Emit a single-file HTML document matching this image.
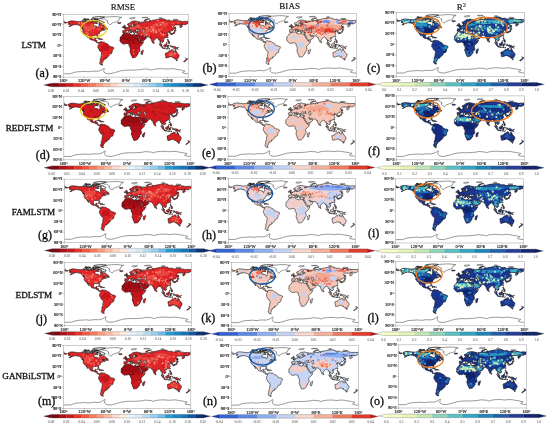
<!DOCTYPE html><html><head><meta charset="utf-8"><title>Figure</title><style>html,body{margin:0;padding:0;background:#fff;width:550px;height:428px;overflow:hidden}svg{position:absolute;left:0;top:0;display:block}text{font-family:"Liberation Serif","Times New Roman",serif;fill:#111}.ax{font-size:4.4px;fill:#111;stroke:#111;stroke-width:0.13px}.cb{font-size:3.5px;fill:#444}.tt{font-size:9.05px;stroke:#111;stroke-width:0.15px}.rl{font-size:9.1px;stroke:#111;stroke-width:0.32px}.pl{font-size:12.0px;stroke:#111;stroke-width:0.32px}</style></head><body>
<svg width="550" height="428" viewBox="0 0 550 428">
<defs><clipPath id="land"><path d="M24 49l3-6 7-3 13-3 9 1 10 1 12 2 10 1 8-1 8-1 8 1 8 1 10 1 10 1 8-1 10 1 6-1 4-2 3-4 4 2 5 3 4 1 5-2 6 0 2 4-7 1-3 2-2 3-6 2-7 5 0 4 3 4 9 1 6 2 5 1 1 5 3 2 3-1 1-5 3-4-1-4 0-4-1-4 9 0 6 3 2 4 4 1 3-2 3-2 5 6 3 4 6 3 4 4-3 1-6 3-8 0-5 0-5 3-4 3 5-3 5-1 3 0-1 2 1 4 5 0 4 0-3 2-4 1-4 2-1-2 3-2-3 1-2 0-4 2-2 1-1 2 1 1-3 1-3 1-2 1 0 1-2 2-1 1-1 3 1 3-2 2-3 1-2 2-4 2-1 3 2 4 1 4-1 3-1-1-2-2-1-3 0-2-3-2-3 1-2-2-4 0-2 1 1 2-3 0-3-1-4 0-2 1-4 2-1 4 0 4-1 3 1 3 2 3 3 2 1 1 4-1 3-1 1-2 0-2 4-1 3 0-1 4-2 2 1 4-2 1 6 0 3 0 2 2 0 5 0 3 2 3 2 1 3-1 2 0 3 2 0 1-1 2-3-3-2 2-3-1-3-1-4-3-1-2-3-4-3 0-5-2-2-1-3-3-2 0-3 1-4-2-5-1-5-3-4-4 0-2-1-3-4-4-3-3-3-3-2-2-2-4-3-1 1 3 2 3 2 4 3 5 1 2-1-1-3-3-1-3-4-3 0-1-2-3-2-4-1-1-3-3-2-1-2 0-3-4-1-3-2-2-2-3 1-3 0-4 0-4-1-5 3 1 1 2-1-4-4-2-5-2-1-3-4-4-3-2-4-4-4-3-5 0-5-2-7 0-5-2-6 2-5 2 2-4-6 5-5 2-4 3-6 2-6 1 5-2 6-3 3-3-5 0-5-3-5-1-1-2 1-3 8-3-4 0-6 0-4-2zM205 163l3-2 1-2 3-1 4-2 1 2 1-1 5 1 1 1 8 0 5 1 3 3 4 3 6 2 5 2 2 2 3 4 1 4 2 2 4 0 4 3 5 1 5 0 4 3 5 2 0 4-1 4-3 3-3 4-1 5-1 5-1 5-2 3-2 2-5 1-4 1-3 3-1 6-3 3-3 4-3 3-4 3-3 0-4-2 3 5-1 3-5 2-4 0-1 3-5 1 2 2-1 2-1 3-4 3-1 1 3 3-3 2-2 3-1 2 1 2 0 3 4 2-4 1-5-1-4-2-3-4-2-4 1-4-1-3 3-2 1-4 0-3-1-4 1-6 2-3 2-5 0-6 1-5 1-5 1-7-1-6-4-3-5-3-3-4-1-4-3-5-2-3-3-4 1-4 0-3 1-3 0-3 2-2 2-3 1-3 0-3-1-2 1-2zM348 108l-2 4-5 3-1 5-3 4-3 2-4 4-3 5-1 3 1 3 0 6-2 4 1 2 1 3 3 2 2 2 2 3 3 3 4 3 4 2 5-1 4 0 4 0 4-2 4-1 3 0 2 3 1 1 2 0 3 0 2 2 1 3-1 2 0 3 1 4 3 4 2 3 1 6 1 5-2 4-1 6 0 2 3 7 2 4 1 7 1 1 2 3 2 4 1 4 1 3 3 2 5-2 6 0 3-1 3-3 4-3 2-3 2-4 1-3 4-2 1-2 0-3-1-4 3-2 3-3 4-3 1-4 0-6-2-5 0-3-1-5 2-3 3-3 3-3 3-3 4-3 3-4 3-6 3-5 0-3-4 1-3 1-5 1-3-2 0-1-2-2-2-2-3-3-2-2-1-4-3-5 0-3-3-1-1-4-2-3-2-4-1-3 0-3-3 0-2 0-4 1-6-2-4-1-4-1-2 2 0 2-2 1-4-1-3-1-1-2-4-1-4 0-2-2 2-2 0-3-2-1-4 0-4 0-6 0-4 1-4 2-3 1-3 0-3-2-1 0zM349 108l-2-2-2 0-3 0 0-3-1-2 2-4-2-3 3-1 8 0 5 0 1-5-3-2-4-3 6 0 0-2 3 0 3-3 3-1 3-2 1-2 7 0 0-4-1-3 5-1 0 3 1 3 2 1 4 0 9-1 5-1 0-4 6 0-1-4 9-1 4-1-3-1-12 1-2-3 0-3 7-4-6-2-1 3-5 2-3 4 3 3-5 5-1 3-6 1-1-2-3-5-1-1-5 3-5-2-1-4 0-3 10-3 5-4 5-5 6-2 10-2 10-1 6 2 4 1 16 3-2 4-10 3 5 1 5-1 8-3 0-5 4 2 14-2 10 0 4-3 12 2 5 1-3-5 4-4 7 1-1 3 1 5 5-8 6 0 4-2 12-1 2-2 18-2 8-2 9-1 5 1 12 2 1 5 13 1 12-1 8 5 10-1 10-2 12 0 8 2 10 1 8 1 4 2 10 0 8-1 12 1 8 1 0 8-3 1-3 4-6 2-8 3-8-1-5 1-3 4 2 4-2 3-4 3-4 2-3 2-2-8 1-5 4-2 4-4 6-3-6 1-10 4-8 0-8 0-8 0-6 4-6 7 5 0 3 2-1 6 0 3-5 4-5 6-7 1-3 1-1 1-2 3-3 1 0 2 3 2 1 4-1 2-5 1 0-3 0-3-2 0-1-2 1-2-2-1-4 1-2 1-1-1 3-2-3-1-3 2-3 2-1 1 3 2 1 1 2-2 4 1-4 3-2 2 3 5 2 3 0 4-3 3-2 4-5 4-6 2-6 2-2 2-2-2-5 2-1 3 1 4 5 3 1 7-5 3-4 4 0-3-2-1-3-3-3-2-2-1-2 7 2 3 1 3 2 0 4 4 0 5 1 2-1 0-4-3-2-5-4-5 0-5 0-6-2-6-3 0-3 1 0-6-3-2-2-3-3-2-4 2-3 1-4 3-5 6-5 6 0 6-5 5-3-4-2-6-4-8 0-4-1-5-5 1-2-3-1-2-2-1-2-3-5 0-5 1-8-2-2-2-5 0-5-2-3-4-4 0 1 3 3 4 3 1 0 4 5 0 4-4 1 3 4 2 3 2-3 4-3 3-4 4-6 3-6 2-8 3-3 1-1-4-1-4-3-6-4-4-1-5-3-4-4-4 0-3-1 3-4-4 0-2 4-1 1-3 2-4 0-2-3-2-4 2-4-1-5 0-1-2-2-2-1-2 0-2-4-1-3 1 1 3 2 2-2 3-3-1-1-3-2-2-1-5-2-1-5-2-3-3-2-1-2 0 0 3 3 3 4 2 5 3-3 2-1 2-2 0 1-4-4-2-4-1-3-3-3-3-4 2-5 0-3 1 0 2-4 2-3 3 1 2-2 2-2 2-5 0-2 1zM0 42l6 1 6 3 6 1 3 1-3 1-4 2-6-1-5-1-3 1zM312 49l4-2 8 1 6-1 3 3-2 1-5 1-4 1-7-1 1-1zM241 85l2-3 2-3 4-2-1 3 5 1 2 4-3 2-4-1-3-1zM113 83l-4-1-6-3 3-1 5 3zM190 136l6-2 4 0 5 2 7 4-7 0-3-3-4-1-6 0zM211 143l3-3 8 1 1 2-5 1-7 0zM203 143l5 1-2 1zM225 143l4 0-1 1-2 0zM349 80l5-1 9-1 0-3-3-2-3-2 0-2-1-4-3-2-3 0-2 4 1 2 5 1-1 2 1 1-3 0 1 3-2 1 4 0zM348 76l0-4 1-1-4-2-2 2-3 1 1 2-2 2 5 1zM385 104l2 0 4-1-1 4-1-1zM377 102l-1-4 2 0 2 1-1 3zM377 97l0-2 2-1 0 2zM407 109l6 0-1 1-4 0zM425 110l1-1 3 0-1 1-2 1zM644 87l-1-4 1-6 1-5 2 1-1 5 3 4-3 3-1 2zM640 97l0-4 3-4 3 2 5 2-4 3-5-1zM622 112l3-3 6 0 3-4 5-2 1-3 1-3 2 2 1 3-2 2 0 4-2 2-2 1-4 0-4 2-6-1zM619 113l3-1 2 3-2 3-2-1-1-3zM625 112l4 0 0 1-3 1zM600 134l3-4 1 1-2 5-2-1zM577 142l4-2 1 1-3 3zM520 164l1-4 3 5-1 3-3 0zM600 143l4 0 0 5 4 5-5-1-2-1-1-3zM604 165l4-2 5-2-1 6-1 2-3-2-4-1zM604 156l7-1 0 5-4 1-2-1-1-3zM594 163l5-6 0 2-4 5zM551 169l4 1 6 6 6 3 2 5 3 2 0 6-3 0-4-4-3-4-4-4-1-4-4-4zM571 194l1-2 5 1 5 0 3 1 4 2 0 1-7-1-6 0-5-2zM578 177l1 5 1 4 3 0 6 2 4-1 0-3 2-6 3 0-2-2 2-7-2-1-2-2-3 4-3 1-2 3-3 1-4 1zM599 191l2 0 0-5 2 3 3 1 0-2-3-4 3-2 1 0-5 1-1-2 0-2 1-1 8-1 0 1-3 1-6 1-1 0-2 5zM622 182l3-1 3 1 3 5 5-4 6 2 7 3 3 3 3 1 1 4 4 4 2 1-6-1-3-2-5-3-1 3-5 0-4-2-2 1-1-5-5-3-3-1-1 0-2-2 3-1-4-2zM657 191l4-1 3-2-1 3-3 1zM615 176l2 2-1 4-1-3zM616 186l6 1-2-1zM608 201l2-3 5-1-2 1-4 2zM592 197l6 0 7-1 1 1-8 1-6 0zM587 224l1 9 2 7 0 7 2 3 4 0 7-2 5-2 4-1 6-2 4 0 6 2 3 5 4-4 0 5 2 0 2 2 2 3 6 2 6 0 3-2 4-1 1-4 2-4 3-5 1-5-1-6-4-4-3-2-5-7-3-6 0-2-4-2-1-6-1-1-2 5 0 6-2 3-3-1-4-2-3-2 2-5 1-1-3 0-5-1-2-1-2 2-2 2-1 4-3 0-3-2-3 2-3 3-3 3-1 3-5 2-5 0-4 3zM649 261l8 1-1 4-2 1-3-2-2-3zM705 249l4 4 3 2 5 0-3 4-1 2-3 2-1-3-1-2 1-2-3-6zM705 261l3 2-1 3-5 3-4 4-5-1 3-4 7-4zM459 204l2 5 0 2-2 4-2 7-2 8-5 1-2-4-1-4 2-5-1-5 4-2 2-2 2-2zM464 37l4-4 5-3 7-2 8-2 9 0-5 2-10 3-6 3-3 3 2 2-5 0zM186 50l8 0 3 3-9 0z"/></clipPath></defs>
<clipPath id="fp00"><rect x="63.4" y="14.3" width="124.9" height="62.8"/></clipPath>
<g clip-path="url(#fp00)"><g transform="translate(63.4 14.30) scale(0.173472 0.174444)">
<rect width="720" height="360" fill="#e02528" clip-path="url(#land)"/>
<g clip-path="url(#land)">
<path d="M376 204l0-34 24 2 44-2 4 34z" fill="#c0141c"/>
<path d="M380 252l0-48 68 0 0 48z" fill="#cc1a20"/>
<path d="M324 164l0-16 36 4 30 2 30-2 16-4 12 8-4 14-44 2-40-4z" fill="#b0101a"/>
<path d="M326 148l0-22 16-10 18-6 20 2 20 6 24 0 6 18 6 12-16 4-30 2-30-2z" fill="#9c0c14"/>
<path d="M428 120l28-2 18 10 6 8-16 14-18 6-10-16z" fill="#a80e16"/>
<path d="M271 192l-6-12-12-9-17-5-9 15-16 1 6 10-13 13 17 5 15-3 18 7 7-12z" fill="#c8141e"/>
<path d="M541 84l-20-8-12-8-29 6-19 0-13 4-6 6 6 6 4 10 28 5 17-12 36 1z" fill="#e84440"/>
<path d="M450 70l-13-5-6-4-11-4-19-3 2 11-5 5-1 6 4 9 19 0 19 0 7-8z" fill="#e84440"/>
<path d="M603 60l3-7-19-6-27-4-26 4-6 8-13 5-12 9 35 2 22-1 30 5 5-9z" fill="#e84440"/>
<path d="M188 80l-6-10-17-8-25 5-15 3-12 4-8 6 4 7 17 3 14 11 16-10 14-4z" fill="#e84440"/>
<path d="M649 230l3-9-17 0-9-7-13 3-3 8-5 5-5 9 17 0 9 8 13-4 3-8z" fill="#e84440"/>
<path d="M579 101h0M653 67h0M567 109h0M567 82h0M591 138h0M470 104h0M491 74h0M448 117h0M465 110h0" stroke="#f8a090" stroke-width="6.0" stroke-linecap="round"/>
<path d="M482 78h0M603 24h0M685 20h0M710 68h0M402 80h0M496 85h0M535 97h0M374 100h0M406 64h0M471 106h0M519 105h0M633 53h0M562 107h0M533 28h0M452 116h0M350 43h0M390 58h0M483 116h0M483 100h0M565 103h0M480 80h0M519 74h0M477 118h0M432 64h0M548 88h0" stroke="#f47a6a" stroke-width="9.0" stroke-linecap="round"/>
<path d="M490 99h0M350 48h0M493 124h0M608 105h0M495 112h0M605 115h0M533 95h0M622 44h0M642 76h0M382 57h0M382 59h0M452 121h0M580 99h0M594 135h0M361 81h0M585 118h0M411 50h0M515 98h0M484 102h0M343 64h0M454 107h0M480 95h0M524 74h0M466 92h0M565 135h0" stroke="#ee5448" stroke-width="9.0" stroke-linecap="round"/>
<path d="M594 119h0M554 89h0M490 98h0M519 102h0M413 80h0M476 77h0M651 90h0M443 37h0M568 123h0M587 86h0M512 79h0M681 85h0M381 57h0" stroke="#f47a6a" stroke-width="6.0" stroke-linecap="round"/>
<path d="M611 23h0M571 110h0M563 110h0M535 103h0M573 111h0M603 109h0M681 28h0M516 86h0M505 99h0M537 60h0M498 126h0M379 107h0" stroke="#f47a6a" stroke-width="12.0" stroke-linecap="round"/>
<path d="M519 93h0M428 43h0M536 100h0M415 108h0M632 70h0M646 24h0M576 117h0M601 101h0M573 48h0M544 33h0" stroke="#f8a090" stroke-width="12.0" stroke-linecap="round"/>
<path d="M536 105h0M562 58h0M389 78h0M481 114h0M508 74h0M557 98h0M581 24h0M466 122h0" stroke="#f8a090" stroke-width="9.0" stroke-linecap="round"/>
<path d="M456 81h0M468 106h0M570 139h0M378 37h0M709 85h0M572 98h0M402 58h0M523 83h0M431 88h0M501 69h0M541 20h0M514 72h0M450 98h0M457 113h0M523 59h0M552 98h0M434 105h0M570 95h0M461 118h0M402 98h0M538 100h0M571 118h0" stroke="#ee5448" stroke-width="6.0" stroke-linecap="round"/>
<path d="M662 47h0M595 53h0M423 71h0M563 89h0M483 86h0M514 74h0" stroke="#ee5448" stroke-width="12.0" stroke-linecap="round"/>
<path d="M571 54h0M680 66h0M512 165h0M539 156h0M689 71h0M381 88h0M413 71h0" stroke="#c8141e" stroke-width="6.0" stroke-linecap="round"/>
<path d="M582 105h0M504 136h0M496 78h0M459 81h0M583 110h0M540 166h0M470 86h0M437 37h0M491 164h0M566 135h0M533 147h0M496 164h0M483 62h0" stroke="#bc1219" stroke-width="9.0" stroke-linecap="round"/>
<path d="M571 103h0M416 95h0M597 123h0M571 106h0" stroke="#bc1219" stroke-width="12.0" stroke-linecap="round"/>
<path d="M542 141h0M712 60h0M504 127h0M535 162h0" stroke="#c8141e" stroke-width="12.0" stroke-linecap="round"/>
<path d="M657 69h0M616 62h0M456 63h0M537 166h0M536 128h0M602 116h0M405 62h0M345 76h0M435 92h0" stroke="#bc1219" stroke-width="6.0" stroke-linecap="round"/>
<path d="M594 125h0M563 98h0M514 135h0M498 158h0M425 83h0M501 124h0" stroke="#c8141e" stroke-width="9.0" stroke-linecap="round"/>
<path d="M233 71h0M155 79h0M114 82h0M135 103h0M211 84h0M110 52h0M117 90h0M204 87h0M113 73h0M146 113h0M245 84h0M108 86h0M172 111h0M115 119h0M209 92h0M175 96h0M169 84h0" stroke="#f47a6a" stroke-width="6.0" stroke-linecap="round"/>
<path d="M224 97h0M150 42h0M220 69h0M123 69h0M147 92h0M108 86h0M238 86h0M103 37h0M166 61h0M104 54h0M118 37h0M105 47h0M210 104h0M204 119h0M219 44h0M209 73h0M130 103h0M212 121h0M133 86h0M135 113h0M136 115h0M112 84h0" stroke="#f47a6a" stroke-width="9.0" stroke-linecap="round"/>
<path d="M131 72h0M205 68h0M216 125h0M104 85h0M243 82h0M124 60h0M159 101h0M159 62h0M94 64h0M219 78h0" stroke="#ee5448" stroke-width="9.0" stroke-linecap="round"/>
<path d="M129 89h0M174 42h0M205 114h0M114 31h0M237 75h0M178 123h0M142 103h0" stroke="#ee5448" stroke-width="6.0" stroke-linecap="round"/>
<path d="M179 72h0M250 73h0M87 65h0M91 49h0M140 114h0M84 70h0" stroke="#f47a6a" stroke-width="12.0" stroke-linecap="round"/>
<path d="M198 84h0M131 77h0M170 80h0" stroke="#ee5448" stroke-width="12.0" stroke-linecap="round"/>
<path d="M404 206h0M419 244h0M223 237h0M436 206h0M619 234h0M642 224h0M623 230h0M214 288h0M630 209h0M287 215h0M664 229h0" stroke="#f47a6a" stroke-width="9.0" stroke-linecap="round"/>
<path d="M389 240h0M286 187h0M266 230h0M667 202h0M633 261h0M631 256h0M218 249h0" stroke="#ee5448" stroke-width="6.0" stroke-linecap="round"/>
<path d="M404 249h0M612 222h0M217 280h0M405 224h0M618 246h0" stroke="#ee5448" stroke-width="9.0" stroke-linecap="round"/>
<path d="M240 275h0M282 222h0M405 228h0M590 227h0M240 291h0M214 286h0M616 231h0" stroke="#f47a6a" stroke-width="6.0" stroke-linecap="round"/>
<path d="M641 226h0" stroke="#f47a6a" stroke-width="12.0" stroke-linecap="round"/>
<path d="M439 216h0" stroke="#ee5448" stroke-width="12.0" stroke-linecap="round"/>
<path d="M394 153h0M419 169h0" stroke="#a50f15" stroke-width="6.0" stroke-linecap="round"/>
<path d="M375 153h0M372 142h0M428 168h0M333 146h0M407 122h0M408 159h0M401 128h0" stroke="#a50f15" stroke-width="9.0" stroke-linecap="round"/>
<path d="M380 156h0M431 148h0M336 114h0" stroke="#7c0810" stroke-width="9.0" stroke-linecap="round"/>
<path d="M421 127h0M385 117h0" stroke="#a50f15" stroke-width="12.0" stroke-linecap="round"/>
<path d="M401 162h0M447 162h0M364 143h0" stroke="#7c0810" stroke-width="12.0" stroke-linecap="round"/>
<path d="M336 116h0M354 142h0M431 156h0" stroke="#7c0810" stroke-width="6.0" stroke-linecap="round"/>
</g>
<path d="M214 24l6-3 8-3 12-2 16-1 14-1 14-1 20 0 12 2 8 1 12 1-6 3-8 2 1 3-3 3 2 3-6 4 0 4-5 2-5 2-8 1-8 4-7 1-4 2-3 4-2 4-3 1-5-2-4-2-3-3-2-3-4-3-1-3 5-2-3-3 2-1-5-1-2-3-3-3-4-3-8 0-8 0-4-2-5-1zM382 23l3-2 7-1 8-1 14 1-8 3-6 2-7 2-6-3zM454 19l10-2 16 0 8 1-12 2-16 0zM550 22l4-3 6-1 9 3-5 2-8 1zM632 29l6-1 4 0 10 1 9 1-9 1-10 2-6-1zM717 38l3-1 0 1zM0 37l5 1-5 0z" fill="#fff" stroke="#333" stroke-width="0.5" vector-effect="non-scaling-stroke"/>
<path d="M200 32l8 3 10 3 7 3 2 2 9 3-3 4-4 5-5 0-7-2-6-2-6 0-2-2 9-4-10-4-6-1-8 0-6-2-1-4 7-1 6 0zM123 37l7-4 14 0 7 1 7 5-8 3-10 1-8-1-7-1-3-3zM109 36l3-4 9 0 8 1-7 4-9 1zM201 27l9-2 3-2 7-1 10-3 7-3-17-2-20 0-20 2-10 2-4 3 8 2 8 2 8 2zM176 29l8-2 16 1-1 2-9 1-14-1zM170 33l9-1-2 4-7 0zM158 33l8 0 0 3-9 0zM128 30l8-3 12 1 0 2-8 1-14 0zM160 27l8 0 2 3-10 0zM162 42l6-1 0 2-6 0zM116 27l12-2-2 3z" fill="#fff" stroke="#1a1a1a" stroke-width="0.8" vector-effect="non-scaling-stroke"/>
<path d="M416 97l0-4 3-3 3-3 3 1 2 3 4-1 2-1 4-3 2 0-3 2-1 2 4 3 4 4-3 1-7-1-3-1-4 0-4 2-4 0zM454 92l1-3 4-2 4-1 3 0 0 3-3 2 0 3 2 2 1 3 2 2 0 4-6 2-4-2 1-6-2-3-2-2z" fill="#fff" stroke="#1a1a1a" stroke-width="0.6" vector-effect="non-scaling-stroke"/>
<path d="M24 49l3-6 7-3 13-3 9 1 10 1 12 2 10 1 8-1 8-1 8 1 8 1 10 1 10 1 8-1 10 1 6-1 4-2 3-4 4 2 5 3 4 1 5-2 6 0 2 4-7 1-3 2-2 3-6 2-7 5 0 4 3 4 9 1 6 2 5 1 1 5 3 2 3-1 1-5 3-4-1-4 0-4-1-4 9 0 6 3 2 4 4 1 3-2 3-2 5 6 3 4 6 3 4 4-3 1-6 3-8 0-5 0-5 3-4 3 5-3 5-1 3 0-1 2 1 4 5 0 4 0-3 2-4 1-4 2-1-2 3-2-3 1-2 0-4 2-2 1-1 2 1 1-3 1-3 1-2 1 0 1-2 2-1 1-1 3 1 3-2 2-3 1-2 2-4 2-1 3 2 4 1 4-1 3-1-1-2-2-1-3 0-2-3-2-3 1-2-2-4 0-2 1 1 2-3 0-3-1-4 0-2 1-4 2-1 4 0 4-1 3 1 3 2 3 3 2 1 1 4-1 3-1 1-2 0-2 4-1 3 0-1 4-2 2 1 4-2 1 6 0 3 0 2 2 0 5 0 3 2 3 2 1 3-1 2 0 3 2 0 1-1 2-3-3-2 2-3-1-3-1-4-3-1-2-3-4-3 0-5-2-2-1-3-3-2 0-3 1-4-2-5-1-5-3-4-4 0-2-1-3-4-4-3-3-3-3-2-2-2-4-3-1 1 3 2 3 2 4 3 5 1 2-1-1-3-3-1-3-4-3 0-1-2-3-2-4-1-1-3-3-2-1-2 0-3-4-1-3-2-2-2-3 1-3 0-4 0-4-1-5 3 1 1 2-1-4-4-2-5-2-1-3-4-4-3-2-4-4-4-3-5 0-5-2-7 0-5-2-6 2-5 2 2-4-6 5-5 2-4 3-6 2-6 1 5-2 6-3 3-3-5 0-5-3-5-1-1-2 1-3 8-3-4 0-6 0-4-2zM205 163l3-2 1-2 3-1 4-2 1 2 1-1 5 1 1 1 8 0 5 1 3 3 4 3 6 2 5 2 2 2 3 4 1 4 2 2 4 0 4 3 5 1 5 0 4 3 5 2 0 4-1 4-3 3-3 4-1 5-1 5-1 5-2 3-2 2-5 1-4 1-3 3-1 6-3 3-3 4-3 3-4 3-3 0-4-2 3 5-1 3-5 2-4 0-1 3-5 1 2 2-1 2-1 3-4 3-1 1 3 3-3 2-2 3-1 2 1 2 0 3 4 2-4 1-5-1-4-2-3-4-2-4 1-4-1-3 3-2 1-4 0-3-1-4 1-6 2-3 2-5 0-6 1-5 1-5 1-7-1-6-4-3-5-3-3-4-1-4-3-5-2-3-3-4 1-4 0-3 1-3 0-3 2-2 2-3 1-3 0-3-1-2 1-2zM348 108l-2 4-5 3-1 5-3 4-3 2-4 4-3 5-1 3 1 3 0 6-2 4 1 2 1 3 3 2 2 2 2 3 3 3 4 3 4 2 5-1 4 0 4 0 4-2 4-1 3 0 2 3 1 1 2 0 3 0 2 2 1 3-1 2 0 3 1 4 3 4 2 3 1 6 1 5-2 4-1 6 0 2 3 7 2 4 1 7 1 1 2 3 2 4 1 4 1 3 3 2 5-2 6 0 3-1 3-3 4-3 2-3 2-4 1-3 4-2 1-2 0-3-1-4 3-2 3-3 4-3 1-4 0-6-2-5 0-3-1-5 2-3 3-3 3-3 3-3 4-3 3-4 3-6 3-5 0-3-4 1-3 1-5 1-3-2 0-1-2-2-2-2-3-3-2-2-1-4-3-5 0-3-3-1-1-4-2-3-2-4-1-3 0-3-3 0-2 0-4 1-6-2-4-1-4-1-2 2 0 2-2 1-4-1-3-1-1-2-4-1-4 0-2-2 2-2 0-3-2-1-4 0-4 0-6 0-4 1-4 2-3 1-3 0-3-2-1 0zM349 108l-2-2-2 0-3 0 0-3-1-2 2-4-2-3 3-1 8 0 5 0 1-5-3-2-4-3 6 0 0-2 3 0 3-3 3-1 3-2 1-2 7 0 0-4-1-3 5-1 0 3 1 3 2 1 4 0 9-1 5-1 0-4 6 0-1-4 9-1 4-1-3-1-12 1-2-3 0-3 7-4-6-2-1 3-5 2-3 4 3 3-5 5-1 3-6 1-1-2-3-5-1-1-5 3-5-2-1-4 0-3 10-3 5-4 5-5 6-2 10-2 10-1 6 2 4 1 16 3-2 4-10 3 5 1 5-1 8-3 0-5 4 2 14-2 10 0 4-3 12 2 5 1-3-5 4-4 7 1-1 3 1 5 5-8 6 0 4-2 12-1 2-2 18-2 8-2 9-1 5 1 12 2 1 5 13 1 12-1 8 5 10-1 10-2 12 0 8 2 10 1 8 1 4 2 10 0 8-1 12 1 8 1 0 8-3 1-3 4-6 2-8 3-8-1-5 1-3 4 2 4-2 3-4 3-4 2-3 2-2-8 1-5 4-2 4-4 6-3-6 1-10 4-8 0-8 0-8 0-6 4-6 7 5 0 3 2-1 6 0 3-5 4-5 6-7 1-3 1-1 1-2 3-3 1 0 2 3 2 1 4-1 2-5 1 0-3 0-3-2 0-1-2 1-2-2-1-4 1-2 1-1-1 3-2-3-1-3 2-3 2-1 1 3 2 1 1 2-2 4 1-4 3-2 2 3 5 2 3 0 4-3 3-2 4-5 4-6 2-6 2-2 2-2-2-5 2-1 3 1 4 5 3 1 7-5 3-4 4 0-3-2-1-3-3-3-2-2-1-2 7 2 3 1 3 2 0 4 4 0 5 1 2-1 0-4-3-2-5-4-5 0-5 0-6-2-6-3 0-3 1 0-6-3-2-2-3-3-2-4 2-3 1-4 3-5 6-5 6 0 6-5 5-3-4-2-6-4-8 0-4-1-5-5 1-2-3-1-2-2-1-2-3-5 0-5 1-8-2-2-2-5 0-5-2-3-4-4 0 1 3 3 4 3 1 0 4 5 0 4-4 1 3 4 2 3 2-3 4-3 3-4 4-6 3-6 2-8 3-3 1-1-4-1-4-3-6-4-4-1-5-3-4-4-4 0-3-1 3-4-4 0-2 4-1 1-3 2-4 0-2-3-2-4 2-4-1-5 0-1-2-2-2-1-2 0-2-4-1-3 1 1 3 2 2-2 3-3-1-1-3-2-2-1-5-2-1-5-2-3-3-2-1-2 0 0 3 3 3 4 2 5 3-3 2-1 2-2 0 1-4-4-2-4-1-3-3-3-3-4 2-5 0-3 1 0 2-4 2-3 3 1 2-2 2-2 2-5 0-2 1zM0 42l6 1 6 3 6 1 3 1-3 1-4 2-6-1-5-1-3 1zM312 49l4-2 8 1 6-1 3 3-2 1-5 1-4 1-7-1 1-1zM241 85l2-3 2-3 4-2-1 3 5 1 2 4-3 2-4-1-3-1zM113 83l-4-1-6-3 3-1 5 3zM190 136l6-2 4 0 5 2 7 4-7 0-3-3-4-1-6 0zM211 143l3-3 8 1 1 2-5 1-7 0zM203 143l5 1-2 1zM225 143l4 0-1 1-2 0zM349 80l5-1 9-1 0-3-3-2-3-2 0-2-1-4-3-2-3 0-2 4 1 2 5 1-1 2 1 1-3 0 1 3-2 1 4 0zM348 76l0-4 1-1-4-2-2 2-3 1 1 2-2 2 5 1zM385 104l2 0 4-1-1 4-1-1zM377 102l-1-4 2 0 2 1-1 3zM377 97l0-2 2-1 0 2zM407 109l6 0-1 1-4 0zM425 110l1-1 3 0-1 1-2 1zM644 87l-1-4 1-6 1-5 2 1-1 5 3 4-3 3-1 2zM640 97l0-4 3-4 3 2 5 2-4 3-5-1zM622 112l3-3 6 0 3-4 5-2 1-3 1-3 2 2 1 3-2 2 0 4-2 2-2 1-4 0-4 2-6-1zM619 113l3-1 2 3-2 3-2-1-1-3zM625 112l4 0 0 1-3 1zM600 134l3-4 1 1-2 5-2-1zM577 142l4-2 1 1-3 3zM520 164l1-4 3 5-1 3-3 0zM600 143l4 0 0 5 4 5-5-1-2-1-1-3zM604 165l4-2 5-2-1 6-1 2-3-2-4-1zM604 156l7-1 0 5-4 1-2-1-1-3zM594 163l5-6 0 2-4 5zM551 169l4 1 6 6 6 3 2 5 3 2 0 6-3 0-4-4-3-4-4-4-1-4-4-4zM571 194l1-2 5 1 5 0 3 1 4 2 0 1-7-1-6 0-5-2zM578 177l1 5 1 4 3 0 6 2 4-1 0-3 2-6 3 0-2-2 2-7-2-1-2-2-3 4-3 1-2 3-3 1-4 1zM599 191l2 0 0-5 2 3 3 1 0-2-3-4 3-2 1 0-5 1-1-2 0-2 1-1 8-1 0 1-3 1-6 1-1 0-2 5zM622 182l3-1 3 1 3 5 5-4 6 2 7 3 3 3 3 1 1 4 4 4 2 1-6-1-3-2-5-3-1 3-5 0-4-2-2 1-1-5-5-3-3-1-1 0-2-2 3-1-4-2zM657 191l4-1 3-2-1 3-3 1zM615 176l2 2-1 4-1-3zM616 186l6 1-2-1zM608 201l2-3 5-1-2 1-4 2zM592 197l6 0 7-1 1 1-8 1-6 0zM587 224l1 9 2 7 0 7 2 3 4 0 7-2 5-2 4-1 6-2 4 0 6 2 3 5 4-4 0 5 2 0 2 2 2 3 6 2 6 0 3-2 4-1 1-4 2-4 3-5 1-5-1-6-4-4-3-2-5-7-3-6 0-2-4-2-1-6-1-1-2 5 0 6-2 3-3-1-4-2-3-2 2-5 1-1-3 0-5-1-2-1-2 2-2 2-1 4-3 0-3-2-3 2-3 3-3 3-1 3-5 2-5 0-4 3zM649 261l8 1-1 4-2 1-3-2-2-3zM705 249l4 4 3 2 5 0-3 4-1 2-3 2-1-3-1-2 1-2-3-6zM705 261l3 2-1 3-5 3-4 4-5-1 3-4 7-4zM459 204l2 5 0 2-2 4-2 7-2 8-5 1-2-4-1-4 2-5-1-5 4-2 2-2 2-2zM464 37l4-4 5-3 7-2 8-2 9 0-5 2-10 3-6 3-3 3 2 2-5 0zM186 50l8 0 3 3-9 0z" fill="none" stroke="#1a1a1a" stroke-width="0.6" vector-effect="non-scaling-stroke"/>
<path d="M0 341l20 0 20 0 10-4 10-3 10-3 10-1 10-1 10 0 10-1 10-1 10 1 10 1 10 0 10-2 10-1 10 0 10 1 10-1 8-2 8-3 8-5 6-4 5-3 2 3-3 5-2 6 2 7 6 7 10 3 20 1 14-4 10-2 10-3 8-3 12-3 12-3 12-1 12-2 12 0 12 0 12 0 12 0 12-1 10-1 10 0 10-2 10-2 10-1 10 2 10 0 10 2 4 3 8-1 8-3 10-2 10-1 10-1 10 0 10 0 10 0 10 2 10 0 10-1 10-1 10 0 10 1 10 2 10 2 10 1 10 2 8 2 6 1 6 1-2 3-6 3-4 2-1 3 5 2 8 2 10 1 10 1" fill="none" stroke="#444" stroke-width="0.55" vector-effect="non-scaling-stroke"/>
</g></g>
<rect x="63.4" y="14.3" width="124.9" height="62.8" fill="none" stroke="#ababab" stroke-width="0.6"/>
<ellipse cx="93.55" cy="28.9" rx="12.80" ry="8.45" fill="none" stroke="#f2c91c" stroke-width="1.2"/>
<text x="61.5" y="15.5" class="ax" text-anchor="end">90°N</text>
<text x="61.5" y="26.0" class="ax" text-anchor="end">60°N</text>
<text x="61.5" y="36.4" class="ax" text-anchor="end">30°N</text>
<text x="61.5" y="46.9" class="ax" text-anchor="end">0°</text>
<text x="61.5" y="57.4" class="ax" text-anchor="end">30°S</text>
<text x="61.5" y="67.8" class="ax" text-anchor="end">60°S</text>
<text x="61.5" y="78.3" class="ax" text-anchor="end">90°S</text>
<path d="M62.1 14.30h1.3M62.1 24.77h1.3M62.1 35.23h1.3M62.1 45.70h1.3M62.1 56.17h1.3M62.1 66.63h1.3M62.1 77.10h1.3M63.40 77.1v1.2M84.22 77.1v1.2M105.03 77.1v1.2M125.85 77.1v1.2M146.67 77.1v1.2M167.48 77.1v1.2M188.30 77.1v1.2" stroke="#666" stroke-width="0.4" fill="none"/>
<text x="63.4" y="82.2" class="ax" text-anchor="middle">180°</text>
<text x="84.2" y="82.2" class="ax" text-anchor="middle">120°W</text>
<text x="105.0" y="82.2" class="ax" text-anchor="middle">60°W</text>
<text x="125.9" y="82.2" class="ax" text-anchor="middle">0°W</text>
<text x="146.7" y="82.2" class="ax" text-anchor="middle">60°E</text>
<text x="167.5" y="82.2" class="ax" text-anchor="middle">120°E</text>
<text x="188.3" y="82.2" class="ax" text-anchor="middle">180°</text>
<rect x="51.20" y="83.20" width="7.72" height="3.6" fill="#7e0610"/>
<rect x="58.67" y="83.20" width="7.72" height="3.6" fill="#ac1117"/>
<rect x="66.13" y="83.20" width="7.72" height="3.6" fill="#ca181d"/>
<rect x="73.59" y="83.20" width="7.72" height="3.6" fill="#e83429"/>
<rect x="81.06" y="83.20" width="7.72" height="3.6" fill="#f6583e"/>
<rect x="88.53" y="83.20" width="7.72" height="3.6" fill="#fb7a5a"/>
<rect x="95.99" y="83.20" width="7.72" height="3.6" fill="#fc9b7c"/>
<rect x="103.46" y="83.20" width="7.72" height="3.6" fill="#fcbba1"/>
<rect x="110.92" y="83.20" width="7.72" height="3.6" fill="#fed9c9"/>
<rect x="118.39" y="83.20" width="7.72" height="3.6" fill="#ffede5"/>
<rect x="125.85" y="83.20" width="7.72" height="3.6" fill="#eaf4fa"/>
<rect x="133.31" y="83.20" width="7.72" height="3.6" fill="#d8ecf6"/>
<rect x="140.78" y="83.20" width="7.72" height="3.6" fill="#b8def2"/>
<rect x="148.25" y="83.20" width="7.72" height="3.6" fill="#98d0ee"/>
<rect x="155.71" y="83.20" width="7.72" height="3.6" fill="#70bce6"/>
<rect x="163.18" y="83.20" width="7.72" height="3.6" fill="#249cd4"/>
<rect x="170.64" y="83.20" width="7.72" height="3.6" fill="#1a88c6"/>
<rect x="178.11" y="83.20" width="7.72" height="3.6" fill="#1476ba"/>
<rect x="185.57" y="83.20" width="7.72" height="3.6" fill="#0c58a2"/>
<rect x="193.04" y="83.20" width="7.72" height="3.6" fill="#083478"/>
<path d="M51.40 83.20L43.73 85.00L51.40 86.80Z" fill="#67000d"/>
<path d="M200.30 83.20L207.97 85.00L200.30 86.80Z" fill="#081d58"/>
<path d="M51.20 83.20H200.50L207.97 85.00L200.50 86.80H51.20L43.73 85.00Z" fill="none" stroke="#555" stroke-width="0.3"/>
<text x="51.2" y="91.90" class="cb" text-anchor="middle">0.00</text>
<text x="66.1" y="91.90" class="cb" text-anchor="middle">0.02</text>
<text x="81.1" y="91.90" class="cb" text-anchor="middle">0.04</text>
<text x="96.0" y="91.90" class="cb" text-anchor="middle">0.06</text>
<text x="110.9" y="91.90" class="cb" text-anchor="middle">0.08</text>
<text x="125.9" y="91.90" class="cb" text-anchor="middle">0.10</text>
<text x="140.8" y="91.90" class="cb" text-anchor="middle">0.12</text>
<text x="155.7" y="91.90" class="cb" text-anchor="middle">0.14</text>
<text x="170.6" y="91.90" class="cb" text-anchor="middle">0.16</text>
<text x="185.6" y="91.90" class="cb" text-anchor="middle">0.18</text>
<text x="200.5" y="91.90" class="cb" text-anchor="middle">0.20</text>
<clipPath id="fp10"><rect x="229.1" y="13.4" width="127.2" height="63.1"/></clipPath>
<g clip-path="url(#fp10)"><g transform="translate(229.1 13.40) scale(0.176667 0.175278)">
<rect width="720" height="360" fill="#f4cbbf" clip-path="url(#land)"/>
<g clip-path="url(#land)">
<path d="M204 96l-3-9-19-6-22 1-17 3-22 2 3 9 0 8 13 8 23-4 14-3 16-2z" fill="#c5d3f2"/>
<path d="M75 56l5-5-9-1-7 0-6 1-4 2-11 3 5 5 9 1 7 2 8-1 9-2z" fill="#c5d3f2"/>
<path d="M259 196l3-11-8-9-14 5-14-6-9 10-6 11 10 9 5 12 14-2 13-1 4-10z" fill="#c5d3f2"/>
<path d="M645 230l6-8-12-4-13-7-12 8-15 3 6 8-5 8 14 3 12 7 15-4 10-6z" fill="#c5d3f2"/>
<path d="M431 176l-12-7-7-4-8-4-10 1-2 8-8 6 7 6 4 7 9 5 13 0 2-11z" fill="#c5d3f2"/>
<path d="M381 136l2-5-6-3-7 0-8-1-9 3-3 6 4 6 9 2 7 3 8-2 4-5z" fill="#c5d3f2"/>
<path d="M280 210l-1-6-5-2-4-6-6 1-5 6 1 7 4 4 0 8 6 1 5-2 6-4z" fill="#c5d3f2"/>
<path d="M604 88l55-18-90-8-79 0-63 6-108 2 73 18-45 15 65 10 78-1 77 1 81-8z" fill="#f3a690"/>
<path d="M432 76l-11-7-11-7-20-3-16 6-8 5-21 6-1 11 20 7 26-2 26 2-3-13z" fill="#f3a690"/>
<path d="M495 88l2-11-14-8-19 3-12 5-13 3-4 8 4 8 11 5 14 7 11-10 17-1z" fill="#ee6c52"/>
<path d="M621 96l-20-9-19-5-22-3-16 7-27 1-7 9 11 8 11 10 28 0 19-6 24-3z" fill="#ee6c52"/>
<path d="M443 70l-2-5-11-3-10-2-13 1-10 3 7 6-4 5 7 5 13-3 10 0 8-3z" fill="#ee6c52"/>
<path d="M653 84l-1-4-2-6-10 0-9 0-2 6-6 4 0 6 8 3 9 3 5-6 9-1z" fill="#ee6c52"/>
<path d="M534 112l3-4-9-1-8-4-8 3-15 1 2 5 3 4 11 1 7 6 7-6 9-1z" fill="#ee6c52"/>
<path d="M227 56l-10-5-15-5-26-2-29 1-17 5 0 6 12 4 9 6 25 2 17-5 10-3z" fill="#ee6c52"/>
<path d="M115 52l4-4-9-3-10-1-13-1-2 6-1 3-6 5 12 2 10 4 11-3 3-5z" fill="#ee6c52"/>
<path d="M227 264l-1-9-3-5-3-3-2 6-4 1 1 10 0 7 3 3 2 8 3-6 3-3z" fill="#ee6c52"/>
<path d="M466 48l-9-4-17-1-10-2-16 0-18 2 6 5 8 3 1 6 19-4 12 1 16-2z" fill="#ee6c52"/>
<path d="M540 48l-7-3-6-3-7-2-8 2-5 3-8 3 7 3 3 6 11-1 8-2 6-2z" fill="#ee6c52"/>
<path d="M669 46l-8-2-2-3-9-2-8 2-7 2 1 3 1 2 3 4 10 1 11-1 0-4z" fill="#ee6c52"/>
<path d="M481 88l1-7-7-5-11 1-7 3-7 3-3 5 3 5 6 4 8 4 6-6 9-1z" fill="#e33626"/>
<path d="M589 98l-12-3-3-5-14-5-17 3-1 6-3 4-2 5 5 6 18-4 19 4 10-5z" fill="#e33626"/>
<path d="M186 52l-10-3-5-3-11 0-13-1-10 3 7 4-2 3 9 1 9 4 12-2 4-3z" fill="#e33626"/>
<path d="M212 60l2-4-6-3-8 1-6 1-1 3-7 2 7 2 1 3 6-1 7 2 5-3z" fill="#e33626"/>
<path d="M529 48l-2-2-1-3-6 1-6-1 0 3-5 2 5 2 0 4 6-2 5 0 3-2z" fill="#e33626"/>
<path d="M603 104l-3-3-3-2-5 0-6-2-2 4-4 3 1 4 5 3 6 1 5-2 3-3z" fill="#e33626"/>
<path d="M497 100l5-4-8 0-4-2-4 2-2 2-4 2 2 3 3 3 5 0 6 0 6-2z" fill="#e33626"/>
<path d="M418 58l-2-2-4-2-6-2-4 3-8 0-1 3 1 3 7 1 5 2 7-1 0-3z" fill="#5b88e6"/>
<path d="M565 46l2-4-4-5-13 3-11-2-6 4-6 4 0 5 16 0 7 4 11-2 0-4z" fill="#5b88e6"/>
<path d="M703 58l0-9-8-4-9 1-8 0-4 6-5 6 2 8 9 2 6 5 10 1 7-7z" fill="#5b88e6"/>
<path d="M645 54l1-4-9-2-11 0-7 2-5 2-4 2-2 3 9 2 9 2 10-1 6-3z" fill="#5b88e6"/>
<path d="M507 66l-1-1 0-3-6 1-6-1 0 3-1 1-1 2 3 2 5 0 4-1 4-1z" fill="#5b88e6"/>
<path d="M582 48l-8-5-12-2-12-6-13 5-10 3 3 5-9 6 16 2 13-1 12 1 12-3z" fill="#8fafef"/>
<path d="M562 46l1-3-2-4-11 3-9-2-4 3-5 3 0 4 12 0 6 3 9-1 0-4z" fill="#5b88e6"/>
<path d="M149 46h0M191 86h0M226 74h0M160 73h0M154 79h0M211 81h0M198 30h0M91 77h0M147 46h0" stroke="#ee6c52" stroke-width="9.0" stroke-linecap="round"/>
<path d="M120 32h0M158 72h0M142 32h0M108 73h0M169 64h0M177 36h0" stroke="#e33626" stroke-width="12.0" stroke-linecap="round"/>
<path d="M211 64h0M211 84h0M179 80h0" stroke="#ee6c52" stroke-width="12.0" stroke-linecap="round"/>
<path d="M88 90h0M179 61h0M133 56h0" stroke="#ee6c52" stroke-width="6.0" stroke-linecap="round"/>
<path d="M215 31h0M234 39h0M150 66h0" stroke="#e33626" stroke-width="9.0" stroke-linecap="round"/>
<path d="M131 74h0" stroke="#e33626" stroke-width="6.0" stroke-linecap="round"/>
<path d="M683 58h0M619 40h0" stroke="#5b88e6" stroke-width="12.0" stroke-linecap="round"/>
<path d="M492 40h0M710 66h0M658 47h0M643 54h0M715 66h0" stroke="#ee6c52" stroke-width="12.0" stroke-linecap="round"/>
<path d="M565 54h0M531 83h0M552 26h0M687 68h0" stroke="#e33626" stroke-width="9.0" stroke-linecap="round"/>
<path d="M673 57h0M683 53h0M591 53h0" stroke="#ee6c52" stroke-width="6.0" stroke-linecap="round"/>
<path d="M556 70h0M468 79h0M499 44h0M475 41h0M503 55h0" stroke="#e33626" stroke-width="12.0" stroke-linecap="round"/>
<path d="M500 23h0M509 56h0" stroke="#5b88e6" stroke-width="6.0" stroke-linecap="round"/>
<path d="M560 69h0M717 51h0M699 41h0M446 35h0M482 89h0" stroke="#8fafef" stroke-width="9.0" stroke-linecap="round"/>
<path d="M631 52h0M622 87h0M551 89h0M560 56h0" stroke="#ee6c52" stroke-width="9.0" stroke-linecap="round"/>
<path d="M516 21h0M692 31h0" stroke="#8fafef" stroke-width="12.0" stroke-linecap="round"/>
<path d="M608 45h0M451 21h0" stroke="#5b88e6" stroke-width="9.0" stroke-linecap="round"/>
<path d="M558 82h0" stroke="#8fafef" stroke-width="6.0" stroke-linecap="round"/>
<path d="M525 114h0M598 101h0M457 102h0M459 127h0M522 119h0M454 103h0M526 108h0M584 80h0M554 112h0" stroke="#c5d3f2" stroke-width="9.0" stroke-linecap="round"/>
<path d="M599 99h0M538 113h0M477 97h0M480 123h0" stroke="#c5d3f2" stroke-width="12.0" stroke-linecap="round"/>
<path d="M493 122h0" stroke="#e33626" stroke-width="6.0" stroke-linecap="round"/>
<path d="M531 118h0M480 105h0M466 107h0M550 88h0M520 103h0" stroke="#e33626" stroke-width="9.0" stroke-linecap="round"/>
<path d="M522 84h0M470 87h0M523 118h0" stroke="#ee6c52" stroke-width="12.0" stroke-linecap="round"/>
<path d="M587 84h0M450 109h0M507 94h0M536 109h0" stroke="#e33626" stroke-width="12.0" stroke-linecap="round"/>
<path d="M526 81h0M479 114h0M548 118h0M489 105h0M518 120h0M482 98h0" stroke="#ee6c52" stroke-width="9.0" stroke-linecap="round"/>
<path d="M486 97h0M593 113h0M588 81h0M478 106h0M531 109h0M523 114h0" stroke="#f3a690" stroke-width="12.0" stroke-linecap="round"/>
<path d="M563 108h0M448 129h0M461 116h0" stroke="#f3a690" stroke-width="9.0" stroke-linecap="round"/>
<path d="M501 82h0M561 110h0M456 107h0" stroke="#ee6c52" stroke-width="6.0" stroke-linecap="round"/>
<path d="M518 100h0" stroke="#f3a690" stroke-width="6.0" stroke-linecap="round"/>
<path d="M370 43h0M340 77h0" stroke="#ee6c52" stroke-width="12.0" stroke-linecap="round"/>
<path d="M409 45h0M347 47h0M379 89h0" stroke="#ee6c52" stroke-width="9.0" stroke-linecap="round"/>
<path d="M353 59h0M349 51h0M417 40h0" stroke="#f3a690" stroke-width="12.0" stroke-linecap="round"/>
<path d="M428 73h0M397 67h0" stroke="#8fafef" stroke-width="12.0" stroke-linecap="round"/>
<path d="M410 44h0" stroke="#8fafef" stroke-width="9.0" stroke-linecap="round"/>
<path d="M376 65h0M354 77h0" stroke="#f3a690" stroke-width="9.0" stroke-linecap="round"/>
<path d="M398 54h0" stroke="#8fafef" stroke-width="6.0" stroke-linecap="round"/>
<path d="M396 87h0" stroke="#f3a690" stroke-width="6.0" stroke-linecap="round"/>
</g>
<path d="M214 24l6-3 8-3 12-2 16-1 14-1 14-1 20 0 12 2 8 1 12 1-6 3-8 2 1 3-3 3 2 3-6 4 0 4-5 2-5 2-8 1-8 4-7 1-4 2-3 4-2 4-3 1-5-2-4-2-3-3-2-3-4-3-1-3 5-2-3-3 2-1-5-1-2-3-3-3-4-3-8 0-8 0-4-2-5-1zM382 23l3-2 7-1 8-1 14 1-8 3-6 2-7 2-6-3zM454 19l10-2 16 0 8 1-12 2-16 0zM550 22l4-3 6-1 9 3-5 2-8 1zM632 29l6-1 4 0 10 1 9 1-9 1-10 2-6-1zM717 38l3-1 0 1zM0 37l5 1-5 0z" fill="#fff" stroke="#333" stroke-width="0.5" vector-effect="non-scaling-stroke"/>
<path d="M200 32l8 3 10 3 7 3 2 2 9 3-3 4-4 5-5 0-7-2-6-2-6 0-2-2 9-4-10-4-6-1-8 0-6-2-1-4 7-1 6 0zM123 37l7-4 14 0 7 1 7 5-8 3-10 1-8-1-7-1-3-3zM109 36l3-4 9 0 8 1-7 4-9 1zM201 27l9-2 3-2 7-1 10-3 7-3-17-2-20 0-20 2-10 2-4 3 8 2 8 2 8 2zM176 29l8-2 16 1-1 2-9 1-14-1zM170 33l9-1-2 4-7 0zM158 33l8 0 0 3-9 0zM128 30l8-3 12 1 0 2-8 1-14 0zM160 27l8 0 2 3-10 0zM162 42l6-1 0 2-6 0zM116 27l12-2-2 3z" fill="#fff" stroke="#1a1a1a" stroke-width="0.8" vector-effect="non-scaling-stroke"/>
<path d="M416 97l0-4 3-3 3-3 3 1 2 3 4-1 2-1 4-3 2 0-3 2-1 2 4 3 4 4-3 1-7-1-3-1-4 0-4 2-4 0zM454 92l1-3 4-2 4-1 3 0 0 3-3 2 0 3 2 2 1 3 2 2 0 4-6 2-4-2 1-6-2-3-2-2z" fill="#fff" stroke="#1a1a1a" stroke-width="0.6" vector-effect="non-scaling-stroke"/>
<path d="M24 49l3-6 7-3 13-3 9 1 10 1 12 2 10 1 8-1 8-1 8 1 8 1 10 1 10 1 8-1 10 1 6-1 4-2 3-4 4 2 5 3 4 1 5-2 6 0 2 4-7 1-3 2-2 3-6 2-7 5 0 4 3 4 9 1 6 2 5 1 1 5 3 2 3-1 1-5 3-4-1-4 0-4-1-4 9 0 6 3 2 4 4 1 3-2 3-2 5 6 3 4 6 3 4 4-3 1-6 3-8 0-5 0-5 3-4 3 5-3 5-1 3 0-1 2 1 4 5 0 4 0-3 2-4 1-4 2-1-2 3-2-3 1-2 0-4 2-2 1-1 2 1 1-3 1-3 1-2 1 0 1-2 2-1 1-1 3 1 3-2 2-3 1-2 2-4 2-1 3 2 4 1 4-1 3-1-1-2-2-1-3 0-2-3-2-3 1-2-2-4 0-2 1 1 2-3 0-3-1-4 0-2 1-4 2-1 4 0 4-1 3 1 3 2 3 3 2 1 1 4-1 3-1 1-2 0-2 4-1 3 0-1 4-2 2 1 4-2 1 6 0 3 0 2 2 0 5 0 3 2 3 2 1 3-1 2 0 3 2 0 1-1 2-3-3-2 2-3-1-3-1-4-3-1-2-3-4-3 0-5-2-2-1-3-3-2 0-3 1-4-2-5-1-5-3-4-4 0-2-1-3-4-4-3-3-3-3-2-2-2-4-3-1 1 3 2 3 2 4 3 5 1 2-1-1-3-3-1-3-4-3 0-1-2-3-2-4-1-1-3-3-2-1-2 0-3-4-1-3-2-2-2-3 1-3 0-4 0-4-1-5 3 1 1 2-1-4-4-2-5-2-1-3-4-4-3-2-4-4-4-3-5 0-5-2-7 0-5-2-6 2-5 2 2-4-6 5-5 2-4 3-6 2-6 1 5-2 6-3 3-3-5 0-5-3-5-1-1-2 1-3 8-3-4 0-6 0-4-2zM205 163l3-2 1-2 3-1 4-2 1 2 1-1 5 1 1 1 8 0 5 1 3 3 4 3 6 2 5 2 2 2 3 4 1 4 2 2 4 0 4 3 5 1 5 0 4 3 5 2 0 4-1 4-3 3-3 4-1 5-1 5-1 5-2 3-2 2-5 1-4 1-3 3-1 6-3 3-3 4-3 3-4 3-3 0-4-2 3 5-1 3-5 2-4 0-1 3-5 1 2 2-1 2-1 3-4 3-1 1 3 3-3 2-2 3-1 2 1 2 0 3 4 2-4 1-5-1-4-2-3-4-2-4 1-4-1-3 3-2 1-4 0-3-1-4 1-6 2-3 2-5 0-6 1-5 1-5 1-7-1-6-4-3-5-3-3-4-1-4-3-5-2-3-3-4 1-4 0-3 1-3 0-3 2-2 2-3 1-3 0-3-1-2 1-2zM348 108l-2 4-5 3-1 5-3 4-3 2-4 4-3 5-1 3 1 3 0 6-2 4 1 2 1 3 3 2 2 2 2 3 3 3 4 3 4 2 5-1 4 0 4 0 4-2 4-1 3 0 2 3 1 1 2 0 3 0 2 2 1 3-1 2 0 3 1 4 3 4 2 3 1 6 1 5-2 4-1 6 0 2 3 7 2 4 1 7 1 1 2 3 2 4 1 4 1 3 3 2 5-2 6 0 3-1 3-3 4-3 2-3 2-4 1-3 4-2 1-2 0-3-1-4 3-2 3-3 4-3 1-4 0-6-2-5 0-3-1-5 2-3 3-3 3-3 3-3 4-3 3-4 3-6 3-5 0-3-4 1-3 1-5 1-3-2 0-1-2-2-2-2-3-3-2-2-1-4-3-5 0-3-3-1-1-4-2-3-2-4-1-3 0-3-3 0-2 0-4 1-6-2-4-1-4-1-2 2 0 2-2 1-4-1-3-1-1-2-4-1-4 0-2-2 2-2 0-3-2-1-4 0-4 0-6 0-4 1-4 2-3 1-3 0-3-2-1 0zM349 108l-2-2-2 0-3 0 0-3-1-2 2-4-2-3 3-1 8 0 5 0 1-5-3-2-4-3 6 0 0-2 3 0 3-3 3-1 3-2 1-2 7 0 0-4-1-3 5-1 0 3 1 3 2 1 4 0 9-1 5-1 0-4 6 0-1-4 9-1 4-1-3-1-12 1-2-3 0-3 7-4-6-2-1 3-5 2-3 4 3 3-5 5-1 3-6 1-1-2-3-5-1-1-5 3-5-2-1-4 0-3 10-3 5-4 5-5 6-2 10-2 10-1 6 2 4 1 16 3-2 4-10 3 5 1 5-1 8-3 0-5 4 2 14-2 10 0 4-3 12 2 5 1-3-5 4-4 7 1-1 3 1 5 5-8 6 0 4-2 12-1 2-2 18-2 8-2 9-1 5 1 12 2 1 5 13 1 12-1 8 5 10-1 10-2 12 0 8 2 10 1 8 1 4 2 10 0 8-1 12 1 8 1 0 8-3 1-3 4-6 2-8 3-8-1-5 1-3 4 2 4-2 3-4 3-4 2-3 2-2-8 1-5 4-2 4-4 6-3-6 1-10 4-8 0-8 0-8 0-6 4-6 7 5 0 3 2-1 6 0 3-5 4-5 6-7 1-3 1-1 1-2 3-3 1 0 2 3 2 1 4-1 2-5 1 0-3 0-3-2 0-1-2 1-2-2-1-4 1-2 1-1-1 3-2-3-1-3 2-3 2-1 1 3 2 1 1 2-2 4 1-4 3-2 2 3 5 2 3 0 4-3 3-2 4-5 4-6 2-6 2-2 2-2-2-5 2-1 3 1 4 5 3 1 7-5 3-4 4 0-3-2-1-3-3-3-2-2-1-2 7 2 3 1 3 2 0 4 4 0 5 1 2-1 0-4-3-2-5-4-5 0-5 0-6-2-6-3 0-3 1 0-6-3-2-2-3-3-2-4 2-3 1-4 3-5 6-5 6 0 6-5 5-3-4-2-6-4-8 0-4-1-5-5 1-2-3-1-2-2-1-2-3-5 0-5 1-8-2-2-2-5 0-5-2-3-4-4 0 1 3 3 4 3 1 0 4 5 0 4-4 1 3 4 2 3 2-3 4-3 3-4 4-6 3-6 2-8 3-3 1-1-4-1-4-3-6-4-4-1-5-3-4-4-4 0-3-1 3-4-4 0-2 4-1 1-3 2-4 0-2-3-2-4 2-4-1-5 0-1-2-2-2-1-2 0-2-4-1-3 1 1 3 2 2-2 3-3-1-1-3-2-2-1-5-2-1-5-2-3-3-2-1-2 0 0 3 3 3 4 2 5 3-3 2-1 2-2 0 1-4-4-2-4-1-3-3-3-3-4 2-5 0-3 1 0 2-4 2-3 3 1 2-2 2-2 2-5 0-2 1zM0 42l6 1 6 3 6 1 3 1-3 1-4 2-6-1-5-1-3 1zM312 49l4-2 8 1 6-1 3 3-2 1-5 1-4 1-7-1 1-1zM241 85l2-3 2-3 4-2-1 3 5 1 2 4-3 2-4-1-3-1zM113 83l-4-1-6-3 3-1 5 3zM190 136l6-2 4 0 5 2 7 4-7 0-3-3-4-1-6 0zM211 143l3-3 8 1 1 2-5 1-7 0zM203 143l5 1-2 1zM225 143l4 0-1 1-2 0zM349 80l5-1 9-1 0-3-3-2-3-2 0-2-1-4-3-2-3 0-2 4 1 2 5 1-1 2 1 1-3 0 1 3-2 1 4 0zM348 76l0-4 1-1-4-2-2 2-3 1 1 2-2 2 5 1zM385 104l2 0 4-1-1 4-1-1zM377 102l-1-4 2 0 2 1-1 3zM377 97l0-2 2-1 0 2zM407 109l6 0-1 1-4 0zM425 110l1-1 3 0-1 1-2 1zM644 87l-1-4 1-6 1-5 2 1-1 5 3 4-3 3-1 2zM640 97l0-4 3-4 3 2 5 2-4 3-5-1zM622 112l3-3 6 0 3-4 5-2 1-3 1-3 2 2 1 3-2 2 0 4-2 2-2 1-4 0-4 2-6-1zM619 113l3-1 2 3-2 3-2-1-1-3zM625 112l4 0 0 1-3 1zM600 134l3-4 1 1-2 5-2-1zM577 142l4-2 1 1-3 3zM520 164l1-4 3 5-1 3-3 0zM600 143l4 0 0 5 4 5-5-1-2-1-1-3zM604 165l4-2 5-2-1 6-1 2-3-2-4-1zM604 156l7-1 0 5-4 1-2-1-1-3zM594 163l5-6 0 2-4 5zM551 169l4 1 6 6 6 3 2 5 3 2 0 6-3 0-4-4-3-4-4-4-1-4-4-4zM571 194l1-2 5 1 5 0 3 1 4 2 0 1-7-1-6 0-5-2zM578 177l1 5 1 4 3 0 6 2 4-1 0-3 2-6 3 0-2-2 2-7-2-1-2-2-3 4-3 1-2 3-3 1-4 1zM599 191l2 0 0-5 2 3 3 1 0-2-3-4 3-2 1 0-5 1-1-2 0-2 1-1 8-1 0 1-3 1-6 1-1 0-2 5zM622 182l3-1 3 1 3 5 5-4 6 2 7 3 3 3 3 1 1 4 4 4 2 1-6-1-3-2-5-3-1 3-5 0-4-2-2 1-1-5-5-3-3-1-1 0-2-2 3-1-4-2zM657 191l4-1 3-2-1 3-3 1zM615 176l2 2-1 4-1-3zM616 186l6 1-2-1zM608 201l2-3 5-1-2 1-4 2zM592 197l6 0 7-1 1 1-8 1-6 0zM587 224l1 9 2 7 0 7 2 3 4 0 7-2 5-2 4-1 6-2 4 0 6 2 3 5 4-4 0 5 2 0 2 2 2 3 6 2 6 0 3-2 4-1 1-4 2-4 3-5 1-5-1-6-4-4-3-2-5-7-3-6 0-2-4-2-1-6-1-1-2 5 0 6-2 3-3-1-4-2-3-2 2-5 1-1-3 0-5-1-2-1-2 2-2 2-1 4-3 0-3-2-3 2-3 3-3 3-1 3-5 2-5 0-4 3zM649 261l8 1-1 4-2 1-3-2-2-3zM705 249l4 4 3 2 5 0-3 4-1 2-3 2-1-3-1-2 1-2-3-6zM705 261l3 2-1 3-5 3-4 4-5-1 3-4 7-4zM459 204l2 5 0 2-2 4-2 7-2 8-5 1-2-4-1-4 2-5-1-5 4-2 2-2 2-2zM464 37l4-4 5-3 7-2 8-2 9 0-5 2-10 3-6 3-3 3 2 2-5 0zM186 50l8 0 3 3-9 0z" fill="none" stroke="#1a1a1a" stroke-width="0.6" vector-effect="non-scaling-stroke"/>
<path d="M0 341l20 0 20 0 10-4 10-3 10-3 10-1 10-1 10 0 10-1 10-1 10 1 10 1 10 0 10-2 10-1 10 0 10 1 10-1 8-2 8-3 8-5 6-4 5-3 2 3-3 5-2 6 2 7 6 7 10 3 20 1 14-4 10-2 10-3 8-3 12-3 12-3 12-1 12-2 12 0 12 0 12 0 12 0 12-1 10-1 10 0 10-2 10-2 10-1 10 2 10 0 10 2 4 3 8-1 8-3 10-2 10-1 10-1 10 0 10 0 10 0 10 2 10 0 10-1 10-1 10 0 10 1 10 2 10 2 10 1 10 2 8 2 6 1 6 1-2 3-6 3-4 2-1 3 5 2 8 2 10 1 10 1" fill="none" stroke="#444" stroke-width="0.55" vector-effect="non-scaling-stroke"/>
</g></g>
<rect x="229.1" y="13.4" width="127.2" height="63.1" fill="none" stroke="#ababab" stroke-width="0.6"/>
<ellipse cx="261.4" cy="25.9" rx="12.67" ry="8.12" fill="none" stroke="#1d58a5" stroke-width="1.35"/>
<text x="227.2" y="14.6" class="ax" text-anchor="end">90°N</text>
<text x="227.2" y="25.1" class="ax" text-anchor="end">60°N</text>
<text x="227.2" y="35.6" class="ax" text-anchor="end">30°N</text>
<text x="227.2" y="46.2" class="ax" text-anchor="end">0°</text>
<text x="227.2" y="56.7" class="ax" text-anchor="end">30°S</text>
<text x="227.2" y="67.2" class="ax" text-anchor="end">60°S</text>
<text x="227.2" y="77.7" class="ax" text-anchor="end">90°S</text>
<path d="M227.8 13.40h1.3M227.8 23.92h1.3M227.8 34.43h1.3M227.8 44.95h1.3M227.8 55.47h1.3M227.8 65.98h1.3M227.8 76.50h1.3M229.10 76.5v1.2M250.30 76.5v1.2M271.50 76.5v1.2M292.70 76.5v1.2M313.90 76.5v1.2M335.10 76.5v1.2M356.30 76.5v1.2" stroke="#666" stroke-width="0.4" fill="none"/>
<text x="229.1" y="81.6" class="ax" text-anchor="middle">180°</text>
<text x="250.3" y="81.6" class="ax" text-anchor="middle">120°W</text>
<text x="271.5" y="81.6" class="ax" text-anchor="middle">60°W</text>
<text x="292.7" y="81.6" class="ax" text-anchor="middle">0°W</text>
<text x="313.9" y="81.6" class="ax" text-anchor="middle">60°E</text>
<text x="335.1" y="81.6" class="ax" text-anchor="middle">120°E</text>
<text x="356.3" y="81.6" class="ax" text-anchor="middle">180°</text>
<rect x="216.90" y="82.60" width="19.20" height="3.6" fill="#3565d5"/>
<rect x="235.85" y="82.60" width="19.20" height="3.6" fill="#5b88e6"/>
<rect x="254.80" y="82.60" width="19.20" height="3.6" fill="#8fafef"/>
<rect x="273.75" y="82.60" width="19.20" height="3.6" fill="#c5d3f2"/>
<rect x="292.70" y="82.60" width="19.20" height="3.6" fill="#f8d8ce"/>
<rect x="311.65" y="82.60" width="19.20" height="3.6" fill="#f5b09a"/>
<rect x="330.60" y="82.60" width="19.20" height="3.6" fill="#f07a60"/>
<rect x="349.55" y="82.60" width="19.20" height="3.6" fill="#e33a2a"/>
<path d="M217.10 82.60L209.32 84.40L217.10 86.20Z" fill="#1838b8"/>
<path d="M368.30 82.60L376.08 84.40L368.30 86.20Z" fill="#c40c12"/>
<path d="M216.90 82.60H368.50L376.08 84.40L368.50 86.20H216.90L209.32 84.40Z" fill="none" stroke="#555" stroke-width="0.3"/>
<text x="216.9" y="91.30" class="cb" text-anchor="middle">-0.04</text>
<text x="235.8" y="91.30" class="cb" text-anchor="middle">-0.03</text>
<text x="254.8" y="91.30" class="cb" text-anchor="middle">-0.02</text>
<text x="273.8" y="91.30" class="cb" text-anchor="middle">-0.01</text>
<text x="292.7" y="91.30" class="cb" text-anchor="middle">0.00</text>
<text x="311.6" y="91.30" class="cb" text-anchor="middle">0.01</text>
<text x="330.6" y="91.30" class="cb" text-anchor="middle">0.02</text>
<text x="349.6" y="91.30" class="cb" text-anchor="middle">0.03</text>
<text x="368.5" y="91.30" class="cb" text-anchor="middle">0.04</text>
<clipPath id="fp20"><rect x="396.3" y="12.3" width="128.2" height="64.1"/></clipPath>
<g clip-path="url(#fp20)"><g transform="translate(396.3 12.30) scale(0.178056 0.178056)">
<rect width="720" height="360" fill="#1c3a92" clip-path="url(#land)"/>
<g clip-path="url(#land)">
<path d="M222 104l-19-6-8-5-11-11-19 4-12 8-7 10 6 11 17 3 15 6 21 1 12-10z" fill="#0f2468"/>
<path d="M156 100l-7-6-5-5-8-6-11 1-1 11-9 5 9 6 4 5 8 1 9 0 10-3z" fill="#234ea0"/>
<path d="M431 176l-1-10-13-5-13-9-15 7-17 5-5 12 20 6 7 5 10 10 10-10 18-1z" fill="#0f2468"/>
<path d="M419 80l0-8-9-9-20 0-22-2-14 8-6 11 2 11 25 2 15 5 18-2 19-5z" fill="#234ea0"/>
<path d="M431 230l-10-8-10-2-7-3-8 2-13 1 0 10-1 10 11 5 11-1 8-3 4-6z" fill="#2168ad"/>
<path d="M661 232l-10-7-12-4-11-9-16 4-8 8 0 8-6 10 9 11 21-4 11-6 13-3z" fill="#234ea0"/>
<path d="M77 52l-3-7-14-2-10-8-12 7-11 3 1 7-1 7 4 9 19-4 15 1 2-8z" fill="#2596c1"/>
<path d="M191 70l2-4-21-3-22-2-23 2-27 2-15 5 15 5 16 6 34-2 33 1 16-5z" fill="#2596c1"/>
<path d="M186 52l15-7-35-1-22 0-36-5-25 5 8 8 21 4 6 6 26 1 21-3 39-1z" fill="#44b4c4"/>
<path d="M200 48l-17-3-4-4-19-1-27-1-1 6-3 3-8 4 16 4 23 1 24-1 17-3z" fill="#c6e7b4"/>
<path d="M187 46l-2-2-9-1-6-1-6 1-5 1-5 2 1 2 9 0 6 2 7-1 5-1z" fill="#eef8c2"/>
<path d="M426 134l-4-5-11-6-31-3-35 1-7 8-14 5 17 5 14 4 25 2 29 0 19-5z" fill="#c6e7b4"/>
<path d="M471 134l-7-5-4-6-8 2-12-7-2 10-3 6 4 6 4 7 9-1 8-1 10-3z" fill="#86cfbb"/>
<path d="M523 86l7-6-19-4-21 3-21-3-2 6-3 4-14 6 26 1 14 5 18-3 21-3z" fill="#2596c1"/>
<path d="M604 98l-29-4-7-4-18-1-24-2-11 6-5 5-4 6 24 3 20-2 14-1 19-1z" fill="#44b4c4"/>
<path d="M557 114l0-3-6-4-15 0-12 2-11 2 7 3-2 3 7 2 11 1 12-1 15-1z" fill="#2596c1"/>
<path d="M583 144l-1-6-1-9-11-4-9 6-5 6-1 7-1 7 8 5 8 0 7-2 16 1z" fill="#2596c1"/>
<path d="M687 44l23-8-61-4-69-3-76 2-29 7-18 6-15 8 85 1 53 6 51-6 77-2z" fill="#234ea0"/>
<path d="M644 230l-3-5-5-5-10-3-12 2-9 4 1 7 9 4-1 7 12-2 11 2 0-7z" fill="#2168ad"/>
<path d="M291 204l-2-10-7-5-6-7-5 10-4 5-6 7 4 9 5 6 6 5 8-2 2-10z" fill="#2596c1"/>
<path d="M235 270l0-10-7-1-4-2-4 2-6 2 1 9-1 9 5 5 5 3 4-5 3-6z" fill="#2596c1"/>
<path d="M612 56l7-5-19-7-60 1-59 0-9 7-41 4 21 6 33 5 55-4 41 1 18-4z" fill="#44b4c4"/>
<path d="M497 48l-3-3-11-2-13-1-22-2-4 5-6 3 9 3 2 4 21 2 19-3 22-1z" fill="#c6e7b4"/>
<path d="M619 54l-8-3-6-3-15 1-15-1-6 3 5 3-9 4 9 3 16-1 8-2 15-1z" fill="#c6e7b4"/>
<path d="M706 50l-7-6-13-4-16-5-14 6-26 1 1 8 0 8 13 8 26 2 25-3 4-9z" fill="#44b4c4"/>
<path d="M697 48l-2-4-10-2-9-4-10 3-7 3-7 4 8 4 6 3 10 3 7-5 7-2z" fill="#86cfbb"/>
<path d="M566 104l0-6-8-6-18-5-22 2 1 10-9 5 9 5-2 10 23 3 16-7 22-2z" fill="#44b4c4"/>
<path d="M569 104l2-6-18-2-13-4-15 2-2 7-5 3-5 6 17 0 10 6 13-4 16-2z" fill="#c6e7b4"/>
<path d="M559 106l-5-2-2-3-8-1-6 2-4 2-11 2 11 2 0 4 10-1 10 2 7-3z" fill="#eef8c2"/>
<path d="M483 90l4-7-17 0-10-5-14 2-9 5 5 5-9 7 12 4 15-2 10-2 18 0z" fill="#44b4c4"/>
<path d="M400 132l-10-4-7-4-13-1-14 1-2 5 0 3 0 3 6 3 10 4 8-5 16 0z" fill="#eef8c2"/>
<path d="M428 136l-5-3-5-2-8-1-8 1-2 3-1 2-6 4 11 0 6 0 7 1 10-1z" fill="#eef8c2"/>
<path d="M470 136l-2-5-6-2-6-2-5 3-7 1 1 5 2 3 4 2 5 3 5-2 7-1z" fill="#c6e7b4"/>
<path d="M574 144l-3-4-3-3-4-3-5 1-3 5-1 4 0 5 2 7 7 0 7 0 6-4z" fill="#44b4c4"/>
<path d="M452 70l-10-4-10-3-12-3-11 4-12 2 6 4 1 3 0 6 16-3 9-1 11-1z" fill="#2596c1"/>
<path d="M355 126h0M335 143h0M389 152h0M363 126h0M411 154h0M402 117h0" stroke="#44b4c4" stroke-width="12.0" stroke-linecap="round"/>
<path d="M329 136h0M371 145h0M371 123h0M384 120h0M352 116h0M328 149h0" stroke="#c6e7b4" stroke-width="9.0" stroke-linecap="round"/>
<path d="M378 128h0M427 142h0M364 149h0M329 125h0M379 138h0" stroke="#c6e7b4" stroke-width="12.0" stroke-linecap="round"/>
<path d="M395 124h0M422 136h0M349 127h0M405 146h0M390 138h0M349 152h0" stroke="#eef8c2" stroke-width="9.0" stroke-linecap="round"/>
<path d="M344 149h0" stroke="#c6e7b4" stroke-width="6.0" stroke-linecap="round"/>
<path d="M341 126h0M415 119h0M434 152h0M423 137h0M328 135h0M398 142h0" stroke="#234ea0" stroke-width="12.0" stroke-linecap="round"/>
<path d="M345 146h0M356 115h0M361 120h0" stroke="#44b4c4" stroke-width="9.0" stroke-linecap="round"/>
<path d="M429 129h0" stroke="#eef8c2" stroke-width="6.0" stroke-linecap="round"/>
<path d="M413 145h0M423 125h0M347 126h0M434 114h0M349 114h0M354 119h0" stroke="#eef8c2" stroke-width="12.0" stroke-linecap="round"/>
<path d="M147 52h0M69 37h0M217 43h0M232 34h0" stroke="#44b4c4" stroke-width="9.0" stroke-linecap="round"/>
<path d="M72 52h0M82 33h0M30 44h0M228 61h0M143 35h0M129 32h0M39 48h0M53 56h0" stroke="#44b4c4" stroke-width="12.0" stroke-linecap="round"/>
<path d="M227 42h0M195 30h0M188 34h0M234 46h0M58 55h0M52 36h0M49 61h0" stroke="#eef8c2" stroke-width="12.0" stroke-linecap="round"/>
<path d="M22 58h0M186 50h0M113 31h0M207 68h0M62 55h0" stroke="#c6e7b4" stroke-width="12.0" stroke-linecap="round"/>
<path d="M21 43h0M40 53h0M63 36h0M29 49h0M101 64h0M109 35h0M179 56h0" stroke="#c6e7b4" stroke-width="9.0" stroke-linecap="round"/>
<path d="M170 47h0M72 42h0M69 64h0M81 66h0" stroke="#86cfbb" stroke-width="12.0" stroke-linecap="round"/>
<path d="M222 52h0M199 50h0M216 46h0M88 52h0M181 31h0" stroke="#eef8c2" stroke-width="9.0" stroke-linecap="round"/>
<path d="M168 40h0M109 62h0M70 67h0M68 61h0" stroke="#86cfbb" stroke-width="9.0" stroke-linecap="round"/>
<path d="M64 36h0" stroke="#86cfbb" stroke-width="6.0" stroke-linecap="round"/>
<path d="M532 95h0M487 99h0M566 111h0M456 120h0M558 113h0M526 81h0M528 112h0M487 92h0M522 112h0" stroke="#c6e7b4" stroke-width="12.0" stroke-linecap="round"/>
<path d="M554 123h0M514 87h0M558 97h0M461 100h0M526 87h0" stroke="#c6e7b4" stroke-width="9.0" stroke-linecap="round"/>
<path d="M565 121h0M535 102h0M552 114h0M553 124h0M539 118h0M584 91h0M544 88h0M481 128h0" stroke="#234ea0" stroke-width="12.0" stroke-linecap="round"/>
<path d="M496 99h0M506 83h0M578 94h0M491 97h0" stroke="#234ea0" stroke-width="9.0" stroke-linecap="round"/>
<path d="M526 106h0M560 108h0M454 88h0M559 110h0M561 117h0" stroke="#1d3490" stroke-width="12.0" stroke-linecap="round"/>
<path d="M477 75h0M563 122h0M451 86h0M464 81h0M574 106h0M469 98h0M525 97h0M464 112h0M465 124h0" stroke="#44b4c4" stroke-width="12.0" stroke-linecap="round"/>
<path d="M539 117h0M466 115h0M546 106h0M450 126h0M517 108h0M469 76h0M515 96h0M524 102h0" stroke="#eef8c2" stroke-width="12.0" stroke-linecap="round"/>
<path d="M542 117h0" stroke="#1d3490" stroke-width="6.0" stroke-linecap="round"/>
<path d="M494 90h0M550 99h0M526 109h0M496 74h0M582 94h0M540 113h0" stroke="#44b4c4" stroke-width="9.0" stroke-linecap="round"/>
<path d="M550 107h0M489 121h0" stroke="#eef8c2" stroke-width="9.0" stroke-linecap="round"/>
<path d="M506 83h0M471 93h0M586 91h0" stroke="#1d3490" stroke-width="9.0" stroke-linecap="round"/>
<path d="M690 89h0M474 56h0M512 56h0M669 56h0M535 59h0M662 59h0M548 91h0M488 90h0M611 54h0" stroke="#1d3490" stroke-width="12.0" stroke-linecap="round"/>
<path d="M590 87h0M626 79h0M490 53h0M474 67h0" stroke="#1d3490" stroke-width="9.0" stroke-linecap="round"/>
<path d="M502 42h0" stroke="#2596c1" stroke-width="6.0" stroke-linecap="round"/>
<path d="M560 71h0M712 45h0M463 43h0M591 20h0M573 84h0M688 22h0M632 76h0M593 64h0M600 74h0M490 40h0" stroke="#c6e7b4" stroke-width="12.0" stroke-linecap="round"/>
<path d="M498 59h0M667 81h0M452 78h0" stroke="#44b4c4" stroke-width="9.0" stroke-linecap="round"/>
<path d="M641 36h0M664 39h0M450 60h0M466 38h0M634 27h0M558 49h0M716 67h0M711 20h0" stroke="#44b4c4" stroke-width="12.0" stroke-linecap="round"/>
<path d="M532 54h0M561 80h0M581 56h0M509 21h0M601 61h0" stroke="#2596c1" stroke-width="12.0" stroke-linecap="round"/>
<path d="M713 45h0M486 34h0M517 52h0M713 24h0" stroke="#2596c1" stroke-width="9.0" stroke-linecap="round"/>
<path d="M472 85h0" stroke="#c6e7b4" stroke-width="6.0" stroke-linecap="round"/>
<path d="M602 132h0M144 117h0M133 84h0M603 128h0M444 53h0M577 101h0M594 124h0M605 119h0M152 100h0M608 128h0" stroke="#2596c1" stroke-width="12.0" stroke-linecap="round"/>
<path d="M415 53h0M144 84h0M426 90h0M104 77h0" stroke="#44b4c4" stroke-width="9.0" stroke-linecap="round"/>
<path d="M85 86h0M392 36h0M178 70h0M570 113h0M120 89h0M586 127h0" stroke="#1d3490" stroke-width="12.0" stroke-linecap="round"/>
<path d="M409 106h0M130 90h0M94 81h0M580 123h0M156 102h0" stroke="#1d3490" stroke-width="9.0" stroke-linecap="round"/>
<path d="M187 83h0M592 122h0M122 108h0" stroke="#44b4c4" stroke-width="12.0" stroke-linecap="round"/>
<path d="M228 72h0M589 122h0M372 87h0M567 104h0M111 81h0M127 113h0" stroke="#2596c1" stroke-width="9.0" stroke-linecap="round"/>
<path d="M235 66h0" stroke="#44b4c4" stroke-width="6.0" stroke-linecap="round"/>
<path d="M432 212h0" stroke="#0f2468" stroke-width="6.0" stroke-linecap="round"/>
<path d="M383 206h0M223 185h0M394 202h0" stroke="#0f2468" stroke-width="9.0" stroke-linecap="round"/>
<path d="M619 229h0M613 237h0M248 191h0M264 220h0M664 230h0M281 227h0M241 210h0" stroke="#2168ad" stroke-width="9.0" stroke-linecap="round"/>
<path d="M277 195h0M436 234h0M444 231h0M616 269h0" stroke="#2596c1" stroke-width="12.0" stroke-linecap="round"/>
<path d="M281 227h0M384 213h0M426 230h0M413 179h0M277 220h0M670 246h0M385 249h0" stroke="#2596c1" stroke-width="9.0" stroke-linecap="round"/>
<path d="M638 219h0M263 204h0M266 205h0M406 177h0M278 224h0M256 198h0" stroke="#2168ad" stroke-width="12.0" stroke-linecap="round"/>
<path d="M410 228h0M267 224h0M622 249h0M242 201h0M277 214h0M401 208h0" stroke="#0f2468" stroke-width="12.0" stroke-linecap="round"/>
<path d="M262 203h0" stroke="#2168ad" stroke-width="6.0" stroke-linecap="round"/>
</g>
<path d="M214 24l6-3 8-3 12-2 16-1 14-1 14-1 20 0 12 2 8 1 12 1-6 3-8 2 1 3-3 3 2 3-6 4 0 4-5 2-5 2-8 1-8 4-7 1-4 2-3 4-2 4-3 1-5-2-4-2-3-3-2-3-4-3-1-3 5-2-3-3 2-1-5-1-2-3-3-3-4-3-8 0-8 0-4-2-5-1zM382 23l3-2 7-1 8-1 14 1-8 3-6 2-7 2-6-3zM454 19l10-2 16 0 8 1-12 2-16 0zM550 22l4-3 6-1 9 3-5 2-8 1zM632 29l6-1 4 0 10 1 9 1-9 1-10 2-6-1zM717 38l3-1 0 1zM0 37l5 1-5 0z" fill="#fff" stroke="#333" stroke-width="0.5" vector-effect="non-scaling-stroke"/>
<path d="M200 32l8 3 10 3 7 3 2 2 9 3-3 4-4 5-5 0-7-2-6-2-6 0-2-2 9-4-10-4-6-1-8 0-6-2-1-4 7-1 6 0zM123 37l7-4 14 0 7 1 7 5-8 3-10 1-8-1-7-1-3-3zM109 36l3-4 9 0 8 1-7 4-9 1zM201 27l9-2 3-2 7-1 10-3 7-3-17-2-20 0-20 2-10 2-4 3 8 2 8 2 8 2zM176 29l8-2 16 1-1 2-9 1-14-1zM170 33l9-1-2 4-7 0zM158 33l8 0 0 3-9 0zM128 30l8-3 12 1 0 2-8 1-14 0zM160 27l8 0 2 3-10 0zM162 42l6-1 0 2-6 0zM116 27l12-2-2 3z" fill="#fff" stroke="#1a1a1a" stroke-width="0.8" vector-effect="non-scaling-stroke"/>
<path d="M416 97l0-4 3-3 3-3 3 1 2 3 4-1 2-1 4-3 2 0-3 2-1 2 4 3 4 4-3 1-7-1-3-1-4 0-4 2-4 0zM454 92l1-3 4-2 4-1 3 0 0 3-3 2 0 3 2 2 1 3 2 2 0 4-6 2-4-2 1-6-2-3-2-2z" fill="#fff" stroke="#1a1a1a" stroke-width="0.6" vector-effect="non-scaling-stroke"/>
<path d="M24 49l3-6 7-3 13-3 9 1 10 1 12 2 10 1 8-1 8-1 8 1 8 1 10 1 10 1 8-1 10 1 6-1 4-2 3-4 4 2 5 3 4 1 5-2 6 0 2 4-7 1-3 2-2 3-6 2-7 5 0 4 3 4 9 1 6 2 5 1 1 5 3 2 3-1 1-5 3-4-1-4 0-4-1-4 9 0 6 3 2 4 4 1 3-2 3-2 5 6 3 4 6 3 4 4-3 1-6 3-8 0-5 0-5 3-4 3 5-3 5-1 3 0-1 2 1 4 5 0 4 0-3 2-4 1-4 2-1-2 3-2-3 1-2 0-4 2-2 1-1 2 1 1-3 1-3 1-2 1 0 1-2 2-1 1-1 3 1 3-2 2-3 1-2 2-4 2-1 3 2 4 1 4-1 3-1-1-2-2-1-3 0-2-3-2-3 1-2-2-4 0-2 1 1 2-3 0-3-1-4 0-2 1-4 2-1 4 0 4-1 3 1 3 2 3 3 2 1 1 4-1 3-1 1-2 0-2 4-1 3 0-1 4-2 2 1 4-2 1 6 0 3 0 2 2 0 5 0 3 2 3 2 1 3-1 2 0 3 2 0 1-1 2-3-3-2 2-3-1-3-1-4-3-1-2-3-4-3 0-5-2-2-1-3-3-2 0-3 1-4-2-5-1-5-3-4-4 0-2-1-3-4-4-3-3-3-3-2-2-2-4-3-1 1 3 2 3 2 4 3 5 1 2-1-1-3-3-1-3-4-3 0-1-2-3-2-4-1-1-3-3-2-1-2 0-3-4-1-3-2-2-2-3 1-3 0-4 0-4-1-5 3 1 1 2-1-4-4-2-5-2-1-3-4-4-3-2-4-4-4-3-5 0-5-2-7 0-5-2-6 2-5 2 2-4-6 5-5 2-4 3-6 2-6 1 5-2 6-3 3-3-5 0-5-3-5-1-1-2 1-3 8-3-4 0-6 0-4-2zM205 163l3-2 1-2 3-1 4-2 1 2 1-1 5 1 1 1 8 0 5 1 3 3 4 3 6 2 5 2 2 2 3 4 1 4 2 2 4 0 4 3 5 1 5 0 4 3 5 2 0 4-1 4-3 3-3 4-1 5-1 5-1 5-2 3-2 2-5 1-4 1-3 3-1 6-3 3-3 4-3 3-4 3-3 0-4-2 3 5-1 3-5 2-4 0-1 3-5 1 2 2-1 2-1 3-4 3-1 1 3 3-3 2-2 3-1 2 1 2 0 3 4 2-4 1-5-1-4-2-3-4-2-4 1-4-1-3 3-2 1-4 0-3-1-4 1-6 2-3 2-5 0-6 1-5 1-5 1-7-1-6-4-3-5-3-3-4-1-4-3-5-2-3-3-4 1-4 0-3 1-3 0-3 2-2 2-3 1-3 0-3-1-2 1-2zM348 108l-2 4-5 3-1 5-3 4-3 2-4 4-3 5-1 3 1 3 0 6-2 4 1 2 1 3 3 2 2 2 2 3 3 3 4 3 4 2 5-1 4 0 4 0 4-2 4-1 3 0 2 3 1 1 2 0 3 0 2 2 1 3-1 2 0 3 1 4 3 4 2 3 1 6 1 5-2 4-1 6 0 2 3 7 2 4 1 7 1 1 2 3 2 4 1 4 1 3 3 2 5-2 6 0 3-1 3-3 4-3 2-3 2-4 1-3 4-2 1-2 0-3-1-4 3-2 3-3 4-3 1-4 0-6-2-5 0-3-1-5 2-3 3-3 3-3 3-3 4-3 3-4 3-6 3-5 0-3-4 1-3 1-5 1-3-2 0-1-2-2-2-2-3-3-2-2-1-4-3-5 0-3-3-1-1-4-2-3-2-4-1-3 0-3-3 0-2 0-4 1-6-2-4-1-4-1-2 2 0 2-2 1-4-1-3-1-1-2-4-1-4 0-2-2 2-2 0-3-2-1-4 0-4 0-6 0-4 1-4 2-3 1-3 0-3-2-1 0zM349 108l-2-2-2 0-3 0 0-3-1-2 2-4-2-3 3-1 8 0 5 0 1-5-3-2-4-3 6 0 0-2 3 0 3-3 3-1 3-2 1-2 7 0 0-4-1-3 5-1 0 3 1 3 2 1 4 0 9-1 5-1 0-4 6 0-1-4 9-1 4-1-3-1-12 1-2-3 0-3 7-4-6-2-1 3-5 2-3 4 3 3-5 5-1 3-6 1-1-2-3-5-1-1-5 3-5-2-1-4 0-3 10-3 5-4 5-5 6-2 10-2 10-1 6 2 4 1 16 3-2 4-10 3 5 1 5-1 8-3 0-5 4 2 14-2 10 0 4-3 12 2 5 1-3-5 4-4 7 1-1 3 1 5 5-8 6 0 4-2 12-1 2-2 18-2 8-2 9-1 5 1 12 2 1 5 13 1 12-1 8 5 10-1 10-2 12 0 8 2 10 1 8 1 4 2 10 0 8-1 12 1 8 1 0 8-3 1-3 4-6 2-8 3-8-1-5 1-3 4 2 4-2 3-4 3-4 2-3 2-2-8 1-5 4-2 4-4 6-3-6 1-10 4-8 0-8 0-8 0-6 4-6 7 5 0 3 2-1 6 0 3-5 4-5 6-7 1-3 1-1 1-2 3-3 1 0 2 3 2 1 4-1 2-5 1 0-3 0-3-2 0-1-2 1-2-2-1-4 1-2 1-1-1 3-2-3-1-3 2-3 2-1 1 3 2 1 1 2-2 4 1-4 3-2 2 3 5 2 3 0 4-3 3-2 4-5 4-6 2-6 2-2 2-2-2-5 2-1 3 1 4 5 3 1 7-5 3-4 4 0-3-2-1-3-3-3-2-2-1-2 7 2 3 1 3 2 0 4 4 0 5 1 2-1 0-4-3-2-5-4-5 0-5 0-6-2-6-3 0-3 1 0-6-3-2-2-3-3-2-4 2-3 1-4 3-5 6-5 6 0 6-5 5-3-4-2-6-4-8 0-4-1-5-5 1-2-3-1-2-2-1-2-3-5 0-5 1-8-2-2-2-5 0-5-2-3-4-4 0 1 3 3 4 3 1 0 4 5 0 4-4 1 3 4 2 3 2-3 4-3 3-4 4-6 3-6 2-8 3-3 1-1-4-1-4-3-6-4-4-1-5-3-4-4-4 0-3-1 3-4-4 0-2 4-1 1-3 2-4 0-2-3-2-4 2-4-1-5 0-1-2-2-2-1-2 0-2-4-1-3 1 1 3 2 2-2 3-3-1-1-3-2-2-1-5-2-1-5-2-3-3-2-1-2 0 0 3 3 3 4 2 5 3-3 2-1 2-2 0 1-4-4-2-4-1-3-3-3-3-4 2-5 0-3 1 0 2-4 2-3 3 1 2-2 2-2 2-5 0-2 1zM0 42l6 1 6 3 6 1 3 1-3 1-4 2-6-1-5-1-3 1zM312 49l4-2 8 1 6-1 3 3-2 1-5 1-4 1-7-1 1-1zM241 85l2-3 2-3 4-2-1 3 5 1 2 4-3 2-4-1-3-1zM113 83l-4-1-6-3 3-1 5 3zM190 136l6-2 4 0 5 2 7 4-7 0-3-3-4-1-6 0zM211 143l3-3 8 1 1 2-5 1-7 0zM203 143l5 1-2 1zM225 143l4 0-1 1-2 0zM349 80l5-1 9-1 0-3-3-2-3-2 0-2-1-4-3-2-3 0-2 4 1 2 5 1-1 2 1 1-3 0 1 3-2 1 4 0zM348 76l0-4 1-1-4-2-2 2-3 1 1 2-2 2 5 1zM385 104l2 0 4-1-1 4-1-1zM377 102l-1-4 2 0 2 1-1 3zM377 97l0-2 2-1 0 2zM407 109l6 0-1 1-4 0zM425 110l1-1 3 0-1 1-2 1zM644 87l-1-4 1-6 1-5 2 1-1 5 3 4-3 3-1 2zM640 97l0-4 3-4 3 2 5 2-4 3-5-1zM622 112l3-3 6 0 3-4 5-2 1-3 1-3 2 2 1 3-2 2 0 4-2 2-2 1-4 0-4 2-6-1zM619 113l3-1 2 3-2 3-2-1-1-3zM625 112l4 0 0 1-3 1zM600 134l3-4 1 1-2 5-2-1zM577 142l4-2 1 1-3 3zM520 164l1-4 3 5-1 3-3 0zM600 143l4 0 0 5 4 5-5-1-2-1-1-3zM604 165l4-2 5-2-1 6-1 2-3-2-4-1zM604 156l7-1 0 5-4 1-2-1-1-3zM594 163l5-6 0 2-4 5zM551 169l4 1 6 6 6 3 2 5 3 2 0 6-3 0-4-4-3-4-4-4-1-4-4-4zM571 194l1-2 5 1 5 0 3 1 4 2 0 1-7-1-6 0-5-2zM578 177l1 5 1 4 3 0 6 2 4-1 0-3 2-6 3 0-2-2 2-7-2-1-2-2-3 4-3 1-2 3-3 1-4 1zM599 191l2 0 0-5 2 3 3 1 0-2-3-4 3-2 1 0-5 1-1-2 0-2 1-1 8-1 0 1-3 1-6 1-1 0-2 5zM622 182l3-1 3 1 3 5 5-4 6 2 7 3 3 3 3 1 1 4 4 4 2 1-6-1-3-2-5-3-1 3-5 0-4-2-2 1-1-5-5-3-3-1-1 0-2-2 3-1-4-2zM657 191l4-1 3-2-1 3-3 1zM615 176l2 2-1 4-1-3zM616 186l6 1-2-1zM608 201l2-3 5-1-2 1-4 2zM592 197l6 0 7-1 1 1-8 1-6 0zM587 224l1 9 2 7 0 7 2 3 4 0 7-2 5-2 4-1 6-2 4 0 6 2 3 5 4-4 0 5 2 0 2 2 2 3 6 2 6 0 3-2 4-1 1-4 2-4 3-5 1-5-1-6-4-4-3-2-5-7-3-6 0-2-4-2-1-6-1-1-2 5 0 6-2 3-3-1-4-2-3-2 2-5 1-1-3 0-5-1-2-1-2 2-2 2-1 4-3 0-3-2-3 2-3 3-3 3-1 3-5 2-5 0-4 3zM649 261l8 1-1 4-2 1-3-2-2-3zM705 249l4 4 3 2 5 0-3 4-1 2-3 2-1-3-1-2 1-2-3-6zM705 261l3 2-1 3-5 3-4 4-5-1 3-4 7-4zM459 204l2 5 0 2-2 4-2 7-2 8-5 1-2-4-1-4 2-5-1-5 4-2 2-2 2-2zM464 37l4-4 5-3 7-2 8-2 9 0-5 2-10 3-6 3-3 3 2 2-5 0zM186 50l8 0 3 3-9 0z" fill="none" stroke="#1a1a1a" stroke-width="0.6" vector-effect="non-scaling-stroke"/>
<path d="M0 341l20 0 20 0 10-4 10-3 10-3 10-1 10-1 10 0 10-1 10-1 10 1 10 1 10 0 10-2 10-1 10 0 10 1 10-1 8-2 8-3 8-5 6-4 5-3 2 3-3 5-2 6 2 7 6 7 10 3 20 1 14-4 10-2 10-3 8-3 12-3 12-3 12-1 12-2 12 0 12 0 12 0 12 0 12-1 10-1 10 0 10-2 10-2 10-1 10 2 10 0 10 2 4 3 8-1 8-3 10-2 10-1 10-1 10 0 10 0 10 0 10 2 10 0 10-1 10-1 10 0 10 1 10 2 10 2 10 1 10 2 8 2 6 1 6 1-2 3-6 3-4 2-1 3 5 2 8 2 10 1 10 1" fill="none" stroke="#444" stroke-width="0.55" vector-effect="non-scaling-stroke"/>
</g></g>
<rect x="396.3" y="12.3" width="128.2" height="64.1" fill="none" stroke="#ababab" stroke-width="0.6"/>
<ellipse cx="427.3" cy="25.6" rx="12.95" ry="8.40" fill="none" stroke="#ee7a22" stroke-width="1.3"/>
<ellipse cx="486.75" cy="27.65" rx="20.55" ry="10.15" fill="none" stroke="#ee7a22" stroke-width="1.3"/>
<text x="394.4" y="13.5" class="ax" text-anchor="end">90°N</text>
<text x="394.4" y="24.2" class="ax" text-anchor="end">60°N</text>
<text x="394.4" y="34.9" class="ax" text-anchor="end">30°N</text>
<text x="394.4" y="45.6" class="ax" text-anchor="end">0°</text>
<text x="394.4" y="56.2" class="ax" text-anchor="end">30°S</text>
<text x="394.4" y="66.9" class="ax" text-anchor="end">60°S</text>
<text x="394.4" y="77.6" class="ax" text-anchor="end">90°S</text>
<path d="M395.0 12.30h1.3M395.0 22.98h1.3M395.0 33.67h1.3M395.0 44.35h1.3M395.0 55.03h1.3M395.0 65.72h1.3M395.0 76.40h1.3M396.30 76.4v1.2M417.67 76.4v1.2M439.03 76.4v1.2M460.40 76.4v1.2M481.77 76.4v1.2M503.13 76.4v1.2M524.50 76.4v1.2" stroke="#666" stroke-width="0.4" fill="none"/>
<text x="396.3" y="81.5" class="ax" text-anchor="middle">180°</text>
<text x="417.7" y="81.5" class="ax" text-anchor="middle">120°W</text>
<text x="439.0" y="81.5" class="ax" text-anchor="middle">60°W</text>
<text x="460.4" y="81.5" class="ax" text-anchor="middle">0°W</text>
<text x="481.8" y="81.5" class="ax" text-anchor="middle">60°E</text>
<text x="503.1" y="81.5" class="ax" text-anchor="middle">120°E</text>
<text x="524.5" y="81.5" class="ax" text-anchor="middle">180°</text>
<rect x="384.10" y="82.50" width="15.51" height="3.6" fill="#f4fbc6"/>
<rect x="399.36" y="82.50" width="15.51" height="3.6" fill="#e4f4b4"/>
<rect x="414.62" y="82.50" width="15.51" height="3.6" fill="#c4e7b4"/>
<rect x="429.88" y="82.50" width="15.51" height="3.6" fill="#8fd3ba"/>
<rect x="445.14" y="82.50" width="15.51" height="3.6" fill="#5abfc0"/>
<rect x="460.40" y="82.50" width="15.51" height="3.6" fill="#2fa5c2"/>
<rect x="475.66" y="82.50" width="15.51" height="3.6" fill="#1f84b8"/>
<rect x="490.92" y="82.50" width="15.51" height="3.6" fill="#225ea8"/>
<rect x="506.18" y="82.50" width="15.51" height="3.6" fill="#243d98"/>
<rect x="521.44" y="82.50" width="15.51" height="3.6" fill="#13266e"/>
<path d="M384.30 82.50L376.47 84.30L384.30 86.10Z" fill="#ffffd9"/>
<path d="M536.50 82.50L544.33 84.30L536.50 86.10Z" fill="#081d58"/>
<path d="M384.10 82.50H536.70L544.33 84.30L536.70 86.10H384.10L376.47 84.30Z" fill="none" stroke="#555" stroke-width="0.3"/>
<text x="384.1" y="91.20" class="cb" text-anchor="middle">0.0</text>
<text x="399.4" y="91.20" class="cb" text-anchor="middle">0.1</text>
<text x="414.6" y="91.20" class="cb" text-anchor="middle">0.2</text>
<text x="429.9" y="91.20" class="cb" text-anchor="middle">0.3</text>
<text x="445.1" y="91.20" class="cb" text-anchor="middle">0.4</text>
<text x="460.4" y="91.20" class="cb" text-anchor="middle">0.5</text>
<text x="475.7" y="91.20" class="cb" text-anchor="middle">0.6</text>
<text x="490.9" y="91.20" class="cb" text-anchor="middle">0.7</text>
<text x="506.2" y="91.20" class="cb" text-anchor="middle">0.8</text>
<text x="521.4" y="91.20" class="cb" text-anchor="middle">0.9</text>
<text x="536.7" y="91.20" class="cb" text-anchor="middle">1.0</text>
<clipPath id="fp01"><rect x="63.8" y="96.6" width="126.7" height="63.2"/></clipPath>
<g clip-path="url(#fp01)"><g transform="translate(63.8 96.60) scale(0.175972 0.175556)">
<rect width="720" height="360" fill="#d01a1f" clip-path="url(#land)"/>
<g clip-path="url(#land)">
<path d="M376 204l0-34 24 2 44-2 4 34z" fill="#b0101a"/>
<path d="M380 252l0-48 68 0 0 48z" fill="#bc141c"/>
<path d="M324 164l0-16 36 4 30 2 30-2 16-4 12 8-4 14-44 2-40-4z" fill="#a40e16"/>
<path d="M326 148l0-22 16-10 18-6 20 2 20 6 24 0 6 18 6 12-16 4-30 2-30-2z" fill="#960c12"/>
<path d="M428 120l28-2 18 10 6 8-16 14-18 6-10-16z" fill="#9c0c14"/>
<path d="M580 270l0-70 92 0 0 70z" fill="#d82024"/>
<path d="M601 60h0M582 108h0M571 121h0M428 60h0M451 79h0M600 117h0M417 99h0M568 115h0M591 138h0M531 92h0M380 37h0M422 48h0M578 132h0M588 92h0M392 51h0M527 71h0" stroke="#d8281f" stroke-width="6.0" stroke-linecap="round"/>
<path d="M511 87h0M391 44h0M525 85h0M526 74h0M542 88h0M498 77h0M586 131h0M449 86h0M506 81h0M584 87h0M438 80h0M611 44h0M681 60h0M584 136h0M536 70h0M650 46h0M670 35h0M533 98h0M512 93h0" stroke="#d8281f" stroke-width="9.0" stroke-linecap="round"/>
<path d="M449 59h0M618 63h0M520 21h0M587 97h0M593 96h0M600 52h0M556 60h0M596 94h0M477 78h0M504 78h0M602 56h0M541 89h0M604 61h0M598 23h0M341 37h0M505 60h0M658 33h0M517 95h0M516 59h0M518 105h0" stroke="#b41216" stroke-width="9.0" stroke-linecap="round"/>
<path d="M609 118h0M569 118h0M513 77h0M472 37h0M383 49h0M691 86h0M590 88h0" stroke="#d8281f" stroke-width="12.0" stroke-linecap="round"/>
<path d="M503 90h0M386 71h0M580 103h0M423 51h0M460 57h0M695 83h0M560 96h0M632 86h0M515 85h0M408 62h0M451 53h0M658 53h0M470 39h0M530 65h0M597 24h0M571 99h0" stroke="#b41216" stroke-width="12.0" stroke-linecap="round"/>
<path d="M577 59h0M527 102h0M506 86h0M560 49h0M535 55h0M661 69h0M481 89h0M597 106h0M543 59h0M613 83h0M585 60h0M575 116h0" stroke="#b41216" stroke-width="6.0" stroke-linecap="round"/>
<path d="M155 100h0M140 85h0M143 81h0M188 68h0M253 195h0M181 66h0" stroke="#d8281f" stroke-width="9.0" stroke-linecap="round"/>
<path d="M228 128h0M145 94h0M232 207h0M147 95h0" stroke="#d8281f" stroke-width="6.0" stroke-linecap="round"/>
<path d="M262 190h0M188 113h0M201 185h0M195 74h0M114 114h0M113 72h0M177 118h0M161 125h0M117 115h0M156 73h0M116 99h0M177 110h0M122 75h0M105 71h0" stroke="#b41216" stroke-width="9.0" stroke-linecap="round"/>
<path d="M142 105h0M223 104h0M144 85h0M123 112h0M260 164h0" stroke="#b41216" stroke-width="6.0" stroke-linecap="round"/>
<path d="M224 204h0M153 83h0M85 81h0M90 76h0M198 65h0M273 204h0" stroke="#b41216" stroke-width="12.0" stroke-linecap="round"/>
<path d="M115 95h0M278 177h0M274 174h0M121 84h0M211 157h0" stroke="#d8281f" stroke-width="12.0" stroke-linecap="round"/>
</g>
<path d="M214 24l6-3 8-3 12-2 16-1 14-1 14-1 20 0 12 2 8 1 12 1-6 3-8 2 1 3-3 3 2 3-6 4 0 4-5 2-5 2-8 1-8 4-7 1-4 2-3 4-2 4-3 1-5-2-4-2-3-3-2-3-4-3-1-3 5-2-3-3 2-1-5-1-2-3-3-3-4-3-8 0-8 0-4-2-5-1zM382 23l3-2 7-1 8-1 14 1-8 3-6 2-7 2-6-3zM454 19l10-2 16 0 8 1-12 2-16 0zM550 22l4-3 6-1 9 3-5 2-8 1zM632 29l6-1 4 0 10 1 9 1-9 1-10 2-6-1zM717 38l3-1 0 1zM0 37l5 1-5 0z" fill="#fff" stroke="#333" stroke-width="0.5" vector-effect="non-scaling-stroke"/>
<path d="M200 32l8 3 10 3 7 3 2 2 9 3-3 4-4 5-5 0-7-2-6-2-6 0-2-2 9-4-10-4-6-1-8 0-6-2-1-4 7-1 6 0zM123 37l7-4 14 0 7 1 7 5-8 3-10 1-8-1-7-1-3-3zM109 36l3-4 9 0 8 1-7 4-9 1zM201 27l9-2 3-2 7-1 10-3 7-3-17-2-20 0-20 2-10 2-4 3 8 2 8 2 8 2zM176 29l8-2 16 1-1 2-9 1-14-1zM170 33l9-1-2 4-7 0zM158 33l8 0 0 3-9 0zM128 30l8-3 12 1 0 2-8 1-14 0zM160 27l8 0 2 3-10 0zM162 42l6-1 0 2-6 0zM116 27l12-2-2 3z" fill="#fff" stroke="#1a1a1a" stroke-width="0.8" vector-effect="non-scaling-stroke"/>
<path d="M416 97l0-4 3-3 3-3 3 1 2 3 4-1 2-1 4-3 2 0-3 2-1 2 4 3 4 4-3 1-7-1-3-1-4 0-4 2-4 0zM454 92l1-3 4-2 4-1 3 0 0 3-3 2 0 3 2 2 1 3 2 2 0 4-6 2-4-2 1-6-2-3-2-2z" fill="#fff" stroke="#1a1a1a" stroke-width="0.6" vector-effect="non-scaling-stroke"/>
<path d="M24 49l3-6 7-3 13-3 9 1 10 1 12 2 10 1 8-1 8-1 8 1 8 1 10 1 10 1 8-1 10 1 6-1 4-2 3-4 4 2 5 3 4 1 5-2 6 0 2 4-7 1-3 2-2 3-6 2-7 5 0 4 3 4 9 1 6 2 5 1 1 5 3 2 3-1 1-5 3-4-1-4 0-4-1-4 9 0 6 3 2 4 4 1 3-2 3-2 5 6 3 4 6 3 4 4-3 1-6 3-8 0-5 0-5 3-4 3 5-3 5-1 3 0-1 2 1 4 5 0 4 0-3 2-4 1-4 2-1-2 3-2-3 1-2 0-4 2-2 1-1 2 1 1-3 1-3 1-2 1 0 1-2 2-1 1-1 3 1 3-2 2-3 1-2 2-4 2-1 3 2 4 1 4-1 3-1-1-2-2-1-3 0-2-3-2-3 1-2-2-4 0-2 1 1 2-3 0-3-1-4 0-2 1-4 2-1 4 0 4-1 3 1 3 2 3 3 2 1 1 4-1 3-1 1-2 0-2 4-1 3 0-1 4-2 2 1 4-2 1 6 0 3 0 2 2 0 5 0 3 2 3 2 1 3-1 2 0 3 2 0 1-1 2-3-3-2 2-3-1-3-1-4-3-1-2-3-4-3 0-5-2-2-1-3-3-2 0-3 1-4-2-5-1-5-3-4-4 0-2-1-3-4-4-3-3-3-3-2-2-2-4-3-1 1 3 2 3 2 4 3 5 1 2-1-1-3-3-1-3-4-3 0-1-2-3-2-4-1-1-3-3-2-1-2 0-3-4-1-3-2-2-2-3 1-3 0-4 0-4-1-5 3 1 1 2-1-4-4-2-5-2-1-3-4-4-3-2-4-4-4-3-5 0-5-2-7 0-5-2-6 2-5 2 2-4-6 5-5 2-4 3-6 2-6 1 5-2 6-3 3-3-5 0-5-3-5-1-1-2 1-3 8-3-4 0-6 0-4-2zM205 163l3-2 1-2 3-1 4-2 1 2 1-1 5 1 1 1 8 0 5 1 3 3 4 3 6 2 5 2 2 2 3 4 1 4 2 2 4 0 4 3 5 1 5 0 4 3 5 2 0 4-1 4-3 3-3 4-1 5-1 5-1 5-2 3-2 2-5 1-4 1-3 3-1 6-3 3-3 4-3 3-4 3-3 0-4-2 3 5-1 3-5 2-4 0-1 3-5 1 2 2-1 2-1 3-4 3-1 1 3 3-3 2-2 3-1 2 1 2 0 3 4 2-4 1-5-1-4-2-3-4-2-4 1-4-1-3 3-2 1-4 0-3-1-4 1-6 2-3 2-5 0-6 1-5 1-5 1-7-1-6-4-3-5-3-3-4-1-4-3-5-2-3-3-4 1-4 0-3 1-3 0-3 2-2 2-3 1-3 0-3-1-2 1-2zM348 108l-2 4-5 3-1 5-3 4-3 2-4 4-3 5-1 3 1 3 0 6-2 4 1 2 1 3 3 2 2 2 2 3 3 3 4 3 4 2 5-1 4 0 4 0 4-2 4-1 3 0 2 3 1 1 2 0 3 0 2 2 1 3-1 2 0 3 1 4 3 4 2 3 1 6 1 5-2 4-1 6 0 2 3 7 2 4 1 7 1 1 2 3 2 4 1 4 1 3 3 2 5-2 6 0 3-1 3-3 4-3 2-3 2-4 1-3 4-2 1-2 0-3-1-4 3-2 3-3 4-3 1-4 0-6-2-5 0-3-1-5 2-3 3-3 3-3 3-3 4-3 3-4 3-6 3-5 0-3-4 1-3 1-5 1-3-2 0-1-2-2-2-2-3-3-2-2-1-4-3-5 0-3-3-1-1-4-2-3-2-4-1-3 0-3-3 0-2 0-4 1-6-2-4-1-4-1-2 2 0 2-2 1-4-1-3-1-1-2-4-1-4 0-2-2 2-2 0-3-2-1-4 0-4 0-6 0-4 1-4 2-3 1-3 0-3-2-1 0zM349 108l-2-2-2 0-3 0 0-3-1-2 2-4-2-3 3-1 8 0 5 0 1-5-3-2-4-3 6 0 0-2 3 0 3-3 3-1 3-2 1-2 7 0 0-4-1-3 5-1 0 3 1 3 2 1 4 0 9-1 5-1 0-4 6 0-1-4 9-1 4-1-3-1-12 1-2-3 0-3 7-4-6-2-1 3-5 2-3 4 3 3-5 5-1 3-6 1-1-2-3-5-1-1-5 3-5-2-1-4 0-3 10-3 5-4 5-5 6-2 10-2 10-1 6 2 4 1 16 3-2 4-10 3 5 1 5-1 8-3 0-5 4 2 14-2 10 0 4-3 12 2 5 1-3-5 4-4 7 1-1 3 1 5 5-8 6 0 4-2 12-1 2-2 18-2 8-2 9-1 5 1 12 2 1 5 13 1 12-1 8 5 10-1 10-2 12 0 8 2 10 1 8 1 4 2 10 0 8-1 12 1 8 1 0 8-3 1-3 4-6 2-8 3-8-1-5 1-3 4 2 4-2 3-4 3-4 2-3 2-2-8 1-5 4-2 4-4 6-3-6 1-10 4-8 0-8 0-8 0-6 4-6 7 5 0 3 2-1 6 0 3-5 4-5 6-7 1-3 1-1 1-2 3-3 1 0 2 3 2 1 4-1 2-5 1 0-3 0-3-2 0-1-2 1-2-2-1-4 1-2 1-1-1 3-2-3-1-3 2-3 2-1 1 3 2 1 1 2-2 4 1-4 3-2 2 3 5 2 3 0 4-3 3-2 4-5 4-6 2-6 2-2 2-2-2-5 2-1 3 1 4 5 3 1 7-5 3-4 4 0-3-2-1-3-3-3-2-2-1-2 7 2 3 1 3 2 0 4 4 0 5 1 2-1 0-4-3-2-5-4-5 0-5 0-6-2-6-3 0-3 1 0-6-3-2-2-3-3-2-4 2-3 1-4 3-5 6-5 6 0 6-5 5-3-4-2-6-4-8 0-4-1-5-5 1-2-3-1-2-2-1-2-3-5 0-5 1-8-2-2-2-5 0-5-2-3-4-4 0 1 3 3 4 3 1 0 4 5 0 4-4 1 3 4 2 3 2-3 4-3 3-4 4-6 3-6 2-8 3-3 1-1-4-1-4-3-6-4-4-1-5-3-4-4-4 0-3-1 3-4-4 0-2 4-1 1-3 2-4 0-2-3-2-4 2-4-1-5 0-1-2-2-2-1-2 0-2-4-1-3 1 1 3 2 2-2 3-3-1-1-3-2-2-1-5-2-1-5-2-3-3-2-1-2 0 0 3 3 3 4 2 5 3-3 2-1 2-2 0 1-4-4-2-4-1-3-3-3-3-4 2-5 0-3 1 0 2-4 2-3 3 1 2-2 2-2 2-5 0-2 1zM0 42l6 1 6 3 6 1 3 1-3 1-4 2-6-1-5-1-3 1zM312 49l4-2 8 1 6-1 3 3-2 1-5 1-4 1-7-1 1-1zM241 85l2-3 2-3 4-2-1 3 5 1 2 4-3 2-4-1-3-1zM113 83l-4-1-6-3 3-1 5 3zM190 136l6-2 4 0 5 2 7 4-7 0-3-3-4-1-6 0zM211 143l3-3 8 1 1 2-5 1-7 0zM203 143l5 1-2 1zM225 143l4 0-1 1-2 0zM349 80l5-1 9-1 0-3-3-2-3-2 0-2-1-4-3-2-3 0-2 4 1 2 5 1-1 2 1 1-3 0 1 3-2 1 4 0zM348 76l0-4 1-1-4-2-2 2-3 1 1 2-2 2 5 1zM385 104l2 0 4-1-1 4-1-1zM377 102l-1-4 2 0 2 1-1 3zM377 97l0-2 2-1 0 2zM407 109l6 0-1 1-4 0zM425 110l1-1 3 0-1 1-2 1zM644 87l-1-4 1-6 1-5 2 1-1 5 3 4-3 3-1 2zM640 97l0-4 3-4 3 2 5 2-4 3-5-1zM622 112l3-3 6 0 3-4 5-2 1-3 1-3 2 2 1 3-2 2 0 4-2 2-2 1-4 0-4 2-6-1zM619 113l3-1 2 3-2 3-2-1-1-3zM625 112l4 0 0 1-3 1zM600 134l3-4 1 1-2 5-2-1zM577 142l4-2 1 1-3 3zM520 164l1-4 3 5-1 3-3 0zM600 143l4 0 0 5 4 5-5-1-2-1-1-3zM604 165l4-2 5-2-1 6-1 2-3-2-4-1zM604 156l7-1 0 5-4 1-2-1-1-3zM594 163l5-6 0 2-4 5zM551 169l4 1 6 6 6 3 2 5 3 2 0 6-3 0-4-4-3-4-4-4-1-4-4-4zM571 194l1-2 5 1 5 0 3 1 4 2 0 1-7-1-6 0-5-2zM578 177l1 5 1 4 3 0 6 2 4-1 0-3 2-6 3 0-2-2 2-7-2-1-2-2-3 4-3 1-2 3-3 1-4 1zM599 191l2 0 0-5 2 3 3 1 0-2-3-4 3-2 1 0-5 1-1-2 0-2 1-1 8-1 0 1-3 1-6 1-1 0-2 5zM622 182l3-1 3 1 3 5 5-4 6 2 7 3 3 3 3 1 1 4 4 4 2 1-6-1-3-2-5-3-1 3-5 0-4-2-2 1-1-5-5-3-3-1-1 0-2-2 3-1-4-2zM657 191l4-1 3-2-1 3-3 1zM615 176l2 2-1 4-1-3zM616 186l6 1-2-1zM608 201l2-3 5-1-2 1-4 2zM592 197l6 0 7-1 1 1-8 1-6 0zM587 224l1 9 2 7 0 7 2 3 4 0 7-2 5-2 4-1 6-2 4 0 6 2 3 5 4-4 0 5 2 0 2 2 2 3 6 2 6 0 3-2 4-1 1-4 2-4 3-5 1-5-1-6-4-4-3-2-5-7-3-6 0-2-4-2-1-6-1-1-2 5 0 6-2 3-3-1-4-2-3-2 2-5 1-1-3 0-5-1-2-1-2 2-2 2-1 4-3 0-3-2-3 2-3 3-3 3-1 3-5 2-5 0-4 3zM649 261l8 1-1 4-2 1-3-2-2-3zM705 249l4 4 3 2 5 0-3 4-1 2-3 2-1-3-1-2 1-2-3-6zM705 261l3 2-1 3-5 3-4 4-5-1 3-4 7-4zM459 204l2 5 0 2-2 4-2 7-2 8-5 1-2-4-1-4 2-5-1-5 4-2 2-2 2-2zM464 37l4-4 5-3 7-2 8-2 9 0-5 2-10 3-6 3-3 3 2 2-5 0zM186 50l8 0 3 3-9 0z" fill="none" stroke="#1a1a1a" stroke-width="0.6" vector-effect="non-scaling-stroke"/>
<path d="M0 341l20 0 20 0 10-4 10-3 10-3 10-1 10-1 10 0 10-1 10-1 10 1 10 1 10 0 10-2 10-1 10 0 10 1 10-1 8-2 8-3 8-5 6-4 5-3 2 3-3 5-2 6 2 7 6 7 10 3 20 1 14-4 10-2 10-3 8-3 12-3 12-3 12-1 12-2 12 0 12 0 12 0 12 0 12-1 10-1 10 0 10-2 10-2 10-1 10 2 10 0 10 2 4 3 8-1 8-3 10-2 10-1 10-1 10 0 10 0 10 0 10 2 10 0 10-1 10-1 10 0 10 1 10 2 10 2 10 1 10 2 8 2 6 1 6 1-2 3-6 3-4 2-1 3 5 2 8 2 10 1 10 1" fill="none" stroke="#444" stroke-width="0.55" vector-effect="non-scaling-stroke"/>
</g></g>
<rect x="63.8" y="96.6" width="126.7" height="63.2" fill="none" stroke="#ababab" stroke-width="0.6"/>
<ellipse cx="93.45" cy="110.55" rx="12.90" ry="8.40" fill="none" stroke="#f2c91c" stroke-width="1.2"/>
<text x="61.9" y="97.8" class="ax" text-anchor="end">90°N</text>
<text x="61.9" y="108.3" class="ax" text-anchor="end">60°N</text>
<text x="61.9" y="118.9" class="ax" text-anchor="end">30°N</text>
<text x="61.9" y="129.4" class="ax" text-anchor="end">0°</text>
<text x="61.9" y="139.9" class="ax" text-anchor="end">30°S</text>
<text x="61.9" y="150.5" class="ax" text-anchor="end">60°S</text>
<text x="61.9" y="161.0" class="ax" text-anchor="end">90°S</text>
<path d="M62.5 96.60h1.3M62.5 107.13h1.3M62.5 117.67h1.3M62.5 128.20h1.3M62.5 138.73h1.3M62.5 149.27h1.3M62.5 159.80h1.3M63.80 159.8v1.2M84.92 159.8v1.2M106.03 159.8v1.2M127.15 159.8v1.2M148.27 159.8v1.2M169.38 159.8v1.2M190.50 159.8v1.2" stroke="#666" stroke-width="0.4" fill="none"/>
<text x="63.8" y="164.9" class="ax" text-anchor="middle">180°</text>
<text x="84.9" y="164.9" class="ax" text-anchor="middle">120°W</text>
<text x="106.0" y="164.9" class="ax" text-anchor="middle">60°W</text>
<text x="127.2" y="164.9" class="ax" text-anchor="middle">0°W</text>
<text x="148.3" y="164.9" class="ax" text-anchor="middle">60°E</text>
<text x="169.4" y="164.9" class="ax" text-anchor="middle">120°E</text>
<text x="190.5" y="164.9" class="ax" text-anchor="middle">180°</text>
<rect x="51.60" y="165.90" width="7.80" height="3.6" fill="#7e0610"/>
<rect x="59.15" y="165.90" width="7.80" height="3.6" fill="#ac1117"/>
<rect x="66.71" y="165.90" width="7.80" height="3.6" fill="#ca181d"/>
<rect x="74.26" y="165.90" width="7.80" height="3.6" fill="#e83429"/>
<rect x="81.82" y="165.90" width="7.80" height="3.6" fill="#f6583e"/>
<rect x="89.38" y="165.90" width="7.80" height="3.6" fill="#fb7a5a"/>
<rect x="96.93" y="165.90" width="7.80" height="3.6" fill="#fc9b7c"/>
<rect x="104.48" y="165.90" width="7.80" height="3.6" fill="#fcbba1"/>
<rect x="112.04" y="165.90" width="7.80" height="3.6" fill="#fed9c9"/>
<rect x="119.59" y="165.90" width="7.80" height="3.6" fill="#ffede5"/>
<rect x="127.15" y="165.90" width="7.80" height="3.6" fill="#eaf4fa"/>
<rect x="134.70" y="165.90" width="7.80" height="3.6" fill="#d8ecf6"/>
<rect x="142.26" y="165.90" width="7.80" height="3.6" fill="#b8def2"/>
<rect x="149.81" y="165.90" width="7.80" height="3.6" fill="#98d0ee"/>
<rect x="157.37" y="165.90" width="7.80" height="3.6" fill="#70bce6"/>
<rect x="164.92" y="165.90" width="7.80" height="3.6" fill="#249cd4"/>
<rect x="172.48" y="165.90" width="7.80" height="3.6" fill="#1a88c6"/>
<rect x="180.03" y="165.90" width="7.80" height="3.6" fill="#1476ba"/>
<rect x="187.59" y="165.90" width="7.80" height="3.6" fill="#0c58a2"/>
<rect x="195.14" y="165.90" width="7.80" height="3.6" fill="#083478"/>
<path d="M51.80 165.90L44.04 167.70L51.80 169.50Z" fill="#67000d"/>
<path d="M202.50 165.90L210.25 167.70L202.50 169.50Z" fill="#081d58"/>
<path d="M51.60 165.90H202.70L210.25 167.70L202.70 169.50H51.60L44.04 167.70Z" fill="none" stroke="#555" stroke-width="0.3"/>
<text x="51.6" y="174.60" class="cb" text-anchor="middle">0.00</text>
<text x="66.7" y="174.60" class="cb" text-anchor="middle">0.02</text>
<text x="81.8" y="174.60" class="cb" text-anchor="middle">0.04</text>
<text x="96.9" y="174.60" class="cb" text-anchor="middle">0.06</text>
<text x="112.0" y="174.60" class="cb" text-anchor="middle">0.08</text>
<text x="127.1" y="174.60" class="cb" text-anchor="middle">0.10</text>
<text x="142.3" y="174.60" class="cb" text-anchor="middle">0.12</text>
<text x="157.4" y="174.60" class="cb" text-anchor="middle">0.14</text>
<text x="172.5" y="174.60" class="cb" text-anchor="middle">0.16</text>
<text x="187.6" y="174.60" class="cb" text-anchor="middle">0.18</text>
<text x="202.7" y="174.60" class="cb" text-anchor="middle">0.20</text>
<clipPath id="fp11"><rect x="228.1" y="96.4" width="127.3" height="63.2"/></clipPath>
<g clip-path="url(#fp11)"><g transform="translate(228.1 96.40) scale(0.176806 0.175556)">
<rect width="720" height="360" fill="#f3c5b7" clip-path="url(#land)"/>
<g clip-path="url(#land)">
<path d="M191 92l2-9-21-1-12-7-12 8-14 2 5 7-2 6 6 7 17 3 14-5 14-4z" fill="#c5d3f2"/>
<path d="M267 196l-7-7-8-4-8-10-9 9-11 3 2 9 1 8 8 5 9 6 10-5 7-6z" fill="#c5d3f2"/>
<path d="M647 230l0-7-13-1-8-3-9 1-13 2 5 8 3 5 7 2 7 4 13 2 7-6z" fill="#c5d3f2"/>
<path d="M418 180l-1-4 1-10-8 0-5 5-5 3-6 6 3 7 8 1 5 3 7 1 1-7z" fill="#c5d3f2"/>
<path d="M597 56l-1-5-14-5-22 2-17 1-27 1 5 6 4 5 16 3 19 3 19-3 5-5z" fill="#c5d3f2"/>
<path d="M378 136l2-4-5-2-5 0-6-1-7 2-2 5 3 5 7 1 5 3 6-2 3-3z" fill="#c5d3f2"/>
<path d="M569 70l-10-8-15-9-44-3-26 10-34 2 1 8-1 8 21 7 39-3 27-1 47-1z" fill="#f3a690"/>
<path d="M186 56l-3-3-8-4-15-3-25-1 2 8-11 3-4 5 18 4 20 4 21-4 18-3z" fill="#f3a690"/>
<path d="M519 76h0M587 104h0M579 99h0M368 38h0M544 42h0M567 97h0M434 55h0M443 45h0M392 64h0M652 78h0M486 82h0M561 89h0M362 43h0" stroke="#ee6c52" stroke-width="12.0" stroke-linecap="round"/>
<path d="M581 106h0M421 85h0M502 89h0M528 51h0M389 37h0M567 91h0M632 84h0M560 77h0M420 84h0M349 66h0M648 76h0M690 53h0M720 89h0M551 98h0M513 95h0M378 98h0M472 94h0M476 77h0M411 88h0M512 105h0M411 94h0M598 87h0" stroke="#f3a690" stroke-width="9.0" stroke-linecap="round"/>
<path d="M583 93h0M512 88h0M519 86h0M384 101h0M543 37h0M464 41h0M534 65h0M439 88h0" stroke="#ee6c52" stroke-width="6.0" stroke-linecap="round"/>
<path d="M502 83h0M531 102h0M440 47h0M670 82h0M369 42h0M368 76h0M563 105h0M497 83h0M506 54h0M419 69h0M476 72h0" stroke="#f3a690" stroke-width="6.0" stroke-linecap="round"/>
<path d="M516 107h0M533 21h0M362 80h0M528 87h0M473 95h0M507 70h0M523 80h0M482 72h0M554 101h0M658 38h0M600 104h0M468 55h0" stroke="#f3a690" stroke-width="12.0" stroke-linecap="round"/>
<path d="M522 100h0M430 67h0M687 77h0M386 63h0" stroke="#ee6c52" stroke-width="9.0" stroke-linecap="round"/>
<path d="M126 76h0M239 50h0M238 52h0M161 65h0M236 43h0M195 87h0M92 58h0M182 71h0" stroke="#ee6c52" stroke-width="9.0" stroke-linecap="round"/>
<path d="M169 43h0" stroke="#ee6c52" stroke-width="6.0" stroke-linecap="round"/>
<path d="M108 66h0" stroke="#f3a690" stroke-width="6.0" stroke-linecap="round"/>
<path d="M162 37h0M227 37h0M110 40h0" stroke="#f3a690" stroke-width="12.0" stroke-linecap="round"/>
<path d="M166 34h0M184 76h0M167 69h0M220 79h0M87 85h0" stroke="#f3a690" stroke-width="9.0" stroke-linecap="round"/>
<path d="M134 51h0M233 62h0" stroke="#ee6c52" stroke-width="12.0" stroke-linecap="round"/>
</g>
<path d="M214 24l6-3 8-3 12-2 16-1 14-1 14-1 20 0 12 2 8 1 12 1-6 3-8 2 1 3-3 3 2 3-6 4 0 4-5 2-5 2-8 1-8 4-7 1-4 2-3 4-2 4-3 1-5-2-4-2-3-3-2-3-4-3-1-3 5-2-3-3 2-1-5-1-2-3-3-3-4-3-8 0-8 0-4-2-5-1zM382 23l3-2 7-1 8-1 14 1-8 3-6 2-7 2-6-3zM454 19l10-2 16 0 8 1-12 2-16 0zM550 22l4-3 6-1 9 3-5 2-8 1zM632 29l6-1 4 0 10 1 9 1-9 1-10 2-6-1zM717 38l3-1 0 1zM0 37l5 1-5 0z" fill="#fff" stroke="#333" stroke-width="0.5" vector-effect="non-scaling-stroke"/>
<path d="M200 32l8 3 10 3 7 3 2 2 9 3-3 4-4 5-5 0-7-2-6-2-6 0-2-2 9-4-10-4-6-1-8 0-6-2-1-4 7-1 6 0zM123 37l7-4 14 0 7 1 7 5-8 3-10 1-8-1-7-1-3-3zM109 36l3-4 9 0 8 1-7 4-9 1zM201 27l9-2 3-2 7-1 10-3 7-3-17-2-20 0-20 2-10 2-4 3 8 2 8 2 8 2zM176 29l8-2 16 1-1 2-9 1-14-1zM170 33l9-1-2 4-7 0zM158 33l8 0 0 3-9 0zM128 30l8-3 12 1 0 2-8 1-14 0zM160 27l8 0 2 3-10 0zM162 42l6-1 0 2-6 0zM116 27l12-2-2 3z" fill="#fff" stroke="#1a1a1a" stroke-width="0.8" vector-effect="non-scaling-stroke"/>
<path d="M416 97l0-4 3-3 3-3 3 1 2 3 4-1 2-1 4-3 2 0-3 2-1 2 4 3 4 4-3 1-7-1-3-1-4 0-4 2-4 0zM454 92l1-3 4-2 4-1 3 0 0 3-3 2 0 3 2 2 1 3 2 2 0 4-6 2-4-2 1-6-2-3-2-2z" fill="#fff" stroke="#1a1a1a" stroke-width="0.6" vector-effect="non-scaling-stroke"/>
<path d="M24 49l3-6 7-3 13-3 9 1 10 1 12 2 10 1 8-1 8-1 8 1 8 1 10 1 10 1 8-1 10 1 6-1 4-2 3-4 4 2 5 3 4 1 5-2 6 0 2 4-7 1-3 2-2 3-6 2-7 5 0 4 3 4 9 1 6 2 5 1 1 5 3 2 3-1 1-5 3-4-1-4 0-4-1-4 9 0 6 3 2 4 4 1 3-2 3-2 5 6 3 4 6 3 4 4-3 1-6 3-8 0-5 0-5 3-4 3 5-3 5-1 3 0-1 2 1 4 5 0 4 0-3 2-4 1-4 2-1-2 3-2-3 1-2 0-4 2-2 1-1 2 1 1-3 1-3 1-2 1 0 1-2 2-1 1-1 3 1 3-2 2-3 1-2 2-4 2-1 3 2 4 1 4-1 3-1-1-2-2-1-3 0-2-3-2-3 1-2-2-4 0-2 1 1 2-3 0-3-1-4 0-2 1-4 2-1 4 0 4-1 3 1 3 2 3 3 2 1 1 4-1 3-1 1-2 0-2 4-1 3 0-1 4-2 2 1 4-2 1 6 0 3 0 2 2 0 5 0 3 2 3 2 1 3-1 2 0 3 2 0 1-1 2-3-3-2 2-3-1-3-1-4-3-1-2-3-4-3 0-5-2-2-1-3-3-2 0-3 1-4-2-5-1-5-3-4-4 0-2-1-3-4-4-3-3-3-3-2-2-2-4-3-1 1 3 2 3 2 4 3 5 1 2-1-1-3-3-1-3-4-3 0-1-2-3-2-4-1-1-3-3-2-1-2 0-3-4-1-3-2-2-2-3 1-3 0-4 0-4-1-5 3 1 1 2-1-4-4-2-5-2-1-3-4-4-3-2-4-4-4-3-5 0-5-2-7 0-5-2-6 2-5 2 2-4-6 5-5 2-4 3-6 2-6 1 5-2 6-3 3-3-5 0-5-3-5-1-1-2 1-3 8-3-4 0-6 0-4-2zM205 163l3-2 1-2 3-1 4-2 1 2 1-1 5 1 1 1 8 0 5 1 3 3 4 3 6 2 5 2 2 2 3 4 1 4 2 2 4 0 4 3 5 1 5 0 4 3 5 2 0 4-1 4-3 3-3 4-1 5-1 5-1 5-2 3-2 2-5 1-4 1-3 3-1 6-3 3-3 4-3 3-4 3-3 0-4-2 3 5-1 3-5 2-4 0-1 3-5 1 2 2-1 2-1 3-4 3-1 1 3 3-3 2-2 3-1 2 1 2 0 3 4 2-4 1-5-1-4-2-3-4-2-4 1-4-1-3 3-2 1-4 0-3-1-4 1-6 2-3 2-5 0-6 1-5 1-5 1-7-1-6-4-3-5-3-3-4-1-4-3-5-2-3-3-4 1-4 0-3 1-3 0-3 2-2 2-3 1-3 0-3-1-2 1-2zM348 108l-2 4-5 3-1 5-3 4-3 2-4 4-3 5-1 3 1 3 0 6-2 4 1 2 1 3 3 2 2 2 2 3 3 3 4 3 4 2 5-1 4 0 4 0 4-2 4-1 3 0 2 3 1 1 2 0 3 0 2 2 1 3-1 2 0 3 1 4 3 4 2 3 1 6 1 5-2 4-1 6 0 2 3 7 2 4 1 7 1 1 2 3 2 4 1 4 1 3 3 2 5-2 6 0 3-1 3-3 4-3 2-3 2-4 1-3 4-2 1-2 0-3-1-4 3-2 3-3 4-3 1-4 0-6-2-5 0-3-1-5 2-3 3-3 3-3 3-3 4-3 3-4 3-6 3-5 0-3-4 1-3 1-5 1-3-2 0-1-2-2-2-2-3-3-2-2-1-4-3-5 0-3-3-1-1-4-2-3-2-4-1-3 0-3-3 0-2 0-4 1-6-2-4-1-4-1-2 2 0 2-2 1-4-1-3-1-1-2-4-1-4 0-2-2 2-2 0-3-2-1-4 0-4 0-6 0-4 1-4 2-3 1-3 0-3-2-1 0zM349 108l-2-2-2 0-3 0 0-3-1-2 2-4-2-3 3-1 8 0 5 0 1-5-3-2-4-3 6 0 0-2 3 0 3-3 3-1 3-2 1-2 7 0 0-4-1-3 5-1 0 3 1 3 2 1 4 0 9-1 5-1 0-4 6 0-1-4 9-1 4-1-3-1-12 1-2-3 0-3 7-4-6-2-1 3-5 2-3 4 3 3-5 5-1 3-6 1-1-2-3-5-1-1-5 3-5-2-1-4 0-3 10-3 5-4 5-5 6-2 10-2 10-1 6 2 4 1 16 3-2 4-10 3 5 1 5-1 8-3 0-5 4 2 14-2 10 0 4-3 12 2 5 1-3-5 4-4 7 1-1 3 1 5 5-8 6 0 4-2 12-1 2-2 18-2 8-2 9-1 5 1 12 2 1 5 13 1 12-1 8 5 10-1 10-2 12 0 8 2 10 1 8 1 4 2 10 0 8-1 12 1 8 1 0 8-3 1-3 4-6 2-8 3-8-1-5 1-3 4 2 4-2 3-4 3-4 2-3 2-2-8 1-5 4-2 4-4 6-3-6 1-10 4-8 0-8 0-8 0-6 4-6 7 5 0 3 2-1 6 0 3-5 4-5 6-7 1-3 1-1 1-2 3-3 1 0 2 3 2 1 4-1 2-5 1 0-3 0-3-2 0-1-2 1-2-2-1-4 1-2 1-1-1 3-2-3-1-3 2-3 2-1 1 3 2 1 1 2-2 4 1-4 3-2 2 3 5 2 3 0 4-3 3-2 4-5 4-6 2-6 2-2 2-2-2-5 2-1 3 1 4 5 3 1 7-5 3-4 4 0-3-2-1-3-3-3-2-2-1-2 7 2 3 1 3 2 0 4 4 0 5 1 2-1 0-4-3-2-5-4-5 0-5 0-6-2-6-3 0-3 1 0-6-3-2-2-3-3-2-4 2-3 1-4 3-5 6-5 6 0 6-5 5-3-4-2-6-4-8 0-4-1-5-5 1-2-3-1-2-2-1-2-3-5 0-5 1-8-2-2-2-5 0-5-2-3-4-4 0 1 3 3 4 3 1 0 4 5 0 4-4 1 3 4 2 3 2-3 4-3 3-4 4-6 3-6 2-8 3-3 1-1-4-1-4-3-6-4-4-1-5-3-4-4-4 0-3-1 3-4-4 0-2 4-1 1-3 2-4 0-2-3-2-4 2-4-1-5 0-1-2-2-2-1-2 0-2-4-1-3 1 1 3 2 2-2 3-3-1-1-3-2-2-1-5-2-1-5-2-3-3-2-1-2 0 0 3 3 3 4 2 5 3-3 2-1 2-2 0 1-4-4-2-4-1-3-3-3-3-4 2-5 0-3 1 0 2-4 2-3 3 1 2-2 2-2 2-5 0-2 1zM0 42l6 1 6 3 6 1 3 1-3 1-4 2-6-1-5-1-3 1zM312 49l4-2 8 1 6-1 3 3-2 1-5 1-4 1-7-1 1-1zM241 85l2-3 2-3 4-2-1 3 5 1 2 4-3 2-4-1-3-1zM113 83l-4-1-6-3 3-1 5 3zM190 136l6-2 4 0 5 2 7 4-7 0-3-3-4-1-6 0zM211 143l3-3 8 1 1 2-5 1-7 0zM203 143l5 1-2 1zM225 143l4 0-1 1-2 0zM349 80l5-1 9-1 0-3-3-2-3-2 0-2-1-4-3-2-3 0-2 4 1 2 5 1-1 2 1 1-3 0 1 3-2 1 4 0zM348 76l0-4 1-1-4-2-2 2-3 1 1 2-2 2 5 1zM385 104l2 0 4-1-1 4-1-1zM377 102l-1-4 2 0 2 1-1 3zM377 97l0-2 2-1 0 2zM407 109l6 0-1 1-4 0zM425 110l1-1 3 0-1 1-2 1zM644 87l-1-4 1-6 1-5 2 1-1 5 3 4-3 3-1 2zM640 97l0-4 3-4 3 2 5 2-4 3-5-1zM622 112l3-3 6 0 3-4 5-2 1-3 1-3 2 2 1 3-2 2 0 4-2 2-2 1-4 0-4 2-6-1zM619 113l3-1 2 3-2 3-2-1-1-3zM625 112l4 0 0 1-3 1zM600 134l3-4 1 1-2 5-2-1zM577 142l4-2 1 1-3 3zM520 164l1-4 3 5-1 3-3 0zM600 143l4 0 0 5 4 5-5-1-2-1-1-3zM604 165l4-2 5-2-1 6-1 2-3-2-4-1zM604 156l7-1 0 5-4 1-2-1-1-3zM594 163l5-6 0 2-4 5zM551 169l4 1 6 6 6 3 2 5 3 2 0 6-3 0-4-4-3-4-4-4-1-4-4-4zM571 194l1-2 5 1 5 0 3 1 4 2 0 1-7-1-6 0-5-2zM578 177l1 5 1 4 3 0 6 2 4-1 0-3 2-6 3 0-2-2 2-7-2-1-2-2-3 4-3 1-2 3-3 1-4 1zM599 191l2 0 0-5 2 3 3 1 0-2-3-4 3-2 1 0-5 1-1-2 0-2 1-1 8-1 0 1-3 1-6 1-1 0-2 5zM622 182l3-1 3 1 3 5 5-4 6 2 7 3 3 3 3 1 1 4 4 4 2 1-6-1-3-2-5-3-1 3-5 0-4-2-2 1-1-5-5-3-3-1-1 0-2-2 3-1-4-2zM657 191l4-1 3-2-1 3-3 1zM615 176l2 2-1 4-1-3zM616 186l6 1-2-1zM608 201l2-3 5-1-2 1-4 2zM592 197l6 0 7-1 1 1-8 1-6 0zM587 224l1 9 2 7 0 7 2 3 4 0 7-2 5-2 4-1 6-2 4 0 6 2 3 5 4-4 0 5 2 0 2 2 2 3 6 2 6 0 3-2 4-1 1-4 2-4 3-5 1-5-1-6-4-4-3-2-5-7-3-6 0-2-4-2-1-6-1-1-2 5 0 6-2 3-3-1-4-2-3-2 2-5 1-1-3 0-5-1-2-1-2 2-2 2-1 4-3 0-3-2-3 2-3 3-3 3-1 3-5 2-5 0-4 3zM649 261l8 1-1 4-2 1-3-2-2-3zM705 249l4 4 3 2 5 0-3 4-1 2-3 2-1-3-1-2 1-2-3-6zM705 261l3 2-1 3-5 3-4 4-5-1 3-4 7-4zM459 204l2 5 0 2-2 4-2 7-2 8-5 1-2-4-1-4 2-5-1-5 4-2 2-2 2-2zM464 37l4-4 5-3 7-2 8-2 9 0-5 2-10 3-6 3-3 3 2 2-5 0zM186 50l8 0 3 3-9 0z" fill="none" stroke="#1a1a1a" stroke-width="0.6" vector-effect="non-scaling-stroke"/>
<path d="M0 341l20 0 20 0 10-4 10-3 10-3 10-1 10-1 10 0 10-1 10-1 10 1 10 1 10 0 10-2 10-1 10 0 10 1 10-1 8-2 8-3 8-5 6-4 5-3 2 3-3 5-2 6 2 7 6 7 10 3 20 1 14-4 10-2 10-3 8-3 12-3 12-3 12-1 12-2 12 0 12 0 12 0 12 0 12-1 10-1 10 0 10-2 10-2 10-1 10 2 10 0 10 2 4 3 8-1 8-3 10-2 10-1 10-1 10 0 10 0 10 0 10 2 10 0 10-1 10-1 10 0 10 1 10 2 10 2 10 1 10 2 8 2 6 1 6 1-2 3-6 3-4 2-1 3 5 2 8 2 10 1 10 1" fill="none" stroke="#444" stroke-width="0.55" vector-effect="non-scaling-stroke"/>
</g></g>
<rect x="228.1" y="96.4" width="127.3" height="63.2" fill="none" stroke="#ababab" stroke-width="0.6"/>
<ellipse cx="261.35" cy="109.0" rx="12.92" ry="8.37" fill="none" stroke="#1d58a5" stroke-width="1.35"/>
<text x="226.2" y="97.6" class="ax" text-anchor="end">90°N</text>
<text x="226.2" y="108.1" class="ax" text-anchor="end">60°N</text>
<text x="226.2" y="118.7" class="ax" text-anchor="end">30°N</text>
<text x="226.2" y="129.2" class="ax" text-anchor="end">0°</text>
<text x="226.2" y="139.7" class="ax" text-anchor="end">30°S</text>
<text x="226.2" y="150.3" class="ax" text-anchor="end">60°S</text>
<text x="226.2" y="160.8" class="ax" text-anchor="end">90°S</text>
<path d="M226.8 96.40h1.3M226.8 106.93h1.3M226.8 117.47h1.3M226.8 128.00h1.3M226.8 138.53h1.3M226.8 149.07h1.3M226.8 159.60h1.3M228.10 159.6v1.2M249.32 159.6v1.2M270.53 159.6v1.2M291.75 159.6v1.2M312.97 159.6v1.2M334.18 159.6v1.2M355.40 159.6v1.2" stroke="#666" stroke-width="0.4" fill="none"/>
<text x="228.1" y="164.7" class="ax" text-anchor="middle">180°</text>
<text x="249.3" y="164.7" class="ax" text-anchor="middle">120°W</text>
<text x="270.5" y="164.7" class="ax" text-anchor="middle">60°W</text>
<text x="291.8" y="164.7" class="ax" text-anchor="middle">0°W</text>
<text x="313.0" y="164.7" class="ax" text-anchor="middle">60°E</text>
<text x="334.2" y="164.7" class="ax" text-anchor="middle">120°E</text>
<text x="355.4" y="164.7" class="ax" text-anchor="middle">180°</text>
<rect x="215.90" y="165.70" width="19.21" height="3.6" fill="#3565d5"/>
<rect x="234.86" y="165.70" width="19.21" height="3.6" fill="#5b88e6"/>
<rect x="253.82" y="165.70" width="19.21" height="3.6" fill="#8fafef"/>
<rect x="272.79" y="165.70" width="19.21" height="3.6" fill="#c5d3f2"/>
<rect x="291.75" y="165.70" width="19.21" height="3.6" fill="#f8d8ce"/>
<rect x="310.71" y="165.70" width="19.21" height="3.6" fill="#f5b09a"/>
<rect x="329.67" y="165.70" width="19.21" height="3.6" fill="#f07a60"/>
<rect x="348.64" y="165.70" width="19.21" height="3.6" fill="#e33a2a"/>
<path d="M216.10 165.70L208.31 167.50L216.10 169.30Z" fill="#1838b8"/>
<path d="M367.40 165.70L375.18 167.50L367.40 169.30Z" fill="#c40c12"/>
<path d="M215.90 165.70H367.60L375.18 167.50L367.60 169.30H215.90L208.31 167.50Z" fill="none" stroke="#555" stroke-width="0.3"/>
<text x="215.9" y="174.40" class="cb" text-anchor="middle">-0.04</text>
<text x="234.9" y="174.40" class="cb" text-anchor="middle">-0.03</text>
<text x="253.8" y="174.40" class="cb" text-anchor="middle">-0.02</text>
<text x="272.8" y="174.40" class="cb" text-anchor="middle">-0.01</text>
<text x="291.8" y="174.40" class="cb" text-anchor="middle">0.00</text>
<text x="310.7" y="174.40" class="cb" text-anchor="middle">0.01</text>
<text x="329.7" y="174.40" class="cb" text-anchor="middle">0.02</text>
<text x="348.6" y="174.40" class="cb" text-anchor="middle">0.03</text>
<text x="367.6" y="174.40" class="cb" text-anchor="middle">0.04</text>
<clipPath id="fp21"><rect x="396.5" y="95.9" width="127.8" height="63.9"/></clipPath>
<g clip-path="url(#fp21)"><g transform="translate(396.5 95.90) scale(0.177500 0.177500)">
<rect width="720" height="360" fill="#162c80" clip-path="url(#land)"/>
<g clip-path="url(#land)">
<path d="M222 104l-19-6-8-5-11-11-19 4-12 8-7 10 6 11 17 3 15 6 21 1 12-10z" fill="#0f2468"/>
<path d="M156 100l-7-6-5-5-8-6-11 1-1 11-9 5 9 6 4 5 8 1 9 0 10-3z" fill="#234ea0"/>
<path d="M431 176l-1-10-13-5-13-9-15 7-17 5-5 12 20 6 7 5 10 10 10-10 18-1z" fill="#0f2468"/>
<path d="M419 80l0-8-9-9-20 0-22-2-14 8-6 11 2 11 25 2 15 5 18-2 19-5z" fill="#1d3490"/>
<path d="M431 230l-10-8-10-2-7-3-8 2-13 1 0 10-1 10 11 5 11-1 8-3 4-6z" fill="#234ea0"/>
<path d="M661 232l-10-7-12-4-11-9-16 4-8 8 0 8-6 10 9 11 21-4 11-6 13-3z" fill="#1d3490"/>
<path d="M77 52l-3-7-14-2-10-8-12 7-11 3 1 7-1 7 4 9 19-4 15 1 2-8z" fill="#2168ad"/>
<path d="M191 70l2-4-21-3-22-2-23 2-27 2-15 5 15 5 16 6 34-2 33 1 16-5z" fill="#2168ad"/>
<path d="M186 52l15-7-35-1-22 0-36-5-25 5 8 8 21 4 6 6 26 1 21-3 39-1z" fill="#2596c1"/>
<path d="M200 48l-17-3-4-4-19-1-27-1-1 6-3 3-8 4 16 4 23 1 24-1 17-3z" fill="#44b4c4"/>
<path d="M187 46l-2-2-9-1-6-1-6 1-5 1-5 2 1 2 9 0 6 2 7-1 5-1z" fill="#86cfbb"/>
<path d="M426 134l-4-5-11-6-31-3-35 1-7 8-14 5 17 5 14 4 25 2 29 0 19-5z" fill="#44b4c4"/>
<path d="M471 134l-7-5-4-6-8 2-12-7-2 10-3 6 4 6 4 7 9-1 8-1 10-3z" fill="#2596c1"/>
<path d="M523 86l7-6-19-4-21 3-21-3-2 6-3 4-14 6 26 1 14 5 18-3 21-3z" fill="#2168ad"/>
<path d="M604 98l-29-4-7-4-18-1-24-2-11 6-5 5-4 6 24 3 20-2 14-1 19-1z" fill="#234ea0"/>
<path d="M557 114l0-3-6-4-15 0-12 2-11 2 7 3-2 3 7 2 11 1 12-1 15-1z" fill="#234ea0"/>
<path d="M583 144l-1-6-1-9-11-4-9 6-5 6-1 7-1 7 8 5 8 0 7-2 16 1z" fill="#2168ad"/>
<path d="M687 44l23-8-61-4-69-3-76 2-29 7-18 6-15 8 85 1 53 6 51-6 77-2z" fill="#1d3490"/>
<path d="M644 230l-3-5-5-5-10-3-12 2-9 4 1 7 9 4-1 7 12-2 11 2 0-7z" fill="#234ea0"/>
<path d="M291 204l-2-10-7-5-6-7-5 10-4 5-6 7 4 9 5 6 6 5 8-2 2-10z" fill="#2168ad"/>
<path d="M235 270l0-10-7-1-4-2-4 2-6 2 1 9-1 9 5 5 5 3 4-5 3-6z" fill="#234ea0"/>
<path d="M596 60l20-4-40-2-36-2-44 0-37 3 7 5 8 4 40 1 26 1 50 3 12-5z" fill="#2596c1"/>
<path d="M400 132l-10-4-7-4-13-1-14 1-2 5 0 3 0 3 6 3 10 4 8-5 16 0z" fill="#44b4c4"/>
<path d="M415 136l-6-2-3-2-6-3-8 2-5 2 2 3-1 3 5 1 7 1 8 0 1-3z" fill="#c6e7b4"/>
<path d="M372 136h0M410 113h0" stroke="#c6e7b4" stroke-width="9.0" stroke-linecap="round"/>
<path d="M415 131h0M328 113h0M344 122h0M428 146h0" stroke="#c6e7b4" stroke-width="12.0" stroke-linecap="round"/>
<path d="M427 123h0M405 110h0M400 114h0M432 128h0" stroke="#234ea0" stroke-width="12.0" stroke-linecap="round"/>
<path d="M330 140h0M399 133h0M349 111h0" stroke="#eef8c2" stroke-width="12.0" stroke-linecap="round"/>
<path d="M329 121h0M361 133h0M399 113h0" stroke="#eef8c2" stroke-width="9.0" stroke-linecap="round"/>
<path d="M388 129h0" stroke="#44b4c4" stroke-width="12.0" stroke-linecap="round"/>
<path d="M424 136h0" stroke="#234ea0" stroke-width="9.0" stroke-linecap="round"/>
<path d="M387 121h0M346 147h0" stroke="#44b4c4" stroke-width="9.0" stroke-linecap="round"/>
<path d="M119 45h0M109 64h0M50 68h0M80 69h0" stroke="#c6e7b4" stroke-width="12.0" stroke-linecap="round"/>
<path d="M71 67h0M20 53h0M87 31h0M166 50h0" stroke="#c6e7b4" stroke-width="9.0" stroke-linecap="round"/>
<path d="M82 64h0M125 58h0M88 52h0" stroke="#eef8c2" stroke-width="12.0" stroke-linecap="round"/>
<path d="M172 67h0M26 34h0" stroke="#eef8c2" stroke-width="9.0" stroke-linecap="round"/>
<path d="M59 61h0M135 34h0M215 49h0M26 47h0" stroke="#86cfbb" stroke-width="12.0" stroke-linecap="round"/>
<path d="M53 55h0M22 51h0" stroke="#44b4c4" stroke-width="12.0" stroke-linecap="round"/>
<path d="M56 56h0" stroke="#eef8c2" stroke-width="6.0" stroke-linecap="round"/>
<path d="M24 40h0M42 58h0" stroke="#44b4c4" stroke-width="9.0" stroke-linecap="round"/>
<path d="M560 122h0M560 114h0M533 106h0M533 99h0M469 84h0" stroke="#234ea0" stroke-width="12.0" stroke-linecap="round"/>
<path d="M476 126h0M547 118h0M457 97h0M459 107h0" stroke="#234ea0" stroke-width="9.0" stroke-linecap="round"/>
<path d="M468 87h0" stroke="#c6e7b4" stroke-width="6.0" stroke-linecap="round"/>
<path d="M470 113h0M597 100h0M493 72h0M536 120h0M516 97h0" stroke="#44b4c4" stroke-width="12.0" stroke-linecap="round"/>
<path d="M466 99h0" stroke="#eef8c2" stroke-width="9.0" stroke-linecap="round"/>
<path d="M575 95h0M449 102h0M452 97h0M510 117h0" stroke="#eef8c2" stroke-width="12.0" stroke-linecap="round"/>
<path d="M582 96h0M562 106h0M518 96h0M534 119h0" stroke="#1d3490" stroke-width="12.0" stroke-linecap="round"/>
<path d="M563 119h0M540 105h0" stroke="#c6e7b4" stroke-width="12.0" stroke-linecap="round"/>
<path d="M528 89h0" stroke="#c6e7b4" stroke-width="9.0" stroke-linecap="round"/>
<path d="M547 117h0M461 98h0M498 116h0" stroke="#1d3490" stroke-width="9.0" stroke-linecap="round"/>
<path d="M676 85h0M628 56h0M573 50h0M603 76h0" stroke="#44b4c4" stroke-width="12.0" stroke-linecap="round"/>
<path d="M644 61h0M699 47h0M518 62h0M638 74h0M532 63h0" stroke="#2596c1" stroke-width="12.0" stroke-linecap="round"/>
<path d="M585 22h0M471 65h0M513 85h0M463 47h0" stroke="#1d3490" stroke-width="12.0" stroke-linecap="round"/>
<path d="M582 52h0" stroke="#c6e7b4" stroke-width="12.0" stroke-linecap="round"/>
<path d="M631 22h0M501 80h0" stroke="#c6e7b4" stroke-width="9.0" stroke-linecap="round"/>
<path d="M661 66h0M464 55h0" stroke="#44b4c4" stroke-width="9.0" stroke-linecap="round"/>
<path d="M685 82h0M528 80h0" stroke="#2596c1" stroke-width="9.0" stroke-linecap="round"/>
<path d="M695 23h0" stroke="#1d3490" stroke-width="6.0" stroke-linecap="round"/>
<path d="M619 56h0" stroke="#1d3490" stroke-width="9.0" stroke-linecap="round"/>
<path d="M598 103h0" stroke="#1d3490" stroke-width="6.0" stroke-linecap="round"/>
<path d="M562 98h0M149 87h0M248 68h0" stroke="#1d3490" stroke-width="9.0" stroke-linecap="round"/>
<path d="M565 102h0M393 70h0M118 98h0" stroke="#44b4c4" stroke-width="12.0" stroke-linecap="round"/>
<path d="M136 90h0M146 83h0M582 104h0M582 124h0" stroke="#2596c1" stroke-width="12.0" stroke-linecap="round"/>
<path d="M182 81h0" stroke="#44b4c4" stroke-width="9.0" stroke-linecap="round"/>
<path d="M141 117h0M223 87h0" stroke="#2596c1" stroke-width="9.0" stroke-linecap="round"/>
<path d="M161 84h0M121 114h0M578 124h0" stroke="#1d3490" stroke-width="12.0" stroke-linecap="round"/>
<path d="M282 211h0M210 180h0M395 223h0" stroke="#2596c1" stroke-width="12.0" stroke-linecap="round"/>
<path d="M383 219h0" stroke="#2168ad" stroke-width="12.0" stroke-linecap="round"/>
<path d="M445 205h0M253 164h0M624 216h0M439 223h0M420 250h0M404 229h0" stroke="#2596c1" stroke-width="9.0" stroke-linecap="round"/>
<path d="M583 202h0M262 188h0M277 173h0M212 210h0" stroke="#2168ad" stroke-width="9.0" stroke-linecap="round"/>
<path d="M591 267h0" stroke="#2168ad" stroke-width="6.0" stroke-linecap="round"/>
<path d="M609 248h0" stroke="#0f2468" stroke-width="12.0" stroke-linecap="round"/>
<path d="M610 241h0" stroke="#0f2468" stroke-width="9.0" stroke-linecap="round"/>
</g>
<path d="M214 24l6-3 8-3 12-2 16-1 14-1 14-1 20 0 12 2 8 1 12 1-6 3-8 2 1 3-3 3 2 3-6 4 0 4-5 2-5 2-8 1-8 4-7 1-4 2-3 4-2 4-3 1-5-2-4-2-3-3-2-3-4-3-1-3 5-2-3-3 2-1-5-1-2-3-3-3-4-3-8 0-8 0-4-2-5-1zM382 23l3-2 7-1 8-1 14 1-8 3-6 2-7 2-6-3zM454 19l10-2 16 0 8 1-12 2-16 0zM550 22l4-3 6-1 9 3-5 2-8 1zM632 29l6-1 4 0 10 1 9 1-9 1-10 2-6-1zM717 38l3-1 0 1zM0 37l5 1-5 0z" fill="#fff" stroke="#333" stroke-width="0.5" vector-effect="non-scaling-stroke"/>
<path d="M200 32l8 3 10 3 7 3 2 2 9 3-3 4-4 5-5 0-7-2-6-2-6 0-2-2 9-4-10-4-6-1-8 0-6-2-1-4 7-1 6 0zM123 37l7-4 14 0 7 1 7 5-8 3-10 1-8-1-7-1-3-3zM109 36l3-4 9 0 8 1-7 4-9 1zM201 27l9-2 3-2 7-1 10-3 7-3-17-2-20 0-20 2-10 2-4 3 8 2 8 2 8 2zM176 29l8-2 16 1-1 2-9 1-14-1zM170 33l9-1-2 4-7 0zM158 33l8 0 0 3-9 0zM128 30l8-3 12 1 0 2-8 1-14 0zM160 27l8 0 2 3-10 0zM162 42l6-1 0 2-6 0zM116 27l12-2-2 3z" fill="#fff" stroke="#1a1a1a" stroke-width="0.8" vector-effect="non-scaling-stroke"/>
<path d="M416 97l0-4 3-3 3-3 3 1 2 3 4-1 2-1 4-3 2 0-3 2-1 2 4 3 4 4-3 1-7-1-3-1-4 0-4 2-4 0zM454 92l1-3 4-2 4-1 3 0 0 3-3 2 0 3 2 2 1 3 2 2 0 4-6 2-4-2 1-6-2-3-2-2z" fill="#fff" stroke="#1a1a1a" stroke-width="0.6" vector-effect="non-scaling-stroke"/>
<path d="M24 49l3-6 7-3 13-3 9 1 10 1 12 2 10 1 8-1 8-1 8 1 8 1 10 1 10 1 8-1 10 1 6-1 4-2 3-4 4 2 5 3 4 1 5-2 6 0 2 4-7 1-3 2-2 3-6 2-7 5 0 4 3 4 9 1 6 2 5 1 1 5 3 2 3-1 1-5 3-4-1-4 0-4-1-4 9 0 6 3 2 4 4 1 3-2 3-2 5 6 3 4 6 3 4 4-3 1-6 3-8 0-5 0-5 3-4 3 5-3 5-1 3 0-1 2 1 4 5 0 4 0-3 2-4 1-4 2-1-2 3-2-3 1-2 0-4 2-2 1-1 2 1 1-3 1-3 1-2 1 0 1-2 2-1 1-1 3 1 3-2 2-3 1-2 2-4 2-1 3 2 4 1 4-1 3-1-1-2-2-1-3 0-2-3-2-3 1-2-2-4 0-2 1 1 2-3 0-3-1-4 0-2 1-4 2-1 4 0 4-1 3 1 3 2 3 3 2 1 1 4-1 3-1 1-2 0-2 4-1 3 0-1 4-2 2 1 4-2 1 6 0 3 0 2 2 0 5 0 3 2 3 2 1 3-1 2 0 3 2 0 1-1 2-3-3-2 2-3-1-3-1-4-3-1-2-3-4-3 0-5-2-2-1-3-3-2 0-3 1-4-2-5-1-5-3-4-4 0-2-1-3-4-4-3-3-3-3-2-2-2-4-3-1 1 3 2 3 2 4 3 5 1 2-1-1-3-3-1-3-4-3 0-1-2-3-2-4-1-1-3-3-2-1-2 0-3-4-1-3-2-2-2-3 1-3 0-4 0-4-1-5 3 1 1 2-1-4-4-2-5-2-1-3-4-4-3-2-4-4-4-3-5 0-5-2-7 0-5-2-6 2-5 2 2-4-6 5-5 2-4 3-6 2-6 1 5-2 6-3 3-3-5 0-5-3-5-1-1-2 1-3 8-3-4 0-6 0-4-2zM205 163l3-2 1-2 3-1 4-2 1 2 1-1 5 1 1 1 8 0 5 1 3 3 4 3 6 2 5 2 2 2 3 4 1 4 2 2 4 0 4 3 5 1 5 0 4 3 5 2 0 4-1 4-3 3-3 4-1 5-1 5-1 5-2 3-2 2-5 1-4 1-3 3-1 6-3 3-3 4-3 3-4 3-3 0-4-2 3 5-1 3-5 2-4 0-1 3-5 1 2 2-1 2-1 3-4 3-1 1 3 3-3 2-2 3-1 2 1 2 0 3 4 2-4 1-5-1-4-2-3-4-2-4 1-4-1-3 3-2 1-4 0-3-1-4 1-6 2-3 2-5 0-6 1-5 1-5 1-7-1-6-4-3-5-3-3-4-1-4-3-5-2-3-3-4 1-4 0-3 1-3 0-3 2-2 2-3 1-3 0-3-1-2 1-2zM348 108l-2 4-5 3-1 5-3 4-3 2-4 4-3 5-1 3 1 3 0 6-2 4 1 2 1 3 3 2 2 2 2 3 3 3 4 3 4 2 5-1 4 0 4 0 4-2 4-1 3 0 2 3 1 1 2 0 3 0 2 2 1 3-1 2 0 3 1 4 3 4 2 3 1 6 1 5-2 4-1 6 0 2 3 7 2 4 1 7 1 1 2 3 2 4 1 4 1 3 3 2 5-2 6 0 3-1 3-3 4-3 2-3 2-4 1-3 4-2 1-2 0-3-1-4 3-2 3-3 4-3 1-4 0-6-2-5 0-3-1-5 2-3 3-3 3-3 3-3 4-3 3-4 3-6 3-5 0-3-4 1-3 1-5 1-3-2 0-1-2-2-2-2-3-3-2-2-1-4-3-5 0-3-3-1-1-4-2-3-2-4-1-3 0-3-3 0-2 0-4 1-6-2-4-1-4-1-2 2 0 2-2 1-4-1-3-1-1-2-4-1-4 0-2-2 2-2 0-3-2-1-4 0-4 0-6 0-4 1-4 2-3 1-3 0-3-2-1 0zM349 108l-2-2-2 0-3 0 0-3-1-2 2-4-2-3 3-1 8 0 5 0 1-5-3-2-4-3 6 0 0-2 3 0 3-3 3-1 3-2 1-2 7 0 0-4-1-3 5-1 0 3 1 3 2 1 4 0 9-1 5-1 0-4 6 0-1-4 9-1 4-1-3-1-12 1-2-3 0-3 7-4-6-2-1 3-5 2-3 4 3 3-5 5-1 3-6 1-1-2-3-5-1-1-5 3-5-2-1-4 0-3 10-3 5-4 5-5 6-2 10-2 10-1 6 2 4 1 16 3-2 4-10 3 5 1 5-1 8-3 0-5 4 2 14-2 10 0 4-3 12 2 5 1-3-5 4-4 7 1-1 3 1 5 5-8 6 0 4-2 12-1 2-2 18-2 8-2 9-1 5 1 12 2 1 5 13 1 12-1 8 5 10-1 10-2 12 0 8 2 10 1 8 1 4 2 10 0 8-1 12 1 8 1 0 8-3 1-3 4-6 2-8 3-8-1-5 1-3 4 2 4-2 3-4 3-4 2-3 2-2-8 1-5 4-2 4-4 6-3-6 1-10 4-8 0-8 0-8 0-6 4-6 7 5 0 3 2-1 6 0 3-5 4-5 6-7 1-3 1-1 1-2 3-3 1 0 2 3 2 1 4-1 2-5 1 0-3 0-3-2 0-1-2 1-2-2-1-4 1-2 1-1-1 3-2-3-1-3 2-3 2-1 1 3 2 1 1 2-2 4 1-4 3-2 2 3 5 2 3 0 4-3 3-2 4-5 4-6 2-6 2-2 2-2-2-5 2-1 3 1 4 5 3 1 7-5 3-4 4 0-3-2-1-3-3-3-2-2-1-2 7 2 3 1 3 2 0 4 4 0 5 1 2-1 0-4-3-2-5-4-5 0-5 0-6-2-6-3 0-3 1 0-6-3-2-2-3-3-2-4 2-3 1-4 3-5 6-5 6 0 6-5 5-3-4-2-6-4-8 0-4-1-5-5 1-2-3-1-2-2-1-2-3-5 0-5 1-8-2-2-2-5 0-5-2-3-4-4 0 1 3 3 4 3 1 0 4 5 0 4-4 1 3 4 2 3 2-3 4-3 3-4 4-6 3-6 2-8 3-3 1-1-4-1-4-3-6-4-4-1-5-3-4-4-4 0-3-1 3-4-4 0-2 4-1 1-3 2-4 0-2-3-2-4 2-4-1-5 0-1-2-2-2-1-2 0-2-4-1-3 1 1 3 2 2-2 3-3-1-1-3-2-2-1-5-2-1-5-2-3-3-2-1-2 0 0 3 3 3 4 2 5 3-3 2-1 2-2 0 1-4-4-2-4-1-3-3-3-3-4 2-5 0-3 1 0 2-4 2-3 3 1 2-2 2-2 2-5 0-2 1zM0 42l6 1 6 3 6 1 3 1-3 1-4 2-6-1-5-1-3 1zM312 49l4-2 8 1 6-1 3 3-2 1-5 1-4 1-7-1 1-1zM241 85l2-3 2-3 4-2-1 3 5 1 2 4-3 2-4-1-3-1zM113 83l-4-1-6-3 3-1 5 3zM190 136l6-2 4 0 5 2 7 4-7 0-3-3-4-1-6 0zM211 143l3-3 8 1 1 2-5 1-7 0zM203 143l5 1-2 1zM225 143l4 0-1 1-2 0zM349 80l5-1 9-1 0-3-3-2-3-2 0-2-1-4-3-2-3 0-2 4 1 2 5 1-1 2 1 1-3 0 1 3-2 1 4 0zM348 76l0-4 1-1-4-2-2 2-3 1 1 2-2 2 5 1zM385 104l2 0 4-1-1 4-1-1zM377 102l-1-4 2 0 2 1-1 3zM377 97l0-2 2-1 0 2zM407 109l6 0-1 1-4 0zM425 110l1-1 3 0-1 1-2 1zM644 87l-1-4 1-6 1-5 2 1-1 5 3 4-3 3-1 2zM640 97l0-4 3-4 3 2 5 2-4 3-5-1zM622 112l3-3 6 0 3-4 5-2 1-3 1-3 2 2 1 3-2 2 0 4-2 2-2 1-4 0-4 2-6-1zM619 113l3-1 2 3-2 3-2-1-1-3zM625 112l4 0 0 1-3 1zM600 134l3-4 1 1-2 5-2-1zM577 142l4-2 1 1-3 3zM520 164l1-4 3 5-1 3-3 0zM600 143l4 0 0 5 4 5-5-1-2-1-1-3zM604 165l4-2 5-2-1 6-1 2-3-2-4-1zM604 156l7-1 0 5-4 1-2-1-1-3zM594 163l5-6 0 2-4 5zM551 169l4 1 6 6 6 3 2 5 3 2 0 6-3 0-4-4-3-4-4-4-1-4-4-4zM571 194l1-2 5 1 5 0 3 1 4 2 0 1-7-1-6 0-5-2zM578 177l1 5 1 4 3 0 6 2 4-1 0-3 2-6 3 0-2-2 2-7-2-1-2-2-3 4-3 1-2 3-3 1-4 1zM599 191l2 0 0-5 2 3 3 1 0-2-3-4 3-2 1 0-5 1-1-2 0-2 1-1 8-1 0 1-3 1-6 1-1 0-2 5zM622 182l3-1 3 1 3 5 5-4 6 2 7 3 3 3 3 1 1 4 4 4 2 1-6-1-3-2-5-3-1 3-5 0-4-2-2 1-1-5-5-3-3-1-1 0-2-2 3-1-4-2zM657 191l4-1 3-2-1 3-3 1zM615 176l2 2-1 4-1-3zM616 186l6 1-2-1zM608 201l2-3 5-1-2 1-4 2zM592 197l6 0 7-1 1 1-8 1-6 0zM587 224l1 9 2 7 0 7 2 3 4 0 7-2 5-2 4-1 6-2 4 0 6 2 3 5 4-4 0 5 2 0 2 2 2 3 6 2 6 0 3-2 4-1 1-4 2-4 3-5 1-5-1-6-4-4-3-2-5-7-3-6 0-2-4-2-1-6-1-1-2 5 0 6-2 3-3-1-4-2-3-2 2-5 1-1-3 0-5-1-2-1-2 2-2 2-1 4-3 0-3-2-3 2-3 3-3 3-1 3-5 2-5 0-4 3zM649 261l8 1-1 4-2 1-3-2-2-3zM705 249l4 4 3 2 5 0-3 4-1 2-3 2-1-3-1-2 1-2-3-6zM705 261l3 2-1 3-5 3-4 4-5-1 3-4 7-4zM459 204l2 5 0 2-2 4-2 7-2 8-5 1-2-4-1-4 2-5-1-5 4-2 2-2 2-2zM464 37l4-4 5-3 7-2 8-2 9 0-5 2-10 3-6 3-3 3 2 2-5 0zM186 50l8 0 3 3-9 0z" fill="none" stroke="#1a1a1a" stroke-width="0.6" vector-effect="non-scaling-stroke"/>
<path d="M0 341l20 0 20 0 10-4 10-3 10-3 10-1 10-1 10 0 10-1 10-1 10 1 10 1 10 0 10-2 10-1 10 0 10 1 10-1 8-2 8-3 8-5 6-4 5-3 2 3-3 5-2 6 2 7 6 7 10 3 20 1 14-4 10-2 10-3 8-3 12-3 12-3 12-1 12-2 12 0 12 0 12 0 12 0 12-1 10-1 10 0 10-2 10-2 10-1 10 2 10 0 10 2 4 3 8-1 8-3 10-2 10-1 10-1 10 0 10 0 10 0 10 2 10 0 10-1 10-1 10 0 10 1 10 2 10 2 10 1 10 2 8 2 6 1 6 1-2 3-6 3-4 2-1 3 5 2 8 2 10 1 10 1" fill="none" stroke="#444" stroke-width="0.55" vector-effect="non-scaling-stroke"/>
</g></g>
<rect x="396.5" y="95.9" width="127.8" height="63.9" fill="none" stroke="#ababab" stroke-width="0.6"/>
<ellipse cx="427.3" cy="109.3" rx="12.95" ry="8.55" fill="none" stroke="#ee7a22" stroke-width="1.3"/>
<ellipse cx="491.9" cy="111.1" rx="20.40" ry="10.20" fill="none" stroke="#ee7a22" stroke-width="1.3"/>
<text x="394.6" y="97.1" class="ax" text-anchor="end">90°N</text>
<text x="394.6" y="107.8" class="ax" text-anchor="end">60°N</text>
<text x="394.6" y="118.4" class="ax" text-anchor="end">30°N</text>
<text x="394.6" y="129.1" class="ax" text-anchor="end">0°</text>
<text x="394.6" y="139.7" class="ax" text-anchor="end">30°S</text>
<text x="394.6" y="150.3" class="ax" text-anchor="end">60°S</text>
<text x="394.6" y="161.0" class="ax" text-anchor="end">90°S</text>
<path d="M395.2 95.90h1.3M395.2 106.55h1.3M395.2 117.20h1.3M395.2 127.85h1.3M395.2 138.50h1.3M395.2 149.15h1.3M395.2 159.80h1.3M396.50 159.8v1.2M417.80 159.8v1.2M439.10 159.8v1.2M460.40 159.8v1.2M481.70 159.8v1.2M503.00 159.8v1.2M524.30 159.8v1.2" stroke="#666" stroke-width="0.4" fill="none"/>
<text x="396.5" y="164.9" class="ax" text-anchor="middle">180°</text>
<text x="417.8" y="164.9" class="ax" text-anchor="middle">120°W</text>
<text x="439.1" y="164.9" class="ax" text-anchor="middle">60°W</text>
<text x="460.4" y="164.9" class="ax" text-anchor="middle">0°W</text>
<text x="481.7" y="164.9" class="ax" text-anchor="middle">60°E</text>
<text x="503.0" y="164.9" class="ax" text-anchor="middle">120°E</text>
<text x="524.3" y="164.9" class="ax" text-anchor="middle">180°</text>
<rect x="384.30" y="165.90" width="15.47" height="3.6" fill="#f4fbc6"/>
<rect x="399.52" y="165.90" width="15.47" height="3.6" fill="#e4f4b4"/>
<rect x="414.74" y="165.90" width="15.47" height="3.6" fill="#c4e7b4"/>
<rect x="429.96" y="165.90" width="15.47" height="3.6" fill="#8fd3ba"/>
<rect x="445.18" y="165.90" width="15.47" height="3.6" fill="#5abfc0"/>
<rect x="460.40" y="165.90" width="15.47" height="3.6" fill="#2fa5c2"/>
<rect x="475.62" y="165.90" width="15.47" height="3.6" fill="#1f84b8"/>
<rect x="490.84" y="165.90" width="15.47" height="3.6" fill="#225ea8"/>
<rect x="506.06" y="165.90" width="15.47" height="3.6" fill="#243d98"/>
<rect x="521.28" y="165.90" width="15.47" height="3.6" fill="#13266e"/>
<path d="M384.50 165.90L376.69 167.70L384.50 169.50Z" fill="#ffffd9"/>
<path d="M536.30 165.90L544.11 167.70L536.30 169.50Z" fill="#081d58"/>
<path d="M384.30 165.90H536.50L544.11 167.70L536.50 169.50H384.30L376.69 167.70Z" fill="none" stroke="#555" stroke-width="0.3"/>
<text x="384.3" y="174.60" class="cb" text-anchor="middle">0.0</text>
<text x="399.5" y="174.60" class="cb" text-anchor="middle">0.1</text>
<text x="414.7" y="174.60" class="cb" text-anchor="middle">0.2</text>
<text x="430.0" y="174.60" class="cb" text-anchor="middle">0.3</text>
<text x="445.2" y="174.60" class="cb" text-anchor="middle">0.4</text>
<text x="460.4" y="174.60" class="cb" text-anchor="middle">0.5</text>
<text x="475.6" y="174.60" class="cb" text-anchor="middle">0.6</text>
<text x="490.8" y="174.60" class="cb" text-anchor="middle">0.7</text>
<text x="506.1" y="174.60" class="cb" text-anchor="middle">0.8</text>
<text x="521.3" y="174.60" class="cb" text-anchor="middle">0.9</text>
<text x="536.5" y="174.60" class="cb" text-anchor="middle">1.0</text>
<clipPath id="fp02"><rect x="64.3" y="179.2" width="127.1" height="63.4"/></clipPath>
<g clip-path="url(#fp02)"><g transform="translate(64.3 179.20) scale(0.176528 0.176111)">
<rect width="720" height="360" fill="#df2427" clip-path="url(#land)"/>
<g clip-path="url(#land)">
<path d="M376 204l0-34 24 2 44-2 4 34z" fill="#c0141c"/>
<path d="M380 252l0-48 68 0 0 48z" fill="#cc1a20"/>
<path d="M324 164l0-16 36 4 30 2 30-2 16-4 12 8-4 14-44 2-40-4z" fill="#b0101a"/>
<path d="M326 148l0-22 16-10 18-6 20 2 20 6 24 0 6 18 6 12-16 4-30 2-30-2z" fill="#9c0c14"/>
<path d="M428 120l28-2 18 10 6 8-16 14-18 6-10-16z" fill="#a80e16"/>
<path d="M262 192l-10-7 2-15-18 7-15-3-5 10-6 8 5 9 5 11 16-5 19 8 9-11z" fill="#c8141e"/>
<path d="M523 84l-14-5-6-8-23 2-33-7-25 7 17 11-4 8 13 9 32-3 27 1 3-9z" fill="#e84440"/>
<path d="M452 70l-13-5-3-8-16-6-15 7-15 4-7 8 6 8 21 0 10 7 11-6 23 0z" fill="#e84440"/>
<path d="M609 60l-4-7-28-1-17-6-22 3-14 5-11 6-2 8 20 6 29 2 31-1 6-9z" fill="#e84440"/>
<path d="M179 80l-1-9-18-5-20 3-26-7 2 12-10 6-9 10 19 7 24 3 24-3 8-10z" fill="#e84440"/>
<path d="M648 230l-5-6-6-5-11-4-11 4-8 5-7 6 11 5 1 9 14 1 14 0 8-8z" fill="#e84440"/>
<path d="M607 138h0M490 101h0M422 83h0M513 91h0M497 78h0M449 111h0M449 54h0M592 92h0M641 89h0M475 63h0M576 95h0M523 99h0M459 97h0M459 121h0" stroke="#ee5448" stroke-width="6.0" stroke-linecap="round"/>
<path d="M513 93h0M490 75h0M545 103h0M447 70h0M575 101h0M663 83h0" stroke="#f47a6a" stroke-width="12.0" stroke-linecap="round"/>
<path d="M596 96h0M482 72h0M668 27h0M459 113h0M481 112h0" stroke="#f8a090" stroke-width="12.0" stroke-linecap="round"/>
<path d="M525 75h0M719 74h0M708 76h0M494 99h0M656 41h0M534 59h0M450 121h0M524 74h0" stroke="#f8a090" stroke-width="9.0" stroke-linecap="round"/>
<path d="M599 83h0M522 79h0M456 97h0M587 60h0M491 84h0M445 22h0M565 108h0M517 92h0M499 108h0M585 136h0M462 42h0" stroke="#f47a6a" stroke-width="6.0" stroke-linecap="round"/>
<path d="M578 114h0M579 55h0M557 94h0M608 129h0M581 94h0M495 97h0M562 88h0M633 23h0M550 41h0M366 99h0M472 129h0M709 54h0M588 92h0M469 81h0M589 88h0M571 64h0M390 79h0M471 121h0M357 81h0M396 80h0M502 86h0M367 85h0M491 117h0M465 81h0" stroke="#f47a6a" stroke-width="9.0" stroke-linecap="round"/>
<path d="M496 105h0M632 55h0M344 42h0M607 108h0M376 64h0M563 99h0M472 119h0M583 122h0M533 99h0M374 90h0M598 108h0M482 118h0M601 108h0M452 98h0M598 105h0" stroke="#ee5448" stroke-width="9.0" stroke-linecap="round"/>
<path d="M454 110h0M359 91h0M452 104h0M468 123h0M590 101h0M565 122h0M588 105h0M527 90h0M493 81h0M515 79h0" stroke="#f8a090" stroke-width="6.0" stroke-linecap="round"/>
<path d="M573 104h0M565 120h0M351 94h0M515 89h0M570 32h0M459 110h0M531 102h0" stroke="#ee5448" stroke-width="12.0" stroke-linecap="round"/>
<path d="M631 78h0M506 147h0M612 74h0M579 76h0M613 59h0M530 147h0M552 62h0M500 160h0M505 155h0M500 154h0M528 149h0M492 144h0M504 163h0M588 137h0" stroke="#bc1219" stroke-width="9.0" stroke-linecap="round"/>
<path d="M514 144h0M610 71h0M621 83h0M543 159h0" stroke="#bc1219" stroke-width="6.0" stroke-linecap="round"/>
<path d="M570 114h0M598 74h0M639 54h0" stroke="#c8141e" stroke-width="9.0" stroke-linecap="round"/>
<path d="M592 119h0M564 102h0M388 50h0M526 131h0" stroke="#c8141e" stroke-width="12.0" stroke-linecap="round"/>
<path d="M586 122h0M505 162h0M427 88h0M412 60h0M587 119h0M641 82h0" stroke="#bc1219" stroke-width="12.0" stroke-linecap="round"/>
<path d="M581 101h0M446 81h0" stroke="#c8141e" stroke-width="6.0" stroke-linecap="round"/>
<path d="M183 52h0M153 108h0M228 85h0M171 56h0M115 78h0M231 61h0M206 105h0M170 128h0M139 42h0" stroke="#f47a6a" stroke-width="6.0" stroke-linecap="round"/>
<path d="M235 52h0M230 69h0M213 107h0M125 114h0M146 84h0" stroke="#ee5448" stroke-width="12.0" stroke-linecap="round"/>
<path d="M174 107h0M169 70h0M141 67h0M184 124h0M123 97h0M127 95h0M141 54h0M195 88h0M171 122h0M216 114h0M113 98h0M199 116h0M131 93h0M124 88h0M156 99h0M156 100h0M175 38h0M198 122h0M145 92h0" stroke="#f47a6a" stroke-width="9.0" stroke-linecap="round"/>
<path d="M87 83h0M114 112h0M159 48h0M114 106h0M198 69h0" stroke="#ee5448" stroke-width="6.0" stroke-linecap="round"/>
<path d="M132 111h0M214 101h0M229 99h0M224 53h0M158 115h0M84 82h0" stroke="#f47a6a" stroke-width="12.0" stroke-linecap="round"/>
<path d="M125 107h0M168 122h0M143 102h0M111 116h0M184 120h0M127 112h0" stroke="#ee5448" stroke-width="9.0" stroke-linecap="round"/>
<path d="M417 225h0M651 225h0M289 206h0M608 217h0M269 222h0M598 217h0M644 206h0" stroke="#ee5448" stroke-width="9.0" stroke-linecap="round"/>
<path d="M228 280h0" stroke="#f47a6a" stroke-width="12.0" stroke-linecap="round"/>
<path d="M280 208h0M235 247h0M633 239h0M243 275h0M430 225h0" stroke="#ee5448" stroke-width="6.0" stroke-linecap="round"/>
<path d="M668 244h0M428 212h0M261 229h0M637 220h0M632 238h0M643 242h0M281 206h0M269 227h0M213 292h0" stroke="#f47a6a" stroke-width="9.0" stroke-linecap="round"/>
<path d="M263 196h0M388 208h0" stroke="#f47a6a" stroke-width="6.0" stroke-linecap="round"/>
<path d="M438 210h0" stroke="#ee5448" stroke-width="12.0" stroke-linecap="round"/>
<path d="M336 157h0M343 141h0M392 153h0M391 123h0M395 165h0" stroke="#a50f15" stroke-width="9.0" stroke-linecap="round"/>
<path d="M394 157h0M410 127h0M342 144h0M396 128h0M435 132h0M342 150h0" stroke="#7c0810" stroke-width="9.0" stroke-linecap="round"/>
<path d="M384 152h0M345 137h0" stroke="#a50f15" stroke-width="12.0" stroke-linecap="round"/>
<path d="M359 127h0M399 169h0" stroke="#7c0810" stroke-width="6.0" stroke-linecap="round"/>
<path d="M416 153h0M347 170h0M404 135h0" stroke="#a50f15" stroke-width="6.0" stroke-linecap="round"/>
<path d="M332 146h0M393 161h0" stroke="#7c0810" stroke-width="12.0" stroke-linecap="round"/>
</g>
<path d="M214 24l6-3 8-3 12-2 16-1 14-1 14-1 20 0 12 2 8 1 12 1-6 3-8 2 1 3-3 3 2 3-6 4 0 4-5 2-5 2-8 1-8 4-7 1-4 2-3 4-2 4-3 1-5-2-4-2-3-3-2-3-4-3-1-3 5-2-3-3 2-1-5-1-2-3-3-3-4-3-8 0-8 0-4-2-5-1zM382 23l3-2 7-1 8-1 14 1-8 3-6 2-7 2-6-3zM454 19l10-2 16 0 8 1-12 2-16 0zM550 22l4-3 6-1 9 3-5 2-8 1zM632 29l6-1 4 0 10 1 9 1-9 1-10 2-6-1zM717 38l3-1 0 1zM0 37l5 1-5 0z" fill="#fff" stroke="#333" stroke-width="0.5" vector-effect="non-scaling-stroke"/>
<path d="M200 32l8 3 10 3 7 3 2 2 9 3-3 4-4 5-5 0-7-2-6-2-6 0-2-2 9-4-10-4-6-1-8 0-6-2-1-4 7-1 6 0zM123 37l7-4 14 0 7 1 7 5-8 3-10 1-8-1-7-1-3-3zM109 36l3-4 9 0 8 1-7 4-9 1zM201 27l9-2 3-2 7-1 10-3 7-3-17-2-20 0-20 2-10 2-4 3 8 2 8 2 8 2zM176 29l8-2 16 1-1 2-9 1-14-1zM170 33l9-1-2 4-7 0zM158 33l8 0 0 3-9 0zM128 30l8-3 12 1 0 2-8 1-14 0zM160 27l8 0 2 3-10 0zM162 42l6-1 0 2-6 0zM116 27l12-2-2 3z" fill="#fff" stroke="#1a1a1a" stroke-width="0.8" vector-effect="non-scaling-stroke"/>
<path d="M416 97l0-4 3-3 3-3 3 1 2 3 4-1 2-1 4-3 2 0-3 2-1 2 4 3 4 4-3 1-7-1-3-1-4 0-4 2-4 0zM454 92l1-3 4-2 4-1 3 0 0 3-3 2 0 3 2 2 1 3 2 2 0 4-6 2-4-2 1-6-2-3-2-2z" fill="#fff" stroke="#1a1a1a" stroke-width="0.6" vector-effect="non-scaling-stroke"/>
<path d="M24 49l3-6 7-3 13-3 9 1 10 1 12 2 10 1 8-1 8-1 8 1 8 1 10 1 10 1 8-1 10 1 6-1 4-2 3-4 4 2 5 3 4 1 5-2 6 0 2 4-7 1-3 2-2 3-6 2-7 5 0 4 3 4 9 1 6 2 5 1 1 5 3 2 3-1 1-5 3-4-1-4 0-4-1-4 9 0 6 3 2 4 4 1 3-2 3-2 5 6 3 4 6 3 4 4-3 1-6 3-8 0-5 0-5 3-4 3 5-3 5-1 3 0-1 2 1 4 5 0 4 0-3 2-4 1-4 2-1-2 3-2-3 1-2 0-4 2-2 1-1 2 1 1-3 1-3 1-2 1 0 1-2 2-1 1-1 3 1 3-2 2-3 1-2 2-4 2-1 3 2 4 1 4-1 3-1-1-2-2-1-3 0-2-3-2-3 1-2-2-4 0-2 1 1 2-3 0-3-1-4 0-2 1-4 2-1 4 0 4-1 3 1 3 2 3 3 2 1 1 4-1 3-1 1-2 0-2 4-1 3 0-1 4-2 2 1 4-2 1 6 0 3 0 2 2 0 5 0 3 2 3 2 1 3-1 2 0 3 2 0 1-1 2-3-3-2 2-3-1-3-1-4-3-1-2-3-4-3 0-5-2-2-1-3-3-2 0-3 1-4-2-5-1-5-3-4-4 0-2-1-3-4-4-3-3-3-3-2-2-2-4-3-1 1 3 2 3 2 4 3 5 1 2-1-1-3-3-1-3-4-3 0-1-2-3-2-4-1-1-3-3-2-1-2 0-3-4-1-3-2-2-2-3 1-3 0-4 0-4-1-5 3 1 1 2-1-4-4-2-5-2-1-3-4-4-3-2-4-4-4-3-5 0-5-2-7 0-5-2-6 2-5 2 2-4-6 5-5 2-4 3-6 2-6 1 5-2 6-3 3-3-5 0-5-3-5-1-1-2 1-3 8-3-4 0-6 0-4-2zM205 163l3-2 1-2 3-1 4-2 1 2 1-1 5 1 1 1 8 0 5 1 3 3 4 3 6 2 5 2 2 2 3 4 1 4 2 2 4 0 4 3 5 1 5 0 4 3 5 2 0 4-1 4-3 3-3 4-1 5-1 5-1 5-2 3-2 2-5 1-4 1-3 3-1 6-3 3-3 4-3 3-4 3-3 0-4-2 3 5-1 3-5 2-4 0-1 3-5 1 2 2-1 2-1 3-4 3-1 1 3 3-3 2-2 3-1 2 1 2 0 3 4 2-4 1-5-1-4-2-3-4-2-4 1-4-1-3 3-2 1-4 0-3-1-4 1-6 2-3 2-5 0-6 1-5 1-5 1-7-1-6-4-3-5-3-3-4-1-4-3-5-2-3-3-4 1-4 0-3 1-3 0-3 2-2 2-3 1-3 0-3-1-2 1-2zM348 108l-2 4-5 3-1 5-3 4-3 2-4 4-3 5-1 3 1 3 0 6-2 4 1 2 1 3 3 2 2 2 2 3 3 3 4 3 4 2 5-1 4 0 4 0 4-2 4-1 3 0 2 3 1 1 2 0 3 0 2 2 1 3-1 2 0 3 1 4 3 4 2 3 1 6 1 5-2 4-1 6 0 2 3 7 2 4 1 7 1 1 2 3 2 4 1 4 1 3 3 2 5-2 6 0 3-1 3-3 4-3 2-3 2-4 1-3 4-2 1-2 0-3-1-4 3-2 3-3 4-3 1-4 0-6-2-5 0-3-1-5 2-3 3-3 3-3 3-3 4-3 3-4 3-6 3-5 0-3-4 1-3 1-5 1-3-2 0-1-2-2-2-2-3-3-2-2-1-4-3-5 0-3-3-1-1-4-2-3-2-4-1-3 0-3-3 0-2 0-4 1-6-2-4-1-4-1-2 2 0 2-2 1-4-1-3-1-1-2-4-1-4 0-2-2 2-2 0-3-2-1-4 0-4 0-6 0-4 1-4 2-3 1-3 0-3-2-1 0zM349 108l-2-2-2 0-3 0 0-3-1-2 2-4-2-3 3-1 8 0 5 0 1-5-3-2-4-3 6 0 0-2 3 0 3-3 3-1 3-2 1-2 7 0 0-4-1-3 5-1 0 3 1 3 2 1 4 0 9-1 5-1 0-4 6 0-1-4 9-1 4-1-3-1-12 1-2-3 0-3 7-4-6-2-1 3-5 2-3 4 3 3-5 5-1 3-6 1-1-2-3-5-1-1-5 3-5-2-1-4 0-3 10-3 5-4 5-5 6-2 10-2 10-1 6 2 4 1 16 3-2 4-10 3 5 1 5-1 8-3 0-5 4 2 14-2 10 0 4-3 12 2 5 1-3-5 4-4 7 1-1 3 1 5 5-8 6 0 4-2 12-1 2-2 18-2 8-2 9-1 5 1 12 2 1 5 13 1 12-1 8 5 10-1 10-2 12 0 8 2 10 1 8 1 4 2 10 0 8-1 12 1 8 1 0 8-3 1-3 4-6 2-8 3-8-1-5 1-3 4 2 4-2 3-4 3-4 2-3 2-2-8 1-5 4-2 4-4 6-3-6 1-10 4-8 0-8 0-8 0-6 4-6 7 5 0 3 2-1 6 0 3-5 4-5 6-7 1-3 1-1 1-2 3-3 1 0 2 3 2 1 4-1 2-5 1 0-3 0-3-2 0-1-2 1-2-2-1-4 1-2 1-1-1 3-2-3-1-3 2-3 2-1 1 3 2 1 1 2-2 4 1-4 3-2 2 3 5 2 3 0 4-3 3-2 4-5 4-6 2-6 2-2 2-2-2-5 2-1 3 1 4 5 3 1 7-5 3-4 4 0-3-2-1-3-3-3-2-2-1-2 7 2 3 1 3 2 0 4 4 0 5 1 2-1 0-4-3-2-5-4-5 0-5 0-6-2-6-3 0-3 1 0-6-3-2-2-3-3-2-4 2-3 1-4 3-5 6-5 6 0 6-5 5-3-4-2-6-4-8 0-4-1-5-5 1-2-3-1-2-2-1-2-3-5 0-5 1-8-2-2-2-5 0-5-2-3-4-4 0 1 3 3 4 3 1 0 4 5 0 4-4 1 3 4 2 3 2-3 4-3 3-4 4-6 3-6 2-8 3-3 1-1-4-1-4-3-6-4-4-1-5-3-4-4-4 0-3-1 3-4-4 0-2 4-1 1-3 2-4 0-2-3-2-4 2-4-1-5 0-1-2-2-2-1-2 0-2-4-1-3 1 1 3 2 2-2 3-3-1-1-3-2-2-1-5-2-1-5-2-3-3-2-1-2 0 0 3 3 3 4 2 5 3-3 2-1 2-2 0 1-4-4-2-4-1-3-3-3-3-4 2-5 0-3 1 0 2-4 2-3 3 1 2-2 2-2 2-5 0-2 1zM0 42l6 1 6 3 6 1 3 1-3 1-4 2-6-1-5-1-3 1zM312 49l4-2 8 1 6-1 3 3-2 1-5 1-4 1-7-1 1-1zM241 85l2-3 2-3 4-2-1 3 5 1 2 4-3 2-4-1-3-1zM113 83l-4-1-6-3 3-1 5 3zM190 136l6-2 4 0 5 2 7 4-7 0-3-3-4-1-6 0zM211 143l3-3 8 1 1 2-5 1-7 0zM203 143l5 1-2 1zM225 143l4 0-1 1-2 0zM349 80l5-1 9-1 0-3-3-2-3-2 0-2-1-4-3-2-3 0-2 4 1 2 5 1-1 2 1 1-3 0 1 3-2 1 4 0zM348 76l0-4 1-1-4-2-2 2-3 1 1 2-2 2 5 1zM385 104l2 0 4-1-1 4-1-1zM377 102l-1-4 2 0 2 1-1 3zM377 97l0-2 2-1 0 2zM407 109l6 0-1 1-4 0zM425 110l1-1 3 0-1 1-2 1zM644 87l-1-4 1-6 1-5 2 1-1 5 3 4-3 3-1 2zM640 97l0-4 3-4 3 2 5 2-4 3-5-1zM622 112l3-3 6 0 3-4 5-2 1-3 1-3 2 2 1 3-2 2 0 4-2 2-2 1-4 0-4 2-6-1zM619 113l3-1 2 3-2 3-2-1-1-3zM625 112l4 0 0 1-3 1zM600 134l3-4 1 1-2 5-2-1zM577 142l4-2 1 1-3 3zM520 164l1-4 3 5-1 3-3 0zM600 143l4 0 0 5 4 5-5-1-2-1-1-3zM604 165l4-2 5-2-1 6-1 2-3-2-4-1zM604 156l7-1 0 5-4 1-2-1-1-3zM594 163l5-6 0 2-4 5zM551 169l4 1 6 6 6 3 2 5 3 2 0 6-3 0-4-4-3-4-4-4-1-4-4-4zM571 194l1-2 5 1 5 0 3 1 4 2 0 1-7-1-6 0-5-2zM578 177l1 5 1 4 3 0 6 2 4-1 0-3 2-6 3 0-2-2 2-7-2-1-2-2-3 4-3 1-2 3-3 1-4 1zM599 191l2 0 0-5 2 3 3 1 0-2-3-4 3-2 1 0-5 1-1-2 0-2 1-1 8-1 0 1-3 1-6 1-1 0-2 5zM622 182l3-1 3 1 3 5 5-4 6 2 7 3 3 3 3 1 1 4 4 4 2 1-6-1-3-2-5-3-1 3-5 0-4-2-2 1-1-5-5-3-3-1-1 0-2-2 3-1-4-2zM657 191l4-1 3-2-1 3-3 1zM615 176l2 2-1 4-1-3zM616 186l6 1-2-1zM608 201l2-3 5-1-2 1-4 2zM592 197l6 0 7-1 1 1-8 1-6 0zM587 224l1 9 2 7 0 7 2 3 4 0 7-2 5-2 4-1 6-2 4 0 6 2 3 5 4-4 0 5 2 0 2 2 2 3 6 2 6 0 3-2 4-1 1-4 2-4 3-5 1-5-1-6-4-4-3-2-5-7-3-6 0-2-4-2-1-6-1-1-2 5 0 6-2 3-3-1-4-2-3-2 2-5 1-1-3 0-5-1-2-1-2 2-2 2-1 4-3 0-3-2-3 2-3 3-3 3-1 3-5 2-5 0-4 3zM649 261l8 1-1 4-2 1-3-2-2-3zM705 249l4 4 3 2 5 0-3 4-1 2-3 2-1-3-1-2 1-2-3-6zM705 261l3 2-1 3-5 3-4 4-5-1 3-4 7-4zM459 204l2 5 0 2-2 4-2 7-2 8-5 1-2-4-1-4 2-5-1-5 4-2 2-2 2-2zM464 37l4-4 5-3 7-2 8-2 9 0-5 2-10 3-6 3-3 3 2 2-5 0zM186 50l8 0 3 3-9 0z" fill="none" stroke="#1a1a1a" stroke-width="0.6" vector-effect="non-scaling-stroke"/>
<path d="M0 341l20 0 20 0 10-4 10-3 10-3 10-1 10-1 10 0 10-1 10-1 10 1 10 1 10 0 10-2 10-1 10 0 10 1 10-1 8-2 8-3 8-5 6-4 5-3 2 3-3 5-2 6 2 7 6 7 10 3 20 1 14-4 10-2 10-3 8-3 12-3 12-3 12-1 12-2 12 0 12 0 12 0 12 0 12-1 10-1 10 0 10-2 10-2 10-1 10 2 10 0 10 2 4 3 8-1 8-3 10-2 10-1 10-1 10 0 10 0 10 0 10 2 10 0 10-1 10-1 10 0 10 1 10 2 10 2 10 1 10 2 8 2 6 1 6 1-2 3-6 3-4 2-1 3 5 2 8 2 10 1 10 1" fill="none" stroke="#444" stroke-width="0.55" vector-effect="non-scaling-stroke"/>
</g></g>
<rect x="64.3" y="179.2" width="127.1" height="63.4" fill="none" stroke="#ababab" stroke-width="0.6"/>
<text x="62.4" y="180.4" class="ax" text-anchor="end">90°N</text>
<text x="62.4" y="191.0" class="ax" text-anchor="end">60°N</text>
<text x="62.4" y="201.5" class="ax" text-anchor="end">30°N</text>
<text x="62.4" y="212.1" class="ax" text-anchor="end">0°</text>
<text x="62.4" y="222.7" class="ax" text-anchor="end">30°S</text>
<text x="62.4" y="233.2" class="ax" text-anchor="end">60°S</text>
<text x="62.4" y="243.8" class="ax" text-anchor="end">90°S</text>
<path d="M63.0 179.20h1.3M63.0 189.77h1.3M63.0 200.33h1.3M63.0 210.90h1.3M63.0 221.47h1.3M63.0 232.03h1.3M63.0 242.60h1.3M64.30 242.6v1.2M85.48 242.6v1.2M106.67 242.6v1.2M127.85 242.6v1.2M149.03 242.6v1.2M170.22 242.6v1.2M191.40 242.6v1.2" stroke="#666" stroke-width="0.4" fill="none"/>
<text x="64.3" y="247.7" class="ax" text-anchor="middle">180°</text>
<text x="85.5" y="247.7" class="ax" text-anchor="middle">120°W</text>
<text x="106.7" y="247.7" class="ax" text-anchor="middle">60°W</text>
<text x="127.8" y="247.7" class="ax" text-anchor="middle">0°W</text>
<text x="149.0" y="247.7" class="ax" text-anchor="middle">60°E</text>
<text x="170.2" y="247.7" class="ax" text-anchor="middle">120°E</text>
<text x="191.4" y="247.7" class="ax" text-anchor="middle">180°</text>
<rect x="52.10" y="248.70" width="7.83" height="3.6" fill="#7e0610"/>
<rect x="59.67" y="248.70" width="7.83" height="3.6" fill="#ac1117"/>
<rect x="67.25" y="248.70" width="7.83" height="3.6" fill="#ca181d"/>
<rect x="74.82" y="248.70" width="7.83" height="3.6" fill="#e83429"/>
<rect x="82.40" y="248.70" width="7.83" height="3.6" fill="#f6583e"/>
<rect x="89.97" y="248.70" width="7.83" height="3.6" fill="#fb7a5a"/>
<rect x="97.55" y="248.70" width="7.83" height="3.6" fill="#fc9b7c"/>
<rect x="105.12" y="248.70" width="7.83" height="3.6" fill="#fcbba1"/>
<rect x="112.70" y="248.70" width="7.83" height="3.6" fill="#fed9c9"/>
<rect x="120.27" y="248.70" width="7.83" height="3.6" fill="#ffede5"/>
<rect x="127.85" y="248.70" width="7.83" height="3.6" fill="#eaf4fa"/>
<rect x="135.43" y="248.70" width="7.83" height="3.6" fill="#d8ecf6"/>
<rect x="143.00" y="248.70" width="7.83" height="3.6" fill="#b8def2"/>
<rect x="150.57" y="248.70" width="7.83" height="3.6" fill="#98d0ee"/>
<rect x="158.15" y="248.70" width="7.83" height="3.6" fill="#70bce6"/>
<rect x="165.72" y="248.70" width="7.83" height="3.6" fill="#249cd4"/>
<rect x="173.30" y="248.70" width="7.83" height="3.6" fill="#1a88c6"/>
<rect x="180.88" y="248.70" width="7.83" height="3.6" fill="#1476ba"/>
<rect x="188.45" y="248.70" width="7.83" height="3.6" fill="#0c58a2"/>
<rect x="196.03" y="248.70" width="7.83" height="3.6" fill="#083478"/>
<path d="M52.30 248.70L44.52 250.50L52.30 252.30Z" fill="#67000d"/>
<path d="M203.40 248.70L211.17 250.50L203.40 252.30Z" fill="#081d58"/>
<path d="M52.10 248.70H203.60L211.17 250.50L203.60 252.30H52.10L44.52 250.50Z" fill="none" stroke="#555" stroke-width="0.3"/>
<text x="52.1" y="257.40" class="cb" text-anchor="middle">0.00</text>
<text x="67.2" y="257.40" class="cb" text-anchor="middle">0.02</text>
<text x="82.4" y="257.40" class="cb" text-anchor="middle">0.04</text>
<text x="97.5" y="257.40" class="cb" text-anchor="middle">0.06</text>
<text x="112.7" y="257.40" class="cb" text-anchor="middle">0.08</text>
<text x="127.8" y="257.40" class="cb" text-anchor="middle">0.10</text>
<text x="143.0" y="257.40" class="cb" text-anchor="middle">0.12</text>
<text x="158.1" y="257.40" class="cb" text-anchor="middle">0.14</text>
<text x="173.3" y="257.40" class="cb" text-anchor="middle">0.16</text>
<text x="188.4" y="257.40" class="cb" text-anchor="middle">0.18</text>
<text x="203.6" y="257.40" class="cb" text-anchor="middle">0.20</text>
<clipPath id="fp12"><rect x="228.3" y="178.6" width="127.2" height="64.2"/></clipPath>
<g clip-path="url(#fp12)"><g transform="translate(228.3 178.60) scale(0.176667 0.178333)">
<rect width="720" height="360" fill="#ecd2d4" clip-path="url(#land)"/>
<g clip-path="url(#land)">
<path d="M650 100l-11-12-21-6-22-10-31 2-6 16 1 10-22 16 33 5 25 1 28 2 15-12z" fill="#c5d3f2"/>
<path d="M561 140l-7-9-10-7-14-5-12 7-10 6-2 8 3 8 3 13 18 4 18-4 7-12z" fill="#c5d3f2"/>
<path d="M591 150l0-10-14 0-7-10-11 5-10 5 1 10 6 6 1 12 13-3 11 0 9-6z" fill="#c5d3f2"/>
<path d="M268 190l-9-9 0-17-19 4-11 7-17 2 5 13-11 16 22 1 12-1 16 6 8-11z" fill="#c5d3f2"/>
<path d="M436 180l1-12-6-13-15-3-8 14-17 0 4 14 3 10 4 15 14-6 15 8 10-12z" fill="#c5d3f2"/>
<path d="M193 100l-8-5-4-6-11-5-16 0-7 8-3 8 6 7 11 2 9 4 15 3 9-8z" fill="#c5d3f2"/>
<path d="M98 56l-1-5-12 0-5-5-10 2-6 3 4 5-2 4 6 3 8 2 9-1 0-5z" fill="#c5d3f2"/>
<path d="M420 70l-1-6-7-5-12 0-11 1-9 4-6 6 13 4 5 3 8 0 11 3 4-6z" fill="#c5d3f2"/>
<path d="M272 210l-3-5-4-4-5 0-4 2-5 2-4 5 0 8 7 2 6 0 8 4 1-9z" fill="#c5d3f2"/>
<path d="M502 90l-31-8-2-14-39 3-34-1-26 9 8 11 11 8 7 12 34 0 38 2 26-10z" fill="#f5cdc2"/>
<path d="M571 96l-15-5-9-5-17-1-17 1-15 3-8 7 17 5 5 6 18 1 17-2 24-2z" fill="#f5cdc2"/>
<path d="M651 230l0-8-16-1-9-3-11 1-16 2 7 9 4 6 8 2 8 5 15 2 9-7z" fill="#f5cdc2"/>
<path d="M425 136l-18-6-6-9-21-4-14 9-9 5-21 5 6 9 21 2 17 9 25-3 4-10z" fill="#f5cdc2"/>
<path d="M233 260l-1-9-2-13-6 6-6-4 0 13-7 7 1 13 8 1 4 11 5-7 1-11z" fill="#f5cdc2"/>
<path d="M487 84l-27-4-2-7-18-2-22 0-5 8-8 5 6 6 7 7 22-1 24 2 18-6z" fill="#f3a690"/>
<path d="M535 100l-2-3-2-5-11-1-7 4-5 2-10 3 5 4 8 2 9-1 7 0 7-2z" fill="#f3a690"/>
<path d="M731 52l-57-6-38-4-46-5-67 0-35 8-27 7 16 8 49 6 64 2 57-3 26-7z" fill="#8fafef"/>
<path d="M497 48l-2-4-10-1-9-2-10 1-8 3-13 3 16 3 0 6 15-3 11 1 3-4z" fill="#8fafef"/>
<path d="M655 48l-7-3-12-2-16-3-16 3-25 0-7 5 20 3 9 3 19 0 13-1 10-2z" fill="#5b88e6"/>
<path d="M572 44l5-4-7-2-10-2-9 2-7 3 3 3-1 3 8 1 6 0 7 1 10-1z" fill="#5b88e6"/>
<path d="M698 52l-5-4-7-1-6-5-9 3-8 2 3 5-4 5 8 4 10 1 8-3 5-3z" fill="#5b88e6"/>
<path d="M202 56l2-5-20-2-14 0-21-3-6 6-18 4 9 6 24 0 12 2 15-1 14-2z" fill="#ee6c52"/>
<path d="M505 48l-3-3-3-1-3-2-5 0 0 4 0 2 0 2 1 3 4 0 3-1 2-2z" fill="#e33626"/>
<path d="M533 46l0-3-3-3-4 0-3 1-2 3-2 2 2 2 2 2 3 2 3-2 3-1z" fill="#e33626"/>
<path d="M153 50l1-3-8-1-6 1-7-1-3 2 0 2-3 2 6 2 7-1 5 0 5-1z" fill="#e33626"/>
<path d="M518 71h0M714 45h0M601 52h0M683 77h0M584 45h0M636 58h0M695 60h0M715 20h0M687 65h0M660 40h0M595 109h0" stroke="#8fafef" stroke-width="9.0" stroke-linecap="round"/>
<path d="M719 41h0M585 136h0M711 21h0M633 74h0M573 110h0" stroke="#8fafef" stroke-width="12.0" stroke-linecap="round"/>
<path d="M603 130h0M576 77h0M508 60h0" stroke="#5b88e6" stroke-width="6.0" stroke-linecap="round"/>
<path d="M580 103h0M568 109h0M651 51h0" stroke="#8fafef" stroke-width="6.0" stroke-linecap="round"/>
<path d="M625 21h0M601 122h0M448 27h0M502 43h0M699 77h0M614 90h0" stroke="#5b88e6" stroke-width="9.0" stroke-linecap="round"/>
<path d="M534 45h0M561 40h0" stroke="#5b88e6" stroke-width="12.0" stroke-linecap="round"/>
<path d="M179 39h0M218 40h0" stroke="#e33626" stroke-width="9.0" stroke-linecap="round"/>
<path d="M205 82h0" stroke="#c5d3f2" stroke-width="6.0" stroke-linecap="round"/>
<path d="M159 67h0M99 30h0M142 67h0" stroke="#ee6c52" stroke-width="9.0" stroke-linecap="round"/>
<path d="M118 67h0M201 80h0M170 89h0" stroke="#f3a690" stroke-width="9.0" stroke-linecap="round"/>
<path d="M217 74h0M220 42h0M233 39h0" stroke="#f3a690" stroke-width="6.0" stroke-linecap="round"/>
<path d="M82 65h0M106 52h0M162 79h0M212 53h0M169 69h0" stroke="#ee6c52" stroke-width="12.0" stroke-linecap="round"/>
<path d="M124 36h0M162 72h0M171 49h0" stroke="#c5d3f2" stroke-width="9.0" stroke-linecap="round"/>
<path d="M157 84h0M111 85h0M139 53h0" stroke="#f3a690" stroke-width="12.0" stroke-linecap="round"/>
<path d="M161 84h0" stroke="#c5d3f2" stroke-width="12.0" stroke-linecap="round"/>
<path d="M203 67h0" stroke="#e33626" stroke-width="6.0" stroke-linecap="round"/>
<path d="M449 105h0M489 74h0M412 90h0" stroke="#f3a690" stroke-width="6.0" stroke-linecap="round"/>
<path d="M454 77h0M546 97h0M517 101h0" stroke="#c5d3f2" stroke-width="6.0" stroke-linecap="round"/>
<path d="M532 101h0M427 73h0M399 41h0M553 105h0M517 74h0M477 82h0M499 80h0" stroke="#ee6c52" stroke-width="9.0" stroke-linecap="round"/>
<path d="M367 92h0" stroke="#ee6c52" stroke-width="12.0" stroke-linecap="round"/>
<path d="M530 88h0M474 113h0M554 108h0M529 80h0" stroke="#f3a690" stroke-width="9.0" stroke-linecap="round"/>
<path d="M480 103h0M558 105h0M545 98h0M453 75h0M488 98h0M514 75h0" stroke="#f3a690" stroke-width="12.0" stroke-linecap="round"/>
<path d="M345 74h0M399 99h0" stroke="#c5d3f2" stroke-width="12.0" stroke-linecap="round"/>
<path d="M399 45h0M593 89h0M519 100h0" stroke="#c5d3f2" stroke-width="9.0" stroke-linecap="round"/>
<path d="M565 88h0" stroke="#ee6c52" stroke-width="6.0" stroke-linecap="round"/>
</g>
<path d="M214 24l6-3 8-3 12-2 16-1 14-1 14-1 20 0 12 2 8 1 12 1-6 3-8 2 1 3-3 3 2 3-6 4 0 4-5 2-5 2-8 1-8 4-7 1-4 2-3 4-2 4-3 1-5-2-4-2-3-3-2-3-4-3-1-3 5-2-3-3 2-1-5-1-2-3-3-3-4-3-8 0-8 0-4-2-5-1zM382 23l3-2 7-1 8-1 14 1-8 3-6 2-7 2-6-3zM454 19l10-2 16 0 8 1-12 2-16 0zM550 22l4-3 6-1 9 3-5 2-8 1zM632 29l6-1 4 0 10 1 9 1-9 1-10 2-6-1zM717 38l3-1 0 1zM0 37l5 1-5 0z" fill="#fff" stroke="#333" stroke-width="0.5" vector-effect="non-scaling-stroke"/>
<path d="M200 32l8 3 10 3 7 3 2 2 9 3-3 4-4 5-5 0-7-2-6-2-6 0-2-2 9-4-10-4-6-1-8 0-6-2-1-4 7-1 6 0zM123 37l7-4 14 0 7 1 7 5-8 3-10 1-8-1-7-1-3-3zM109 36l3-4 9 0 8 1-7 4-9 1zM201 27l9-2 3-2 7-1 10-3 7-3-17-2-20 0-20 2-10 2-4 3 8 2 8 2 8 2zM176 29l8-2 16 1-1 2-9 1-14-1zM170 33l9-1-2 4-7 0zM158 33l8 0 0 3-9 0zM128 30l8-3 12 1 0 2-8 1-14 0zM160 27l8 0 2 3-10 0zM162 42l6-1 0 2-6 0zM116 27l12-2-2 3z" fill="#fff" stroke="#1a1a1a" stroke-width="0.8" vector-effect="non-scaling-stroke"/>
<path d="M416 97l0-4 3-3 3-3 3 1 2 3 4-1 2-1 4-3 2 0-3 2-1 2 4 3 4 4-3 1-7-1-3-1-4 0-4 2-4 0zM454 92l1-3 4-2 4-1 3 0 0 3-3 2 0 3 2 2 1 3 2 2 0 4-6 2-4-2 1-6-2-3-2-2z" fill="#fff" stroke="#1a1a1a" stroke-width="0.6" vector-effect="non-scaling-stroke"/>
<path d="M24 49l3-6 7-3 13-3 9 1 10 1 12 2 10 1 8-1 8-1 8 1 8 1 10 1 10 1 8-1 10 1 6-1 4-2 3-4 4 2 5 3 4 1 5-2 6 0 2 4-7 1-3 2-2 3-6 2-7 5 0 4 3 4 9 1 6 2 5 1 1 5 3 2 3-1 1-5 3-4-1-4 0-4-1-4 9 0 6 3 2 4 4 1 3-2 3-2 5 6 3 4 6 3 4 4-3 1-6 3-8 0-5 0-5 3-4 3 5-3 5-1 3 0-1 2 1 4 5 0 4 0-3 2-4 1-4 2-1-2 3-2-3 1-2 0-4 2-2 1-1 2 1 1-3 1-3 1-2 1 0 1-2 2-1 1-1 3 1 3-2 2-3 1-2 2-4 2-1 3 2 4 1 4-1 3-1-1-2-2-1-3 0-2-3-2-3 1-2-2-4 0-2 1 1 2-3 0-3-1-4 0-2 1-4 2-1 4 0 4-1 3 1 3 2 3 3 2 1 1 4-1 3-1 1-2 0-2 4-1 3 0-1 4-2 2 1 4-2 1 6 0 3 0 2 2 0 5 0 3 2 3 2 1 3-1 2 0 3 2 0 1-1 2-3-3-2 2-3-1-3-1-4-3-1-2-3-4-3 0-5-2-2-1-3-3-2 0-3 1-4-2-5-1-5-3-4-4 0-2-1-3-4-4-3-3-3-3-2-2-2-4-3-1 1 3 2 3 2 4 3 5 1 2-1-1-3-3-1-3-4-3 0-1-2-3-2-4-1-1-3-3-2-1-2 0-3-4-1-3-2-2-2-3 1-3 0-4 0-4-1-5 3 1 1 2-1-4-4-2-5-2-1-3-4-4-3-2-4-4-4-3-5 0-5-2-7 0-5-2-6 2-5 2 2-4-6 5-5 2-4 3-6 2-6 1 5-2 6-3 3-3-5 0-5-3-5-1-1-2 1-3 8-3-4 0-6 0-4-2zM205 163l3-2 1-2 3-1 4-2 1 2 1-1 5 1 1 1 8 0 5 1 3 3 4 3 6 2 5 2 2 2 3 4 1 4 2 2 4 0 4 3 5 1 5 0 4 3 5 2 0 4-1 4-3 3-3 4-1 5-1 5-1 5-2 3-2 2-5 1-4 1-3 3-1 6-3 3-3 4-3 3-4 3-3 0-4-2 3 5-1 3-5 2-4 0-1 3-5 1 2 2-1 2-1 3-4 3-1 1 3 3-3 2-2 3-1 2 1 2 0 3 4 2-4 1-5-1-4-2-3-4-2-4 1-4-1-3 3-2 1-4 0-3-1-4 1-6 2-3 2-5 0-6 1-5 1-5 1-7-1-6-4-3-5-3-3-4-1-4-3-5-2-3-3-4 1-4 0-3 1-3 0-3 2-2 2-3 1-3 0-3-1-2 1-2zM348 108l-2 4-5 3-1 5-3 4-3 2-4 4-3 5-1 3 1 3 0 6-2 4 1 2 1 3 3 2 2 2 2 3 3 3 4 3 4 2 5-1 4 0 4 0 4-2 4-1 3 0 2 3 1 1 2 0 3 0 2 2 1 3-1 2 0 3 1 4 3 4 2 3 1 6 1 5-2 4-1 6 0 2 3 7 2 4 1 7 1 1 2 3 2 4 1 4 1 3 3 2 5-2 6 0 3-1 3-3 4-3 2-3 2-4 1-3 4-2 1-2 0-3-1-4 3-2 3-3 4-3 1-4 0-6-2-5 0-3-1-5 2-3 3-3 3-3 3-3 4-3 3-4 3-6 3-5 0-3-4 1-3 1-5 1-3-2 0-1-2-2-2-2-3-3-2-2-1-4-3-5 0-3-3-1-1-4-2-3-2-4-1-3 0-3-3 0-2 0-4 1-6-2-4-1-4-1-2 2 0 2-2 1-4-1-3-1-1-2-4-1-4 0-2-2 2-2 0-3-2-1-4 0-4 0-6 0-4 1-4 2-3 1-3 0-3-2-1 0zM349 108l-2-2-2 0-3 0 0-3-1-2 2-4-2-3 3-1 8 0 5 0 1-5-3-2-4-3 6 0 0-2 3 0 3-3 3-1 3-2 1-2 7 0 0-4-1-3 5-1 0 3 1 3 2 1 4 0 9-1 5-1 0-4 6 0-1-4 9-1 4-1-3-1-12 1-2-3 0-3 7-4-6-2-1 3-5 2-3 4 3 3-5 5-1 3-6 1-1-2-3-5-1-1-5 3-5-2-1-4 0-3 10-3 5-4 5-5 6-2 10-2 10-1 6 2 4 1 16 3-2 4-10 3 5 1 5-1 8-3 0-5 4 2 14-2 10 0 4-3 12 2 5 1-3-5 4-4 7 1-1 3 1 5 5-8 6 0 4-2 12-1 2-2 18-2 8-2 9-1 5 1 12 2 1 5 13 1 12-1 8 5 10-1 10-2 12 0 8 2 10 1 8 1 4 2 10 0 8-1 12 1 8 1 0 8-3 1-3 4-6 2-8 3-8-1-5 1-3 4 2 4-2 3-4 3-4 2-3 2-2-8 1-5 4-2 4-4 6-3-6 1-10 4-8 0-8 0-8 0-6 4-6 7 5 0 3 2-1 6 0 3-5 4-5 6-7 1-3 1-1 1-2 3-3 1 0 2 3 2 1 4-1 2-5 1 0-3 0-3-2 0-1-2 1-2-2-1-4 1-2 1-1-1 3-2-3-1-3 2-3 2-1 1 3 2 1 1 2-2 4 1-4 3-2 2 3 5 2 3 0 4-3 3-2 4-5 4-6 2-6 2-2 2-2-2-5 2-1 3 1 4 5 3 1 7-5 3-4 4 0-3-2-1-3-3-3-2-2-1-2 7 2 3 1 3 2 0 4 4 0 5 1 2-1 0-4-3-2-5-4-5 0-5 0-6-2-6-3 0-3 1 0-6-3-2-2-3-3-2-4 2-3 1-4 3-5 6-5 6 0 6-5 5-3-4-2-6-4-8 0-4-1-5-5 1-2-3-1-2-2-1-2-3-5 0-5 1-8-2-2-2-5 0-5-2-3-4-4 0 1 3 3 4 3 1 0 4 5 0 4-4 1 3 4 2 3 2-3 4-3 3-4 4-6 3-6 2-8 3-3 1-1-4-1-4-3-6-4-4-1-5-3-4-4-4 0-3-1 3-4-4 0-2 4-1 1-3 2-4 0-2-3-2-4 2-4-1-5 0-1-2-2-2-1-2 0-2-4-1-3 1 1 3 2 2-2 3-3-1-1-3-2-2-1-5-2-1-5-2-3-3-2-1-2 0 0 3 3 3 4 2 5 3-3 2-1 2-2 0 1-4-4-2-4-1-3-3-3-3-4 2-5 0-3 1 0 2-4 2-3 3 1 2-2 2-2 2-5 0-2 1zM0 42l6 1 6 3 6 1 3 1-3 1-4 2-6-1-5-1-3 1zM312 49l4-2 8 1 6-1 3 3-2 1-5 1-4 1-7-1 1-1zM241 85l2-3 2-3 4-2-1 3 5 1 2 4-3 2-4-1-3-1zM113 83l-4-1-6-3 3-1 5 3zM190 136l6-2 4 0 5 2 7 4-7 0-3-3-4-1-6 0zM211 143l3-3 8 1 1 2-5 1-7 0zM203 143l5 1-2 1zM225 143l4 0-1 1-2 0zM349 80l5-1 9-1 0-3-3-2-3-2 0-2-1-4-3-2-3 0-2 4 1 2 5 1-1 2 1 1-3 0 1 3-2 1 4 0zM348 76l0-4 1-1-4-2-2 2-3 1 1 2-2 2 5 1zM385 104l2 0 4-1-1 4-1-1zM377 102l-1-4 2 0 2 1-1 3zM377 97l0-2 2-1 0 2zM407 109l6 0-1 1-4 0zM425 110l1-1 3 0-1 1-2 1zM644 87l-1-4 1-6 1-5 2 1-1 5 3 4-3 3-1 2zM640 97l0-4 3-4 3 2 5 2-4 3-5-1zM622 112l3-3 6 0 3-4 5-2 1-3 1-3 2 2 1 3-2 2 0 4-2 2-2 1-4 0-4 2-6-1zM619 113l3-1 2 3-2 3-2-1-1-3zM625 112l4 0 0 1-3 1zM600 134l3-4 1 1-2 5-2-1zM577 142l4-2 1 1-3 3zM520 164l1-4 3 5-1 3-3 0zM600 143l4 0 0 5 4 5-5-1-2-1-1-3zM604 165l4-2 5-2-1 6-1 2-3-2-4-1zM604 156l7-1 0 5-4 1-2-1-1-3zM594 163l5-6 0 2-4 5zM551 169l4 1 6 6 6 3 2 5 3 2 0 6-3 0-4-4-3-4-4-4-1-4-4-4zM571 194l1-2 5 1 5 0 3 1 4 2 0 1-7-1-6 0-5-2zM578 177l1 5 1 4 3 0 6 2 4-1 0-3 2-6 3 0-2-2 2-7-2-1-2-2-3 4-3 1-2 3-3 1-4 1zM599 191l2 0 0-5 2 3 3 1 0-2-3-4 3-2 1 0-5 1-1-2 0-2 1-1 8-1 0 1-3 1-6 1-1 0-2 5zM622 182l3-1 3 1 3 5 5-4 6 2 7 3 3 3 3 1 1 4 4 4 2 1-6-1-3-2-5-3-1 3-5 0-4-2-2 1-1-5-5-3-3-1-1 0-2-2 3-1-4-2zM657 191l4-1 3-2-1 3-3 1zM615 176l2 2-1 4-1-3zM616 186l6 1-2-1zM608 201l2-3 5-1-2 1-4 2zM592 197l6 0 7-1 1 1-8 1-6 0zM587 224l1 9 2 7 0 7 2 3 4 0 7-2 5-2 4-1 6-2 4 0 6 2 3 5 4-4 0 5 2 0 2 2 2 3 6 2 6 0 3-2 4-1 1-4 2-4 3-5 1-5-1-6-4-4-3-2-5-7-3-6 0-2-4-2-1-6-1-1-2 5 0 6-2 3-3-1-4-2-3-2 2-5 1-1-3 0-5-1-2-1-2 2-2 2-1 4-3 0-3-2-3 2-3 3-3 3-1 3-5 2-5 0-4 3zM649 261l8 1-1 4-2 1-3-2-2-3zM705 249l4 4 3 2 5 0-3 4-1 2-3 2-1-3-1-2 1-2-3-6zM705 261l3 2-1 3-5 3-4 4-5-1 3-4 7-4zM459 204l2 5 0 2-2 4-2 7-2 8-5 1-2-4-1-4 2-5-1-5 4-2 2-2 2-2zM464 37l4-4 5-3 7-2 8-2 9 0-5 2-10 3-6 3-3 3 2 2-5 0zM186 50l8 0 3 3-9 0z" fill="none" stroke="#1a1a1a" stroke-width="0.6" vector-effect="non-scaling-stroke"/>
<path d="M0 341l20 0 20 0 10-4 10-3 10-3 10-1 10-1 10 0 10-1 10-1 10 1 10 1 10 0 10-2 10-1 10 0 10 1 10-1 8-2 8-3 8-5 6-4 5-3 2 3-3 5-2 6 2 7 6 7 10 3 20 1 14-4 10-2 10-3 8-3 12-3 12-3 12-1 12-2 12 0 12 0 12 0 12 0 12-1 10-1 10 0 10-2 10-2 10-1 10 2 10 0 10 2 4 3 8-1 8-3 10-2 10-1 10-1 10 0 10 0 10 0 10 2 10 0 10-1 10-1 10 0 10 1 10 2 10 2 10 1 10 2 8 2 6 1 6 1-2 3-6 3-4 2-1 3 5 2 8 2 10 1 10 1" fill="none" stroke="#444" stroke-width="0.55" vector-effect="non-scaling-stroke"/>
</g></g>
<rect x="228.3" y="178.6" width="127.2" height="64.2" fill="none" stroke="#ababab" stroke-width="0.6"/>
<ellipse cx="259.8" cy="193.4" rx="12.67" ry="8.67" fill="none" stroke="#1d58a5" stroke-width="1.35"/>
<text x="226.4" y="179.8" class="ax" text-anchor="end">90°N</text>
<text x="226.4" y="190.5" class="ax" text-anchor="end">60°N</text>
<text x="226.4" y="201.2" class="ax" text-anchor="end">30°N</text>
<text x="226.4" y="211.9" class="ax" text-anchor="end">0°</text>
<text x="226.4" y="222.6" class="ax" text-anchor="end">30°S</text>
<text x="226.4" y="233.3" class="ax" text-anchor="end">60°S</text>
<text x="226.4" y="244.0" class="ax" text-anchor="end">90°S</text>
<path d="M227.0 178.60h1.3M227.0 189.30h1.3M227.0 200.00h1.3M227.0 210.70h1.3M227.0 221.40h1.3M227.0 232.10h1.3M227.0 242.80h1.3M228.30 242.8v1.2M249.50 242.8v1.2M270.70 242.8v1.2M291.90 242.8v1.2M313.10 242.8v1.2M334.30 242.8v1.2M355.50 242.8v1.2" stroke="#666" stroke-width="0.4" fill="none"/>
<text x="228.3" y="247.9" class="ax" text-anchor="middle">180°</text>
<text x="249.5" y="247.9" class="ax" text-anchor="middle">120°W</text>
<text x="270.7" y="247.9" class="ax" text-anchor="middle">60°W</text>
<text x="291.9" y="247.9" class="ax" text-anchor="middle">0°W</text>
<text x="313.1" y="247.9" class="ax" text-anchor="middle">60°E</text>
<text x="334.3" y="247.9" class="ax" text-anchor="middle">120°E</text>
<text x="355.5" y="247.9" class="ax" text-anchor="middle">180°</text>
<rect x="216.10" y="248.90" width="19.20" height="3.6" fill="#3565d5"/>
<rect x="235.05" y="248.90" width="19.20" height="3.6" fill="#5b88e6"/>
<rect x="254.00" y="248.90" width="19.20" height="3.6" fill="#8fafef"/>
<rect x="272.95" y="248.90" width="19.20" height="3.6" fill="#c5d3f2"/>
<rect x="291.90" y="248.90" width="19.20" height="3.6" fill="#f8d8ce"/>
<rect x="310.85" y="248.90" width="19.20" height="3.6" fill="#f5b09a"/>
<rect x="329.80" y="248.90" width="19.20" height="3.6" fill="#f07a60"/>
<rect x="348.75" y="248.90" width="19.20" height="3.6" fill="#e33a2a"/>
<path d="M216.30 248.90L208.52 250.70L216.30 252.50Z" fill="#1838b8"/>
<path d="M367.50 248.90L375.28 250.70L367.50 252.50Z" fill="#c40c12"/>
<path d="M216.10 248.90H367.70L375.28 250.70L367.70 252.50H216.10L208.52 250.70Z" fill="none" stroke="#555" stroke-width="0.3"/>
<text x="216.1" y="257.60" class="cb" text-anchor="middle">-0.04</text>
<text x="235.1" y="257.60" class="cb" text-anchor="middle">-0.03</text>
<text x="254.0" y="257.60" class="cb" text-anchor="middle">-0.02</text>
<text x="272.9" y="257.60" class="cb" text-anchor="middle">-0.01</text>
<text x="291.9" y="257.60" class="cb" text-anchor="middle">0.00</text>
<text x="310.9" y="257.60" class="cb" text-anchor="middle">0.01</text>
<text x="329.8" y="257.60" class="cb" text-anchor="middle">0.02</text>
<text x="348.8" y="257.60" class="cb" text-anchor="middle">0.03</text>
<text x="367.7" y="257.60" class="cb" text-anchor="middle">0.04</text>
<clipPath id="fp22"><rect x="395.5" y="178.8" width="128.0" height="64.2"/></clipPath>
<g clip-path="url(#fp22)"><g transform="translate(395.5 178.80) scale(0.177778 0.178333)">
<rect width="720" height="360" fill="#1a3690" clip-path="url(#land)"/>
<g clip-path="url(#land)">
<path d="M222 104l-19-6-8-5-11-11-19 4-12 8-7 10 6 11 17 3 15 6 21 1 12-10z" fill="#0f2468"/>
<path d="M156 100l-7-6-5-5-8-6-11 1-1 11-9 5 9 6 4 5 8 1 9 0 10-3z" fill="#234ea0"/>
<path d="M431 176l-1-10-13-5-13-9-15 7-17 5-5 12 20 6 7 5 10 10 10-10 18-1z" fill="#0f2468"/>
<path d="M419 80l0-8-9-9-20 0-22-2-14 8-6 11 2 11 25 2 15 5 18-2 19-5z" fill="#1d3490"/>
<path d="M431 230l-10-8-10-2-7-3-8 2-13 1 0 10-1 10 11 5 11-1 8-3 4-6z" fill="#234ea0"/>
<path d="M661 232l-10-7-12-4-11-9-16 4-8 8 0 8-6 10 9 11 21-4 11-6 13-3z" fill="#1d3490"/>
<path d="M77 52l-3-7-14-2-10-8-12 7-11 3 1 7-1 7 4 9 19-4 15 1 2-8z" fill="#2596c1"/>
<path d="M191 70l2-4-21-3-22-2-23 2-27 2-15 5 15 5 16 6 34-2 33 1 16-5z" fill="#2168ad"/>
<path d="M186 52l15-7-35-1-22 0-36-5-25 5 8 8 21 4 6 6 26 1 21-3 39-1z" fill="#2596c1"/>
<path d="M200 48l-17-3-4-4-19-1-27-1-1 6-3 3-8 4 16 4 23 1 24-1 17-3z" fill="#44b4c4"/>
<path d="M187 46l-2-2-9-1-6-1-6 1-5 1-5 2 1 2 9 0 6 2 7-1 5-1z" fill="#c6e7b4"/>
<path d="M426 134l-4-5-11-6-31-3-35 1-7 8-14 5 17 5 14 4 25 2 29 0 19-5z" fill="#44b4c4"/>
<path d="M471 134l-7-5-4-6-8 2-12-7-2 10-3 6 4 6 4 7 9-1 8-1 10-3z" fill="#44b4c4"/>
<path d="M523 86l7-6-19-4-21 3-21-3-2 6-3 4-14 6 26 1 14 5 18-3 21-3z" fill="#2168ad"/>
<path d="M604 98l-29-4-7-4-18-1-24-2-11 6-5 5-4 6 24 3 20-2 14-1 19-1z" fill="#2596c1"/>
<path d="M557 114l0-3-6-4-15 0-12 2-11 2 7 3-2 3 7 2 11 1 12-1 15-1z" fill="#2168ad"/>
<path d="M583 144l-1-6-1-9-11-4-9 6-5 6-1 7-1 7 8 5 8 0 7-2 16 1z" fill="#2596c1"/>
<path d="M687 44l23-8-61-4-69-3-76 2-29 7-18 6-15 8 85 1 53 6 51-6 77-2z" fill="#234ea0"/>
<path d="M644 230l-3-5-5-5-10-3-12 2-9 4 1 7 9 4-1 7 12-2 11 2 0-7z" fill="#234ea0"/>
<path d="M291 204l-2-10-7-5-6-7-5 10-4 5-6 7 4 9 5 6 6 5 8-2 2-10z" fill="#2168ad"/>
<path d="M235 270l0-10-7-1-4-2-4 2-6 2 1 9-1 9 5 5 5 3 4-5 3-6z" fill="#2168ad"/>
<path d="M604 56l6-4-17-5-53 1-53-1-8 5-36 4 18 5 30 4 49-3 36 0 16-3z" fill="#2596c1"/>
<path d="M486 48l-2-2-6-2-8 0-13-2-3 4-3 2 5 2 1 4 13 1 11-2 13-1z" fill="#44b4c4"/>
<path d="M697 50l-5-4-10-3-12-4-11 5-19 0 1 6 0 6 9 5 20 2 19-2 2-7z" fill="#44b4c4"/>
<path d="M557 104l0-3-5-4-12-3-15 2 1 5-6 3 6 3-1 6 15 1 11-4 14-1z" fill="#44b4c4"/>
<path d="M562 104l-9-2-3-2-6 0-9-1 1 3-5 2 5 2-1 3 9 1 7-2 9-1z" fill="#c6e7b4"/>
<path d="M387 134l7-4-12-2-12-3-14 2-5 4-12 3 11 3 8 3 12 0 14 1 14-2z" fill="#c6e7b4"/>
<path d="M424 136l-4-2-4-2-6-1-6 1-1 2-1 2-5 3 9 0 4 0 6 1 7-1z" fill="#eef8c2"/>
<path d="M572 144l-2-3-3-3-3-2-4 1-2 3-2 4 1 4 1 6 6 0 6 0 5-4z" fill="#44b4c4"/>
<path d="M353 127h0M346 149h0M378 151h0M430 153h0M343 142h0" stroke="#eef8c2" stroke-width="12.0" stroke-linecap="round"/>
<path d="M413 150h0M327 134h0M331 111h0M385 133h0M354 115h0M346 112h0" stroke="#eef8c2" stroke-width="9.0" stroke-linecap="round"/>
<path d="M433 146h0M357 142h0M332 136h0M409 128h0M410 154h0" stroke="#234ea0" stroke-width="12.0" stroke-linecap="round"/>
<path d="M389 153h0M336 110h0M409 126h0" stroke="#234ea0" stroke-width="9.0" stroke-linecap="round"/>
<path d="M393 143h0M364 114h0M419 132h0M337 126h0" stroke="#44b4c4" stroke-width="12.0" stroke-linecap="round"/>
<path d="M383 136h0M330 130h0M339 114h0M352 117h0" stroke="#c6e7b4" stroke-width="12.0" stroke-linecap="round"/>
<path d="M388 137h0" stroke="#234ea0" stroke-width="6.0" stroke-linecap="round"/>
<path d="M332 117h0M364 140h0" stroke="#c6e7b4" stroke-width="9.0" stroke-linecap="round"/>
<path d="M375 135h0M403 127h0" stroke="#44b4c4" stroke-width="9.0" stroke-linecap="round"/>
<path d="M77 67h0M27 38h0M121 64h0M72 38h0M134 67h0M207 67h0M44 69h0M30 68h0" stroke="#eef8c2" stroke-width="12.0" stroke-linecap="round"/>
<path d="M54 65h0M62 59h0M31 35h0M27 47h0" stroke="#eef8c2" stroke-width="9.0" stroke-linecap="round"/>
<path d="M115 51h0" stroke="#c6e7b4" stroke-width="6.0" stroke-linecap="round"/>
<path d="M47 52h0M235 54h0M93 52h0M166 30h0M50 63h0M222 32h0M64 55h0M54 45h0M56 54h0" stroke="#86cfbb" stroke-width="12.0" stroke-linecap="round"/>
<path d="M113 67h0" stroke="#44b4c4" stroke-width="9.0" stroke-linecap="round"/>
<path d="M195 46h0M208 48h0M21 41h0M95 47h0M191 36h0M147 57h0" stroke="#44b4c4" stroke-width="12.0" stroke-linecap="round"/>
<path d="M133 63h0M47 59h0M160 64h0" stroke="#c6e7b4" stroke-width="12.0" stroke-linecap="round"/>
<path d="M236 54h0M106 43h0M37 34h0" stroke="#c6e7b4" stroke-width="9.0" stroke-linecap="round"/>
<path d="M26 64h0" stroke="#86cfbb" stroke-width="6.0" stroke-linecap="round"/>
<path d="M492 124h0M570 106h0M553 102h0M478 116h0M472 128h0M482 116h0M478 96h0M557 95h0M539 116h0" stroke="#eef8c2" stroke-width="12.0" stroke-linecap="round"/>
<path d="M551 110h0M524 91h0M525 111h0M466 100h0M520 80h0M528 111h0M595 105h0M564 116h0M557 121h0" stroke="#c6e7b4" stroke-width="12.0" stroke-linecap="round"/>
<path d="M491 73h0M515 112h0M545 91h0M457 91h0M454 74h0M475 120h0M465 127h0M554 108h0" stroke="#234ea0" stroke-width="12.0" stroke-linecap="round"/>
<path d="M538 106h0M463 99h0" stroke="#44b4c4" stroke-width="12.0" stroke-linecap="round"/>
<path d="M571 87h0" stroke="#44b4c4" stroke-width="9.0" stroke-linecap="round"/>
<path d="M489 108h0M465 91h0M525 95h0" stroke="#eef8c2" stroke-width="9.0" stroke-linecap="round"/>
<path d="M518 105h0M557 119h0M461 86h0M526 108h0M562 117h0M497 90h0" stroke="#1d3490" stroke-width="9.0" stroke-linecap="round"/>
<path d="M527 119h0" stroke="#c6e7b4" stroke-width="9.0" stroke-linecap="round"/>
<path d="M523 74h0" stroke="#234ea0" stroke-width="6.0" stroke-linecap="round"/>
<path d="M481 99h0M515 114h0M593 98h0M590 102h0" stroke="#234ea0" stroke-width="9.0" stroke-linecap="round"/>
<path d="M532 101h0M469 91h0M563 120h0M542 87h0" stroke="#1d3490" stroke-width="12.0" stroke-linecap="round"/>
<path d="M656 58h0" stroke="#c6e7b4" stroke-width="6.0" stroke-linecap="round"/>
<path d="M456 54h0" stroke="#c6e7b4" stroke-width="9.0" stroke-linecap="round"/>
<path d="M471 58h0M618 74h0M466 33h0M699 25h0M532 91h0M517 56h0" stroke="#44b4c4" stroke-width="12.0" stroke-linecap="round"/>
<path d="M672 85h0M670 40h0M520 58h0M715 54h0" stroke="#1d3490" stroke-width="9.0" stroke-linecap="round"/>
<path d="M687 27h0M548 72h0M489 35h0M629 68h0M514 31h0M569 48h0M670 90h0" stroke="#c6e7b4" stroke-width="12.0" stroke-linecap="round"/>
<path d="M541 65h0M553 57h0M457 28h0M638 30h0" stroke="#2596c1" stroke-width="12.0" stroke-linecap="round"/>
<path d="M462 37h0M666 68h0M617 24h0M528 72h0" stroke="#1d3490" stroke-width="12.0" stroke-linecap="round"/>
<path d="M615 78h0M584 60h0M665 52h0" stroke="#44b4c4" stroke-width="9.0" stroke-linecap="round"/>
<path d="M693 85h0M541 57h0M639 24h0M678 21h0" stroke="#2596c1" stroke-width="9.0" stroke-linecap="round"/>
<path d="M460 35h0M673 44h0" stroke="#44b4c4" stroke-width="6.0" stroke-linecap="round"/>
<path d="M143 104h0M101 76h0M571 114h0M217 89h0" stroke="#2596c1" stroke-width="12.0" stroke-linecap="round"/>
<path d="M562 110h0M85 71h0M351 52h0M562 132h0M601 126h0" stroke="#44b4c4" stroke-width="12.0" stroke-linecap="round"/>
<path d="M608 97h0M193 68h0M603 113h0M589 138h0M577 119h0M130 67h0M561 135h0M204 66h0" stroke="#2596c1" stroke-width="9.0" stroke-linecap="round"/>
<path d="M602 98h0M167 73h0M425 47h0M113 84h0M243 72h0M106 90h0M591 126h0" stroke="#44b4c4" stroke-width="9.0" stroke-linecap="round"/>
<path d="M224 66h0M364 48h0" stroke="#1d3490" stroke-width="12.0" stroke-linecap="round"/>
<path d="M572 137h0" stroke="#1d3490" stroke-width="9.0" stroke-linecap="round"/>
<path d="M571 118h0" stroke="#44b4c4" stroke-width="6.0" stroke-linecap="round"/>
<path d="M428 206h0M245 188h0" stroke="#2596c1" stroke-width="9.0" stroke-linecap="round"/>
<path d="M435 193h0M640 227h0M284 207h0M440 184h0M286 208h0M262 227h0" stroke="#0f2468" stroke-width="9.0" stroke-linecap="round"/>
<path d="M268 219h0M224 185h0M273 198h0M290 193h0" stroke="#2168ad" stroke-width="12.0" stroke-linecap="round"/>
<path d="M253 156h0M442 177h0" stroke="#2168ad" stroke-width="6.0" stroke-linecap="round"/>
<path d="M397 223h0M588 238h0M231 176h0" stroke="#2168ad" stroke-width="9.0" stroke-linecap="round"/>
<path d="M214 158h0M662 222h0" stroke="#2596c1" stroke-width="6.0" stroke-linecap="round"/>
<path d="M404 235h0M404 227h0M433 194h0M436 249h0M253 201h0M435 220h0M448 180h0" stroke="#2596c1" stroke-width="12.0" stroke-linecap="round"/>
<path d="M268 222h0M656 263h0" stroke="#0f2468" stroke-width="12.0" stroke-linecap="round"/>
</g>
<path d="M214 24l6-3 8-3 12-2 16-1 14-1 14-1 20 0 12 2 8 1 12 1-6 3-8 2 1 3-3 3 2 3-6 4 0 4-5 2-5 2-8 1-8 4-7 1-4 2-3 4-2 4-3 1-5-2-4-2-3-3-2-3-4-3-1-3 5-2-3-3 2-1-5-1-2-3-3-3-4-3-8 0-8 0-4-2-5-1zM382 23l3-2 7-1 8-1 14 1-8 3-6 2-7 2-6-3zM454 19l10-2 16 0 8 1-12 2-16 0zM550 22l4-3 6-1 9 3-5 2-8 1zM632 29l6-1 4 0 10 1 9 1-9 1-10 2-6-1zM717 38l3-1 0 1zM0 37l5 1-5 0z" fill="#fff" stroke="#333" stroke-width="0.5" vector-effect="non-scaling-stroke"/>
<path d="M200 32l8 3 10 3 7 3 2 2 9 3-3 4-4 5-5 0-7-2-6-2-6 0-2-2 9-4-10-4-6-1-8 0-6-2-1-4 7-1 6 0zM123 37l7-4 14 0 7 1 7 5-8 3-10 1-8-1-7-1-3-3zM109 36l3-4 9 0 8 1-7 4-9 1zM201 27l9-2 3-2 7-1 10-3 7-3-17-2-20 0-20 2-10 2-4 3 8 2 8 2 8 2zM176 29l8-2 16 1-1 2-9 1-14-1zM170 33l9-1-2 4-7 0zM158 33l8 0 0 3-9 0zM128 30l8-3 12 1 0 2-8 1-14 0zM160 27l8 0 2 3-10 0zM162 42l6-1 0 2-6 0zM116 27l12-2-2 3z" fill="#fff" stroke="#1a1a1a" stroke-width="0.8" vector-effect="non-scaling-stroke"/>
<path d="M416 97l0-4 3-3 3-3 3 1 2 3 4-1 2-1 4-3 2 0-3 2-1 2 4 3 4 4-3 1-7-1-3-1-4 0-4 2-4 0zM454 92l1-3 4-2 4-1 3 0 0 3-3 2 0 3 2 2 1 3 2 2 0 4-6 2-4-2 1-6-2-3-2-2z" fill="#fff" stroke="#1a1a1a" stroke-width="0.6" vector-effect="non-scaling-stroke"/>
<path d="M24 49l3-6 7-3 13-3 9 1 10 1 12 2 10 1 8-1 8-1 8 1 8 1 10 1 10 1 8-1 10 1 6-1 4-2 3-4 4 2 5 3 4 1 5-2 6 0 2 4-7 1-3 2-2 3-6 2-7 5 0 4 3 4 9 1 6 2 5 1 1 5 3 2 3-1 1-5 3-4-1-4 0-4-1-4 9 0 6 3 2 4 4 1 3-2 3-2 5 6 3 4 6 3 4 4-3 1-6 3-8 0-5 0-5 3-4 3 5-3 5-1 3 0-1 2 1 4 5 0 4 0-3 2-4 1-4 2-1-2 3-2-3 1-2 0-4 2-2 1-1 2 1 1-3 1-3 1-2 1 0 1-2 2-1 1-1 3 1 3-2 2-3 1-2 2-4 2-1 3 2 4 1 4-1 3-1-1-2-2-1-3 0-2-3-2-3 1-2-2-4 0-2 1 1 2-3 0-3-1-4 0-2 1-4 2-1 4 0 4-1 3 1 3 2 3 3 2 1 1 4-1 3-1 1-2 0-2 4-1 3 0-1 4-2 2 1 4-2 1 6 0 3 0 2 2 0 5 0 3 2 3 2 1 3-1 2 0 3 2 0 1-1 2-3-3-2 2-3-1-3-1-4-3-1-2-3-4-3 0-5-2-2-1-3-3-2 0-3 1-4-2-5-1-5-3-4-4 0-2-1-3-4-4-3-3-3-3-2-2-2-4-3-1 1 3 2 3 2 4 3 5 1 2-1-1-3-3-1-3-4-3 0-1-2-3-2-4-1-1-3-3-2-1-2 0-3-4-1-3-2-2-2-3 1-3 0-4 0-4-1-5 3 1 1 2-1-4-4-2-5-2-1-3-4-4-3-2-4-4-4-3-5 0-5-2-7 0-5-2-6 2-5 2 2-4-6 5-5 2-4 3-6 2-6 1 5-2 6-3 3-3-5 0-5-3-5-1-1-2 1-3 8-3-4 0-6 0-4-2zM205 163l3-2 1-2 3-1 4-2 1 2 1-1 5 1 1 1 8 0 5 1 3 3 4 3 6 2 5 2 2 2 3 4 1 4 2 2 4 0 4 3 5 1 5 0 4 3 5 2 0 4-1 4-3 3-3 4-1 5-1 5-1 5-2 3-2 2-5 1-4 1-3 3-1 6-3 3-3 4-3 3-4 3-3 0-4-2 3 5-1 3-5 2-4 0-1 3-5 1 2 2-1 2-1 3-4 3-1 1 3 3-3 2-2 3-1 2 1 2 0 3 4 2-4 1-5-1-4-2-3-4-2-4 1-4-1-3 3-2 1-4 0-3-1-4 1-6 2-3 2-5 0-6 1-5 1-5 1-7-1-6-4-3-5-3-3-4-1-4-3-5-2-3-3-4 1-4 0-3 1-3 0-3 2-2 2-3 1-3 0-3-1-2 1-2zM348 108l-2 4-5 3-1 5-3 4-3 2-4 4-3 5-1 3 1 3 0 6-2 4 1 2 1 3 3 2 2 2 2 3 3 3 4 3 4 2 5-1 4 0 4 0 4-2 4-1 3 0 2 3 1 1 2 0 3 0 2 2 1 3-1 2 0 3 1 4 3 4 2 3 1 6 1 5-2 4-1 6 0 2 3 7 2 4 1 7 1 1 2 3 2 4 1 4 1 3 3 2 5-2 6 0 3-1 3-3 4-3 2-3 2-4 1-3 4-2 1-2 0-3-1-4 3-2 3-3 4-3 1-4 0-6-2-5 0-3-1-5 2-3 3-3 3-3 3-3 4-3 3-4 3-6 3-5 0-3-4 1-3 1-5 1-3-2 0-1-2-2-2-2-3-3-2-2-1-4-3-5 0-3-3-1-1-4-2-3-2-4-1-3 0-3-3 0-2 0-4 1-6-2-4-1-4-1-2 2 0 2-2 1-4-1-3-1-1-2-4-1-4 0-2-2 2-2 0-3-2-1-4 0-4 0-6 0-4 1-4 2-3 1-3 0-3-2-1 0zM349 108l-2-2-2 0-3 0 0-3-1-2 2-4-2-3 3-1 8 0 5 0 1-5-3-2-4-3 6 0 0-2 3 0 3-3 3-1 3-2 1-2 7 0 0-4-1-3 5-1 0 3 1 3 2 1 4 0 9-1 5-1 0-4 6 0-1-4 9-1 4-1-3-1-12 1-2-3 0-3 7-4-6-2-1 3-5 2-3 4 3 3-5 5-1 3-6 1-1-2-3-5-1-1-5 3-5-2-1-4 0-3 10-3 5-4 5-5 6-2 10-2 10-1 6 2 4 1 16 3-2 4-10 3 5 1 5-1 8-3 0-5 4 2 14-2 10 0 4-3 12 2 5 1-3-5 4-4 7 1-1 3 1 5 5-8 6 0 4-2 12-1 2-2 18-2 8-2 9-1 5 1 12 2 1 5 13 1 12-1 8 5 10-1 10-2 12 0 8 2 10 1 8 1 4 2 10 0 8-1 12 1 8 1 0 8-3 1-3 4-6 2-8 3-8-1-5 1-3 4 2 4-2 3-4 3-4 2-3 2-2-8 1-5 4-2 4-4 6-3-6 1-10 4-8 0-8 0-8 0-6 4-6 7 5 0 3 2-1 6 0 3-5 4-5 6-7 1-3 1-1 1-2 3-3 1 0 2 3 2 1 4-1 2-5 1 0-3 0-3-2 0-1-2 1-2-2-1-4 1-2 1-1-1 3-2-3-1-3 2-3 2-1 1 3 2 1 1 2-2 4 1-4 3-2 2 3 5 2 3 0 4-3 3-2 4-5 4-6 2-6 2-2 2-2-2-5 2-1 3 1 4 5 3 1 7-5 3-4 4 0-3-2-1-3-3-3-2-2-1-2 7 2 3 1 3 2 0 4 4 0 5 1 2-1 0-4-3-2-5-4-5 0-5 0-6-2-6-3 0-3 1 0-6-3-2-2-3-3-2-4 2-3 1-4 3-5 6-5 6 0 6-5 5-3-4-2-6-4-8 0-4-1-5-5 1-2-3-1-2-2-1-2-3-5 0-5 1-8-2-2-2-5 0-5-2-3-4-4 0 1 3 3 4 3 1 0 4 5 0 4-4 1 3 4 2 3 2-3 4-3 3-4 4-6 3-6 2-8 3-3 1-1-4-1-4-3-6-4-4-1-5-3-4-4-4 0-3-1 3-4-4 0-2 4-1 1-3 2-4 0-2-3-2-4 2-4-1-5 0-1-2-2-2-1-2 0-2-4-1-3 1 1 3 2 2-2 3-3-1-1-3-2-2-1-5-2-1-5-2-3-3-2-1-2 0 0 3 3 3 4 2 5 3-3 2-1 2-2 0 1-4-4-2-4-1-3-3-3-3-4 2-5 0-3 1 0 2-4 2-3 3 1 2-2 2-2 2-5 0-2 1zM0 42l6 1 6 3 6 1 3 1-3 1-4 2-6-1-5-1-3 1zM312 49l4-2 8 1 6-1 3 3-2 1-5 1-4 1-7-1 1-1zM241 85l2-3 2-3 4-2-1 3 5 1 2 4-3 2-4-1-3-1zM113 83l-4-1-6-3 3-1 5 3zM190 136l6-2 4 0 5 2 7 4-7 0-3-3-4-1-6 0zM211 143l3-3 8 1 1 2-5 1-7 0zM203 143l5 1-2 1zM225 143l4 0-1 1-2 0zM349 80l5-1 9-1 0-3-3-2-3-2 0-2-1-4-3-2-3 0-2 4 1 2 5 1-1 2 1 1-3 0 1 3-2 1 4 0zM348 76l0-4 1-1-4-2-2 2-3 1 1 2-2 2 5 1zM385 104l2 0 4-1-1 4-1-1zM377 102l-1-4 2 0 2 1-1 3zM377 97l0-2 2-1 0 2zM407 109l6 0-1 1-4 0zM425 110l1-1 3 0-1 1-2 1zM644 87l-1-4 1-6 1-5 2 1-1 5 3 4-3 3-1 2zM640 97l0-4 3-4 3 2 5 2-4 3-5-1zM622 112l3-3 6 0 3-4 5-2 1-3 1-3 2 2 1 3-2 2 0 4-2 2-2 1-4 0-4 2-6-1zM619 113l3-1 2 3-2 3-2-1-1-3zM625 112l4 0 0 1-3 1zM600 134l3-4 1 1-2 5-2-1zM577 142l4-2 1 1-3 3zM520 164l1-4 3 5-1 3-3 0zM600 143l4 0 0 5 4 5-5-1-2-1-1-3zM604 165l4-2 5-2-1 6-1 2-3-2-4-1zM604 156l7-1 0 5-4 1-2-1-1-3zM594 163l5-6 0 2-4 5zM551 169l4 1 6 6 6 3 2 5 3 2 0 6-3 0-4-4-3-4-4-4-1-4-4-4zM571 194l1-2 5 1 5 0 3 1 4 2 0 1-7-1-6 0-5-2zM578 177l1 5 1 4 3 0 6 2 4-1 0-3 2-6 3 0-2-2 2-7-2-1-2-2-3 4-3 1-2 3-3 1-4 1zM599 191l2 0 0-5 2 3 3 1 0-2-3-4 3-2 1 0-5 1-1-2 0-2 1-1 8-1 0 1-3 1-6 1-1 0-2 5zM622 182l3-1 3 1 3 5 5-4 6 2 7 3 3 3 3 1 1 4 4 4 2 1-6-1-3-2-5-3-1 3-5 0-4-2-2 1-1-5-5-3-3-1-1 0-2-2 3-1-4-2zM657 191l4-1 3-2-1 3-3 1zM615 176l2 2-1 4-1-3zM616 186l6 1-2-1zM608 201l2-3 5-1-2 1-4 2zM592 197l6 0 7-1 1 1-8 1-6 0zM587 224l1 9 2 7 0 7 2 3 4 0 7-2 5-2 4-1 6-2 4 0 6 2 3 5 4-4 0 5 2 0 2 2 2 3 6 2 6 0 3-2 4-1 1-4 2-4 3-5 1-5-1-6-4-4-3-2-5-7-3-6 0-2-4-2-1-6-1-1-2 5 0 6-2 3-3-1-4-2-3-2 2-5 1-1-3 0-5-1-2-1-2 2-2 2-1 4-3 0-3-2-3 2-3 3-3 3-1 3-5 2-5 0-4 3zM649 261l8 1-1 4-2 1-3-2-2-3zM705 249l4 4 3 2 5 0-3 4-1 2-3 2-1-3-1-2 1-2-3-6zM705 261l3 2-1 3-5 3-4 4-5-1 3-4 7-4zM459 204l2 5 0 2-2 4-2 7-2 8-5 1-2-4-1-4 2-5-1-5 4-2 2-2 2-2zM464 37l4-4 5-3 7-2 8-2 9 0-5 2-10 3-6 3-3 3 2 2-5 0zM186 50l8 0 3 3-9 0z" fill="none" stroke="#1a1a1a" stroke-width="0.6" vector-effect="non-scaling-stroke"/>
<path d="M0 341l20 0 20 0 10-4 10-3 10-3 10-1 10-1 10 0 10-1 10-1 10 1 10 1 10 0 10-2 10-1 10 0 10 1 10-1 8-2 8-3 8-5 6-4 5-3 2 3-3 5-2 6 2 7 6 7 10 3 20 1 14-4 10-2 10-3 8-3 12-3 12-3 12-1 12-2 12 0 12 0 12 0 12 0 12-1 10-1 10 0 10-2 10-2 10-1 10 2 10 0 10 2 4 3 8-1 8-3 10-2 10-1 10-1 10 0 10 0 10 0 10 2 10 0 10-1 10-1 10 0 10 1 10 2 10 2 10 1 10 2 8 2 6 1 6 1-2 3-6 3-4 2-1 3 5 2 8 2 10 1 10 1" fill="none" stroke="#444" stroke-width="0.55" vector-effect="non-scaling-stroke"/>
</g></g>
<rect x="395.5" y="178.8" width="128.0" height="64.2" fill="none" stroke="#ababab" stroke-width="0.6"/>
<ellipse cx="427.2" cy="192.1" rx="12.60" ry="8.40" fill="none" stroke="#ee7a22" stroke-width="1.3"/>
<text x="393.6" y="180.0" class="ax" text-anchor="end">90°N</text>
<text x="393.6" y="190.7" class="ax" text-anchor="end">60°N</text>
<text x="393.6" y="201.4" class="ax" text-anchor="end">30°N</text>
<text x="393.6" y="212.1" class="ax" text-anchor="end">0°</text>
<text x="393.6" y="222.8" class="ax" text-anchor="end">30°S</text>
<text x="393.6" y="233.5" class="ax" text-anchor="end">60°S</text>
<text x="393.6" y="244.2" class="ax" text-anchor="end">90°S</text>
<path d="M394.2 178.80h1.3M394.2 189.50h1.3M394.2 200.20h1.3M394.2 210.90h1.3M394.2 221.60h1.3M394.2 232.30h1.3M394.2 243.00h1.3M395.50 243.0v1.2M416.83 243.0v1.2M438.17 243.0v1.2M459.50 243.0v1.2M480.83 243.0v1.2M502.17 243.0v1.2M523.50 243.0v1.2" stroke="#666" stroke-width="0.4" fill="none"/>
<text x="395.5" y="248.1" class="ax" text-anchor="middle">180°</text>
<text x="416.8" y="248.1" class="ax" text-anchor="middle">120°W</text>
<text x="438.2" y="248.1" class="ax" text-anchor="middle">60°W</text>
<text x="459.5" y="248.1" class="ax" text-anchor="middle">0°W</text>
<text x="480.8" y="248.1" class="ax" text-anchor="middle">60°E</text>
<text x="502.2" y="248.1" class="ax" text-anchor="middle">120°E</text>
<text x="523.5" y="248.1" class="ax" text-anchor="middle">180°</text>
<rect x="383.30" y="249.10" width="15.49" height="3.6" fill="#f4fbc6"/>
<rect x="398.54" y="249.10" width="15.49" height="3.6" fill="#e4f4b4"/>
<rect x="413.78" y="249.10" width="15.49" height="3.6" fill="#c4e7b4"/>
<rect x="429.02" y="249.10" width="15.49" height="3.6" fill="#8fd3ba"/>
<rect x="444.26" y="249.10" width="15.49" height="3.6" fill="#5abfc0"/>
<rect x="459.50" y="249.10" width="15.49" height="3.6" fill="#2fa5c2"/>
<rect x="474.74" y="249.10" width="15.49" height="3.6" fill="#1f84b8"/>
<rect x="489.98" y="249.10" width="15.49" height="3.6" fill="#225ea8"/>
<rect x="505.22" y="249.10" width="15.49" height="3.6" fill="#243d98"/>
<rect x="520.46" y="249.10" width="15.49" height="3.6" fill="#13266e"/>
<path d="M383.50 249.10L375.68 250.90L383.50 252.70Z" fill="#ffffd9"/>
<path d="M535.50 249.10L543.32 250.90L535.50 252.70Z" fill="#081d58"/>
<path d="M383.30 249.10H535.70L543.32 250.90L535.70 252.70H383.30L375.68 250.90Z" fill="none" stroke="#555" stroke-width="0.3"/>
<text x="383.3" y="257.80" class="cb" text-anchor="middle">0.0</text>
<text x="398.5" y="257.80" class="cb" text-anchor="middle">0.1</text>
<text x="413.8" y="257.80" class="cb" text-anchor="middle">0.2</text>
<text x="429.0" y="257.80" class="cb" text-anchor="middle">0.3</text>
<text x="444.3" y="257.80" class="cb" text-anchor="middle">0.4</text>
<text x="459.5" y="257.80" class="cb" text-anchor="middle">0.5</text>
<text x="474.7" y="257.80" class="cb" text-anchor="middle">0.6</text>
<text x="490.0" y="257.80" class="cb" text-anchor="middle">0.7</text>
<text x="505.2" y="257.80" class="cb" text-anchor="middle">0.8</text>
<text x="520.5" y="257.80" class="cb" text-anchor="middle">0.9</text>
<text x="535.7" y="257.80" class="cb" text-anchor="middle">1.0</text>
<clipPath id="fp03"><rect x="64.5" y="262.3" width="126.9" height="63.3"/></clipPath>
<g clip-path="url(#fp03)"><g transform="translate(64.5 262.30) scale(0.176250 0.175833)">
<rect width="720" height="360" fill="#df2427" clip-path="url(#land)"/>
<g clip-path="url(#land)">
<path d="M376 204l0-34 24 2 44-2 4 34z" fill="#c0141c"/>
<path d="M380 252l0-48 68 0 0 48z" fill="#cc1a20"/>
<path d="M324 164l0-16 36 4 30 2 30-2 16-4 12 8-4 14-44 2-40-4z" fill="#b0101a"/>
<path d="M326 148l0-22 16-10 18-6 20 2 20 6 24 0 6 18 6 12-16 4-30 2-30-2z" fill="#9c0c14"/>
<path d="M428 120l28-2 18 10 6 8-16 14-18 6-10-16z" fill="#a80e16"/>
<path d="M274 192l-19-8-7-6-12-10-14 6-3 11-6 7-5 12 18 0 10 12 12-9 9-6z" fill="#c8141e"/>
<path d="M516 84l-4-6-3-10-29 5-28-5-3 10-18 6-7 10 36 1 20 4 23-3 27-3z" fill="#e84440"/>
<path d="M449 70l-3-7-13-4-13-2-16 0-13 5 8 8-4 7 8 6 17-3 12 0 11-4z" fill="#e84440"/>
<path d="M624 60l-22-7-25-1-17-3-33-5-1 10-12 6 9 6 5 10 32 3 26-6 9-7z" fill="#e84440"/>
<path d="M191 80l-12-9-26 0-13-3-24-4-21 6-2 10 11 8 16 6 20 7 19-8 5-8z" fill="#e84440"/>
<path d="M651 230l0-8-16-1-9-3-11 1-16 2 7 9 4 6 8 2 8 5 15 2 9-7z" fill="#e84440"/>
<path d="M608 87h0M478 109h0M496 117h0M520 57h0M541 54h0M666 34h0M522 102h0M545 24h0M390 56h0" stroke="#f47a6a" stroke-width="12.0" stroke-linecap="round"/>
<path d="M594 52h0M484 106h0M579 100h0M418 48h0M419 90h0M456 74h0M579 135h0M505 79h0M575 109h0M461 43h0" stroke="#f8a090" stroke-width="9.0" stroke-linecap="round"/>
<path d="M587 123h0M488 125h0M508 84h0M376 103h0M549 87h0M558 107h0M502 55h0M510 81h0M454 91h0M501 99h0M670 78h0M379 91h0M473 108h0M573 101h0" stroke="#ee5448" stroke-width="12.0" stroke-linecap="round"/>
<path d="M456 99h0M582 20h0M446 35h0M590 127h0M534 65h0M402 40h0M691 56h0M510 95h0M475 21h0M596 117h0M514 20h0M424 56h0M558 103h0M516 101h0M514 94h0M597 98h0M683 79h0M498 117h0" stroke="#ee5448" stroke-width="9.0" stroke-linecap="round"/>
<path d="M658 27h0M496 129h0M561 92h0M560 43h0M551 103h0M436 97h0M474 50h0M451 94h0M606 79h0M562 41h0" stroke="#f8a090" stroke-width="6.0" stroke-linecap="round"/>
<path d="M467 55h0M402 106h0M611 54h0M564 104h0M616 65h0M350 48h0M496 81h0" stroke="#f47a6a" stroke-width="6.0" stroke-linecap="round"/>
<path d="M591 127h0M542 95h0M404 40h0M485 122h0M481 114h0M449 117h0M572 105h0M531 59h0M478 88h0M606 119h0M460 45h0M616 30h0M579 117h0M566 119h0M720 66h0M543 44h0M599 88h0M575 25h0" stroke="#f47a6a" stroke-width="9.0" stroke-linecap="round"/>
<path d="M520 89h0M537 101h0M592 24h0M510 92h0M388 99h0M537 106h0M470 62h0M479 114h0" stroke="#f8a090" stroke-width="12.0" stroke-linecap="round"/>
<path d="M574 92h0M515 73h0M566 135h0M424 92h0M497 76h0M623 61h0" stroke="#ee5448" stroke-width="6.0" stroke-linecap="round"/>
<path d="M540 135h0M494 157h0M661 69h0M526 162h0" stroke="#bc1219" stroke-width="12.0" stroke-linecap="round"/>
<path d="M408 75h0M640 80h0M534 147h0M567 90h0M509 152h0M538 135h0M391 107h0" stroke="#bc1219" stroke-width="9.0" stroke-linecap="round"/>
<path d="M363 100h0M560 82h0M600 67h0M600 105h0M404 98h0M704 88h0" stroke="#c8141e" stroke-width="6.0" stroke-linecap="round"/>
<path d="M650 58h0M596 100h0M506 142h0M604 66h0M508 141h0M594 103h0M405 80h0M504 143h0" stroke="#c8141e" stroke-width="9.0" stroke-linecap="round"/>
<path d="M378 66h0M427 61h0M535 131h0M582 106h0M506 148h0" stroke="#c8141e" stroke-width="12.0" stroke-linecap="round"/>
<path d="M580 132h0M528 150h0M418 50h0" stroke="#bc1219" stroke-width="6.0" stroke-linecap="round"/>
<path d="M87 77h0M198 44h0M170 109h0M184 114h0" stroke="#ee5448" stroke-width="12.0" stroke-linecap="round"/>
<path d="M203 96h0M116 85h0M178 118h0M162 69h0M139 105h0M187 126h0M179 115h0M226 107h0M82 66h0" stroke="#f47a6a" stroke-width="12.0" stroke-linecap="round"/>
<path d="M207 87h0M134 87h0M223 110h0M187 107h0M156 66h0M222 125h0M116 97h0M160 85h0M149 81h0" stroke="#f47a6a" stroke-width="6.0" stroke-linecap="round"/>
<path d="M200 103h0M131 88h0M125 52h0M88 85h0M156 83h0M190 94h0M226 71h0M191 33h0M110 96h0M86 68h0M228 97h0M154 79h0M108 38h0M102 67h0M121 84h0" stroke="#f47a6a" stroke-width="9.0" stroke-linecap="round"/>
<path d="M241 84h0M199 88h0M148 113h0M147 55h0" stroke="#ee5448" stroke-width="9.0" stroke-linecap="round"/>
<path d="M114 90h0M91 65h0M175 84h0M226 106h0M172 102h0M157 103h0M179 130h0M229 121h0M130 87h0" stroke="#ee5448" stroke-width="6.0" stroke-linecap="round"/>
<path d="M220 246h0M603 236h0M384 229h0M626 209h0M623 214h0" stroke="#f47a6a" stroke-width="6.0" stroke-linecap="round"/>
<path d="M415 233h0M661 217h0M259 280h0" stroke="#ee5448" stroke-width="9.0" stroke-linecap="round"/>
<path d="M629 216h0M645 267h0M267 217h0M670 260h0M423 241h0M596 235h0M240 260h0M598 217h0" stroke="#ee5448" stroke-width="6.0" stroke-linecap="round"/>
<path d="M424 240h0M587 202h0M640 208h0" stroke="#ee5448" stroke-width="12.0" stroke-linecap="round"/>
<path d="M601 217h0M218 236h0M418 229h0M265 190h0M271 200h0" stroke="#f47a6a" stroke-width="9.0" stroke-linecap="round"/>
<path d="M597 222h0" stroke="#f47a6a" stroke-width="12.0" stroke-linecap="round"/>
<path d="M395 152h0M427 147h0M364 157h0M382 151h0M400 139h0" stroke="#a50f15" stroke-width="6.0" stroke-linecap="round"/>
<path d="M343 159h0M327 161h0M387 151h0M407 122h0M417 165h0" stroke="#a50f15" stroke-width="9.0" stroke-linecap="round"/>
<path d="M373 155h0M326 124h0" stroke="#a50f15" stroke-width="12.0" stroke-linecap="round"/>
<path d="M331 159h0M334 136h0M363 140h0M367 128h0M370 163h0M419 140h0" stroke="#7c0810" stroke-width="9.0" stroke-linecap="round"/>
<path d="M347 161h0" stroke="#7c0810" stroke-width="6.0" stroke-linecap="round"/>
<path d="M352 154h0" stroke="#7c0810" stroke-width="12.0" stroke-linecap="round"/>
</g>
<path d="M214 24l6-3 8-3 12-2 16-1 14-1 14-1 20 0 12 2 8 1 12 1-6 3-8 2 1 3-3 3 2 3-6 4 0 4-5 2-5 2-8 1-8 4-7 1-4 2-3 4-2 4-3 1-5-2-4-2-3-3-2-3-4-3-1-3 5-2-3-3 2-1-5-1-2-3-3-3-4-3-8 0-8 0-4-2-5-1zM382 23l3-2 7-1 8-1 14 1-8 3-6 2-7 2-6-3zM454 19l10-2 16 0 8 1-12 2-16 0zM550 22l4-3 6-1 9 3-5 2-8 1zM632 29l6-1 4 0 10 1 9 1-9 1-10 2-6-1zM717 38l3-1 0 1zM0 37l5 1-5 0z" fill="#fff" stroke="#333" stroke-width="0.5" vector-effect="non-scaling-stroke"/>
<path d="M200 32l8 3 10 3 7 3 2 2 9 3-3 4-4 5-5 0-7-2-6-2-6 0-2-2 9-4-10-4-6-1-8 0-6-2-1-4 7-1 6 0zM123 37l7-4 14 0 7 1 7 5-8 3-10 1-8-1-7-1-3-3zM109 36l3-4 9 0 8 1-7 4-9 1zM201 27l9-2 3-2 7-1 10-3 7-3-17-2-20 0-20 2-10 2-4 3 8 2 8 2 8 2zM176 29l8-2 16 1-1 2-9 1-14-1zM170 33l9-1-2 4-7 0zM158 33l8 0 0 3-9 0zM128 30l8-3 12 1 0 2-8 1-14 0zM160 27l8 0 2 3-10 0zM162 42l6-1 0 2-6 0zM116 27l12-2-2 3z" fill="#fff" stroke="#1a1a1a" stroke-width="0.8" vector-effect="non-scaling-stroke"/>
<path d="M416 97l0-4 3-3 3-3 3 1 2 3 4-1 2-1 4-3 2 0-3 2-1 2 4 3 4 4-3 1-7-1-3-1-4 0-4 2-4 0zM454 92l1-3 4-2 4-1 3 0 0 3-3 2 0 3 2 2 1 3 2 2 0 4-6 2-4-2 1-6-2-3-2-2z" fill="#fff" stroke="#1a1a1a" stroke-width="0.6" vector-effect="non-scaling-stroke"/>
<path d="M24 49l3-6 7-3 13-3 9 1 10 1 12 2 10 1 8-1 8-1 8 1 8 1 10 1 10 1 8-1 10 1 6-1 4-2 3-4 4 2 5 3 4 1 5-2 6 0 2 4-7 1-3 2-2 3-6 2-7 5 0 4 3 4 9 1 6 2 5 1 1 5 3 2 3-1 1-5 3-4-1-4 0-4-1-4 9 0 6 3 2 4 4 1 3-2 3-2 5 6 3 4 6 3 4 4-3 1-6 3-8 0-5 0-5 3-4 3 5-3 5-1 3 0-1 2 1 4 5 0 4 0-3 2-4 1-4 2-1-2 3-2-3 1-2 0-4 2-2 1-1 2 1 1-3 1-3 1-2 1 0 1-2 2-1 1-1 3 1 3-2 2-3 1-2 2-4 2-1 3 2 4 1 4-1 3-1-1-2-2-1-3 0-2-3-2-3 1-2-2-4 0-2 1 1 2-3 0-3-1-4 0-2 1-4 2-1 4 0 4-1 3 1 3 2 3 3 2 1 1 4-1 3-1 1-2 0-2 4-1 3 0-1 4-2 2 1 4-2 1 6 0 3 0 2 2 0 5 0 3 2 3 2 1 3-1 2 0 3 2 0 1-1 2-3-3-2 2-3-1-3-1-4-3-1-2-3-4-3 0-5-2-2-1-3-3-2 0-3 1-4-2-5-1-5-3-4-4 0-2-1-3-4-4-3-3-3-3-2-2-2-4-3-1 1 3 2 3 2 4 3 5 1 2-1-1-3-3-1-3-4-3 0-1-2-3-2-4-1-1-3-3-2-1-2 0-3-4-1-3-2-2-2-3 1-3 0-4 0-4-1-5 3 1 1 2-1-4-4-2-5-2-1-3-4-4-3-2-4-4-4-3-5 0-5-2-7 0-5-2-6 2-5 2 2-4-6 5-5 2-4 3-6 2-6 1 5-2 6-3 3-3-5 0-5-3-5-1-1-2 1-3 8-3-4 0-6 0-4-2zM205 163l3-2 1-2 3-1 4-2 1 2 1-1 5 1 1 1 8 0 5 1 3 3 4 3 6 2 5 2 2 2 3 4 1 4 2 2 4 0 4 3 5 1 5 0 4 3 5 2 0 4-1 4-3 3-3 4-1 5-1 5-1 5-2 3-2 2-5 1-4 1-3 3-1 6-3 3-3 4-3 3-4 3-3 0-4-2 3 5-1 3-5 2-4 0-1 3-5 1 2 2-1 2-1 3-4 3-1 1 3 3-3 2-2 3-1 2 1 2 0 3 4 2-4 1-5-1-4-2-3-4-2-4 1-4-1-3 3-2 1-4 0-3-1-4 1-6 2-3 2-5 0-6 1-5 1-5 1-7-1-6-4-3-5-3-3-4-1-4-3-5-2-3-3-4 1-4 0-3 1-3 0-3 2-2 2-3 1-3 0-3-1-2 1-2zM348 108l-2 4-5 3-1 5-3 4-3 2-4 4-3 5-1 3 1 3 0 6-2 4 1 2 1 3 3 2 2 2 2 3 3 3 4 3 4 2 5-1 4 0 4 0 4-2 4-1 3 0 2 3 1 1 2 0 3 0 2 2 1 3-1 2 0 3 1 4 3 4 2 3 1 6 1 5-2 4-1 6 0 2 3 7 2 4 1 7 1 1 2 3 2 4 1 4 1 3 3 2 5-2 6 0 3-1 3-3 4-3 2-3 2-4 1-3 4-2 1-2 0-3-1-4 3-2 3-3 4-3 1-4 0-6-2-5 0-3-1-5 2-3 3-3 3-3 3-3 4-3 3-4 3-6 3-5 0-3-4 1-3 1-5 1-3-2 0-1-2-2-2-2-3-3-2-2-1-4-3-5 0-3-3-1-1-4-2-3-2-4-1-3 0-3-3 0-2 0-4 1-6-2-4-1-4-1-2 2 0 2-2 1-4-1-3-1-1-2-4-1-4 0-2-2 2-2 0-3-2-1-4 0-4 0-6 0-4 1-4 2-3 1-3 0-3-2-1 0zM349 108l-2-2-2 0-3 0 0-3-1-2 2-4-2-3 3-1 8 0 5 0 1-5-3-2-4-3 6 0 0-2 3 0 3-3 3-1 3-2 1-2 7 0 0-4-1-3 5-1 0 3 1 3 2 1 4 0 9-1 5-1 0-4 6 0-1-4 9-1 4-1-3-1-12 1-2-3 0-3 7-4-6-2-1 3-5 2-3 4 3 3-5 5-1 3-6 1-1-2-3-5-1-1-5 3-5-2-1-4 0-3 10-3 5-4 5-5 6-2 10-2 10-1 6 2 4 1 16 3-2 4-10 3 5 1 5-1 8-3 0-5 4 2 14-2 10 0 4-3 12 2 5 1-3-5 4-4 7 1-1 3 1 5 5-8 6 0 4-2 12-1 2-2 18-2 8-2 9-1 5 1 12 2 1 5 13 1 12-1 8 5 10-1 10-2 12 0 8 2 10 1 8 1 4 2 10 0 8-1 12 1 8 1 0 8-3 1-3 4-6 2-8 3-8-1-5 1-3 4 2 4-2 3-4 3-4 2-3 2-2-8 1-5 4-2 4-4 6-3-6 1-10 4-8 0-8 0-8 0-6 4-6 7 5 0 3 2-1 6 0 3-5 4-5 6-7 1-3 1-1 1-2 3-3 1 0 2 3 2 1 4-1 2-5 1 0-3 0-3-2 0-1-2 1-2-2-1-4 1-2 1-1-1 3-2-3-1-3 2-3 2-1 1 3 2 1 1 2-2 4 1-4 3-2 2 3 5 2 3 0 4-3 3-2 4-5 4-6 2-6 2-2 2-2-2-5 2-1 3 1 4 5 3 1 7-5 3-4 4 0-3-2-1-3-3-3-2-2-1-2 7 2 3 1 3 2 0 4 4 0 5 1 2-1 0-4-3-2-5-4-5 0-5 0-6-2-6-3 0-3 1 0-6-3-2-2-3-3-2-4 2-3 1-4 3-5 6-5 6 0 6-5 5-3-4-2-6-4-8 0-4-1-5-5 1-2-3-1-2-2-1-2-3-5 0-5 1-8-2-2-2-5 0-5-2-3-4-4 0 1 3 3 4 3 1 0 4 5 0 4-4 1 3 4 2 3 2-3 4-3 3-4 4-6 3-6 2-8 3-3 1-1-4-1-4-3-6-4-4-1-5-3-4-4-4 0-3-1 3-4-4 0-2 4-1 1-3 2-4 0-2-3-2-4 2-4-1-5 0-1-2-2-2-1-2 0-2-4-1-3 1 1 3 2 2-2 3-3-1-1-3-2-2-1-5-2-1-5-2-3-3-2-1-2 0 0 3 3 3 4 2 5 3-3 2-1 2-2 0 1-4-4-2-4-1-3-3-3-3-4 2-5 0-3 1 0 2-4 2-3 3 1 2-2 2-2 2-5 0-2 1zM0 42l6 1 6 3 6 1 3 1-3 1-4 2-6-1-5-1-3 1zM312 49l4-2 8 1 6-1 3 3-2 1-5 1-4 1-7-1 1-1zM241 85l2-3 2-3 4-2-1 3 5 1 2 4-3 2-4-1-3-1zM113 83l-4-1-6-3 3-1 5 3zM190 136l6-2 4 0 5 2 7 4-7 0-3-3-4-1-6 0zM211 143l3-3 8 1 1 2-5 1-7 0zM203 143l5 1-2 1zM225 143l4 0-1 1-2 0zM349 80l5-1 9-1 0-3-3-2-3-2 0-2-1-4-3-2-3 0-2 4 1 2 5 1-1 2 1 1-3 0 1 3-2 1 4 0zM348 76l0-4 1-1-4-2-2 2-3 1 1 2-2 2 5 1zM385 104l2 0 4-1-1 4-1-1zM377 102l-1-4 2 0 2 1-1 3zM377 97l0-2 2-1 0 2zM407 109l6 0-1 1-4 0zM425 110l1-1 3 0-1 1-2 1zM644 87l-1-4 1-6 1-5 2 1-1 5 3 4-3 3-1 2zM640 97l0-4 3-4 3 2 5 2-4 3-5-1zM622 112l3-3 6 0 3-4 5-2 1-3 1-3 2 2 1 3-2 2 0 4-2 2-2 1-4 0-4 2-6-1zM619 113l3-1 2 3-2 3-2-1-1-3zM625 112l4 0 0 1-3 1zM600 134l3-4 1 1-2 5-2-1zM577 142l4-2 1 1-3 3zM520 164l1-4 3 5-1 3-3 0zM600 143l4 0 0 5 4 5-5-1-2-1-1-3zM604 165l4-2 5-2-1 6-1 2-3-2-4-1zM604 156l7-1 0 5-4 1-2-1-1-3zM594 163l5-6 0 2-4 5zM551 169l4 1 6 6 6 3 2 5 3 2 0 6-3 0-4-4-3-4-4-4-1-4-4-4zM571 194l1-2 5 1 5 0 3 1 4 2 0 1-7-1-6 0-5-2zM578 177l1 5 1 4 3 0 6 2 4-1 0-3 2-6 3 0-2-2 2-7-2-1-2-2-3 4-3 1-2 3-3 1-4 1zM599 191l2 0 0-5 2 3 3 1 0-2-3-4 3-2 1 0-5 1-1-2 0-2 1-1 8-1 0 1-3 1-6 1-1 0-2 5zM622 182l3-1 3 1 3 5 5-4 6 2 7 3 3 3 3 1 1 4 4 4 2 1-6-1-3-2-5-3-1 3-5 0-4-2-2 1-1-5-5-3-3-1-1 0-2-2 3-1-4-2zM657 191l4-1 3-2-1 3-3 1zM615 176l2 2-1 4-1-3zM616 186l6 1-2-1zM608 201l2-3 5-1-2 1-4 2zM592 197l6 0 7-1 1 1-8 1-6 0zM587 224l1 9 2 7 0 7 2 3 4 0 7-2 5-2 4-1 6-2 4 0 6 2 3 5 4-4 0 5 2 0 2 2 2 3 6 2 6 0 3-2 4-1 1-4 2-4 3-5 1-5-1-6-4-4-3-2-5-7-3-6 0-2-4-2-1-6-1-1-2 5 0 6-2 3-3-1-4-2-3-2 2-5 1-1-3 0-5-1-2-1-2 2-2 2-1 4-3 0-3-2-3 2-3 3-3 3-1 3-5 2-5 0-4 3zM649 261l8 1-1 4-2 1-3-2-2-3zM705 249l4 4 3 2 5 0-3 4-1 2-3 2-1-3-1-2 1-2-3-6zM705 261l3 2-1 3-5 3-4 4-5-1 3-4 7-4zM459 204l2 5 0 2-2 4-2 7-2 8-5 1-2-4-1-4 2-5-1-5 4-2 2-2 2-2zM464 37l4-4 5-3 7-2 8-2 9 0-5 2-10 3-6 3-3 3 2 2-5 0zM186 50l8 0 3 3-9 0z" fill="none" stroke="#1a1a1a" stroke-width="0.6" vector-effect="non-scaling-stroke"/>
<path d="M0 341l20 0 20 0 10-4 10-3 10-3 10-1 10-1 10 0 10-1 10-1 10 1 10 1 10 0 10-2 10-1 10 0 10 1 10-1 8-2 8-3 8-5 6-4 5-3 2 3-3 5-2 6 2 7 6 7 10 3 20 1 14-4 10-2 10-3 8-3 12-3 12-3 12-1 12-2 12 0 12 0 12 0 12 0 12-1 10-1 10 0 10-2 10-2 10-1 10 2 10 0 10 2 4 3 8-1 8-3 10-2 10-1 10-1 10 0 10 0 10 0 10 2 10 0 10-1 10-1 10 0 10 1 10 2 10 2 10 1 10 2 8 2 6 1 6 1-2 3-6 3-4 2-1 3 5 2 8 2 10 1 10 1" fill="none" stroke="#444" stroke-width="0.55" vector-effect="non-scaling-stroke"/>
</g></g>
<rect x="64.5" y="262.3" width="126.9" height="63.3" fill="none" stroke="#ababab" stroke-width="0.6"/>
<text x="62.6" y="263.5" class="ax" text-anchor="end">90°N</text>
<text x="62.6" y="274.1" class="ax" text-anchor="end">60°N</text>
<text x="62.6" y="284.6" class="ax" text-anchor="end">30°N</text>
<text x="62.6" y="295.2" class="ax" text-anchor="end">0°</text>
<text x="62.6" y="305.7" class="ax" text-anchor="end">30°S</text>
<text x="62.6" y="316.2" class="ax" text-anchor="end">60°S</text>
<text x="62.6" y="326.8" class="ax" text-anchor="end">90°S</text>
<path d="M63.2 262.30h1.3M63.2 272.85h1.3M63.2 283.40h1.3M63.2 293.95h1.3M63.2 304.50h1.3M63.2 315.05h1.3M63.2 325.60h1.3M64.50 325.6v1.2M85.65 325.6v1.2M106.80 325.6v1.2M127.95 325.6v1.2M149.10 325.6v1.2M170.25 325.6v1.2M191.40 325.6v1.2" stroke="#666" stroke-width="0.4" fill="none"/>
<text x="64.5" y="330.7" class="ax" text-anchor="middle">180°</text>
<text x="85.7" y="330.7" class="ax" text-anchor="middle">120°W</text>
<text x="106.8" y="330.7" class="ax" text-anchor="middle">60°W</text>
<text x="128.0" y="330.7" class="ax" text-anchor="middle">0°W</text>
<text x="149.1" y="330.7" class="ax" text-anchor="middle">60°E</text>
<text x="170.2" y="330.7" class="ax" text-anchor="middle">120°E</text>
<text x="191.4" y="330.7" class="ax" text-anchor="middle">180°</text>
<rect x="52.30" y="331.70" width="7.82" height="3.6" fill="#7e0610"/>
<rect x="59.86" y="331.70" width="7.82" height="3.6" fill="#ac1117"/>
<rect x="67.43" y="331.70" width="7.82" height="3.6" fill="#ca181d"/>
<rect x="75.00" y="331.70" width="7.82" height="3.6" fill="#e83429"/>
<rect x="82.56" y="331.70" width="7.82" height="3.6" fill="#f6583e"/>
<rect x="90.12" y="331.70" width="7.82" height="3.6" fill="#fb7a5a"/>
<rect x="97.69" y="331.70" width="7.82" height="3.6" fill="#fc9b7c"/>
<rect x="105.25" y="331.70" width="7.82" height="3.6" fill="#fcbba1"/>
<rect x="112.82" y="331.70" width="7.82" height="3.6" fill="#fed9c9"/>
<rect x="120.39" y="331.70" width="7.82" height="3.6" fill="#ffede5"/>
<rect x="127.95" y="331.70" width="7.82" height="3.6" fill="#eaf4fa"/>
<rect x="135.51" y="331.70" width="7.82" height="3.6" fill="#d8ecf6"/>
<rect x="143.08" y="331.70" width="7.82" height="3.6" fill="#b8def2"/>
<rect x="150.64" y="331.70" width="7.82" height="3.6" fill="#98d0ee"/>
<rect x="158.21" y="331.70" width="7.82" height="3.6" fill="#70bce6"/>
<rect x="165.78" y="331.70" width="7.82" height="3.6" fill="#249cd4"/>
<rect x="173.34" y="331.70" width="7.82" height="3.6" fill="#1a88c6"/>
<rect x="180.91" y="331.70" width="7.82" height="3.6" fill="#1476ba"/>
<rect x="188.47" y="331.70" width="7.82" height="3.6" fill="#0c58a2"/>
<rect x="196.04" y="331.70" width="7.82" height="3.6" fill="#083478"/>
<path d="M52.50 331.70L44.73 333.50L52.50 335.30Z" fill="#67000d"/>
<path d="M203.40 331.70L211.16 333.50L203.40 335.30Z" fill="#081d58"/>
<path d="M52.30 331.70H203.60L211.16 333.50L203.60 335.30H52.30L44.73 333.50Z" fill="none" stroke="#555" stroke-width="0.3"/>
<text x="52.3" y="340.40" class="cb" text-anchor="middle">0.00</text>
<text x="67.4" y="340.40" class="cb" text-anchor="middle">0.02</text>
<text x="82.6" y="340.40" class="cb" text-anchor="middle">0.04</text>
<text x="97.7" y="340.40" class="cb" text-anchor="middle">0.06</text>
<text x="112.8" y="340.40" class="cb" text-anchor="middle">0.08</text>
<text x="128.0" y="340.40" class="cb" text-anchor="middle">0.10</text>
<text x="143.1" y="340.40" class="cb" text-anchor="middle">0.12</text>
<text x="158.2" y="340.40" class="cb" text-anchor="middle">0.14</text>
<text x="173.3" y="340.40" class="cb" text-anchor="middle">0.16</text>
<text x="188.5" y="340.40" class="cb" text-anchor="middle">0.18</text>
<text x="203.6" y="340.40" class="cb" text-anchor="middle">0.20</text>
<clipPath id="fp13"><rect x="231.3" y="262.3" width="127.1" height="63.7"/></clipPath>
<g clip-path="url(#fp13)"><g transform="translate(231.3 262.30) scale(0.176528 0.176944)">
<rect width="720" height="360" fill="#f3c8bb" clip-path="url(#land)"/>
<g clip-path="url(#land)">
<path d="M630 90l-29-13-39-10-62-12-45 18-59 4 26 13 1 10 4 17 73-9 59 4 61-7z" fill="#f3a690"/>
<path d="M181 80l13-9-20-2-14 1-13-1-6 6-17 5 11 7 9 6 16-1 16 1 8-6z" fill="#c5d3f2"/>
<path d="M262 190l0-6-5-8-13-2-10 5-7 5-4 6-1 8 9 6 13-2 12 0 5-6z" fill="#c5d3f2"/>
<path d="M424 184l-3-9-4-7-7 0-5 6-6 2-3 8 6 6 1 9 7 6 6-7 1-8z" fill="#c5d3f2"/>
<path d="M484 80l-6-4-2-4-6-5-4 7-3 2-3 4 1 4 3 5 6 1 6-1 7-3z" fill="#c5d3f2"/>
<path d="M596 90l4-8-10-4-10 2-11-4-11 5 5 9-2 8 9 4 10 5 7-8 14 0z" fill="#c5d3f2"/>
<path d="M638 228l-5-3-2-4-7-1-9-1-5 4-6 5 8 4 3 5 9 3 7-4 8-3z" fill="#c5d3f2"/>
<path d="M71 56l0-4-5-3-6 0-8-2-5 4 5 5-5 5 7 2 6 1 4-3 6-1z" fill="#c5d3f2"/>
<path d="M540 140l-10-6 0-12-10 0-10 1-5 8 1 9-1 9 9 1 6 4 6-3 11-1z" fill="#c5d3f2"/>
<path d="M580 150l1-7-8-4-9 3-11-6 2 10-5 4-4 8 10 2 8 4 9-3 9-3z" fill="#c5d3f2"/>
<path d="M421 80l-6-4-7-3-8-2-6 4-7 1 1 4-4 5 11 0 5 4 10 0 3-5z" fill="#c5d3f2"/>
<path d="M578 48l-8-5-8-3-8-6-10 3-13 3 4 8-3 8 10 4 12 1 7-5 11-2z" fill="#8fafef"/>
<path d="M516 50l7-5-14-1-9 0-8 0-11 2-3 4 8 3 5 3 9 2 12 0 11-3z" fill="#c5d3f2"/>
<path d="M460 44l4-4-5-5-13 3-11-1-9 2 1 5-4 5 15 1 8 4 12-2 4-4z" fill="#ee6c52"/>
<path d="M212 56l-1-7-23-2-18-1-17 2-5 4-11 4 1 5 8 6 24-2 15-2 22-1z" fill="#ee6c52"/>
<path d="M643 48l-5-3-8-2-10-2-10 3-17 0-5 4 14 3 5 2 13 0 9-1 6-2z" fill="#ee6c52"/>
<path d="M531 46l0-2-3-2-4 0-6-1-1 3-3 2 3 2 2 3 5-1 4-1 5 0z" fill="#e33626"/>
<path d="M664 44l3-3-6 0-5-3-6 2-6 1 4 3-5 3 8 0 5 0 7 2 6-2z" fill="#e33626"/>
<path d="M566 46l3-3-4-2-5 2-3 0-4 1-3 2 3 2 2 2 5 1 5-1 0-3z" fill="#5b88e6"/>
<path d="M521 24h0M627 25h0M633 38h0M441 43h0M660 38h0" stroke="#e33626" stroke-width="12.0" stroke-linecap="round"/>
<path d="M460 26h0M642 52h0M560 36h0M464 30h0" stroke="#ee6c52" stroke-width="12.0" stroke-linecap="round"/>
<path d="M475 33h0M464 28h0M649 22h0M689 34h0M512 33h0" stroke="#8fafef" stroke-width="12.0" stroke-linecap="round"/>
<path d="M678 41h0" stroke="#5b88e6" stroke-width="12.0" stroke-linecap="round"/>
<path d="M630 42h0M603 37h0M627 48h0" stroke="#e33626" stroke-width="6.0" stroke-linecap="round"/>
<path d="M586 50h0M579 32h0M645 31h0M605 46h0" stroke="#8fafef" stroke-width="9.0" stroke-linecap="round"/>
<path d="M689 37h0M638 35h0M671 34h0" stroke="#e33626" stroke-width="9.0" stroke-linecap="round"/>
<path d="M636 55h0M483 38h0" stroke="#5b88e6" stroke-width="9.0" stroke-linecap="round"/>
<path d="M474 48h0" stroke="#ee6c52" stroke-width="9.0" stroke-linecap="round"/>
<path d="M586 26h0" stroke="#8fafef" stroke-width="6.0" stroke-linecap="round"/>
<path d="M497 46h0" stroke="#5b88e6" stroke-width="6.0" stroke-linecap="round"/>
<path d="M539 87h0M536 108h0M523 108h0M483 124h0M468 119h0M491 121h0M527 121h0M482 123h0M480 79h0M566 109h0M450 116h0M451 85h0M556 120h0M504 100h0" stroke="#ee6c52" stroke-width="9.0" stroke-linecap="round"/>
<path d="M551 119h0M466 127h0M458 115h0M515 122h0M480 98h0M474 99h0M497 112h0M550 124h0" stroke="#ee6c52" stroke-width="6.0" stroke-linecap="round"/>
<path d="M555 113h0M497 128h0M482 115h0M517 120h0M562 108h0M557 122h0" stroke="#c5d3f2" stroke-width="6.0" stroke-linecap="round"/>
<path d="M543 107h0M461 126h0M478 116h0M542 124h0M496 95h0M534 108h0M516 107h0M483 119h0M530 94h0M560 121h0" stroke="#ee6c52" stroke-width="12.0" stroke-linecap="round"/>
<path d="M484 126h0M517 121h0M541 110h0M463 91h0M491 96h0M485 94h0" stroke="#c5d3f2" stroke-width="9.0" stroke-linecap="round"/>
<path d="M520 122h0" stroke="#c5d3f2" stroke-width="12.0" stroke-linecap="round"/>
<path d="M82 40h0M158 32h0M198 83h0" stroke="#ee6c52" stroke-width="6.0" stroke-linecap="round"/>
<path d="M89 37h0M148 77h0M93 82h0" stroke="#f3a690" stroke-width="6.0" stroke-linecap="round"/>
<path d="M121 81h0M125 84h0M177 66h0M214 33h0M179 41h0" stroke="#e33626" stroke-width="12.0" stroke-linecap="round"/>
<path d="M118 66h0M160 49h0" stroke="#ee6c52" stroke-width="9.0" stroke-linecap="round"/>
<path d="M223 77h0M161 87h0M133 43h0" stroke="#e33626" stroke-width="9.0" stroke-linecap="round"/>
<path d="M178 38h0M170 86h0M146 78h0M87 34h0M156 65h0M208 34h0" stroke="#ee6c52" stroke-width="12.0" stroke-linecap="round"/>
<path d="M88 78h0" stroke="#f3a690" stroke-width="12.0" stroke-linecap="round"/>
<path d="M176 67h0" stroke="#f3a690" stroke-width="9.0" stroke-linecap="round"/>
<path d="M185 66h0" stroke="#e33626" stroke-width="6.0" stroke-linecap="round"/>
</g>
<path d="M214 24l6-3 8-3 12-2 16-1 14-1 14-1 20 0 12 2 8 1 12 1-6 3-8 2 1 3-3 3 2 3-6 4 0 4-5 2-5 2-8 1-8 4-7 1-4 2-3 4-2 4-3 1-5-2-4-2-3-3-2-3-4-3-1-3 5-2-3-3 2-1-5-1-2-3-3-3-4-3-8 0-8 0-4-2-5-1zM382 23l3-2 7-1 8-1 14 1-8 3-6 2-7 2-6-3zM454 19l10-2 16 0 8 1-12 2-16 0zM550 22l4-3 6-1 9 3-5 2-8 1zM632 29l6-1 4 0 10 1 9 1-9 1-10 2-6-1zM717 38l3-1 0 1zM0 37l5 1-5 0z" fill="#fff" stroke="#333" stroke-width="0.5" vector-effect="non-scaling-stroke"/>
<path d="M200 32l8 3 10 3 7 3 2 2 9 3-3 4-4 5-5 0-7-2-6-2-6 0-2-2 9-4-10-4-6-1-8 0-6-2-1-4 7-1 6 0zM123 37l7-4 14 0 7 1 7 5-8 3-10 1-8-1-7-1-3-3zM109 36l3-4 9 0 8 1-7 4-9 1zM201 27l9-2 3-2 7-1 10-3 7-3-17-2-20 0-20 2-10 2-4 3 8 2 8 2 8 2zM176 29l8-2 16 1-1 2-9 1-14-1zM170 33l9-1-2 4-7 0zM158 33l8 0 0 3-9 0zM128 30l8-3 12 1 0 2-8 1-14 0zM160 27l8 0 2 3-10 0zM162 42l6-1 0 2-6 0zM116 27l12-2-2 3z" fill="#fff" stroke="#1a1a1a" stroke-width="0.8" vector-effect="non-scaling-stroke"/>
<path d="M416 97l0-4 3-3 3-3 3 1 2 3 4-1 2-1 4-3 2 0-3 2-1 2 4 3 4 4-3 1-7-1-3-1-4 0-4 2-4 0zM454 92l1-3 4-2 4-1 3 0 0 3-3 2 0 3 2 2 1 3 2 2 0 4-6 2-4-2 1-6-2-3-2-2z" fill="#fff" stroke="#1a1a1a" stroke-width="0.6" vector-effect="non-scaling-stroke"/>
<path d="M24 49l3-6 7-3 13-3 9 1 10 1 12 2 10 1 8-1 8-1 8 1 8 1 10 1 10 1 8-1 10 1 6-1 4-2 3-4 4 2 5 3 4 1 5-2 6 0 2 4-7 1-3 2-2 3-6 2-7 5 0 4 3 4 9 1 6 2 5 1 1 5 3 2 3-1 1-5 3-4-1-4 0-4-1-4 9 0 6 3 2 4 4 1 3-2 3-2 5 6 3 4 6 3 4 4-3 1-6 3-8 0-5 0-5 3-4 3 5-3 5-1 3 0-1 2 1 4 5 0 4 0-3 2-4 1-4 2-1-2 3-2-3 1-2 0-4 2-2 1-1 2 1 1-3 1-3 1-2 1 0 1-2 2-1 1-1 3 1 3-2 2-3 1-2 2-4 2-1 3 2 4 1 4-1 3-1-1-2-2-1-3 0-2-3-2-3 1-2-2-4 0-2 1 1 2-3 0-3-1-4 0-2 1-4 2-1 4 0 4-1 3 1 3 2 3 3 2 1 1 4-1 3-1 1-2 0-2 4-1 3 0-1 4-2 2 1 4-2 1 6 0 3 0 2 2 0 5 0 3 2 3 2 1 3-1 2 0 3 2 0 1-1 2-3-3-2 2-3-1-3-1-4-3-1-2-3-4-3 0-5-2-2-1-3-3-2 0-3 1-4-2-5-1-5-3-4-4 0-2-1-3-4-4-3-3-3-3-2-2-2-4-3-1 1 3 2 3 2 4 3 5 1 2-1-1-3-3-1-3-4-3 0-1-2-3-2-4-1-1-3-3-2-1-2 0-3-4-1-3-2-2-2-3 1-3 0-4 0-4-1-5 3 1 1 2-1-4-4-2-5-2-1-3-4-4-3-2-4-4-4-3-5 0-5-2-7 0-5-2-6 2-5 2 2-4-6 5-5 2-4 3-6 2-6 1 5-2 6-3 3-3-5 0-5-3-5-1-1-2 1-3 8-3-4 0-6 0-4-2zM205 163l3-2 1-2 3-1 4-2 1 2 1-1 5 1 1 1 8 0 5 1 3 3 4 3 6 2 5 2 2 2 3 4 1 4 2 2 4 0 4 3 5 1 5 0 4 3 5 2 0 4-1 4-3 3-3 4-1 5-1 5-1 5-2 3-2 2-5 1-4 1-3 3-1 6-3 3-3 4-3 3-4 3-3 0-4-2 3 5-1 3-5 2-4 0-1 3-5 1 2 2-1 2-1 3-4 3-1 1 3 3-3 2-2 3-1 2 1 2 0 3 4 2-4 1-5-1-4-2-3-4-2-4 1-4-1-3 3-2 1-4 0-3-1-4 1-6 2-3 2-5 0-6 1-5 1-5 1-7-1-6-4-3-5-3-3-4-1-4-3-5-2-3-3-4 1-4 0-3 1-3 0-3 2-2 2-3 1-3 0-3-1-2 1-2zM348 108l-2 4-5 3-1 5-3 4-3 2-4 4-3 5-1 3 1 3 0 6-2 4 1 2 1 3 3 2 2 2 2 3 3 3 4 3 4 2 5-1 4 0 4 0 4-2 4-1 3 0 2 3 1 1 2 0 3 0 2 2 1 3-1 2 0 3 1 4 3 4 2 3 1 6 1 5-2 4-1 6 0 2 3 7 2 4 1 7 1 1 2 3 2 4 1 4 1 3 3 2 5-2 6 0 3-1 3-3 4-3 2-3 2-4 1-3 4-2 1-2 0-3-1-4 3-2 3-3 4-3 1-4 0-6-2-5 0-3-1-5 2-3 3-3 3-3 3-3 4-3 3-4 3-6 3-5 0-3-4 1-3 1-5 1-3-2 0-1-2-2-2-2-3-3-2-2-1-4-3-5 0-3-3-1-1-4-2-3-2-4-1-3 0-3-3 0-2 0-4 1-6-2-4-1-4-1-2 2 0 2-2 1-4-1-3-1-1-2-4-1-4 0-2-2 2-2 0-3-2-1-4 0-4 0-6 0-4 1-4 2-3 1-3 0-3-2-1 0zM349 108l-2-2-2 0-3 0 0-3-1-2 2-4-2-3 3-1 8 0 5 0 1-5-3-2-4-3 6 0 0-2 3 0 3-3 3-1 3-2 1-2 7 0 0-4-1-3 5-1 0 3 1 3 2 1 4 0 9-1 5-1 0-4 6 0-1-4 9-1 4-1-3-1-12 1-2-3 0-3 7-4-6-2-1 3-5 2-3 4 3 3-5 5-1 3-6 1-1-2-3-5-1-1-5 3-5-2-1-4 0-3 10-3 5-4 5-5 6-2 10-2 10-1 6 2 4 1 16 3-2 4-10 3 5 1 5-1 8-3 0-5 4 2 14-2 10 0 4-3 12 2 5 1-3-5 4-4 7 1-1 3 1 5 5-8 6 0 4-2 12-1 2-2 18-2 8-2 9-1 5 1 12 2 1 5 13 1 12-1 8 5 10-1 10-2 12 0 8 2 10 1 8 1 4 2 10 0 8-1 12 1 8 1 0 8-3 1-3 4-6 2-8 3-8-1-5 1-3 4 2 4-2 3-4 3-4 2-3 2-2-8 1-5 4-2 4-4 6-3-6 1-10 4-8 0-8 0-8 0-6 4-6 7 5 0 3 2-1 6 0 3-5 4-5 6-7 1-3 1-1 1-2 3-3 1 0 2 3 2 1 4-1 2-5 1 0-3 0-3-2 0-1-2 1-2-2-1-4 1-2 1-1-1 3-2-3-1-3 2-3 2-1 1 3 2 1 1 2-2 4 1-4 3-2 2 3 5 2 3 0 4-3 3-2 4-5 4-6 2-6 2-2 2-2-2-5 2-1 3 1 4 5 3 1 7-5 3-4 4 0-3-2-1-3-3-3-2-2-1-2 7 2 3 1 3 2 0 4 4 0 5 1 2-1 0-4-3-2-5-4-5 0-5 0-6-2-6-3 0-3 1 0-6-3-2-2-3-3-2-4 2-3 1-4 3-5 6-5 6 0 6-5 5-3-4-2-6-4-8 0-4-1-5-5 1-2-3-1-2-2-1-2-3-5 0-5 1-8-2-2-2-5 0-5-2-3-4-4 0 1 3 3 4 3 1 0 4 5 0 4-4 1 3 4 2 3 2-3 4-3 3-4 4-6 3-6 2-8 3-3 1-1-4-1-4-3-6-4-4-1-5-3-4-4-4 0-3-1 3-4-4 0-2 4-1 1-3 2-4 0-2-3-2-4 2-4-1-5 0-1-2-2-2-1-2 0-2-4-1-3 1 1 3 2 2-2 3-3-1-1-3-2-2-1-5-2-1-5-2-3-3-2-1-2 0 0 3 3 3 4 2 5 3-3 2-1 2-2 0 1-4-4-2-4-1-3-3-3-3-4 2-5 0-3 1 0 2-4 2-3 3 1 2-2 2-2 2-5 0-2 1zM0 42l6 1 6 3 6 1 3 1-3 1-4 2-6-1-5-1-3 1zM312 49l4-2 8 1 6-1 3 3-2 1-5 1-4 1-7-1 1-1zM241 85l2-3 2-3 4-2-1 3 5 1 2 4-3 2-4-1-3-1zM113 83l-4-1-6-3 3-1 5 3zM190 136l6-2 4 0 5 2 7 4-7 0-3-3-4-1-6 0zM211 143l3-3 8 1 1 2-5 1-7 0zM203 143l5 1-2 1zM225 143l4 0-1 1-2 0zM349 80l5-1 9-1 0-3-3-2-3-2 0-2-1-4-3-2-3 0-2 4 1 2 5 1-1 2 1 1-3 0 1 3-2 1 4 0zM348 76l0-4 1-1-4-2-2 2-3 1 1 2-2 2 5 1zM385 104l2 0 4-1-1 4-1-1zM377 102l-1-4 2 0 2 1-1 3zM377 97l0-2 2-1 0 2zM407 109l6 0-1 1-4 0zM425 110l1-1 3 0-1 1-2 1zM644 87l-1-4 1-6 1-5 2 1-1 5 3 4-3 3-1 2zM640 97l0-4 3-4 3 2 5 2-4 3-5-1zM622 112l3-3 6 0 3-4 5-2 1-3 1-3 2 2 1 3-2 2 0 4-2 2-2 1-4 0-4 2-6-1zM619 113l3-1 2 3-2 3-2-1-1-3zM625 112l4 0 0 1-3 1zM600 134l3-4 1 1-2 5-2-1zM577 142l4-2 1 1-3 3zM520 164l1-4 3 5-1 3-3 0zM600 143l4 0 0 5 4 5-5-1-2-1-1-3zM604 165l4-2 5-2-1 6-1 2-3-2-4-1zM604 156l7-1 0 5-4 1-2-1-1-3zM594 163l5-6 0 2-4 5zM551 169l4 1 6 6 6 3 2 5 3 2 0 6-3 0-4-4-3-4-4-4-1-4-4-4zM571 194l1-2 5 1 5 0 3 1 4 2 0 1-7-1-6 0-5-2zM578 177l1 5 1 4 3 0 6 2 4-1 0-3 2-6 3 0-2-2 2-7-2-1-2-2-3 4-3 1-2 3-3 1-4 1zM599 191l2 0 0-5 2 3 3 1 0-2-3-4 3-2 1 0-5 1-1-2 0-2 1-1 8-1 0 1-3 1-6 1-1 0-2 5zM622 182l3-1 3 1 3 5 5-4 6 2 7 3 3 3 3 1 1 4 4 4 2 1-6-1-3-2-5-3-1 3-5 0-4-2-2 1-1-5-5-3-3-1-1 0-2-2 3-1-4-2zM657 191l4-1 3-2-1 3-3 1zM615 176l2 2-1 4-1-3zM616 186l6 1-2-1zM608 201l2-3 5-1-2 1-4 2zM592 197l6 0 7-1 1 1-8 1-6 0zM587 224l1 9 2 7 0 7 2 3 4 0 7-2 5-2 4-1 6-2 4 0 6 2 3 5 4-4 0 5 2 0 2 2 2 3 6 2 6 0 3-2 4-1 1-4 2-4 3-5 1-5-1-6-4-4-3-2-5-7-3-6 0-2-4-2-1-6-1-1-2 5 0 6-2 3-3-1-4-2-3-2 2-5 1-1-3 0-5-1-2-1-2 2-2 2-1 4-3 0-3-2-3 2-3 3-3 3-1 3-5 2-5 0-4 3zM649 261l8 1-1 4-2 1-3-2-2-3zM705 249l4 4 3 2 5 0-3 4-1 2-3 2-1-3-1-2 1-2-3-6zM705 261l3 2-1 3-5 3-4 4-5-1 3-4 7-4zM459 204l2 5 0 2-2 4-2 7-2 8-5 1-2-4-1-4 2-5-1-5 4-2 2-2 2-2zM464 37l4-4 5-3 7-2 8-2 9 0-5 2-10 3-6 3-3 3 2 2-5 0zM186 50l8 0 3 3-9 0z" fill="none" stroke="#1a1a1a" stroke-width="0.6" vector-effect="non-scaling-stroke"/>
<path d="M0 341l20 0 20 0 10-4 10-3 10-3 10-1 10-1 10 0 10-1 10-1 10 1 10 1 10 0 10-2 10-1 10 0 10 1 10-1 8-2 8-3 8-5 6-4 5-3 2 3-3 5-2 6 2 7 6 7 10 3 20 1 14-4 10-2 10-3 8-3 12-3 12-3 12-1 12-2 12 0 12 0 12 0 12 0 12-1 10-1 10 0 10-2 10-2 10-1 10 2 10 0 10 2 4 3 8-1 8-3 10-2 10-1 10-1 10 0 10 0 10 0 10 2 10 0 10-1 10-1 10 0 10 1 10 2 10 2 10 1 10 2 8 2 6 1 6 1-2 3-6 3-4 2-1 3 5 2 8 2 10 1 10 1" fill="none" stroke="#444" stroke-width="0.55" vector-effect="non-scaling-stroke"/>
</g></g>
<rect x="231.3" y="262.3" width="127.1" height="63.7" fill="none" stroke="#ababab" stroke-width="0.6"/>
<ellipse cx="262.2" cy="276.0" rx="12.82" ry="8.22" fill="none" stroke="#1d58a5" stroke-width="1.35"/>
<text x="229.4" y="263.5" class="ax" text-anchor="end">90°N</text>
<text x="229.4" y="274.1" class="ax" text-anchor="end">60°N</text>
<text x="229.4" y="284.7" class="ax" text-anchor="end">30°N</text>
<text x="229.4" y="295.3" class="ax" text-anchor="end">0°</text>
<text x="229.4" y="306.0" class="ax" text-anchor="end">30°S</text>
<text x="229.4" y="316.6" class="ax" text-anchor="end">60°S</text>
<text x="229.4" y="327.2" class="ax" text-anchor="end">90°S</text>
<path d="M230.0 262.30h1.3M230.0 272.92h1.3M230.0 283.53h1.3M230.0 294.15h1.3M230.0 304.77h1.3M230.0 315.38h1.3M230.0 326.00h1.3M231.30 326.0v1.2M252.48 326.0v1.2M273.67 326.0v1.2M294.85 326.0v1.2M316.03 326.0v1.2M337.22 326.0v1.2M358.40 326.0v1.2" stroke="#666" stroke-width="0.4" fill="none"/>
<text x="231.3" y="331.1" class="ax" text-anchor="middle">180°</text>
<text x="252.5" y="331.1" class="ax" text-anchor="middle">120°W</text>
<text x="273.7" y="331.1" class="ax" text-anchor="middle">60°W</text>
<text x="294.9" y="331.1" class="ax" text-anchor="middle">0°W</text>
<text x="316.0" y="331.1" class="ax" text-anchor="middle">60°E</text>
<text x="337.2" y="331.1" class="ax" text-anchor="middle">120°E</text>
<text x="358.4" y="331.1" class="ax" text-anchor="middle">180°</text>
<rect x="219.10" y="332.10" width="19.19" height="3.6" fill="#3565d5"/>
<rect x="238.04" y="332.10" width="19.19" height="3.6" fill="#5b88e6"/>
<rect x="256.98" y="332.10" width="19.19" height="3.6" fill="#8fafef"/>
<rect x="275.91" y="332.10" width="19.19" height="3.6" fill="#c5d3f2"/>
<rect x="294.85" y="332.10" width="19.19" height="3.6" fill="#f8d8ce"/>
<rect x="313.79" y="332.10" width="19.19" height="3.6" fill="#f5b09a"/>
<rect x="332.72" y="332.10" width="19.19" height="3.6" fill="#f07a60"/>
<rect x="351.66" y="332.10" width="19.19" height="3.6" fill="#e33a2a"/>
<path d="M219.30 332.10L211.53 333.90L219.30 335.70Z" fill="#1838b8"/>
<path d="M370.40 332.10L378.17 333.90L370.40 335.70Z" fill="#c40c12"/>
<path d="M219.10 332.10H370.60L378.17 333.90L370.60 335.70H219.10L211.53 333.90Z" fill="none" stroke="#555" stroke-width="0.3"/>
<text x="219.1" y="340.80" class="cb" text-anchor="middle">-0.04</text>
<text x="238.0" y="340.80" class="cb" text-anchor="middle">-0.03</text>
<text x="257.0" y="340.80" class="cb" text-anchor="middle">-0.02</text>
<text x="275.9" y="340.80" class="cb" text-anchor="middle">-0.01</text>
<text x="294.9" y="340.80" class="cb" text-anchor="middle">0.00</text>
<text x="313.8" y="340.80" class="cb" text-anchor="middle">0.01</text>
<text x="332.7" y="340.80" class="cb" text-anchor="middle">0.02</text>
<text x="351.7" y="340.80" class="cb" text-anchor="middle">0.03</text>
<text x="370.6" y="340.80" class="cb" text-anchor="middle">0.04</text>
<clipPath id="fp23"><rect x="395.8" y="261.6" width="128.5" height="64.2"/></clipPath>
<g clip-path="url(#fp23)"><g transform="translate(395.8 261.60) scale(0.178472 0.178333)">
<rect width="720" height="360" fill="#1a3690" clip-path="url(#land)"/>
<g clip-path="url(#land)">
<path d="M222 104l-19-6-8-5-11-11-19 4-12 8-7 10 6 11 17 3 15 6 21 1 12-10z" fill="#0f2468"/>
<path d="M156 100l-7-6-5-5-8-6-11 1-1 11-9 5 9 6 4 5 8 1 9 0 10-3z" fill="#234ea0"/>
<path d="M431 176l-1-10-13-5-13-9-15 7-17 5-5 12 20 6 7 5 10 10 10-10 18-1z" fill="#0f2468"/>
<path d="M419 80l0-8-9-9-20 0-22-2-14 8-6 11 2 11 25 2 15 5 18-2 19-5z" fill="#1d3490"/>
<path d="M431 230l-10-8-10-2-7-3-8 2-13 1 0 10-1 10 11 5 11-1 8-3 4-6z" fill="#234ea0"/>
<path d="M661 232l-10-7-12-4-11-9-16 4-8 8 0 8-6 10 9 11 21-4 11-6 13-3z" fill="#1d3490"/>
<path d="M77 52l-3-7-14-2-10-8-12 7-11 3 1 7-1 7 4 9 19-4 15 1 2-8z" fill="#2596c1"/>
<path d="M191 70l2-4-21-3-22-2-23 2-27 2-15 5 15 5 16 6 34-2 33 1 16-5z" fill="#2168ad"/>
<path d="M186 52l15-7-35-1-22 0-36-5-25 5 8 8 21 4 6 6 26 1 21-3 39-1z" fill="#2596c1"/>
<path d="M200 48l-17-3-4-4-19-1-27-1-1 6-3 3-8 4 16 4 23 1 24-1 17-3z" fill="#44b4c4"/>
<path d="M187 46l-2-2-9-1-6-1-6 1-5 1-5 2 1 2 9 0 6 2 7-1 5-1z" fill="#c6e7b4"/>
<path d="M426 134l-4-5-11-6-31-3-35 1-7 8-14 5 17 5 14 4 25 2 29 0 19-5z" fill="#44b4c4"/>
<path d="M471 134l-7-5-4-6-8 2-12-7-2 10-3 6 4 6 4 7 9-1 8-1 10-3z" fill="#44b4c4"/>
<path d="M523 86l7-6-19-4-21 3-21-3-2 6-3 4-14 6 26 1 14 5 18-3 21-3z" fill="#2168ad"/>
<path d="M604 98l-29-4-7-4-18-1-24-2-11 6-5 5-4 6 24 3 20-2 14-1 19-1z" fill="#2596c1"/>
<path d="M557 114l0-3-6-4-15 0-12 2-11 2 7 3-2 3 7 2 11 1 12-1 15-1z" fill="#2168ad"/>
<path d="M583 144l-1-6-1-9-11-4-9 6-5 6-1 7-1 7 8 5 8 0 7-2 16 1z" fill="#2596c1"/>
<path d="M687 44l23-8-61-4-69-3-76 2-29 7-18 6-15 8 85 1 53 6 51-6 77-2z" fill="#234ea0"/>
<path d="M644 230l-3-5-5-5-10-3-12 2-9 4 1 7 9 4-1 7 12-2 11 2 0-7z" fill="#234ea0"/>
<path d="M291 204l-2-10-7-5-6-7-5 10-4 5-6 7 4 9 5 6 6 5 8-2 2-10z" fill="#2168ad"/>
<path d="M235 270l0-10-7-1-4-2-4 2-6 2 1 9-1 9 5 5 5 3 4-5 3-6z" fill="#2168ad"/>
<path d="M604 56l6-4-17-5-53 1-53-1-8 5-36 4 18 5 30 4 49-3 36 0 16-3z" fill="#2596c1"/>
<path d="M486 48l-2-2-6-2-8 0-13-2-3 4-3 2 5 2 1 4 13 1 11-2 13-1z" fill="#44b4c4"/>
<path d="M697 50l-5-4-10-3-12-4-11 5-19 0 1 6 0 6 9 5 20 2 19-2 2-7z" fill="#44b4c4"/>
<path d="M557 104l0-3-5-4-12-3-15 2 1 5-6 3 6 3-1 6 15 1 11-4 14-1z" fill="#44b4c4"/>
<path d="M562 104l-9-2-3-2-6 0-9-1 1 3-5 2 5 2-1 3 9 1 7-2 9-1z" fill="#c6e7b4"/>
<path d="M387 134l7-4-12-2-12-3-14 2-5 4-12 3 11 3 8 3 12 0 14 1 14-2z" fill="#c6e7b4"/>
<path d="M424 136l-4-2-4-2-6-1-6 1-1 2-1 2-5 3 9 0 4 0 6 1 7-1z" fill="#eef8c2"/>
<path d="M572 144l-2-3-3-3-3-2-4 1-2 3-2 4 1 4 1 6 6 0 6 0 5-4z" fill="#44b4c4"/>
<path d="M424 150h0M338 114h0M354 149h0M416 115h0M363 153h0M413 153h0M368 153h0" stroke="#234ea0" stroke-width="12.0" stroke-linecap="round"/>
<path d="M384 148h0M399 140h0M344 111h0M338 126h0" stroke="#234ea0" stroke-width="9.0" stroke-linecap="round"/>
<path d="M350 134h0" stroke="#eef8c2" stroke-width="6.0" stroke-linecap="round"/>
<path d="M372 131h0M433 138h0M335 135h0M385 111h0M377 145h0M424 112h0M401 136h0" stroke="#44b4c4" stroke-width="12.0" stroke-linecap="round"/>
<path d="M349 152h0" stroke="#c6e7b4" stroke-width="9.0" stroke-linecap="round"/>
<path d="M405 128h0M414 131h0M329 118h0M336 130h0M402 117h0M372 142h0" stroke="#c6e7b4" stroke-width="12.0" stroke-linecap="round"/>
<path d="M362 148h0M373 141h0" stroke="#eef8c2" stroke-width="12.0" stroke-linecap="round"/>
<path d="M433 137h0M344 125h0M355 110h0" stroke="#eef8c2" stroke-width="9.0" stroke-linecap="round"/>
<path d="M337 147h0" stroke="#44b4c4" stroke-width="6.0" stroke-linecap="round"/>
<path d="M74 63h0M187 65h0M156 58h0M57 55h0M50 68h0M79 46h0M96 31h0M124 50h0" stroke="#44b4c4" stroke-width="12.0" stroke-linecap="round"/>
<path d="M66 42h0M228 56h0M37 43h0M65 54h0M40 44h0M231 63h0M83 54h0M107 61h0" stroke="#c6e7b4" stroke-width="12.0" stroke-linecap="round"/>
<path d="M163 32h0M26 46h0M36 63h0M93 56h0M88 32h0M36 46h0M50 63h0" stroke="#eef8c2" stroke-width="12.0" stroke-linecap="round"/>
<path d="M52 34h0" stroke="#86cfbb" stroke-width="12.0" stroke-linecap="round"/>
<path d="M189 32h0M33 59h0" stroke="#86cfbb" stroke-width="9.0" stroke-linecap="round"/>
<path d="M70 46h0M94 63h0M109 55h0M38 39h0" stroke="#44b4c4" stroke-width="9.0" stroke-linecap="round"/>
<path d="M76 61h0M39 59h0" stroke="#c6e7b4" stroke-width="9.0" stroke-linecap="round"/>
<path d="M226 33h0" stroke="#eef8c2" stroke-width="6.0" stroke-linecap="round"/>
<path d="M60 37h0M103 49h0M25 51h0" stroke="#eef8c2" stroke-width="9.0" stroke-linecap="round"/>
<path d="M488 101h0" stroke="#44b4c4" stroke-width="6.0" stroke-linecap="round"/>
<path d="M450 98h0M467 113h0M552 111h0" stroke="#44b4c4" stroke-width="9.0" stroke-linecap="round"/>
<path d="M453 101h0M456 84h0M593 89h0M574 107h0M514 117h0M597 92h0M514 77h0M555 102h0" stroke="#eef8c2" stroke-width="12.0" stroke-linecap="round"/>
<path d="M556 121h0M533 121h0M525 109h0M541 98h0M526 97h0" stroke="#234ea0" stroke-width="9.0" stroke-linecap="round"/>
<path d="M521 77h0M567 88h0M533 110h0M561 104h0M488 95h0M455 98h0" stroke="#1d3490" stroke-width="12.0" stroke-linecap="round"/>
<path d="M493 98h0M471 113h0M467 118h0M459 81h0M534 109h0" stroke="#234ea0" stroke-width="12.0" stroke-linecap="round"/>
<path d="M451 102h0M561 110h0M541 86h0" stroke="#c6e7b4" stroke-width="9.0" stroke-linecap="round"/>
<path d="M491 117h0M497 115h0M471 118h0M509 93h0M517 107h0M475 126h0M526 114h0" stroke="#c6e7b4" stroke-width="12.0" stroke-linecap="round"/>
<path d="M521 103h0M456 74h0M499 74h0" stroke="#eef8c2" stroke-width="9.0" stroke-linecap="round"/>
<path d="M534 92h0M487 92h0M528 75h0M537 111h0" stroke="#44b4c4" stroke-width="12.0" stroke-linecap="round"/>
<path d="M491 100h0M515 106h0M518 72h0" stroke="#1d3490" stroke-width="9.0" stroke-linecap="round"/>
<path d="M625 43h0M679 75h0M463 81h0M710 21h0M636 91h0" stroke="#44b4c4" stroke-width="12.0" stroke-linecap="round"/>
<path d="M456 65h0M480 51h0M687 50h0M473 61h0M630 49h0M599 39h0M509 58h0M593 48h0" stroke="#1d3490" stroke-width="12.0" stroke-linecap="round"/>
<path d="M716 44h0M453 51h0M588 68h0M692 57h0M510 71h0M712 69h0M526 59h0" stroke="#2596c1" stroke-width="12.0" stroke-linecap="round"/>
<path d="M511 69h0" stroke="#c6e7b4" stroke-width="6.0" stroke-linecap="round"/>
<path d="M583 34h0M533 82h0M556 57h0" stroke="#c6e7b4" stroke-width="12.0" stroke-linecap="round"/>
<path d="M612 86h0M452 88h0M700 58h0M447 52h0M557 31h0" stroke="#44b4c4" stroke-width="9.0" stroke-linecap="round"/>
<path d="M451 56h0M616 79h0" stroke="#2596c1" stroke-width="9.0" stroke-linecap="round"/>
<path d="M603 27h0" stroke="#2596c1" stroke-width="6.0" stroke-linecap="round"/>
<path d="M457 53h0M595 60h0M608 51h0" stroke="#c6e7b4" stroke-width="9.0" stroke-linecap="round"/>
<path d="M703 21h0" stroke="#1d3490" stroke-width="9.0" stroke-linecap="round"/>
<path d="M595 98h0M184 79h0M109 72h0M159 95h0M111 65h0" stroke="#2596c1" stroke-width="9.0" stroke-linecap="round"/>
<path d="M426 84h0M145 100h0M433 67h0M148 101h0M113 117h0M568 116h0M590 113h0" stroke="#1d3490" stroke-width="9.0" stroke-linecap="round"/>
<path d="M122 111h0M610 139h0M131 78h0M234 84h0M85 79h0M410 71h0" stroke="#44b4c4" stroke-width="12.0" stroke-linecap="round"/>
<path d="M573 113h0M147 73h0" stroke="#44b4c4" stroke-width="9.0" stroke-linecap="round"/>
<path d="M435 51h0" stroke="#44b4c4" stroke-width="6.0" stroke-linecap="round"/>
<path d="M578 124h0M578 117h0M601 137h0M565 114h0M444 58h0" stroke="#2596c1" stroke-width="12.0" stroke-linecap="round"/>
<path d="M81 89h0M121 113h0" stroke="#1d3490" stroke-width="12.0" stroke-linecap="round"/>
<path d="M259 181h0M391 206h0M275 195h0M285 206h0M599 215h0M252 185h0M274 206h0M414 175h0M400 211h0" stroke="#2596c1" stroke-width="12.0" stroke-linecap="round"/>
<path d="M282 196h0M420 173h0M397 210h0M439 183h0" stroke="#2596c1" stroke-width="9.0" stroke-linecap="round"/>
<path d="M233 206h0M440 242h0M405 234h0M387 213h0M232 161h0" stroke="#0f2468" stroke-width="9.0" stroke-linecap="round"/>
<path d="M266 189h0M629 206h0M408 176h0M444 188h0M287 215h0" stroke="#2168ad" stroke-width="12.0" stroke-linecap="round"/>
<path d="M641 258h0M262 188h0M293 229h0M266 207h0" stroke="#2168ad" stroke-width="9.0" stroke-linecap="round"/>
<path d="M407 233h0" stroke="#0f2468" stroke-width="12.0" stroke-linecap="round"/>
</g>
<path d="M214 24l6-3 8-3 12-2 16-1 14-1 14-1 20 0 12 2 8 1 12 1-6 3-8 2 1 3-3 3 2 3-6 4 0 4-5 2-5 2-8 1-8 4-7 1-4 2-3 4-2 4-3 1-5-2-4-2-3-3-2-3-4-3-1-3 5-2-3-3 2-1-5-1-2-3-3-3-4-3-8 0-8 0-4-2-5-1zM382 23l3-2 7-1 8-1 14 1-8 3-6 2-7 2-6-3zM454 19l10-2 16 0 8 1-12 2-16 0zM550 22l4-3 6-1 9 3-5 2-8 1zM632 29l6-1 4 0 10 1 9 1-9 1-10 2-6-1zM717 38l3-1 0 1zM0 37l5 1-5 0z" fill="#fff" stroke="#333" stroke-width="0.5" vector-effect="non-scaling-stroke"/>
<path d="M200 32l8 3 10 3 7 3 2 2 9 3-3 4-4 5-5 0-7-2-6-2-6 0-2-2 9-4-10-4-6-1-8 0-6-2-1-4 7-1 6 0zM123 37l7-4 14 0 7 1 7 5-8 3-10 1-8-1-7-1-3-3zM109 36l3-4 9 0 8 1-7 4-9 1zM201 27l9-2 3-2 7-1 10-3 7-3-17-2-20 0-20 2-10 2-4 3 8 2 8 2 8 2zM176 29l8-2 16 1-1 2-9 1-14-1zM170 33l9-1-2 4-7 0zM158 33l8 0 0 3-9 0zM128 30l8-3 12 1 0 2-8 1-14 0zM160 27l8 0 2 3-10 0zM162 42l6-1 0 2-6 0zM116 27l12-2-2 3z" fill="#fff" stroke="#1a1a1a" stroke-width="0.8" vector-effect="non-scaling-stroke"/>
<path d="M416 97l0-4 3-3 3-3 3 1 2 3 4-1 2-1 4-3 2 0-3 2-1 2 4 3 4 4-3 1-7-1-3-1-4 0-4 2-4 0zM454 92l1-3 4-2 4-1 3 0 0 3-3 2 0 3 2 2 1 3 2 2 0 4-6 2-4-2 1-6-2-3-2-2z" fill="#fff" stroke="#1a1a1a" stroke-width="0.6" vector-effect="non-scaling-stroke"/>
<path d="M24 49l3-6 7-3 13-3 9 1 10 1 12 2 10 1 8-1 8-1 8 1 8 1 10 1 10 1 8-1 10 1 6-1 4-2 3-4 4 2 5 3 4 1 5-2 6 0 2 4-7 1-3 2-2 3-6 2-7 5 0 4 3 4 9 1 6 2 5 1 1 5 3 2 3-1 1-5 3-4-1-4 0-4-1-4 9 0 6 3 2 4 4 1 3-2 3-2 5 6 3 4 6 3 4 4-3 1-6 3-8 0-5 0-5 3-4 3 5-3 5-1 3 0-1 2 1 4 5 0 4 0-3 2-4 1-4 2-1-2 3-2-3 1-2 0-4 2-2 1-1 2 1 1-3 1-3 1-2 1 0 1-2 2-1 1-1 3 1 3-2 2-3 1-2 2-4 2-1 3 2 4 1 4-1 3-1-1-2-2-1-3 0-2-3-2-3 1-2-2-4 0-2 1 1 2-3 0-3-1-4 0-2 1-4 2-1 4 0 4-1 3 1 3 2 3 3 2 1 1 4-1 3-1 1-2 0-2 4-1 3 0-1 4-2 2 1 4-2 1 6 0 3 0 2 2 0 5 0 3 2 3 2 1 3-1 2 0 3 2 0 1-1 2-3-3-2 2-3-1-3-1-4-3-1-2-3-4-3 0-5-2-2-1-3-3-2 0-3 1-4-2-5-1-5-3-4-4 0-2-1-3-4-4-3-3-3-3-2-2-2-4-3-1 1 3 2 3 2 4 3 5 1 2-1-1-3-3-1-3-4-3 0-1-2-3-2-4-1-1-3-3-2-1-2 0-3-4-1-3-2-2-2-3 1-3 0-4 0-4-1-5 3 1 1 2-1-4-4-2-5-2-1-3-4-4-3-2-4-4-4-3-5 0-5-2-7 0-5-2-6 2-5 2 2-4-6 5-5 2-4 3-6 2-6 1 5-2 6-3 3-3-5 0-5-3-5-1-1-2 1-3 8-3-4 0-6 0-4-2zM205 163l3-2 1-2 3-1 4-2 1 2 1-1 5 1 1 1 8 0 5 1 3 3 4 3 6 2 5 2 2 2 3 4 1 4 2 2 4 0 4 3 5 1 5 0 4 3 5 2 0 4-1 4-3 3-3 4-1 5-1 5-1 5-2 3-2 2-5 1-4 1-3 3-1 6-3 3-3 4-3 3-4 3-3 0-4-2 3 5-1 3-5 2-4 0-1 3-5 1 2 2-1 2-1 3-4 3-1 1 3 3-3 2-2 3-1 2 1 2 0 3 4 2-4 1-5-1-4-2-3-4-2-4 1-4-1-3 3-2 1-4 0-3-1-4 1-6 2-3 2-5 0-6 1-5 1-5 1-7-1-6-4-3-5-3-3-4-1-4-3-5-2-3-3-4 1-4 0-3 1-3 0-3 2-2 2-3 1-3 0-3-1-2 1-2zM348 108l-2 4-5 3-1 5-3 4-3 2-4 4-3 5-1 3 1 3 0 6-2 4 1 2 1 3 3 2 2 2 2 3 3 3 4 3 4 2 5-1 4 0 4 0 4-2 4-1 3 0 2 3 1 1 2 0 3 0 2 2 1 3-1 2 0 3 1 4 3 4 2 3 1 6 1 5-2 4-1 6 0 2 3 7 2 4 1 7 1 1 2 3 2 4 1 4 1 3 3 2 5-2 6 0 3-1 3-3 4-3 2-3 2-4 1-3 4-2 1-2 0-3-1-4 3-2 3-3 4-3 1-4 0-6-2-5 0-3-1-5 2-3 3-3 3-3 3-3 4-3 3-4 3-6 3-5 0-3-4 1-3 1-5 1-3-2 0-1-2-2-2-2-3-3-2-2-1-4-3-5 0-3-3-1-1-4-2-3-2-4-1-3 0-3-3 0-2 0-4 1-6-2-4-1-4-1-2 2 0 2-2 1-4-1-3-1-1-2-4-1-4 0-2-2 2-2 0-3-2-1-4 0-4 0-6 0-4 1-4 2-3 1-3 0-3-2-1 0zM349 108l-2-2-2 0-3 0 0-3-1-2 2-4-2-3 3-1 8 0 5 0 1-5-3-2-4-3 6 0 0-2 3 0 3-3 3-1 3-2 1-2 7 0 0-4-1-3 5-1 0 3 1 3 2 1 4 0 9-1 5-1 0-4 6 0-1-4 9-1 4-1-3-1-12 1-2-3 0-3 7-4-6-2-1 3-5 2-3 4 3 3-5 5-1 3-6 1-1-2-3-5-1-1-5 3-5-2-1-4 0-3 10-3 5-4 5-5 6-2 10-2 10-1 6 2 4 1 16 3-2 4-10 3 5 1 5-1 8-3 0-5 4 2 14-2 10 0 4-3 12 2 5 1-3-5 4-4 7 1-1 3 1 5 5-8 6 0 4-2 12-1 2-2 18-2 8-2 9-1 5 1 12 2 1 5 13 1 12-1 8 5 10-1 10-2 12 0 8 2 10 1 8 1 4 2 10 0 8-1 12 1 8 1 0 8-3 1-3 4-6 2-8 3-8-1-5 1-3 4 2 4-2 3-4 3-4 2-3 2-2-8 1-5 4-2 4-4 6-3-6 1-10 4-8 0-8 0-8 0-6 4-6 7 5 0 3 2-1 6 0 3-5 4-5 6-7 1-3 1-1 1-2 3-3 1 0 2 3 2 1 4-1 2-5 1 0-3 0-3-2 0-1-2 1-2-2-1-4 1-2 1-1-1 3-2-3-1-3 2-3 2-1 1 3 2 1 1 2-2 4 1-4 3-2 2 3 5 2 3 0 4-3 3-2 4-5 4-6 2-6 2-2 2-2-2-5 2-1 3 1 4 5 3 1 7-5 3-4 4 0-3-2-1-3-3-3-2-2-1-2 7 2 3 1 3 2 0 4 4 0 5 1 2-1 0-4-3-2-5-4-5 0-5 0-6-2-6-3 0-3 1 0-6-3-2-2-3-3-2-4 2-3 1-4 3-5 6-5 6 0 6-5 5-3-4-2-6-4-8 0-4-1-5-5 1-2-3-1-2-2-1-2-3-5 0-5 1-8-2-2-2-5 0-5-2-3-4-4 0 1 3 3 4 3 1 0 4 5 0 4-4 1 3 4 2 3 2-3 4-3 3-4 4-6 3-6 2-8 3-3 1-1-4-1-4-3-6-4-4-1-5-3-4-4-4 0-3-1 3-4-4 0-2 4-1 1-3 2-4 0-2-3-2-4 2-4-1-5 0-1-2-2-2-1-2 0-2-4-1-3 1 1 3 2 2-2 3-3-1-1-3-2-2-1-5-2-1-5-2-3-3-2-1-2 0 0 3 3 3 4 2 5 3-3 2-1 2-2 0 1-4-4-2-4-1-3-3-3-3-4 2-5 0-3 1 0 2-4 2-3 3 1 2-2 2-2 2-5 0-2 1zM0 42l6 1 6 3 6 1 3 1-3 1-4 2-6-1-5-1-3 1zM312 49l4-2 8 1 6-1 3 3-2 1-5 1-4 1-7-1 1-1zM241 85l2-3 2-3 4-2-1 3 5 1 2 4-3 2-4-1-3-1zM113 83l-4-1-6-3 3-1 5 3zM190 136l6-2 4 0 5 2 7 4-7 0-3-3-4-1-6 0zM211 143l3-3 8 1 1 2-5 1-7 0zM203 143l5 1-2 1zM225 143l4 0-1 1-2 0zM349 80l5-1 9-1 0-3-3-2-3-2 0-2-1-4-3-2-3 0-2 4 1 2 5 1-1 2 1 1-3 0 1 3-2 1 4 0zM348 76l0-4 1-1-4-2-2 2-3 1 1 2-2 2 5 1zM385 104l2 0 4-1-1 4-1-1zM377 102l-1-4 2 0 2 1-1 3zM377 97l0-2 2-1 0 2zM407 109l6 0-1 1-4 0zM425 110l1-1 3 0-1 1-2 1zM644 87l-1-4 1-6 1-5 2 1-1 5 3 4-3 3-1 2zM640 97l0-4 3-4 3 2 5 2-4 3-5-1zM622 112l3-3 6 0 3-4 5-2 1-3 1-3 2 2 1 3-2 2 0 4-2 2-2 1-4 0-4 2-6-1zM619 113l3-1 2 3-2 3-2-1-1-3zM625 112l4 0 0 1-3 1zM600 134l3-4 1 1-2 5-2-1zM577 142l4-2 1 1-3 3zM520 164l1-4 3 5-1 3-3 0zM600 143l4 0 0 5 4 5-5-1-2-1-1-3zM604 165l4-2 5-2-1 6-1 2-3-2-4-1zM604 156l7-1 0 5-4 1-2-1-1-3zM594 163l5-6 0 2-4 5zM551 169l4 1 6 6 6 3 2 5 3 2 0 6-3 0-4-4-3-4-4-4-1-4-4-4zM571 194l1-2 5 1 5 0 3 1 4 2 0 1-7-1-6 0-5-2zM578 177l1 5 1 4 3 0 6 2 4-1 0-3 2-6 3 0-2-2 2-7-2-1-2-2-3 4-3 1-2 3-3 1-4 1zM599 191l2 0 0-5 2 3 3 1 0-2-3-4 3-2 1 0-5 1-1-2 0-2 1-1 8-1 0 1-3 1-6 1-1 0-2 5zM622 182l3-1 3 1 3 5 5-4 6 2 7 3 3 3 3 1 1 4 4 4 2 1-6-1-3-2-5-3-1 3-5 0-4-2-2 1-1-5-5-3-3-1-1 0-2-2 3-1-4-2zM657 191l4-1 3-2-1 3-3 1zM615 176l2 2-1 4-1-3zM616 186l6 1-2-1zM608 201l2-3 5-1-2 1-4 2zM592 197l6 0 7-1 1 1-8 1-6 0zM587 224l1 9 2 7 0 7 2 3 4 0 7-2 5-2 4-1 6-2 4 0 6 2 3 5 4-4 0 5 2 0 2 2 2 3 6 2 6 0 3-2 4-1 1-4 2-4 3-5 1-5-1-6-4-4-3-2-5-7-3-6 0-2-4-2-1-6-1-1-2 5 0 6-2 3-3-1-4-2-3-2 2-5 1-1-3 0-5-1-2-1-2 2-2 2-1 4-3 0-3-2-3 2-3 3-3 3-1 3-5 2-5 0-4 3zM649 261l8 1-1 4-2 1-3-2-2-3zM705 249l4 4 3 2 5 0-3 4-1 2-3 2-1-3-1-2 1-2-3-6zM705 261l3 2-1 3-5 3-4 4-5-1 3-4 7-4zM459 204l2 5 0 2-2 4-2 7-2 8-5 1-2-4-1-4 2-5-1-5 4-2 2-2 2-2zM464 37l4-4 5-3 7-2 8-2 9 0-5 2-10 3-6 3-3 3 2 2-5 0zM186 50l8 0 3 3-9 0z" fill="none" stroke="#1a1a1a" stroke-width="0.6" vector-effect="non-scaling-stroke"/>
<path d="M0 341l20 0 20 0 10-4 10-3 10-3 10-1 10-1 10 0 10-1 10-1 10 1 10 1 10 0 10-2 10-1 10 0 10 1 10-1 8-2 8-3 8-5 6-4 5-3 2 3-3 5-2 6 2 7 6 7 10 3 20 1 14-4 10-2 10-3 8-3 12-3 12-3 12-1 12-2 12 0 12 0 12 0 12 0 12-1 10-1 10 0 10-2 10-2 10-1 10 2 10 0 10 2 4 3 8-1 8-3 10-2 10-1 10-1 10 0 10 0 10 0 10 2 10 0 10-1 10-1 10 0 10 1 10 2 10 2 10 1 10 2 8 2 6 1 6 1-2 3-6 3-4 2-1 3 5 2 8 2 10 1 10 1" fill="none" stroke="#444" stroke-width="0.55" vector-effect="non-scaling-stroke"/>
</g></g>
<rect x="395.8" y="261.6" width="128.5" height="64.2" fill="none" stroke="#ababab" stroke-width="0.6"/>
<ellipse cx="429.2" cy="274.8" rx="12.95" ry="8.40" fill="none" stroke="#ee7a22" stroke-width="1.3"/>
<text x="393.9" y="262.8" class="ax" text-anchor="end">90°N</text>
<text x="393.9" y="273.5" class="ax" text-anchor="end">60°N</text>
<text x="393.9" y="284.2" class="ax" text-anchor="end">30°N</text>
<text x="393.9" y="294.9" class="ax" text-anchor="end">0°</text>
<text x="393.9" y="305.6" class="ax" text-anchor="end">30°S</text>
<text x="393.9" y="316.3" class="ax" text-anchor="end">60°S</text>
<text x="393.9" y="327.0" class="ax" text-anchor="end">90°S</text>
<path d="M394.5 261.60h1.3M394.5 272.30h1.3M394.5 283.00h1.3M394.5 293.70h1.3M394.5 304.40h1.3M394.5 315.10h1.3M394.5 325.80h1.3M395.80 325.8v1.2M417.22 325.8v1.2M438.63 325.8v1.2M460.05 325.8v1.2M481.47 325.8v1.2M502.88 325.8v1.2M524.30 325.8v1.2" stroke="#666" stroke-width="0.4" fill="none"/>
<text x="395.8" y="330.9" class="ax" text-anchor="middle">180°</text>
<text x="417.2" y="330.9" class="ax" text-anchor="middle">120°W</text>
<text x="438.6" y="330.9" class="ax" text-anchor="middle">60°W</text>
<text x="460.0" y="330.9" class="ax" text-anchor="middle">0°W</text>
<text x="481.5" y="330.9" class="ax" text-anchor="middle">60°E</text>
<text x="502.9" y="330.9" class="ax" text-anchor="middle">120°E</text>
<text x="524.3" y="330.9" class="ax" text-anchor="middle">180°</text>
<rect x="383.60" y="331.90" width="15.54" height="3.6" fill="#f4fbc6"/>
<rect x="398.89" y="331.90" width="15.54" height="3.6" fill="#e4f4b4"/>
<rect x="414.18" y="331.90" width="15.54" height="3.6" fill="#c4e7b4"/>
<rect x="429.47" y="331.90" width="15.54" height="3.6" fill="#8fd3ba"/>
<rect x="444.76" y="331.90" width="15.54" height="3.6" fill="#5abfc0"/>
<rect x="460.05" y="331.90" width="15.54" height="3.6" fill="#2fa5c2"/>
<rect x="475.34" y="331.90" width="15.54" height="3.6" fill="#1f84b8"/>
<rect x="490.63" y="331.90" width="15.54" height="3.6" fill="#225ea8"/>
<rect x="505.92" y="331.90" width="15.54" height="3.6" fill="#243d98"/>
<rect x="521.21" y="331.90" width="15.54" height="3.6" fill="#13266e"/>
<path d="M383.80 331.90L375.96 333.70L383.80 335.50Z" fill="#ffffd9"/>
<path d="M536.30 331.90L544.14 333.70L536.30 335.50Z" fill="#081d58"/>
<path d="M383.60 331.90H536.50L544.14 333.70L536.50 335.50H383.60L375.96 333.70Z" fill="none" stroke="#555" stroke-width="0.3"/>
<text x="383.6" y="340.60" class="cb" text-anchor="middle">0.0</text>
<text x="398.9" y="340.60" class="cb" text-anchor="middle">0.1</text>
<text x="414.2" y="340.60" class="cb" text-anchor="middle">0.2</text>
<text x="429.5" y="340.60" class="cb" text-anchor="middle">0.3</text>
<text x="444.8" y="340.60" class="cb" text-anchor="middle">0.4</text>
<text x="460.1" y="340.60" class="cb" text-anchor="middle">0.5</text>
<text x="475.3" y="340.60" class="cb" text-anchor="middle">0.6</text>
<text x="490.6" y="340.60" class="cb" text-anchor="middle">0.7</text>
<text x="505.9" y="340.60" class="cb" text-anchor="middle">0.8</text>
<text x="521.2" y="340.60" class="cb" text-anchor="middle">0.9</text>
<text x="536.5" y="340.60" class="cb" text-anchor="middle">1.0</text>
<clipPath id="fp04"><rect x="63.4" y="345.4" width="127.4" height="62.9"/></clipPath>
<g clip-path="url(#fp04)"><g transform="translate(63.4 345.40) scale(0.176944 0.174722)">
<rect width="720" height="360" fill="#df2528" clip-path="url(#land)"/>
<g clip-path="url(#land)">
<path d="M376 204l0-34 24 2 44-2 4 34z" fill="#c0141c"/>
<path d="M380 252l0-48 68 0 0 48z" fill="#cc1a20"/>
<path d="M324 164l0-16 36 4 30 2 30-2 16-4 12 8-4 14-44 2-40-4z" fill="#b0101a"/>
<path d="M326 148l0-22 16-10 18-6 20 2 20 6 24 0 6 18 6 12-16 4-30 2-30-2z" fill="#9c0c14"/>
<path d="M428 120l28-2 18 10 6 8-16 14-18 6-10-16z" fill="#a80e16"/>
<path d="M256 192l5-11-9-9-16-3-12 9-19 1 5 13 4 9 12 3 10 14 10-13 11-4z" fill="#c8141e"/>
<path d="M527 84l-12-7-6-9-29 0-29 0-4 10-3 6-3 7 19 4 20 7 21-6 11-6z" fill="#e84440"/>
<path d="M449 70l-6-6-6-8-17-4-10 10-9 3-18 5 17 5 3 9 17 4 12-9 9-3z" fill="#e84440"/>
<path d="M621 60l-31-5-6-7-24-4-28 2-11 8 4 6-19 9 25 5 29 3 29-3 24-5z" fill="#e84440"/>
<path d="M168 80l14-10-21-5-21-4-16 8-9 5-17 6 17 6 2 10 23 1 16-6 10-5z" fill="#e84440"/>
<path d="M643 230l6-8-11-4-12-7-11 8-14 3 6 8-5 8 13 3 11 7 14-4 9-6z" fill="#e84440"/>
<path d="M528 63h0M428 84h0M524 91h0M466 88h0M485 82h0M564 98h0M459 84h0M656 53h0M480 127h0M623 47h0M478 98h0M621 73h0M445 50h0M686 63h0M494 125h0M575 118h0M597 73h0M677 27h0M588 21h0" stroke="#ee5448" stroke-width="9.0" stroke-linecap="round"/>
<path d="M342 68h0M486 93h0M694 88h0M600 42h0M346 104h0M514 97h0M608 111h0M699 89h0M580 133h0M491 103h0M433 38h0M650 52h0" stroke="#ee5448" stroke-width="6.0" stroke-linecap="round"/>
<path d="M588 78h0M473 118h0M427 87h0M527 82h0M483 128h0M472 28h0M685 59h0M356 47h0" stroke="#ee5448" stroke-width="12.0" stroke-linecap="round"/>
<path d="M500 23h0M478 45h0M537 66h0M581 131h0M348 42h0M639 79h0M517 103h0M512 87h0M602 127h0M580 122h0M583 108h0M600 114h0M528 79h0M489 59h0" stroke="#f47a6a" stroke-width="12.0" stroke-linecap="round"/>
<path d="M574 133h0M654 35h0M646 22h0M491 120h0M511 107h0M657 75h0M698 22h0M588 95h0M420 70h0M598 108h0M523 54h0M601 136h0M531 97h0M439 102h0M579 113h0" stroke="#f47a6a" stroke-width="6.0" stroke-linecap="round"/>
<path d="M512 81h0M481 88h0M669 38h0M592 96h0M636 87h0" stroke="#f8a090" stroke-width="12.0" stroke-linecap="round"/>
<path d="M575 100h0M598 131h0M383 93h0M481 111h0M452 99h0M609 123h0M600 99h0M405 40h0M397 73h0M481 93h0M650 71h0M505 83h0M513 97h0M582 88h0M590 93h0M604 117h0M500 74h0M543 56h0M572 91h0M652 44h0" stroke="#f47a6a" stroke-width="9.0" stroke-linecap="round"/>
<path d="M345 63h0M465 99h0M433 85h0M664 84h0M515 87h0M483 100h0M576 90h0M461 123h0" stroke="#f8a090" stroke-width="6.0" stroke-linecap="round"/>
<path d="M542 62h0M710 29h0M702 40h0M564 68h0M624 65h0M554 69h0M687 34h0M641 72h0M560 103h0" stroke="#f8a090" stroke-width="9.0" stroke-linecap="round"/>
<path d="M431 55h0M527 158h0M576 64h0M561 121h0M486 77h0M707 57h0" stroke="#c8141e" stroke-width="6.0" stroke-linecap="round"/>
<path d="M414 50h0M344 51h0M588 125h0M696 52h0M495 161h0" stroke="#bc1219" stroke-width="6.0" stroke-linecap="round"/>
<path d="M433 99h0M592 102h0M348 63h0M606 131h0M350 66h0M381 92h0M571 92h0M565 126h0" stroke="#c8141e" stroke-width="9.0" stroke-linecap="round"/>
<path d="M607 132h0M396 106h0M518 143h0M399 39h0M416 63h0M564 117h0M367 70h0M490 60h0M626 75h0" stroke="#bc1219" stroke-width="9.0" stroke-linecap="round"/>
<path d="M514 156h0M643 80h0M510 85h0M378 50h0M529 144h0" stroke="#bc1219" stroke-width="12.0" stroke-linecap="round"/>
<path d="M344 60h0M381 68h0M483 63h0" stroke="#c8141e" stroke-width="12.0" stroke-linecap="round"/>
<path d="M218 33h0M218 124h0M227 95h0M139 31h0M165 65h0M216 89h0M157 110h0M142 65h0M224 41h0M94 34h0" stroke="#f47a6a" stroke-width="6.0" stroke-linecap="round"/>
<path d="M218 64h0M92 65h0M212 87h0M155 103h0M206 36h0M137 98h0M157 72h0M149 76h0M203 112h0M207 75h0M148 87h0M197 99h0M210 109h0M111 55h0M143 99h0M131 64h0M242 84h0M193 65h0M236 66h0M196 106h0M149 79h0" stroke="#f47a6a" stroke-width="9.0" stroke-linecap="round"/>
<path d="M120 84h0M119 106h0M169 62h0M197 62h0M245 74h0M109 41h0M143 83h0M243 89h0M211 42h0M212 32h0M118 46h0M129 83h0M231 83h0" stroke="#ee5448" stroke-width="9.0" stroke-linecap="round"/>
<path d="M173 109h0M186 87h0M225 115h0" stroke="#f47a6a" stroke-width="12.0" stroke-linecap="round"/>
<path d="M230 70h0M114 44h0" stroke="#ee5448" stroke-width="6.0" stroke-linecap="round"/>
<path d="M116 78h0M153 51h0M169 99h0M172 112h0M203 122h0M176 51h0" stroke="#ee5448" stroke-width="12.0" stroke-linecap="round"/>
<path d="M267 208h0M269 225h0M669 234h0" stroke="#ee5448" stroke-width="12.0" stroke-linecap="round"/>
<path d="M287 198h0M269 192h0M395 224h0M592 214h0" stroke="#ee5448" stroke-width="6.0" stroke-linecap="round"/>
<path d="M211 276h0M604 217h0M444 237h0M639 241h0M395 248h0M662 231h0M622 217h0" stroke="#f47a6a" stroke-width="9.0" stroke-linecap="round"/>
<path d="M589 251h0M614 257h0M269 224h0M262 228h0M425 210h0" stroke="#f47a6a" stroke-width="6.0" stroke-linecap="round"/>
<path d="M246 263h0M234 280h0M410 251h0" stroke="#f47a6a" stroke-width="12.0" stroke-linecap="round"/>
<path d="M392 251h0M596 231h0M229 239h0M440 206h0M613 225h0" stroke="#ee5448" stroke-width="9.0" stroke-linecap="round"/>
<path d="M428 115h0M385 146h0M355 165h0M337 139h0M392 158h0M326 156h0M377 166h0" stroke="#7c0810" stroke-width="9.0" stroke-linecap="round"/>
<path d="M341 149h0M342 132h0M344 120h0M372 151h0" stroke="#a50f15" stroke-width="6.0" stroke-linecap="round"/>
<path d="M393 165h0" stroke="#7c0810" stroke-width="12.0" stroke-linecap="round"/>
<path d="M332 150h0M410 119h0" stroke="#a50f15" stroke-width="12.0" stroke-linecap="round"/>
<path d="M386 117h0" stroke="#7c0810" stroke-width="6.0" stroke-linecap="round"/>
<path d="M328 159h0M372 118h0M333 148h0M376 149h0M389 150h0" stroke="#a50f15" stroke-width="9.0" stroke-linecap="round"/>
</g>
<path d="M214 24l6-3 8-3 12-2 16-1 14-1 14-1 20 0 12 2 8 1 12 1-6 3-8 2 1 3-3 3 2 3-6 4 0 4-5 2-5 2-8 1-8 4-7 1-4 2-3 4-2 4-3 1-5-2-4-2-3-3-2-3-4-3-1-3 5-2-3-3 2-1-5-1-2-3-3-3-4-3-8 0-8 0-4-2-5-1zM382 23l3-2 7-1 8-1 14 1-8 3-6 2-7 2-6-3zM454 19l10-2 16 0 8 1-12 2-16 0zM550 22l4-3 6-1 9 3-5 2-8 1zM632 29l6-1 4 0 10 1 9 1-9 1-10 2-6-1zM717 38l3-1 0 1zM0 37l5 1-5 0z" fill="#fff" stroke="#333" stroke-width="0.5" vector-effect="non-scaling-stroke"/>
<path d="M200 32l8 3 10 3 7 3 2 2 9 3-3 4-4 5-5 0-7-2-6-2-6 0-2-2 9-4-10-4-6-1-8 0-6-2-1-4 7-1 6 0zM123 37l7-4 14 0 7 1 7 5-8 3-10 1-8-1-7-1-3-3zM109 36l3-4 9 0 8 1-7 4-9 1zM201 27l9-2 3-2 7-1 10-3 7-3-17-2-20 0-20 2-10 2-4 3 8 2 8 2 8 2zM176 29l8-2 16 1-1 2-9 1-14-1zM170 33l9-1-2 4-7 0zM158 33l8 0 0 3-9 0zM128 30l8-3 12 1 0 2-8 1-14 0zM160 27l8 0 2 3-10 0zM162 42l6-1 0 2-6 0zM116 27l12-2-2 3z" fill="#fff" stroke="#1a1a1a" stroke-width="0.8" vector-effect="non-scaling-stroke"/>
<path d="M416 97l0-4 3-3 3-3 3 1 2 3 4-1 2-1 4-3 2 0-3 2-1 2 4 3 4 4-3 1-7-1-3-1-4 0-4 2-4 0zM454 92l1-3 4-2 4-1 3 0 0 3-3 2 0 3 2 2 1 3 2 2 0 4-6 2-4-2 1-6-2-3-2-2z" fill="#fff" stroke="#1a1a1a" stroke-width="0.6" vector-effect="non-scaling-stroke"/>
<path d="M24 49l3-6 7-3 13-3 9 1 10 1 12 2 10 1 8-1 8-1 8 1 8 1 10 1 10 1 8-1 10 1 6-1 4-2 3-4 4 2 5 3 4 1 5-2 6 0 2 4-7 1-3 2-2 3-6 2-7 5 0 4 3 4 9 1 6 2 5 1 1 5 3 2 3-1 1-5 3-4-1-4 0-4-1-4 9 0 6 3 2 4 4 1 3-2 3-2 5 6 3 4 6 3 4 4-3 1-6 3-8 0-5 0-5 3-4 3 5-3 5-1 3 0-1 2 1 4 5 0 4 0-3 2-4 1-4 2-1-2 3-2-3 1-2 0-4 2-2 1-1 2 1 1-3 1-3 1-2 1 0 1-2 2-1 1-1 3 1 3-2 2-3 1-2 2-4 2-1 3 2 4 1 4-1 3-1-1-2-2-1-3 0-2-3-2-3 1-2-2-4 0-2 1 1 2-3 0-3-1-4 0-2 1-4 2-1 4 0 4-1 3 1 3 2 3 3 2 1 1 4-1 3-1 1-2 0-2 4-1 3 0-1 4-2 2 1 4-2 1 6 0 3 0 2 2 0 5 0 3 2 3 2 1 3-1 2 0 3 2 0 1-1 2-3-3-2 2-3-1-3-1-4-3-1-2-3-4-3 0-5-2-2-1-3-3-2 0-3 1-4-2-5-1-5-3-4-4 0-2-1-3-4-4-3-3-3-3-2-2-2-4-3-1 1 3 2 3 2 4 3 5 1 2-1-1-3-3-1-3-4-3 0-1-2-3-2-4-1-1-3-3-2-1-2 0-3-4-1-3-2-2-2-3 1-3 0-4 0-4-1-5 3 1 1 2-1-4-4-2-5-2-1-3-4-4-3-2-4-4-4-3-5 0-5-2-7 0-5-2-6 2-5 2 2-4-6 5-5 2-4 3-6 2-6 1 5-2 6-3 3-3-5 0-5-3-5-1-1-2 1-3 8-3-4 0-6 0-4-2zM205 163l3-2 1-2 3-1 4-2 1 2 1-1 5 1 1 1 8 0 5 1 3 3 4 3 6 2 5 2 2 2 3 4 1 4 2 2 4 0 4 3 5 1 5 0 4 3 5 2 0 4-1 4-3 3-3 4-1 5-1 5-1 5-2 3-2 2-5 1-4 1-3 3-1 6-3 3-3 4-3 3-4 3-3 0-4-2 3 5-1 3-5 2-4 0-1 3-5 1 2 2-1 2-1 3-4 3-1 1 3 3-3 2-2 3-1 2 1 2 0 3 4 2-4 1-5-1-4-2-3-4-2-4 1-4-1-3 3-2 1-4 0-3-1-4 1-6 2-3 2-5 0-6 1-5 1-5 1-7-1-6-4-3-5-3-3-4-1-4-3-5-2-3-3-4 1-4 0-3 1-3 0-3 2-2 2-3 1-3 0-3-1-2 1-2zM348 108l-2 4-5 3-1 5-3 4-3 2-4 4-3 5-1 3 1 3 0 6-2 4 1 2 1 3 3 2 2 2 2 3 3 3 4 3 4 2 5-1 4 0 4 0 4-2 4-1 3 0 2 3 1 1 2 0 3 0 2 2 1 3-1 2 0 3 1 4 3 4 2 3 1 6 1 5-2 4-1 6 0 2 3 7 2 4 1 7 1 1 2 3 2 4 1 4 1 3 3 2 5-2 6 0 3-1 3-3 4-3 2-3 2-4 1-3 4-2 1-2 0-3-1-4 3-2 3-3 4-3 1-4 0-6-2-5 0-3-1-5 2-3 3-3 3-3 3-3 4-3 3-4 3-6 3-5 0-3-4 1-3 1-5 1-3-2 0-1-2-2-2-2-3-3-2-2-1-4-3-5 0-3-3-1-1-4-2-3-2-4-1-3 0-3-3 0-2 0-4 1-6-2-4-1-4-1-2 2 0 2-2 1-4-1-3-1-1-2-4-1-4 0-2-2 2-2 0-3-2-1-4 0-4 0-6 0-4 1-4 2-3 1-3 0-3-2-1 0zM349 108l-2-2-2 0-3 0 0-3-1-2 2-4-2-3 3-1 8 0 5 0 1-5-3-2-4-3 6 0 0-2 3 0 3-3 3-1 3-2 1-2 7 0 0-4-1-3 5-1 0 3 1 3 2 1 4 0 9-1 5-1 0-4 6 0-1-4 9-1 4-1-3-1-12 1-2-3 0-3 7-4-6-2-1 3-5 2-3 4 3 3-5 5-1 3-6 1-1-2-3-5-1-1-5 3-5-2-1-4 0-3 10-3 5-4 5-5 6-2 10-2 10-1 6 2 4 1 16 3-2 4-10 3 5 1 5-1 8-3 0-5 4 2 14-2 10 0 4-3 12 2 5 1-3-5 4-4 7 1-1 3 1 5 5-8 6 0 4-2 12-1 2-2 18-2 8-2 9-1 5 1 12 2 1 5 13 1 12-1 8 5 10-1 10-2 12 0 8 2 10 1 8 1 4 2 10 0 8-1 12 1 8 1 0 8-3 1-3 4-6 2-8 3-8-1-5 1-3 4 2 4-2 3-4 3-4 2-3 2-2-8 1-5 4-2 4-4 6-3-6 1-10 4-8 0-8 0-8 0-6 4-6 7 5 0 3 2-1 6 0 3-5 4-5 6-7 1-3 1-1 1-2 3-3 1 0 2 3 2 1 4-1 2-5 1 0-3 0-3-2 0-1-2 1-2-2-1-4 1-2 1-1-1 3-2-3-1-3 2-3 2-1 1 3 2 1 1 2-2 4 1-4 3-2 2 3 5 2 3 0 4-3 3-2 4-5 4-6 2-6 2-2 2-2-2-5 2-1 3 1 4 5 3 1 7-5 3-4 4 0-3-2-1-3-3-3-2-2-1-2 7 2 3 1 3 2 0 4 4 0 5 1 2-1 0-4-3-2-5-4-5 0-5 0-6-2-6-3 0-3 1 0-6-3-2-2-3-3-2-4 2-3 1-4 3-5 6-5 6 0 6-5 5-3-4-2-6-4-8 0-4-1-5-5 1-2-3-1-2-2-1-2-3-5 0-5 1-8-2-2-2-5 0-5-2-3-4-4 0 1 3 3 4 3 1 0 4 5 0 4-4 1 3 4 2 3 2-3 4-3 3-4 4-6 3-6 2-8 3-3 1-1-4-1-4-3-6-4-4-1-5-3-4-4-4 0-3-1 3-4-4 0-2 4-1 1-3 2-4 0-2-3-2-4 2-4-1-5 0-1-2-2-2-1-2 0-2-4-1-3 1 1 3 2 2-2 3-3-1-1-3-2-2-1-5-2-1-5-2-3-3-2-1-2 0 0 3 3 3 4 2 5 3-3 2-1 2-2 0 1-4-4-2-4-1-3-3-3-3-4 2-5 0-3 1 0 2-4 2-3 3 1 2-2 2-2 2-5 0-2 1zM0 42l6 1 6 3 6 1 3 1-3 1-4 2-6-1-5-1-3 1zM312 49l4-2 8 1 6-1 3 3-2 1-5 1-4 1-7-1 1-1zM241 85l2-3 2-3 4-2-1 3 5 1 2 4-3 2-4-1-3-1zM113 83l-4-1-6-3 3-1 5 3zM190 136l6-2 4 0 5 2 7 4-7 0-3-3-4-1-6 0zM211 143l3-3 8 1 1 2-5 1-7 0zM203 143l5 1-2 1zM225 143l4 0-1 1-2 0zM349 80l5-1 9-1 0-3-3-2-3-2 0-2-1-4-3-2-3 0-2 4 1 2 5 1-1 2 1 1-3 0 1 3-2 1 4 0zM348 76l0-4 1-1-4-2-2 2-3 1 1 2-2 2 5 1zM385 104l2 0 4-1-1 4-1-1zM377 102l-1-4 2 0 2 1-1 3zM377 97l0-2 2-1 0 2zM407 109l6 0-1 1-4 0zM425 110l1-1 3 0-1 1-2 1zM644 87l-1-4 1-6 1-5 2 1-1 5 3 4-3 3-1 2zM640 97l0-4 3-4 3 2 5 2-4 3-5-1zM622 112l3-3 6 0 3-4 5-2 1-3 1-3 2 2 1 3-2 2 0 4-2 2-2 1-4 0-4 2-6-1zM619 113l3-1 2 3-2 3-2-1-1-3zM625 112l4 0 0 1-3 1zM600 134l3-4 1 1-2 5-2-1zM577 142l4-2 1 1-3 3zM520 164l1-4 3 5-1 3-3 0zM600 143l4 0 0 5 4 5-5-1-2-1-1-3zM604 165l4-2 5-2-1 6-1 2-3-2-4-1zM604 156l7-1 0 5-4 1-2-1-1-3zM594 163l5-6 0 2-4 5zM551 169l4 1 6 6 6 3 2 5 3 2 0 6-3 0-4-4-3-4-4-4-1-4-4-4zM571 194l1-2 5 1 5 0 3 1 4 2 0 1-7-1-6 0-5-2zM578 177l1 5 1 4 3 0 6 2 4-1 0-3 2-6 3 0-2-2 2-7-2-1-2-2-3 4-3 1-2 3-3 1-4 1zM599 191l2 0 0-5 2 3 3 1 0-2-3-4 3-2 1 0-5 1-1-2 0-2 1-1 8-1 0 1-3 1-6 1-1 0-2 5zM622 182l3-1 3 1 3 5 5-4 6 2 7 3 3 3 3 1 1 4 4 4 2 1-6-1-3-2-5-3-1 3-5 0-4-2-2 1-1-5-5-3-3-1-1 0-2-2 3-1-4-2zM657 191l4-1 3-2-1 3-3 1zM615 176l2 2-1 4-1-3zM616 186l6 1-2-1zM608 201l2-3 5-1-2 1-4 2zM592 197l6 0 7-1 1 1-8 1-6 0zM587 224l1 9 2 7 0 7 2 3 4 0 7-2 5-2 4-1 6-2 4 0 6 2 3 5 4-4 0 5 2 0 2 2 2 3 6 2 6 0 3-2 4-1 1-4 2-4 3-5 1-5-1-6-4-4-3-2-5-7-3-6 0-2-4-2-1-6-1-1-2 5 0 6-2 3-3-1-4-2-3-2 2-5 1-1-3 0-5-1-2-1-2 2-2 2-1 4-3 0-3-2-3 2-3 3-3 3-1 3-5 2-5 0-4 3zM649 261l8 1-1 4-2 1-3-2-2-3zM705 249l4 4 3 2 5 0-3 4-1 2-3 2-1-3-1-2 1-2-3-6zM705 261l3 2-1 3-5 3-4 4-5-1 3-4 7-4zM459 204l2 5 0 2-2 4-2 7-2 8-5 1-2-4-1-4 2-5-1-5 4-2 2-2 2-2zM464 37l4-4 5-3 7-2 8-2 9 0-5 2-10 3-6 3-3 3 2 2-5 0zM186 50l8 0 3 3-9 0z" fill="none" stroke="#1a1a1a" stroke-width="0.6" vector-effect="non-scaling-stroke"/>
<path d="M0 341l20 0 20 0 10-4 10-3 10-3 10-1 10-1 10 0 10-1 10-1 10 1 10 1 10 0 10-2 10-1 10 0 10 1 10-1 8-2 8-3 8-5 6-4 5-3 2 3-3 5-2 6 2 7 6 7 10 3 20 1 14-4 10-2 10-3 8-3 12-3 12-3 12-1 12-2 12 0 12 0 12 0 12 0 12-1 10-1 10 0 10-2 10-2 10-1 10 2 10 0 10 2 4 3 8-1 8-3 10-2 10-1 10-1 10 0 10 0 10 0 10 2 10 0 10-1 10-1 10 0 10 1 10 2 10 2 10 1 10 2 8 2 6 1 6 1-2 3-6 3-4 2-1 3 5 2 8 2 10 1 10 1" fill="none" stroke="#444" stroke-width="0.55" vector-effect="non-scaling-stroke"/>
</g></g>
<rect x="63.4" y="345.4" width="127.4" height="62.9" fill="none" stroke="#ababab" stroke-width="0.6"/>
<text x="61.5" y="346.6" class="ax" text-anchor="end">90°N</text>
<text x="61.5" y="357.1" class="ax" text-anchor="end">60°N</text>
<text x="61.5" y="367.6" class="ax" text-anchor="end">30°N</text>
<text x="61.5" y="378.1" class="ax" text-anchor="end">0°</text>
<text x="61.5" y="388.5" class="ax" text-anchor="end">30°S</text>
<text x="61.5" y="399.0" class="ax" text-anchor="end">60°S</text>
<text x="61.5" y="409.5" class="ax" text-anchor="end">90°S</text>
<path d="M62.1 345.40h1.3M62.1 355.88h1.3M62.1 366.37h1.3M62.1 376.85h1.3M62.1 387.33h1.3M62.1 397.82h1.3M62.1 408.30h1.3M63.40 408.3v1.2M84.63 408.3v1.2M105.87 408.3v1.2M127.10 408.3v1.2M148.33 408.3v1.2M169.57 408.3v1.2M190.80 408.3v1.2" stroke="#666" stroke-width="0.4" fill="none"/>
<text x="63.4" y="413.4" class="ax" text-anchor="middle">180°</text>
<text x="84.6" y="413.4" class="ax" text-anchor="middle">120°W</text>
<text x="105.9" y="413.4" class="ax" text-anchor="middle">60°W</text>
<text x="127.1" y="413.4" class="ax" text-anchor="middle">0°W</text>
<text x="148.3" y="413.4" class="ax" text-anchor="middle">60°E</text>
<text x="169.6" y="413.4" class="ax" text-anchor="middle">120°E</text>
<text x="190.8" y="413.4" class="ax" text-anchor="middle">180°</text>
<rect x="51.20" y="414.40" width="7.84" height="3.6" fill="#7e0610"/>
<rect x="58.79" y="414.40" width="7.84" height="3.6" fill="#ac1117"/>
<rect x="66.38" y="414.40" width="7.84" height="3.6" fill="#ca181d"/>
<rect x="73.97" y="414.40" width="7.84" height="3.6" fill="#e83429"/>
<rect x="81.56" y="414.40" width="7.84" height="3.6" fill="#f6583e"/>
<rect x="89.15" y="414.40" width="7.84" height="3.6" fill="#fb7a5a"/>
<rect x="96.74" y="414.40" width="7.84" height="3.6" fill="#fc9b7c"/>
<rect x="104.33" y="414.40" width="7.84" height="3.6" fill="#fcbba1"/>
<rect x="111.92" y="414.40" width="7.84" height="3.6" fill="#fed9c9"/>
<rect x="119.51" y="414.40" width="7.84" height="3.6" fill="#ffede5"/>
<rect x="127.10" y="414.40" width="7.84" height="3.6" fill="#eaf4fa"/>
<rect x="134.69" y="414.40" width="7.84" height="3.6" fill="#d8ecf6"/>
<rect x="142.28" y="414.40" width="7.84" height="3.6" fill="#b8def2"/>
<rect x="149.87" y="414.40" width="7.84" height="3.6" fill="#98d0ee"/>
<rect x="157.46" y="414.40" width="7.84" height="3.6" fill="#70bce6"/>
<rect x="165.05" y="414.40" width="7.84" height="3.6" fill="#249cd4"/>
<rect x="172.64" y="414.40" width="7.84" height="3.6" fill="#1a88c6"/>
<rect x="180.23" y="414.40" width="7.84" height="3.6" fill="#1476ba"/>
<rect x="187.82" y="414.40" width="7.84" height="3.6" fill="#0c58a2"/>
<rect x="195.41" y="414.40" width="7.84" height="3.6" fill="#083478"/>
<path d="M51.40 414.40L43.61 416.20L51.40 418.00Z" fill="#67000d"/>
<path d="M202.80 414.40L210.59 416.20L202.80 418.00Z" fill="#081d58"/>
<path d="M51.20 414.40H203.00L210.59 416.20L203.00 418.00H51.20L43.61 416.20Z" fill="none" stroke="#555" stroke-width="0.3"/>
<text x="51.2" y="423.10" class="cb" text-anchor="middle">0.00</text>
<text x="66.4" y="423.10" class="cb" text-anchor="middle">0.02</text>
<text x="81.6" y="423.10" class="cb" text-anchor="middle">0.04</text>
<text x="96.7" y="423.10" class="cb" text-anchor="middle">0.06</text>
<text x="111.9" y="423.10" class="cb" text-anchor="middle">0.08</text>
<text x="127.1" y="423.10" class="cb" text-anchor="middle">0.10</text>
<text x="142.3" y="423.10" class="cb" text-anchor="middle">0.12</text>
<text x="157.5" y="423.10" class="cb" text-anchor="middle">0.14</text>
<text x="172.6" y="423.10" class="cb" text-anchor="middle">0.16</text>
<text x="187.8" y="423.10" class="cb" text-anchor="middle">0.18</text>
<text x="203.0" y="423.10" class="cb" text-anchor="middle">0.20</text>
<clipPath id="fp14"><rect x="231.3" y="345.3" width="127.1" height="63.2"/></clipPath>
<g clip-path="url(#fp14)"><g transform="translate(231.3 345.30) scale(0.176528 0.175556)">
<rect width="720" height="360" fill="#c8d4f3" clip-path="url(#land)"/>
<g clip-path="url(#land)">
<path d="M429 136l-3-11-24-4-22-5-24 3-23 6-3 11 15 8 16 5 19 8 19-8 17-5z" fill="#f5cdc2"/>
<path d="M577 108l-32-7 2-14-37-1-22 9-32 3 3 10-12 12 38 3 25 7 34-2 36-7z" fill="#f5cdc2"/>
<path d="M238 264l-5-9-2-12-7 2-8-3-4 11-1 11 0 13 9-1 4 10 5-8 3-7z" fill="#f5cdc2"/>
<path d="M621 236l-5-7-7-5-9 4-5 1-12 0 1 7-2 8 9 4 9 4 6-9 3-3z" fill="#f5cdc2"/>
<path d="M171 130l-3-8-8-5-10 1-6 4-6 3-7 5 6 6 3 7 10-2 10 2 5-7z" fill="#f5cdc2"/>
<path d="M430 224l-9-6-5-4-6-4-8 0-3 7-1 7 0 7 6 3 6 3 10 4 5-8z" fill="#f5cdc2"/>
<path d="M546 108l-9-4-9-2-8-7-12 4-13 3-2 6 8 4 8 4 11 3 11-3 10-3z" fill="#f3a690"/>
<path d="M655 56l-21-5-16-7-38 2-44-3-5 8-26 5-2 8 40 3 37 2 52 3 37-7z" fill="#8fafef"/>
<path d="M209 70l-13-5-11-6-25 1-26-1-10 6-15 5 7 6 21 4 23-2 13-2 12-2z" fill="#8fafef"/>
<path d="M603 48l-10-4-14-2-19 0-16 0-16 2 1 4 8 3-4 6 27-2 19 0 15-3z" fill="#5b88e6"/>
<path d="M660 52l-4-3-8-1-8-2-13-1 1 5-2 2-9 4 14 1 9 2 13 0-1-5z" fill="#5b88e6"/>
<path d="M531 52l-1-2-3-1-3 0-3 0-2 1-2 2 2 2 1 2 4-1 3 1 2-2z" fill="#e33626"/>
<path d="M612 30h0M573 57h0M529 74h0M549 59h0M523 21h0M511 26h0" stroke="#8fafef" stroke-width="9.0" stroke-linecap="round"/>
<path d="M647 80h0M490 66h0M472 59h0M559 21h0M708 29h0" stroke="#5b88e6" stroke-width="6.0" stroke-linecap="round"/>
<path d="M506 56h0M516 35h0M599 40h0M640 77h0M590 90h0M582 26h0M697 67h0M455 23h0M638 70h0M693 58h0" stroke="#5b88e6" stroke-width="9.0" stroke-linecap="round"/>
<path d="M666 67h0M448 30h0M643 56h0M479 56h0M465 28h0M672 23h0M539 55h0M683 70h0" stroke="#8fafef" stroke-width="6.0" stroke-linecap="round"/>
<path d="M463 52h0M575 83h0M494 84h0M709 38h0M602 41h0M451 66h0M663 75h0" stroke="#5b88e6" stroke-width="12.0" stroke-linecap="round"/>
<path d="M691 88h0M494 88h0M671 44h0M588 60h0M658 88h0M715 26h0M682 58h0M698 57h0M456 53h0M687 41h0M594 28h0M708 60h0M659 45h0M669 53h0" stroke="#8fafef" stroke-width="12.0" stroke-linecap="round"/>
<path d="M442 88h0M518 78h0M549 119h0M545 108h0" stroke="#f3a690" stroke-width="6.0" stroke-linecap="round"/>
<path d="M449 85h0M532 115h0M514 118h0" stroke="#ee6c52" stroke-width="6.0" stroke-linecap="round"/>
<path d="M523 118h0M523 107h0M557 115h0M542 107h0M537 122h0M574 79h0M493 91h0M539 89h0M520 97h0M538 124h0M598 88h0" stroke="#f3a690" stroke-width="9.0" stroke-linecap="round"/>
<path d="M525 120h0M538 85h0M540 121h0M532 115h0M447 81h0M516 116h0M568 81h0" stroke="#f3a690" stroke-width="12.0" stroke-linecap="round"/>
<path d="M513 116h0M542 122h0" stroke="#ee6c52" stroke-width="12.0" stroke-linecap="round"/>
<path d="M542 108h0M562 109h0M515 118h0" stroke="#ee6c52" stroke-width="9.0" stroke-linecap="round"/>
<path d="M193 118h0M153 93h0M201 118h0M116 64h0M177 103h0" stroke="#8fafef" stroke-width="6.0" stroke-linecap="round"/>
<path d="M127 37h0M136 52h0M185 53h0M85 60h0M192 68h0M163 88h0" stroke="#f5cdc2" stroke-width="9.0" stroke-linecap="round"/>
<path d="M162 121h0M113 93h0M153 45h0M97 62h0M133 92h0M115 112h0M230 67h0" stroke="#8fafef" stroke-width="9.0" stroke-linecap="round"/>
<path d="M217 73h0M122 96h0" stroke="#f3a690" stroke-width="6.0" stroke-linecap="round"/>
<path d="M229 93h0M176 124h0M196 56h0" stroke="#f3a690" stroke-width="9.0" stroke-linecap="round"/>
<path d="M152 101h0M119 95h0M228 90h0" stroke="#f3a690" stroke-width="12.0" stroke-linecap="round"/>
<path d="M200 66h0M82 74h0M168 110h0" stroke="#8fafef" stroke-width="12.0" stroke-linecap="round"/>
<path d="M230 39h0" stroke="#f5cdc2" stroke-width="6.0" stroke-linecap="round"/>
</g>
<path d="M214 24l6-3 8-3 12-2 16-1 14-1 14-1 20 0 12 2 8 1 12 1-6 3-8 2 1 3-3 3 2 3-6 4 0 4-5 2-5 2-8 1-8 4-7 1-4 2-3 4-2 4-3 1-5-2-4-2-3-3-2-3-4-3-1-3 5-2-3-3 2-1-5-1-2-3-3-3-4-3-8 0-8 0-4-2-5-1zM382 23l3-2 7-1 8-1 14 1-8 3-6 2-7 2-6-3zM454 19l10-2 16 0 8 1-12 2-16 0zM550 22l4-3 6-1 9 3-5 2-8 1zM632 29l6-1 4 0 10 1 9 1-9 1-10 2-6-1zM717 38l3-1 0 1zM0 37l5 1-5 0z" fill="#fff" stroke="#333" stroke-width="0.5" vector-effect="non-scaling-stroke"/>
<path d="M200 32l8 3 10 3 7 3 2 2 9 3-3 4-4 5-5 0-7-2-6-2-6 0-2-2 9-4-10-4-6-1-8 0-6-2-1-4 7-1 6 0zM123 37l7-4 14 0 7 1 7 5-8 3-10 1-8-1-7-1-3-3zM109 36l3-4 9 0 8 1-7 4-9 1zM201 27l9-2 3-2 7-1 10-3 7-3-17-2-20 0-20 2-10 2-4 3 8 2 8 2 8 2zM176 29l8-2 16 1-1 2-9 1-14-1zM170 33l9-1-2 4-7 0zM158 33l8 0 0 3-9 0zM128 30l8-3 12 1 0 2-8 1-14 0zM160 27l8 0 2 3-10 0zM162 42l6-1 0 2-6 0zM116 27l12-2-2 3z" fill="#fff" stroke="#1a1a1a" stroke-width="0.8" vector-effect="non-scaling-stroke"/>
<path d="M416 97l0-4 3-3 3-3 3 1 2 3 4-1 2-1 4-3 2 0-3 2-1 2 4 3 4 4-3 1-7-1-3-1-4 0-4 2-4 0zM454 92l1-3 4-2 4-1 3 0 0 3-3 2 0 3 2 2 1 3 2 2 0 4-6 2-4-2 1-6-2-3-2-2z" fill="#fff" stroke="#1a1a1a" stroke-width="0.6" vector-effect="non-scaling-stroke"/>
<path d="M24 49l3-6 7-3 13-3 9 1 10 1 12 2 10 1 8-1 8-1 8 1 8 1 10 1 10 1 8-1 10 1 6-1 4-2 3-4 4 2 5 3 4 1 5-2 6 0 2 4-7 1-3 2-2 3-6 2-7 5 0 4 3 4 9 1 6 2 5 1 1 5 3 2 3-1 1-5 3-4-1-4 0-4-1-4 9 0 6 3 2 4 4 1 3-2 3-2 5 6 3 4 6 3 4 4-3 1-6 3-8 0-5 0-5 3-4 3 5-3 5-1 3 0-1 2 1 4 5 0 4 0-3 2-4 1-4 2-1-2 3-2-3 1-2 0-4 2-2 1-1 2 1 1-3 1-3 1-2 1 0 1-2 2-1 1-1 3 1 3-2 2-3 1-2 2-4 2-1 3 2 4 1 4-1 3-1-1-2-2-1-3 0-2-3-2-3 1-2-2-4 0-2 1 1 2-3 0-3-1-4 0-2 1-4 2-1 4 0 4-1 3 1 3 2 3 3 2 1 1 4-1 3-1 1-2 0-2 4-1 3 0-1 4-2 2 1 4-2 1 6 0 3 0 2 2 0 5 0 3 2 3 2 1 3-1 2 0 3 2 0 1-1 2-3-3-2 2-3-1-3-1-4-3-1-2-3-4-3 0-5-2-2-1-3-3-2 0-3 1-4-2-5-1-5-3-4-4 0-2-1-3-4-4-3-3-3-3-2-2-2-4-3-1 1 3 2 3 2 4 3 5 1 2-1-1-3-3-1-3-4-3 0-1-2-3-2-4-1-1-3-3-2-1-2 0-3-4-1-3-2-2-2-3 1-3 0-4 0-4-1-5 3 1 1 2-1-4-4-2-5-2-1-3-4-4-3-2-4-4-4-3-5 0-5-2-7 0-5-2-6 2-5 2 2-4-6 5-5 2-4 3-6 2-6 1 5-2 6-3 3-3-5 0-5-3-5-1-1-2 1-3 8-3-4 0-6 0-4-2zM205 163l3-2 1-2 3-1 4-2 1 2 1-1 5 1 1 1 8 0 5 1 3 3 4 3 6 2 5 2 2 2 3 4 1 4 2 2 4 0 4 3 5 1 5 0 4 3 5 2 0 4-1 4-3 3-3 4-1 5-1 5-1 5-2 3-2 2-5 1-4 1-3 3-1 6-3 3-3 4-3 3-4 3-3 0-4-2 3 5-1 3-5 2-4 0-1 3-5 1 2 2-1 2-1 3-4 3-1 1 3 3-3 2-2 3-1 2 1 2 0 3 4 2-4 1-5-1-4-2-3-4-2-4 1-4-1-3 3-2 1-4 0-3-1-4 1-6 2-3 2-5 0-6 1-5 1-5 1-7-1-6-4-3-5-3-3-4-1-4-3-5-2-3-3-4 1-4 0-3 1-3 0-3 2-2 2-3 1-3 0-3-1-2 1-2zM348 108l-2 4-5 3-1 5-3 4-3 2-4 4-3 5-1 3 1 3 0 6-2 4 1 2 1 3 3 2 2 2 2 3 3 3 4 3 4 2 5-1 4 0 4 0 4-2 4-1 3 0 2 3 1 1 2 0 3 0 2 2 1 3-1 2 0 3 1 4 3 4 2 3 1 6 1 5-2 4-1 6 0 2 3 7 2 4 1 7 1 1 2 3 2 4 1 4 1 3 3 2 5-2 6 0 3-1 3-3 4-3 2-3 2-4 1-3 4-2 1-2 0-3-1-4 3-2 3-3 4-3 1-4 0-6-2-5 0-3-1-5 2-3 3-3 3-3 3-3 4-3 3-4 3-6 3-5 0-3-4 1-3 1-5 1-3-2 0-1-2-2-2-2-3-3-2-2-1-4-3-5 0-3-3-1-1-4-2-3-2-4-1-3 0-3-3 0-2 0-4 1-6-2-4-1-4-1-2 2 0 2-2 1-4-1-3-1-1-2-4-1-4 0-2-2 2-2 0-3-2-1-4 0-4 0-6 0-4 1-4 2-3 1-3 0-3-2-1 0zM349 108l-2-2-2 0-3 0 0-3-1-2 2-4-2-3 3-1 8 0 5 0 1-5-3-2-4-3 6 0 0-2 3 0 3-3 3-1 3-2 1-2 7 0 0-4-1-3 5-1 0 3 1 3 2 1 4 0 9-1 5-1 0-4 6 0-1-4 9-1 4-1-3-1-12 1-2-3 0-3 7-4-6-2-1 3-5 2-3 4 3 3-5 5-1 3-6 1-1-2-3-5-1-1-5 3-5-2-1-4 0-3 10-3 5-4 5-5 6-2 10-2 10-1 6 2 4 1 16 3-2 4-10 3 5 1 5-1 8-3 0-5 4 2 14-2 10 0 4-3 12 2 5 1-3-5 4-4 7 1-1 3 1 5 5-8 6 0 4-2 12-1 2-2 18-2 8-2 9-1 5 1 12 2 1 5 13 1 12-1 8 5 10-1 10-2 12 0 8 2 10 1 8 1 4 2 10 0 8-1 12 1 8 1 0 8-3 1-3 4-6 2-8 3-8-1-5 1-3 4 2 4-2 3-4 3-4 2-3 2-2-8 1-5 4-2 4-4 6-3-6 1-10 4-8 0-8 0-8 0-6 4-6 7 5 0 3 2-1 6 0 3-5 4-5 6-7 1-3 1-1 1-2 3-3 1 0 2 3 2 1 4-1 2-5 1 0-3 0-3-2 0-1-2 1-2-2-1-4 1-2 1-1-1 3-2-3-1-3 2-3 2-1 1 3 2 1 1 2-2 4 1-4 3-2 2 3 5 2 3 0 4-3 3-2 4-5 4-6 2-6 2-2 2-2-2-5 2-1 3 1 4 5 3 1 7-5 3-4 4 0-3-2-1-3-3-3-2-2-1-2 7 2 3 1 3 2 0 4 4 0 5 1 2-1 0-4-3-2-5-4-5 0-5 0-6-2-6-3 0-3 1 0-6-3-2-2-3-3-2-4 2-3 1-4 3-5 6-5 6 0 6-5 5-3-4-2-6-4-8 0-4-1-5-5 1-2-3-1-2-2-1-2-3-5 0-5 1-8-2-2-2-5 0-5-2-3-4-4 0 1 3 3 4 3 1 0 4 5 0 4-4 1 3 4 2 3 2-3 4-3 3-4 4-6 3-6 2-8 3-3 1-1-4-1-4-3-6-4-4-1-5-3-4-4-4 0-3-1 3-4-4 0-2 4-1 1-3 2-4 0-2-3-2-4 2-4-1-5 0-1-2-2-2-1-2 0-2-4-1-3 1 1 3 2 2-2 3-3-1-1-3-2-2-1-5-2-1-5-2-3-3-2-1-2 0 0 3 3 3 4 2 5 3-3 2-1 2-2 0 1-4-4-2-4-1-3-3-3-3-4 2-5 0-3 1 0 2-4 2-3 3 1 2-2 2-2 2-5 0-2 1zM0 42l6 1 6 3 6 1 3 1-3 1-4 2-6-1-5-1-3 1zM312 49l4-2 8 1 6-1 3 3-2 1-5 1-4 1-7-1 1-1zM241 85l2-3 2-3 4-2-1 3 5 1 2 4-3 2-4-1-3-1zM113 83l-4-1-6-3 3-1 5 3zM190 136l6-2 4 0 5 2 7 4-7 0-3-3-4-1-6 0zM211 143l3-3 8 1 1 2-5 1-7 0zM203 143l5 1-2 1zM225 143l4 0-1 1-2 0zM349 80l5-1 9-1 0-3-3-2-3-2 0-2-1-4-3-2-3 0-2 4 1 2 5 1-1 2 1 1-3 0 1 3-2 1 4 0zM348 76l0-4 1-1-4-2-2 2-3 1 1 2-2 2 5 1zM385 104l2 0 4-1-1 4-1-1zM377 102l-1-4 2 0 2 1-1 3zM377 97l0-2 2-1 0 2zM407 109l6 0-1 1-4 0zM425 110l1-1 3 0-1 1-2 1zM644 87l-1-4 1-6 1-5 2 1-1 5 3 4-3 3-1 2zM640 97l0-4 3-4 3 2 5 2-4 3-5-1zM622 112l3-3 6 0 3-4 5-2 1-3 1-3 2 2 1 3-2 2 0 4-2 2-2 1-4 0-4 2-6-1zM619 113l3-1 2 3-2 3-2-1-1-3zM625 112l4 0 0 1-3 1zM600 134l3-4 1 1-2 5-2-1zM577 142l4-2 1 1-3 3zM520 164l1-4 3 5-1 3-3 0zM600 143l4 0 0 5 4 5-5-1-2-1-1-3zM604 165l4-2 5-2-1 6-1 2-3-2-4-1zM604 156l7-1 0 5-4 1-2-1-1-3zM594 163l5-6 0 2-4 5zM551 169l4 1 6 6 6 3 2 5 3 2 0 6-3 0-4-4-3-4-4-4-1-4-4-4zM571 194l1-2 5 1 5 0 3 1 4 2 0 1-7-1-6 0-5-2zM578 177l1 5 1 4 3 0 6 2 4-1 0-3 2-6 3 0-2-2 2-7-2-1-2-2-3 4-3 1-2 3-3 1-4 1zM599 191l2 0 0-5 2 3 3 1 0-2-3-4 3-2 1 0-5 1-1-2 0-2 1-1 8-1 0 1-3 1-6 1-1 0-2 5zM622 182l3-1 3 1 3 5 5-4 6 2 7 3 3 3 3 1 1 4 4 4 2 1-6-1-3-2-5-3-1 3-5 0-4-2-2 1-1-5-5-3-3-1-1 0-2-2 3-1-4-2zM657 191l4-1 3-2-1 3-3 1zM615 176l2 2-1 4-1-3zM616 186l6 1-2-1zM608 201l2-3 5-1-2 1-4 2zM592 197l6 0 7-1 1 1-8 1-6 0zM587 224l1 9 2 7 0 7 2 3 4 0 7-2 5-2 4-1 6-2 4 0 6 2 3 5 4-4 0 5 2 0 2 2 2 3 6 2 6 0 3-2 4-1 1-4 2-4 3-5 1-5-1-6-4-4-3-2-5-7-3-6 0-2-4-2-1-6-1-1-2 5 0 6-2 3-3-1-4-2-3-2 2-5 1-1-3 0-5-1-2-1-2 2-2 2-1 4-3 0-3-2-3 2-3 3-3 3-1 3-5 2-5 0-4 3zM649 261l8 1-1 4-2 1-3-2-2-3zM705 249l4 4 3 2 5 0-3 4-1 2-3 2-1-3-1-2 1-2-3-6zM705 261l3 2-1 3-5 3-4 4-5-1 3-4 7-4zM459 204l2 5 0 2-2 4-2 7-2 8-5 1-2-4-1-4 2-5-1-5 4-2 2-2 2-2zM464 37l4-4 5-3 7-2 8-2 9 0-5 2-10 3-6 3-3 3 2 2-5 0zM186 50l8 0 3 3-9 0z" fill="none" stroke="#1a1a1a" stroke-width="0.6" vector-effect="non-scaling-stroke"/>
<path d="M0 341l20 0 20 0 10-4 10-3 10-3 10-1 10-1 10 0 10-1 10-1 10 1 10 1 10 0 10-2 10-1 10 0 10 1 10-1 8-2 8-3 8-5 6-4 5-3 2 3-3 5-2 6 2 7 6 7 10 3 20 1 14-4 10-2 10-3 8-3 12-3 12-3 12-1 12-2 12 0 12 0 12 0 12 0 12-1 10-1 10 0 10-2 10-2 10-1 10 2 10 0 10 2 4 3 8-1 8-3 10-2 10-1 10-1 10 0 10 0 10 0 10 2 10 0 10-1 10-1 10 0 10 1 10 2 10 2 10 1 10 2 8 2 6 1 6 1-2 3-6 3-4 2-1 3 5 2 8 2 10 1 10 1" fill="none" stroke="#444" stroke-width="0.55" vector-effect="non-scaling-stroke"/>
</g></g>
<rect x="231.3" y="345.3" width="127.1" height="63.2" fill="none" stroke="#ababab" stroke-width="0.6"/>
<ellipse cx="262.3" cy="356.9" rx="12.67" ry="8.17" fill="none" stroke="#1d58a5" stroke-width="1.35"/>
<text x="229.4" y="346.5" class="ax" text-anchor="end">90°N</text>
<text x="229.4" y="357.0" class="ax" text-anchor="end">60°N</text>
<text x="229.4" y="367.6" class="ax" text-anchor="end">30°N</text>
<text x="229.4" y="378.1" class="ax" text-anchor="end">0°</text>
<text x="229.4" y="388.6" class="ax" text-anchor="end">30°S</text>
<text x="229.4" y="399.2" class="ax" text-anchor="end">60°S</text>
<text x="229.4" y="409.7" class="ax" text-anchor="end">90°S</text>
<path d="M230.0 345.30h1.3M230.0 355.83h1.3M230.0 366.37h1.3M230.0 376.90h1.3M230.0 387.43h1.3M230.0 397.97h1.3M230.0 408.50h1.3M231.30 408.5v1.2M252.48 408.5v1.2M273.67 408.5v1.2M294.85 408.5v1.2M316.03 408.5v1.2M337.22 408.5v1.2M358.40 408.5v1.2" stroke="#666" stroke-width="0.4" fill="none"/>
<text x="231.3" y="413.6" class="ax" text-anchor="middle">180°</text>
<text x="252.5" y="413.6" class="ax" text-anchor="middle">120°W</text>
<text x="273.7" y="413.6" class="ax" text-anchor="middle">60°W</text>
<text x="294.9" y="413.6" class="ax" text-anchor="middle">0°W</text>
<text x="316.0" y="413.6" class="ax" text-anchor="middle">60°E</text>
<text x="337.2" y="413.6" class="ax" text-anchor="middle">120°E</text>
<text x="358.4" y="413.6" class="ax" text-anchor="middle">180°</text>
<rect x="219.10" y="414.60" width="19.19" height="3.6" fill="#3565d5"/>
<rect x="238.04" y="414.60" width="19.19" height="3.6" fill="#5b88e6"/>
<rect x="256.98" y="414.60" width="19.19" height="3.6" fill="#8fafef"/>
<rect x="275.91" y="414.60" width="19.19" height="3.6" fill="#c5d3f2"/>
<rect x="294.85" y="414.60" width="19.19" height="3.6" fill="#f8d8ce"/>
<rect x="313.79" y="414.60" width="19.19" height="3.6" fill="#f5b09a"/>
<rect x="332.72" y="414.60" width="19.19" height="3.6" fill="#f07a60"/>
<rect x="351.66" y="414.60" width="19.19" height="3.6" fill="#e33a2a"/>
<path d="M219.30 414.60L211.53 416.40L219.30 418.20Z" fill="#1838b8"/>
<path d="M370.40 414.60L378.17 416.40L370.40 418.20Z" fill="#c40c12"/>
<path d="M219.10 414.60H370.60L378.17 416.40L370.60 418.20H219.10L211.53 416.40Z" fill="none" stroke="#555" stroke-width="0.3"/>
<text x="219.1" y="423.30" class="cb" text-anchor="middle">-0.04</text>
<text x="238.0" y="423.30" class="cb" text-anchor="middle">-0.03</text>
<text x="257.0" y="423.30" class="cb" text-anchor="middle">-0.02</text>
<text x="275.9" y="423.30" class="cb" text-anchor="middle">-0.01</text>
<text x="294.9" y="423.30" class="cb" text-anchor="middle">0.00</text>
<text x="313.8" y="423.30" class="cb" text-anchor="middle">0.01</text>
<text x="332.7" y="423.30" class="cb" text-anchor="middle">0.02</text>
<text x="351.7" y="423.30" class="cb" text-anchor="middle">0.03</text>
<text x="370.6" y="423.30" class="cb" text-anchor="middle">0.04</text>
<clipPath id="fp24"><rect x="398.5" y="344.8" width="128.1" height="63.2"/></clipPath>
<g clip-path="url(#fp24)"><g transform="translate(398.5 344.80) scale(0.177917 0.175556)">
<rect width="720" height="360" fill="#183388" clip-path="url(#land)"/>
<g clip-path="url(#land)">
<path d="M222 104l-19-6-8-5-11-11-19 4-12 8-7 10 6 11 17 3 15 6 21 1 12-10z" fill="#0f2468"/>
<path d="M156 100l-7-6-5-5-8-6-11 1-1 11-9 5 9 6 4 5 8 1 9 0 10-3z" fill="#234ea0"/>
<path d="M431 176l-1-10-13-5-13-9-15 7-17 5-5 12 20 6 7 5 10 10 10-10 18-1z" fill="#0f2468"/>
<path d="M419 80l0-8-9-9-20 0-22-2-14 8-6 11 2 11 25 2 15 5 18-2 19-5z" fill="#1d3490"/>
<path d="M431 230l-10-8-10-2-7-3-8 2-13 1 0 10-1 10 11 5 11-1 8-3 4-6z" fill="#234ea0"/>
<path d="M661 232l-10-7-12-4-11-9-16 4-8 8 0 8-6 10 9 11 21-4 11-6 13-3z" fill="#1d3490"/>
<path d="M77 52l-3-7-14-2-10-8-12 7-11 3 1 7-1 7 4 9 19-4 15 1 2-8z" fill="#2596c1"/>
<path d="M191 70l2-4-21-3-22-2-23 2-27 2-15 5 15 5 16 6 34-2 33 1 16-5z" fill="#2168ad"/>
<path d="M186 52l15-7-35-1-22 0-36-5-25 5 8 8 21 4 6 6 26 1 21-3 39-1z" fill="#2596c1"/>
<path d="M200 48l-17-3-4-4-19-1-27-1-1 6-3 3-8 4 16 4 23 1 24-1 17-3z" fill="#44b4c4"/>
<path d="M187 46l-2-2-9-1-6-1-6 1-5 1-5 2 1 2 9 0 6 2 7-1 5-1z" fill="#c6e7b4"/>
<path d="M426 134l-4-5-11-6-31-3-35 1-7 8-14 5 17 5 14 4 25 2 29 0 19-5z" fill="#44b4c4"/>
<path d="M471 134l-7-5-4-6-8 2-12-7-2 10-3 6 4 6 4 7 9-1 8-1 10-3z" fill="#44b4c4"/>
<path d="M523 86l7-6-19-4-21 3-21-3-2 6-3 4-14 6 26 1 14 5 18-3 21-3z" fill="#2168ad"/>
<path d="M604 98l-29-4-7-4-18-1-24-2-11 6-5 5-4 6 24 3 20-2 14-1 19-1z" fill="#2596c1"/>
<path d="M557 114l0-3-6-4-15 0-12 2-11 2 7 3-2 3 7 2 11 1 12-1 15-1z" fill="#2168ad"/>
<path d="M583 144l-1-6-1-9-11-4-9 6-5 6-1 7-1 7 8 5 8 0 7-2 16 1z" fill="#2596c1"/>
<path d="M687 44l23-8-61-4-69-3-76 2-29 7-18 6-15 8 85 1 53 6 51-6 77-2z" fill="#234ea0"/>
<path d="M644 230l-3-5-5-5-10-3-12 2-9 4 1 7 9 4-1 7 12-2 11 2 0-7z" fill="#234ea0"/>
<path d="M291 204l-2-10-7-5-6-7-5 10-4 5-6 7 4 9 5 6 6 5 8-2 2-10z" fill="#2168ad"/>
<path d="M235 270l0-10-7-1-4-2-4 2-6 2 1 9-1 9 5 5 5 3 4-5 3-6z" fill="#2168ad"/>
<path d="M604 56l6-4-17-5-53 1-53-1-8 5-36 4 18 5 30 4 49-3 36 0 16-3z" fill="#2596c1"/>
<path d="M486 48l-2-2-6-2-8 0-13-2-3 4-3 2 5 2 1 4 13 1 11-2 13-1z" fill="#44b4c4"/>
<path d="M697 50l-5-4-10-3-12-4-11 5-19 0 1 6 0 6 9 5 20 2 19-2 2-7z" fill="#44b4c4"/>
<path d="M557 104l0-3-5-4-12-3-15 2 1 5-6 3 6 3-1 6 15 1 11-4 14-1z" fill="#44b4c4"/>
<path d="M562 104l-9-2-3-2-6 0-9-1 1 3-5 2 5 2-1 3 9 1 7-2 9-1z" fill="#c6e7b4"/>
<path d="M387 134l7-4-12-2-12-3-14 2-5 4-12 3 11 3 8 3 12 0 14 1 14-2z" fill="#c6e7b4"/>
<path d="M424 136l-4-2-4-2-6-1-6 1-1 2-1 2-5 3 9 0 4 0 6 1 7-1z" fill="#eef8c2"/>
<path d="M572 144l-2-3-3-3-3-2-4 1-2 3-2 4 1 4 1 6 6 0 6 0 5-4z" fill="#44b4c4"/>
<path d="M418 146h0M400 150h0M378 143h0M389 136h0M377 151h0M427 125h0M337 111h0" stroke="#c6e7b4" stroke-width="12.0" stroke-linecap="round"/>
<path d="M406 120h0M428 140h0M355 121h0M403 135h0M361 122h0M430 148h0" stroke="#eef8c2" stroke-width="12.0" stroke-linecap="round"/>
<path d="M383 112h0M337 125h0M354 146h0M335 140h0M332 113h0M354 125h0" stroke="#234ea0" stroke-width="12.0" stroke-linecap="round"/>
<path d="M381 110h0" stroke="#44b4c4" stroke-width="12.0" stroke-linecap="round"/>
<path d="M401 112h0M349 141h0" stroke="#44b4c4" stroke-width="9.0" stroke-linecap="round"/>
<path d="M412 125h0M335 148h0M346 139h0M357 116h0" stroke="#c6e7b4" stroke-width="9.0" stroke-linecap="round"/>
<path d="M422 143h0M359 141h0" stroke="#eef8c2" stroke-width="9.0" stroke-linecap="round"/>
<path d="M426 113h0" stroke="#234ea0" stroke-width="6.0" stroke-linecap="round"/>
<path d="M396 114h0M341 132h0M335 131h0" stroke="#234ea0" stroke-width="9.0" stroke-linecap="round"/>
<path d="M69 40h0" stroke="#86cfbb" stroke-width="6.0" stroke-linecap="round"/>
<path d="M23 36h0" stroke="#86cfbb" stroke-width="9.0" stroke-linecap="round"/>
<path d="M26 39h0M60 54h0M95 42h0M228 34h0M40 69h0M124 64h0" stroke="#44b4c4" stroke-width="12.0" stroke-linecap="round"/>
<path d="M73 63h0M211 49h0M38 39h0M83 36h0" stroke="#eef8c2" stroke-width="9.0" stroke-linecap="round"/>
<path d="M221 36h0M44 52h0M108 44h0M63 48h0M122 41h0M154 57h0M72 68h0" stroke="#86cfbb" stroke-width="12.0" stroke-linecap="round"/>
<path d="M43 46h0M145 65h0M90 37h0M193 39h0" stroke="#c6e7b4" stroke-width="12.0" stroke-linecap="round"/>
<path d="M92 46h0M71 48h0M181 34h0M39 52h0" stroke="#eef8c2" stroke-width="12.0" stroke-linecap="round"/>
<path d="M60 57h0M163 68h0M209 60h0" stroke="#44b4c4" stroke-width="9.0" stroke-linecap="round"/>
<path d="M78 64h0M138 65h0M194 34h0M216 31h0" stroke="#c6e7b4" stroke-width="9.0" stroke-linecap="round"/>
<path d="M92 45h0M213 53h0" stroke="#44b4c4" stroke-width="6.0" stroke-linecap="round"/>
<path d="M569 98h0M556 109h0M514 119h0M473 126h0M517 117h0" stroke="#eef8c2" stroke-width="12.0" stroke-linecap="round"/>
<path d="M450 107h0M523 103h0M520 93h0M516 110h0M523 109h0M458 112h0M598 95h0M461 110h0" stroke="#234ea0" stroke-width="12.0" stroke-linecap="round"/>
<path d="M599 99h0M454 94h0M466 114h0M450 124h0M591 107h0M460 112h0M582 87h0M489 102h0M517 79h0M461 81h0M561 90h0" stroke="#c6e7b4" stroke-width="12.0" stroke-linecap="round"/>
<path d="M524 113h0M519 123h0" stroke="#44b4c4" stroke-width="6.0" stroke-linecap="round"/>
<path d="M491 82h0M571 102h0M513 94h0M510 81h0M553 120h0M566 109h0" stroke="#1d3490" stroke-width="12.0" stroke-linecap="round"/>
<path d="M480 125h0M450 126h0M594 107h0" stroke="#eef8c2" stroke-width="9.0" stroke-linecap="round"/>
<path d="M453 97h0M480 119h0M480 87h0" stroke="#c6e7b4" stroke-width="9.0" stroke-linecap="round"/>
<path d="M462 100h0M452 94h0M473 124h0" stroke="#1d3490" stroke-width="9.0" stroke-linecap="round"/>
<path d="M451 97h0M476 103h0M530 78h0M499 91h0" stroke="#44b4c4" stroke-width="9.0" stroke-linecap="round"/>
<path d="M564 110h0" stroke="#44b4c4" stroke-width="12.0" stroke-linecap="round"/>
<path d="M454 114h0M472 81h0" stroke="#234ea0" stroke-width="9.0" stroke-linecap="round"/>
<path d="M638 54h0M488 32h0M550 35h0M570 81h0M606 45h0M537 20h0" stroke="#2596c1" stroke-width="9.0" stroke-linecap="round"/>
<path d="M671 79h0M690 69h0M505 45h0M561 48h0M502 23h0M473 62h0" stroke="#1d3490" stroke-width="9.0" stroke-linecap="round"/>
<path d="M509 50h0M713 30h0M504 61h0M597 44h0M692 55h0M545 52h0M574 89h0M453 36h0" stroke="#2596c1" stroke-width="12.0" stroke-linecap="round"/>
<path d="M658 62h0M629 72h0M642 53h0" stroke="#c6e7b4" stroke-width="12.0" stroke-linecap="round"/>
<path d="M677 27h0M612 83h0M713 34h0M541 78h0M543 71h0M691 26h0M535 72h0" stroke="#44b4c4" stroke-width="12.0" stroke-linecap="round"/>
<path d="M654 40h0M442 50h0" stroke="#c6e7b4" stroke-width="9.0" stroke-linecap="round"/>
<path d="M547 20h0M508 54h0M527 41h0M704 23h0" stroke="#1d3490" stroke-width="12.0" stroke-linecap="round"/>
<path d="M206 76h0M568 98h0M239 83h0M415 67h0M190 78h0M130 99h0M395 47h0M575 102h0" stroke="#2596c1" stroke-width="12.0" stroke-linecap="round"/>
<path d="M142 91h0M404 42h0M431 64h0" stroke="#2596c1" stroke-width="9.0" stroke-linecap="round"/>
<path d="M149 88h0M607 130h0M410 53h0M568 122h0M148 67h0" stroke="#1d3490" stroke-width="9.0" stroke-linecap="round"/>
<path d="M119 85h0M122 108h0M386 48h0M438 73h0M149 107h0" stroke="#44b4c4" stroke-width="12.0" stroke-linecap="round"/>
<path d="M347 77h0M357 51h0M146 100h0M580 122h0M111 91h0" stroke="#1d3490" stroke-width="12.0" stroke-linecap="round"/>
<path d="M572 98h0" stroke="#1d3490" stroke-width="6.0" stroke-linecap="round"/>
<path d="M119 100h0" stroke="#44b4c4" stroke-width="9.0" stroke-linecap="round"/>
<path d="M587 228h0M268 175h0M407 222h0M438 195h0M661 204h0M235 190h0" stroke="#2596c1" stroke-width="12.0" stroke-linecap="round"/>
<path d="M665 242h0" stroke="#2596c1" stroke-width="6.0" stroke-linecap="round"/>
<path d="M402 223h0M593 249h0M443 182h0M269 229h0" stroke="#2168ad" stroke-width="9.0" stroke-linecap="round"/>
<path d="M275 223h0M628 232h0M406 184h0M404 199h0M424 204h0M235 198h0" stroke="#0f2468" stroke-width="9.0" stroke-linecap="round"/>
<path d="M649 213h0M617 241h0M283 229h0M267 192h0" stroke="#0f2468" stroke-width="12.0" stroke-linecap="round"/>
<path d="M442 245h0M258 169h0M266 210h0M289 202h0M603 254h0M290 207h0" stroke="#2596c1" stroke-width="9.0" stroke-linecap="round"/>
<path d="M290 196h0" stroke="#2168ad" stroke-width="12.0" stroke-linecap="round"/>
</g>
<path d="M214 24l6-3 8-3 12-2 16-1 14-1 14-1 20 0 12 2 8 1 12 1-6 3-8 2 1 3-3 3 2 3-6 4 0 4-5 2-5 2-8 1-8 4-7 1-4 2-3 4-2 4-3 1-5-2-4-2-3-3-2-3-4-3-1-3 5-2-3-3 2-1-5-1-2-3-3-3-4-3-8 0-8 0-4-2-5-1zM382 23l3-2 7-1 8-1 14 1-8 3-6 2-7 2-6-3zM454 19l10-2 16 0 8 1-12 2-16 0zM550 22l4-3 6-1 9 3-5 2-8 1zM632 29l6-1 4 0 10 1 9 1-9 1-10 2-6-1zM717 38l3-1 0 1zM0 37l5 1-5 0z" fill="#fff" stroke="#333" stroke-width="0.5" vector-effect="non-scaling-stroke"/>
<path d="M200 32l8 3 10 3 7 3 2 2 9 3-3 4-4 5-5 0-7-2-6-2-6 0-2-2 9-4-10-4-6-1-8 0-6-2-1-4 7-1 6 0zM123 37l7-4 14 0 7 1 7 5-8 3-10 1-8-1-7-1-3-3zM109 36l3-4 9 0 8 1-7 4-9 1zM201 27l9-2 3-2 7-1 10-3 7-3-17-2-20 0-20 2-10 2-4 3 8 2 8 2 8 2zM176 29l8-2 16 1-1 2-9 1-14-1zM170 33l9-1-2 4-7 0zM158 33l8 0 0 3-9 0zM128 30l8-3 12 1 0 2-8 1-14 0zM160 27l8 0 2 3-10 0zM162 42l6-1 0 2-6 0zM116 27l12-2-2 3z" fill="#fff" stroke="#1a1a1a" stroke-width="0.8" vector-effect="non-scaling-stroke"/>
<path d="M416 97l0-4 3-3 3-3 3 1 2 3 4-1 2-1 4-3 2 0-3 2-1 2 4 3 4 4-3 1-7-1-3-1-4 0-4 2-4 0zM454 92l1-3 4-2 4-1 3 0 0 3-3 2 0 3 2 2 1 3 2 2 0 4-6 2-4-2 1-6-2-3-2-2z" fill="#fff" stroke="#1a1a1a" stroke-width="0.6" vector-effect="non-scaling-stroke"/>
<path d="M24 49l3-6 7-3 13-3 9 1 10 1 12 2 10 1 8-1 8-1 8 1 8 1 10 1 10 1 8-1 10 1 6-1 4-2 3-4 4 2 5 3 4 1 5-2 6 0 2 4-7 1-3 2-2 3-6 2-7 5 0 4 3 4 9 1 6 2 5 1 1 5 3 2 3-1 1-5 3-4-1-4 0-4-1-4 9 0 6 3 2 4 4 1 3-2 3-2 5 6 3 4 6 3 4 4-3 1-6 3-8 0-5 0-5 3-4 3 5-3 5-1 3 0-1 2 1 4 5 0 4 0-3 2-4 1-4 2-1-2 3-2-3 1-2 0-4 2-2 1-1 2 1 1-3 1-3 1-2 1 0 1-2 2-1 1-1 3 1 3-2 2-3 1-2 2-4 2-1 3 2 4 1 4-1 3-1-1-2-2-1-3 0-2-3-2-3 1-2-2-4 0-2 1 1 2-3 0-3-1-4 0-2 1-4 2-1 4 0 4-1 3 1 3 2 3 3 2 1 1 4-1 3-1 1-2 0-2 4-1 3 0-1 4-2 2 1 4-2 1 6 0 3 0 2 2 0 5 0 3 2 3 2 1 3-1 2 0 3 2 0 1-1 2-3-3-2 2-3-1-3-1-4-3-1-2-3-4-3 0-5-2-2-1-3-3-2 0-3 1-4-2-5-1-5-3-4-4 0-2-1-3-4-4-3-3-3-3-2-2-2-4-3-1 1 3 2 3 2 4 3 5 1 2-1-1-3-3-1-3-4-3 0-1-2-3-2-4-1-1-3-3-2-1-2 0-3-4-1-3-2-2-2-3 1-3 0-4 0-4-1-5 3 1 1 2-1-4-4-2-5-2-1-3-4-4-3-2-4-4-4-3-5 0-5-2-7 0-5-2-6 2-5 2 2-4-6 5-5 2-4 3-6 2-6 1 5-2 6-3 3-3-5 0-5-3-5-1-1-2 1-3 8-3-4 0-6 0-4-2zM205 163l3-2 1-2 3-1 4-2 1 2 1-1 5 1 1 1 8 0 5 1 3 3 4 3 6 2 5 2 2 2 3 4 1 4 2 2 4 0 4 3 5 1 5 0 4 3 5 2 0 4-1 4-3 3-3 4-1 5-1 5-1 5-2 3-2 2-5 1-4 1-3 3-1 6-3 3-3 4-3 3-4 3-3 0-4-2 3 5-1 3-5 2-4 0-1 3-5 1 2 2-1 2-1 3-4 3-1 1 3 3-3 2-2 3-1 2 1 2 0 3 4 2-4 1-5-1-4-2-3-4-2-4 1-4-1-3 3-2 1-4 0-3-1-4 1-6 2-3 2-5 0-6 1-5 1-5 1-7-1-6-4-3-5-3-3-4-1-4-3-5-2-3-3-4 1-4 0-3 1-3 0-3 2-2 2-3 1-3 0-3-1-2 1-2zM348 108l-2 4-5 3-1 5-3 4-3 2-4 4-3 5-1 3 1 3 0 6-2 4 1 2 1 3 3 2 2 2 2 3 3 3 4 3 4 2 5-1 4 0 4 0 4-2 4-1 3 0 2 3 1 1 2 0 3 0 2 2 1 3-1 2 0 3 1 4 3 4 2 3 1 6 1 5-2 4-1 6 0 2 3 7 2 4 1 7 1 1 2 3 2 4 1 4 1 3 3 2 5-2 6 0 3-1 3-3 4-3 2-3 2-4 1-3 4-2 1-2 0-3-1-4 3-2 3-3 4-3 1-4 0-6-2-5 0-3-1-5 2-3 3-3 3-3 3-3 4-3 3-4 3-6 3-5 0-3-4 1-3 1-5 1-3-2 0-1-2-2-2-2-3-3-2-2-1-4-3-5 0-3-3-1-1-4-2-3-2-4-1-3 0-3-3 0-2 0-4 1-6-2-4-1-4-1-2 2 0 2-2 1-4-1-3-1-1-2-4-1-4 0-2-2 2-2 0-3-2-1-4 0-4 0-6 0-4 1-4 2-3 1-3 0-3-2-1 0zM349 108l-2-2-2 0-3 0 0-3-1-2 2-4-2-3 3-1 8 0 5 0 1-5-3-2-4-3 6 0 0-2 3 0 3-3 3-1 3-2 1-2 7 0 0-4-1-3 5-1 0 3 1 3 2 1 4 0 9-1 5-1 0-4 6 0-1-4 9-1 4-1-3-1-12 1-2-3 0-3 7-4-6-2-1 3-5 2-3 4 3 3-5 5-1 3-6 1-1-2-3-5-1-1-5 3-5-2-1-4 0-3 10-3 5-4 5-5 6-2 10-2 10-1 6 2 4 1 16 3-2 4-10 3 5 1 5-1 8-3 0-5 4 2 14-2 10 0 4-3 12 2 5 1-3-5 4-4 7 1-1 3 1 5 5-8 6 0 4-2 12-1 2-2 18-2 8-2 9-1 5 1 12 2 1 5 13 1 12-1 8 5 10-1 10-2 12 0 8 2 10 1 8 1 4 2 10 0 8-1 12 1 8 1 0 8-3 1-3 4-6 2-8 3-8-1-5 1-3 4 2 4-2 3-4 3-4 2-3 2-2-8 1-5 4-2 4-4 6-3-6 1-10 4-8 0-8 0-8 0-6 4-6 7 5 0 3 2-1 6 0 3-5 4-5 6-7 1-3 1-1 1-2 3-3 1 0 2 3 2 1 4-1 2-5 1 0-3 0-3-2 0-1-2 1-2-2-1-4 1-2 1-1-1 3-2-3-1-3 2-3 2-1 1 3 2 1 1 2-2 4 1-4 3-2 2 3 5 2 3 0 4-3 3-2 4-5 4-6 2-6 2-2 2-2-2-5 2-1 3 1 4 5 3 1 7-5 3-4 4 0-3-2-1-3-3-3-2-2-1-2 7 2 3 1 3 2 0 4 4 0 5 1 2-1 0-4-3-2-5-4-5 0-5 0-6-2-6-3 0-3 1 0-6-3-2-2-3-3-2-4 2-3 1-4 3-5 6-5 6 0 6-5 5-3-4-2-6-4-8 0-4-1-5-5 1-2-3-1-2-2-1-2-3-5 0-5 1-8-2-2-2-5 0-5-2-3-4-4 0 1 3 3 4 3 1 0 4 5 0 4-4 1 3 4 2 3 2-3 4-3 3-4 4-6 3-6 2-8 3-3 1-1-4-1-4-3-6-4-4-1-5-3-4-4-4 0-3-1 3-4-4 0-2 4-1 1-3 2-4 0-2-3-2-4 2-4-1-5 0-1-2-2-2-1-2 0-2-4-1-3 1 1 3 2 2-2 3-3-1-1-3-2-2-1-5-2-1-5-2-3-3-2-1-2 0 0 3 3 3 4 2 5 3-3 2-1 2-2 0 1-4-4-2-4-1-3-3-3-3-4 2-5 0-3 1 0 2-4 2-3 3 1 2-2 2-2 2-5 0-2 1zM0 42l6 1 6 3 6 1 3 1-3 1-4 2-6-1-5-1-3 1zM312 49l4-2 8 1 6-1 3 3-2 1-5 1-4 1-7-1 1-1zM241 85l2-3 2-3 4-2-1 3 5 1 2 4-3 2-4-1-3-1zM113 83l-4-1-6-3 3-1 5 3zM190 136l6-2 4 0 5 2 7 4-7 0-3-3-4-1-6 0zM211 143l3-3 8 1 1 2-5 1-7 0zM203 143l5 1-2 1zM225 143l4 0-1 1-2 0zM349 80l5-1 9-1 0-3-3-2-3-2 0-2-1-4-3-2-3 0-2 4 1 2 5 1-1 2 1 1-3 0 1 3-2 1 4 0zM348 76l0-4 1-1-4-2-2 2-3 1 1 2-2 2 5 1zM385 104l2 0 4-1-1 4-1-1zM377 102l-1-4 2 0 2 1-1 3zM377 97l0-2 2-1 0 2zM407 109l6 0-1 1-4 0zM425 110l1-1 3 0-1 1-2 1zM644 87l-1-4 1-6 1-5 2 1-1 5 3 4-3 3-1 2zM640 97l0-4 3-4 3 2 5 2-4 3-5-1zM622 112l3-3 6 0 3-4 5-2 1-3 1-3 2 2 1 3-2 2 0 4-2 2-2 1-4 0-4 2-6-1zM619 113l3-1 2 3-2 3-2-1-1-3zM625 112l4 0 0 1-3 1zM600 134l3-4 1 1-2 5-2-1zM577 142l4-2 1 1-3 3zM520 164l1-4 3 5-1 3-3 0zM600 143l4 0 0 5 4 5-5-1-2-1-1-3zM604 165l4-2 5-2-1 6-1 2-3-2-4-1zM604 156l7-1 0 5-4 1-2-1-1-3zM594 163l5-6 0 2-4 5zM551 169l4 1 6 6 6 3 2 5 3 2 0 6-3 0-4-4-3-4-4-4-1-4-4-4zM571 194l1-2 5 1 5 0 3 1 4 2 0 1-7-1-6 0-5-2zM578 177l1 5 1 4 3 0 6 2 4-1 0-3 2-6 3 0-2-2 2-7-2-1-2-2-3 4-3 1-2 3-3 1-4 1zM599 191l2 0 0-5 2 3 3 1 0-2-3-4 3-2 1 0-5 1-1-2 0-2 1-1 8-1 0 1-3 1-6 1-1 0-2 5zM622 182l3-1 3 1 3 5 5-4 6 2 7 3 3 3 3 1 1 4 4 4 2 1-6-1-3-2-5-3-1 3-5 0-4-2-2 1-1-5-5-3-3-1-1 0-2-2 3-1-4-2zM657 191l4-1 3-2-1 3-3 1zM615 176l2 2-1 4-1-3zM616 186l6 1-2-1zM608 201l2-3 5-1-2 1-4 2zM592 197l6 0 7-1 1 1-8 1-6 0zM587 224l1 9 2 7 0 7 2 3 4 0 7-2 5-2 4-1 6-2 4 0 6 2 3 5 4-4 0 5 2 0 2 2 2 3 6 2 6 0 3-2 4-1 1-4 2-4 3-5 1-5-1-6-4-4-3-2-5-7-3-6 0-2-4-2-1-6-1-1-2 5 0 6-2 3-3-1-4-2-3-2 2-5 1-1-3 0-5-1-2-1-2 2-2 2-1 4-3 0-3-2-3 2-3 3-3 3-1 3-5 2-5 0-4 3zM649 261l8 1-1 4-2 1-3-2-2-3zM705 249l4 4 3 2 5 0-3 4-1 2-3 2-1-3-1-2 1-2-3-6zM705 261l3 2-1 3-5 3-4 4-5-1 3-4 7-4zM459 204l2 5 0 2-2 4-2 7-2 8-5 1-2-4-1-4 2-5-1-5 4-2 2-2 2-2zM464 37l4-4 5-3 7-2 8-2 9 0-5 2-10 3-6 3-3 3 2 2-5 0zM186 50l8 0 3 3-9 0z" fill="none" stroke="#1a1a1a" stroke-width="0.6" vector-effect="non-scaling-stroke"/>
<path d="M0 341l20 0 20 0 10-4 10-3 10-3 10-1 10-1 10 0 10-1 10-1 10 1 10 1 10 0 10-2 10-1 10 0 10 1 10-1 8-2 8-3 8-5 6-4 5-3 2 3-3 5-2 6 2 7 6 7 10 3 20 1 14-4 10-2 10-3 8-3 12-3 12-3 12-1 12-2 12 0 12 0 12 0 12 0 12-1 10-1 10 0 10-2 10-2 10-1 10 2 10 0 10 2 4 3 8-1 8-3 10-2 10-1 10-1 10 0 10 0 10 0 10 2 10 0 10-1 10-1 10 0 10 1 10 2 10 2 10 1 10 2 8 2 6 1 6 1-2 3-6 3-4 2-1 3 5 2 8 2 10 1 10 1" fill="none" stroke="#444" stroke-width="0.55" vector-effect="non-scaling-stroke"/>
</g></g>
<rect x="398.5" y="344.8" width="128.1" height="63.2" fill="none" stroke="#ababab" stroke-width="0.6"/>
<ellipse cx="430.5" cy="359.3" rx="12.95" ry="8.40" fill="none" stroke="#ee7a22" stroke-width="1.3"/>
<text x="396.6" y="346.0" class="ax" text-anchor="end">90°N</text>
<text x="396.6" y="356.5" class="ax" text-anchor="end">60°N</text>
<text x="396.6" y="367.1" class="ax" text-anchor="end">30°N</text>
<text x="396.6" y="377.6" class="ax" text-anchor="end">0°</text>
<text x="396.6" y="388.1" class="ax" text-anchor="end">30°S</text>
<text x="396.6" y="398.7" class="ax" text-anchor="end">60°S</text>
<text x="396.6" y="409.2" class="ax" text-anchor="end">90°S</text>
<path d="M397.2 344.80h1.3M397.2 355.33h1.3M397.2 365.87h1.3M397.2 376.40h1.3M397.2 386.93h1.3M397.2 397.47h1.3M397.2 408.00h1.3M398.50 408.0v1.2M419.85 408.0v1.2M441.20 408.0v1.2M462.55 408.0v1.2M483.90 408.0v1.2M505.25 408.0v1.2M526.60 408.0v1.2" stroke="#666" stroke-width="0.4" fill="none"/>
<text x="398.5" y="413.1" class="ax" text-anchor="middle">180°</text>
<text x="419.9" y="413.1" class="ax" text-anchor="middle">120°W</text>
<text x="441.2" y="413.1" class="ax" text-anchor="middle">60°W</text>
<text x="462.6" y="413.1" class="ax" text-anchor="middle">0°W</text>
<text x="483.9" y="413.1" class="ax" text-anchor="middle">60°E</text>
<text x="505.2" y="413.1" class="ax" text-anchor="middle">120°E</text>
<text x="526.6" y="413.1" class="ax" text-anchor="middle">180°</text>
<rect x="386.30" y="414.10" width="15.50" height="3.6" fill="#f4fbc6"/>
<rect x="401.55" y="414.10" width="15.50" height="3.6" fill="#e4f4b4"/>
<rect x="416.80" y="414.10" width="15.50" height="3.6" fill="#c4e7b4"/>
<rect x="432.05" y="414.10" width="15.50" height="3.6" fill="#8fd3ba"/>
<rect x="447.30" y="414.10" width="15.50" height="3.6" fill="#5abfc0"/>
<rect x="462.55" y="414.10" width="15.50" height="3.6" fill="#2fa5c2"/>
<rect x="477.80" y="414.10" width="15.50" height="3.6" fill="#1f84b8"/>
<rect x="493.05" y="414.10" width="15.50" height="3.6" fill="#225ea8"/>
<rect x="508.30" y="414.10" width="15.50" height="3.6" fill="#243d98"/>
<rect x="523.55" y="414.10" width="15.50" height="3.6" fill="#13266e"/>
<path d="M386.50 414.10L378.68 415.90L386.50 417.70Z" fill="#ffffd9"/>
<path d="M538.60 414.10L546.43 415.90L538.60 417.70Z" fill="#081d58"/>
<path d="M386.30 414.10H538.80L546.43 415.90L538.80 417.70H386.30L378.68 415.90Z" fill="none" stroke="#555" stroke-width="0.3"/>
<text x="386.3" y="422.80" class="cb" text-anchor="middle">0.0</text>
<text x="401.6" y="422.80" class="cb" text-anchor="middle">0.1</text>
<text x="416.8" y="422.80" class="cb" text-anchor="middle">0.2</text>
<text x="432.1" y="422.80" class="cb" text-anchor="middle">0.3</text>
<text x="447.3" y="422.80" class="cb" text-anchor="middle">0.4</text>
<text x="462.6" y="422.80" class="cb" text-anchor="middle">0.5</text>
<text x="477.8" y="422.80" class="cb" text-anchor="middle">0.6</text>
<text x="493.1" y="422.80" class="cb" text-anchor="middle">0.7</text>
<text x="508.3" y="422.80" class="cb" text-anchor="middle">0.8</text>
<text x="523.6" y="422.80" class="cb" text-anchor="middle">0.9</text>
<text x="538.8" y="422.80" class="cb" text-anchor="middle">1.0</text>
<text x="110.73" y="9.75" class="tt">RMSE</text>
<text x="279.34" y="9.05" class="tt">BIAS</text>
<text x="456.70" y="10.00" class="tt">R</text>
<text x="463.1" y="7.3" class="tt" style="font-size:5.8px">2</text>
<text x="21.52" y="48.17" class="rl">LSTM</text>
<text x="5.74" y="131.37" class="rl">REDFLSTM</text>
<text x="11.84" y="214.72" class="rl">FAMLSTM</text>
<text x="15.60" y="297.82" class="rl">EDLSTM</text>
<text x="2.36" y="378.97" class="rl">GANBiLSTM</text>
<text x="35.49" y="76.54" class="pl">(a)</text>
<text x="202.55" y="72.34" class="pl">(b)</text>
<text x="366.99" y="72.44" class="pl">(c)</text>
<text x="35.80" y="158.84" class="pl">(d)</text>
<text x="201.89" y="157.39" class="pl">(e)</text>
<text x="368.11" y="155.40" class="pl">(f)</text>
<text x="37.90" y="239.17" class="pl">(g)</text>
<text x="202.10" y="238.84" class="pl">(h)</text>
<text x="367.94" y="236.94" class="pl">(i)</text>
<text x="35.74" y="322.89" class="pl">(j)</text>
<text x="201.20" y="322.24" class="pl">(k)</text>
<text x="367.39" y="322.24" class="pl">(l)</text>
<text x="37.94" y="404.74" class="pl">(m)</text>
<text x="203.00" y="404.74" class="pl">(n)</text>
<text x="370.00" y="405.14" class="pl">(o)</text>
</svg></body></html>
